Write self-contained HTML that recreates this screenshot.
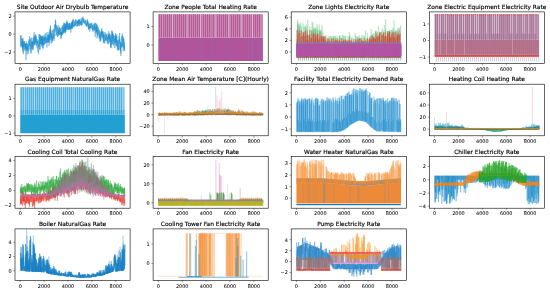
<!DOCTYPE html><html><head><meta charset="utf-8"><style>html,body{margin:0;padding:0;background:#fff}svg{display:block}text{font-family:"DejaVu Sans","Liberation Sans",sans-serif;fill:#000;stroke:#000;stroke-width:0.15px;text-rendering:geometricPrecision}.k text{stroke-width:0.06px}</style></head><body>
<svg xmlns="http://www.w3.org/2000/svg" width="550" height="294" viewBox="0 0 550 294">
<rect width="550" height="294" fill="#fff"/>
<defs><clipPath id="c0"><rect x="15" y="11.9" width="115.1" height="51.6"/></clipPath><clipPath id="c1"><rect x="153.1" y="11.9" width="115.1" height="51.6"/></clipPath><clipPath id="c2"><rect x="291.2" y="11.9" width="115.1" height="51.6"/></clipPath><clipPath id="c3"><rect x="429.3" y="11.9" width="115.1" height="51.6"/></clipPath><clipPath id="c4"><rect x="15" y="84.2" width="115.1" height="51.6"/></clipPath><clipPath id="c5"><rect x="153.1" y="84.2" width="115.1" height="51.6"/></clipPath><clipPath id="c6"><rect x="291.2" y="84.2" width="115.1" height="51.6"/></clipPath><clipPath id="c7"><rect x="429.3" y="84.2" width="115.1" height="51.6"/></clipPath><clipPath id="c8"><rect x="15" y="156.6" width="115.1" height="51.6"/></clipPath><clipPath id="c9"><rect x="153.1" y="156.6" width="115.1" height="51.6"/></clipPath><clipPath id="c10"><rect x="291.2" y="156.6" width="115.1" height="51.6"/></clipPath><clipPath id="c11"><rect x="429.3" y="156.6" width="115.1" height="51.6"/></clipPath><clipPath id="c12"><rect x="15" y="228.9" width="115.1" height="51.6"/></clipPath><clipPath id="c13"><rect x="153.1" y="228.9" width="115.1" height="51.6"/></clipPath><clipPath id="c14"><rect x="291.2" y="228.9" width="115.1" height="51.6"/></clipPath></defs>
<g clip-path="url(#c0)" fill="none" stroke-linejoin="round">
<path stroke="#1b8ccc" stroke-width="0.400" d="M20.3 47.6l.1-12 .3 .1 .1 10.4 .1-2.4 .1-8.7 .2 1.9 .2 8 0 1.8 .3-9 .1 1.2 .2 7.5 .1-5.6 .1 7.2 .2-8.8 .2 11 .1-10.8 .2 13 .1-14.5 .1 9.6 .2-5.3 .1 11.9 .2-12.8 .2 5.9 .1-3.3 .1 5.5 .2-8.3 .1 5.5 .2-1.7 .2-3.7 0 .7 .2 9.1 .1-7.7 .1 4.6 .3 2.3 .2-6.9 .1 4.9 .1-4 .2 16 .1-17.1 .2 6.2 .1-7.8 .2 9.4 .2-6.4 .1 1.1 .2 9 0-.1 .3-9.2 0 4.8 .2-6.8 .1 8 .2-6.5 .3-.1 .1 9.3 .1-1.7 .1-6.6 .2-5 .2 9.6 0-3.9 .3-5.8 .1-1.7 .1 6.6 .2-9.4 .2 10.2 .1-6.5 .2 9.4 .2-4 .1-6.9 0 1.5 .2 8.9 .3 5.1 .1-9.2 .1 7.9 .2-10.7 .1 7.5 .2-11.3 .1-.4 .1 6.1 .2 3.6 .2-6.5 .1 5.6 .1-5.3 .2 8.8 .1-8 .2 8.3 .2-12.1 .2 4.3 .1 5.4 0 .7 .2-12 .3 1.2 .1 7.4 .1-13 .2 13.2 .1-8.8 .2 8.4 0-.7 .2-4.5 .3-4.6 .1 7.4 .1-5.4 .1 8 .2-10.8 .1 6.9 .2-5.7 .1 7.6 .3-6.5 .1 6.1 .1-2.4 .1 5.6 .2-5 .1 3.2 .3 4 .1-7.1 .1 3.3 .2-5.2 .1 2.8 .1 5.7 .2 4.5 .2-8 0 1.8 .2 7.7 .2 .7 .2-13.8 .1 6.5 .1-12.9 .2 11 .1-8 .3-2.9 .1 11.7 0 3.7 .2-12.9 .2 12.6 .1-14 .3-.5 .1 9.1 .1-8 .2 8.4 .2-8.7 .1 8.7 .1-7.4 .2 6.6 .1-6.8 .1 9.9 .2-9.9 .2 8.9 .1-9 .2 8.1 .1-8.9 .1 12.6 .2-11.4 .1 9.3 .2-7.9 .1 10.2 .3-2.2 .1-10.8 0-.5 .1 9.7 .4-2 .1-5.9 .1 8.1 .2-7.5 .1 5.7 .2-7.5 .1 5 .2-7.4 0 4.8 .2 5.2 .1 .4 .3-6.4 .1 6 .1-5.9 .1 3.1 .2-8 .2 10 .1-3.9 .2 1.1 .2 8 .1-1.4 .1-8.8 .2 5.2 0-8.1 .3 .5 .2 7 .2-10.1 .1 10.9 .1-7.1 .2 6.8 .1-7.7 .1 5.6 .2-6 .1 11.4 .3-.6 .1-10.3 .2 7.6 .1-10.8 .2 8.3 .1-10.9 .2 10.9 .1-13.2 .2 11 .1-12.7 0 .6 .2 10.9 .1-5.6 .1 10.8 .3 1.9 .2-9.8 .1 7.7 .2-8.7 .1 5.9 .2-9 .2 .9 .1 7.9 .1 3.6 .1-5.8 .2 4 .1-8.5 .3-1.9 .1 8.5 .1-.9 .1-9.1 .3 3.7 .1 6.9 .2-5 .1 6.9 0-1.4 .1-7 .3-2.6 .2 6.1 .1-11.8 .1 5.6 .2-5.4 .1 7.6 .2-12.7 .1 7.7 .2-6.4 .1 8.6 .2-4.6 .1 10.6 .3-.8 .1-8.4 0 .4 .2 8.2 .3-2.8 .1-6.7 .1 2 .1 7.9 .3 1.9 .1-10.1 .1 2.8 0 6.8 .5-7.5 0 6 .2 .6 .1-5.2 0 3.6 .2-8.7 .2 8.5 .1-6 .3-.2 .1 6.1 .1 1.3 .1-7.3 .2 6.4 0-6.5 .3 6.6 .2-3.8 .2-2.1 .1 6.8 .1-3.2 .2 7.1 .1-7 .1 6 .2-6.4 .1 4 .2-8.8 .1 7.1 .3 1.3 .1-4.9 .2 4.4 .1-9.7 .2 9.2 .1-7.5 .1-.4 .1 6.1 .2-4.8 .1 5.9 .3-.3 .1-10.5 .1 8.5 .2-7.7 .1 9.6 .1-7.5 .2 6.9 .2-9.8 .2 7.8 0-4.5 .2 5.1 .1-7.3 .2 8 .1-7.9 .2 9.3 .1-7.9 .1 6.4 .2-8.8 .2 6.1 .1-7.3 .2 1.2 .2 7.1 .1-9.8 .2 9.1 .1-4.5 .2 4 .2-7.2 .1 7.5 .1-5.9 .2 6 .2 .5 .1-5 .1-.2 .1 5.5 .2-5.7 .1 4.6 .2-5.9 .1 6.8 .1-6.6 .2 5.1 .2 .4 .2-5.5 .1 6.6 .2-7 .2 6.2 .1-4.6 .2 5 .1-4.6 0 1.1 .2 6.6 .2-1.4 .2-5.6 .1 2.4 .1-5.4 .2 6.1 .1-6.4 .2 6.4 .1-6.9 .2 7.2 .1-9.2 .1 8 .2-6.4 .2 5.3 .1-7 .2 1.4 .2 5.7 0-1.5 .2-6 .2 1.3 .2 6.8 .2-3.7 .1 2.7 0-1 .1-4.1 .3-.2 .1 5.1 .3-1.2 .1-3.6 .1-1.1 .1 5 .3-2.1 .1-4.2 0 .8 .2 6.4 .1-3.8 .1 3.6 .4 .5 .1-5.7 .1 2.7 .2-3.4 .1 3.1 .2-2.3 .3 1.5 0 2.4 .1 1.6 .2-5.5 .1 5.3 .1-5.3 .2 5 .1-5.9 .2 4.5 .1-5 .1 4.5 .2-4.5 .1 4.9 .2-5.1 .2 .9 .2 6 .2-7 .1 5.6 0-.9 .1-3.8 .3-1.2 .2 5.8 .2-3.7 .1 2.5 .1-2.1 .2 3.9 .1-3.3 .1 3.8 .3-1.2 .1-4.9 .1-2 .1 6.8 .2-5.2 .1 5.7 .3-2 .1-5.1 .2 2.5 .1-3.9 .1 .6 .1 5.1 .3 .6 .1-4.1 .1 1.2 .1 3.4 .2-2 .2-2.7 0 .5 .2 3.2 .1-1.4 .3 2.5 .1 .8 .2-2.9 .2-1 .1 4 0 .7 .2-5.1 .2 3.6 .1-2.7 .2 .5 .2 4.6 .1-1.6 .1 2.2 .2-3.5 .2 3.7 0-1.3 .1-4.5 .3-.9 .2 5.2 .1-6 .1 4.9 .2-2.3 .1 4.6 .2-4.9 .1 6.2 .2-3.2 .1 5.2 .2-6.8 .1 6.4 .2 0 .2-6 0 1.5 .1 4 .2-2.3 .1 5.1 .3-1.3 .1-6.3 .2 3.9 .1-3.7 .2 4.2 .1-4.4 .3-1 .1 5.5 .1-.2 .1-5.4 .3 1.2 .1 4.1 .1 .4 .1-4.9 .3-.7 .1 4.9 .2-3 .1 5 .1-4.4 .2 5.1 .1-3.1 .2 4.4 .1-3 0-3.4 .3-1.2 .1 5.2 .2-3.7 .2 4.7 .2-.6 .1-4.3 .1-2.8 .1 7.2 .2-6.1 .1 6.5 .1-3.2 .2 9.9 .3-1.2 .1-13.1 0 1.2 .2 8.5 .2 .8 .2-9.6 .1 8.3 .2-6.4 .1 6.1 .2-7.9 .2 9.7 0-7.2 .2 12.3 .2-10 .1 6.7 .1-10.2 .3 2.6 .1 7.1 0 1.6 .2-8.8 .3-.3 .1 6.1 .1 1 .2-3.9 .1-1.2 .2 9.1 .1-1.1 .1-7.2 .2 .1 .2 7.9 .1-5.3 .2 8 .1-6.3 .1 7.4 .2-8.1 .1 5.6 .2-8.1 .1 9.6 .3-2.7 .1-6.6 .2 2.7 .1-4.6 0-.8 .2 8.3 .2-8.7 .1 8 .3 1.8 .1-7.2 .1 6 .2-5.6 0 1.8 .2 6.1 .2-.3 .1-6.6 .2 10 .2-8.6 .1 8.4 .1-10.7 .3 .6 .1 8.7 0 2.8 .2-8.8 .3 .3 .1 7.3 0 .7 .2-10.8 .3 .1 .1 7.8 .1 .2 .1-5.8 .3-1 .1 7.3 .2-7.1 .1 5.7 0-.5 .1-4.4 .3 1.1 .2 5.2 .1-4.8 .2 6.8 .2 0 .1-5.6 .2 6.6 .1-8.4 .1-1.9 .1 4.9 .3 5.8 .1-10.2 .2 5.4 .1-7.9 .1-.8 .1 6.3 .2 4.9 .2-7.9 .1 4.5 .1-5.6 .2 8.6 .2-6.9 .1 8.4 .1-6.7 .3-.8 .1 7.5 .1 3.4 .1-9.9 .1 11.5 .2-13.8 .1 13.4 .2-9 .1 6.3 .2-12.9 .2-1.9 .2 11.5 .2-10.3 .1 7.5 .1-7.2 .2 12.5 .1-10.7 .2 10.7 0-2.5 .3-5.3 .1-2.9 .2 12 0 .1 .3-10.1 .3 5 0-5.6 .1 1.5 .1 6.6 .2-4.2 .1 6.1 .3 3 .1-10.4 .2 7.9 .1-9.1 .1 6.7 .2-10 .2 8.8 .1-7 .1 7.3 .2-5.9 .1 8.9 .1-8.3 .2 9.5 .1-8.7 .3-3.4 .1 12.3 .2-5.9 .1 9 0 .2 .2-10 .3 .8 .1 9.3 .2-8.3 .1 8.7 0 .5 .2-9.7 .3-1.5 .1 9.9 0-3 .2-10.4 .1 5.7 .1-5.7 .3-3.2 .1 11.2 .2-5.8 .1 10.7 .1-7.2 .2 8.8 .1-9.3 .2 11.9 .1-9.7 .2 12.5 .3-3.2 .1-9.2 .1 3.8 .2-11.3 .1 .3 .1 10.2 .2-1.4 .2-12 0 2.9 .1 9.5 .3 .8 .2-11.1 .1 11.9 .1-10.3 .2 14.2 .1-12.4 .3-.8 .1 9.2 .1 1.5 .1-9.6 .3 3.8 .1 7.8 0-1.5 .2-6.8 .1 8.3 .1-5.2"/>
</g>
<rect x="15" y="11.9" width="115.1" height="51.6" fill="none" stroke="#000" stroke-width="0.600"/>
<path d="M20.23 63.5v1.72M44.12 63.5v1.72M68.01 63.5v1.72M91.9 63.5v1.72M115.79 63.5v1.72M15 52.1h-1.72M15 34.1h-1.72M15 16.1h-1.72" stroke="#000" stroke-width="0.393"/>
<g class="k" font-size="4.917" text-anchor="middle"><text x="20.23" y="70.68">0</text><text x="44.12" y="70.68">2000</text><text x="68.01" y="70.68">4000</text><text x="91.9" y="70.68">6000</text><text x="115.79" y="70.68">8000</text></g>
<g class="k" font-size="4.917" text-anchor="end"><text x="11.56" y="53.97">−2</text><text x="11.56" y="35.97">0</text><text x="11.56" y="17.97">2</text></g>
<text x="72.55" y="8.95" font-size="5.900" text-anchor="middle">Site Outdoor Air Drybulb Temperature</text>
<g clip-path="url(#c1)" fill="none" stroke-linejoin="round">
<path fill="#b0549c" stroke="none" d="M158.33 60.91H262.96V37.47H158.33z"/>
<path stroke="#8a70c4" stroke-width="0.400" d="M162.78 59.98V38.03M172.81 59.98V38.03M200.9 59.98V38.03M211.51 59.98V38.03M229 59.98V38.03M248.49 59.98V38.03M252.22 59.98V38.03M252.5 59.98V38.03M261.1 59.98V38.03M261.39 59.98V38.03"/>
<path fill="#d6a0c0" stroke="none" d="M158.33 37.47H262.96V14.22H158.33z"/>
<path fill="#b45c98" stroke="none" d="M158.64 37.47H160.03V14.22H158.64zM160.65 37.47H162.03V14.22H160.65zM162.94 37.47H164.04V14.22H162.94zM164.66 37.47H166.05V14.22H164.66zM166.67 37.47H168.05V14.22H166.67zM168.68 37.47H170.06V14.22H168.68zM170.68 37.47H172.07V14.22H170.68zM172.98 37.47H174.08V14.22H172.98zM174.7 37.47H176.08V14.22H174.7zM176.7 37.47H178.09V14.22H176.7zM178.71 37.47H180.1V14.22H178.71zM180.72 37.47H182.1V14.22H180.72zM182.72 37.47H184.11V14.22H182.72zM184.73 37.47H186.12V14.22H184.73zM186.74 37.47H188.12V14.22H186.74zM188.74 37.47H190.13V14.22H188.74zM190.75 37.47H192.14V14.22H190.75zM192.76 37.47H194.14V14.22H192.76zM194.76 37.47H196.15V14.22H194.76zM196.77 37.47H198.16V14.22H196.77zM198.78 37.47H200.16V14.22H198.78zM201.07 37.47H202.17V14.22H201.07zM202.79 37.47H204.18V14.22H202.79zM204.8 37.47H206.18V14.22H204.8zM206.8 37.47H208.19V14.22H206.8zM208.81 37.47H210.2V14.22H208.81zM210.82 37.47H211.34V14.22H210.82zM211.68 37.47H212.2V14.22H211.68zM212.82 37.47H214.21V14.22H212.82zM214.83 37.47H216.22V14.22H214.83zM216.84 37.47H218.22V14.22H216.84zM218.84 37.47H220.23V14.22H218.84zM220.85 37.47H222.24V14.22H220.85zM222.86 37.47H224.24V14.22H222.86zM224.86 37.47H226.25V14.22H224.86zM226.87 37.47H228.26V14.22H226.87zM229.16 37.47H230.26V14.22H229.16zM230.88 37.47H232.27V14.22H230.88zM232.89 37.47H234.28V14.22H232.89zM234.9 37.47H236.28V14.22H234.9zM236.9 37.47H238.29V14.22H236.9zM238.91 37.47H240.3V14.22H238.91zM240.92 37.47H242.3V14.22H240.92zM242.92 37.47H244.31V14.22H242.92zM244.93 37.47H246.32V14.22H244.93zM246.94 37.47H248.32V14.22H246.94zM248.94 37.47H250.33V14.22H248.94zM250.95 37.47H252.05V14.22H250.95zM252.96 37.47H254.34V14.22H252.96zM254.97 37.47H256.35V14.22H254.97zM256.97 37.47H258.36V14.22H256.97zM258.98 37.47H260.36V14.22H258.98zM261.56 37.47H262.37V14.22H261.56z"/>
<path fill="#f2e4ec" stroke="none" d="M172.55 37.29H173.07V14.22H172.55z"/>
<path fill="#f2e4ec" stroke="none" d="M200.64 37.29H201.17V14.22H200.64z"/>
<path fill="#f2e4ec" stroke="none" d="M228.73 37.29H229.26V14.22H228.73z"/>
<path fill="#f2e4ec" stroke="none" d="M251.96 37.29H252.48V14.22H251.96z"/>
<path fill="#f2e4ec" stroke="none" d="M186.88 37.29H187.41V14.22H186.88z"/>
<path fill="#f2e4ec" stroke="none" d="M215.55 37.29H216.07V14.22H215.55z"/>
<path fill="#f2e4ec" stroke="none" d="M241.35 37.29H241.87V14.22H241.35z"/>
</g>
<rect x="153.1" y="11.9" width="115.1" height="51.6" fill="none" stroke="#000" stroke-width="0.600"/>
<path d="M158.33 63.5v1.72M182.22 63.5v1.72M206.11 63.5v1.72M230 63.5v1.72M253.89 63.5v1.72M153.1 45.1h-1.72M153.1 26.5h-1.72" stroke="#000" stroke-width="0.393"/>
<g class="k" font-size="4.917" text-anchor="middle"><text x="158.33" y="70.68">0</text><text x="182.22" y="70.68">2000</text><text x="206.11" y="70.68">4000</text><text x="230" y="70.68">6000</text><text x="253.89" y="70.68">8000</text></g>
<g class="k" font-size="4.917" text-anchor="end"><text x="149.66" y="46.97">0</text><text x="149.66" y="28.37">1</text></g>
<text x="210.65" y="8.95" font-size="5.900" text-anchor="middle">Zone People Total Heating Rate</text>
<g clip-path="url(#c2)" fill="none" stroke-linejoin="round">
<path stroke="#3cb460" stroke-width="0.300" opacity="0.75" d="M296.5 56.6l.2 1.4 .2-19.2 .1 19.5 .1-28.3 .2 27.9 .2-38.2 .1 38.1 .1-34.1 .1 34.1 .2-35.9 .1 36.3 .3-.1 0-1 .3 .9 .1-34 .1-.4 .1 34.4 .2-33 .1 33.3 .2-31.6 .1 31.1 .2 .1 .2-33.5 .1 .3 .1 33.1 .4-1 0 .9 .2 0 .1-35.7 0 6.7 .1 29 .4 .1 .1-21.4 .1 21.3 .1-31.7 .2 32 .1-22.2 .2 22.2 .2-1.5 .2 1.2 0-.9 .4-24.4 0 26.1 .1-.6 .1-34.6 .2 13.6 .2 21.4 .2-20.7 .1 20.4 .1-30.6 .1 30.6 .2 0 .2-1.2 .3 1.2 0-26.7 .1-5.5 .1 31.8 .4 .3 0-31.7 .1-.1 .1 31.5 .2-30.1 .1 30.2 .1-28.5 .2 28.9 .3-.1 .1-1 .1 1.1 .1-33.2 .2-.1 0 32.8 .2-24 .1 24.4 .4-.3 .1-38.1 .1 38.3 .1-19.4 .2 19.6 .2-1.3 .1 .3 .2 .9 .1 .1 .1-24.3 .3 4.5 .1 19.5 .2-23.4 .1 23.3 .1 .1 0-30.3 .3-1.2 .2 31.7 .2 0 0-.9 .3-.1 .1 .8 .1-28 .1 28.4 .2-28 .1 27.6 .3 .1 .1-25.4 .2 25.3 .1-29.1 .1-6.6 .1 35.7 .1-.9 .3 1.3 .1-.4 .2-35.4 0 5.9 .1 29.5 .3-.1 .2-28.4 .1 28.5 .2-29.1 .1 29.3 .2-30.9 0-.3 .2 31.1 .3-.1 .1-1.2 .1 1 .1-29.7 .2 29.9 .1-29.2 .2 29.2 0-27.6 .3 27.7 .1-29.7 .3 2.3 .1 27.6 .1-1.3 .1 1.2 .1-.1 .2-1.1 .3-32.7 0 33.7 .3-30.6 .1 30.6 .2 0 .1-27.2 .1 .6 .1 26.8 .2-27.7 .2 27.7 .1-1.4 .1 1.4 .2 0 .2-17.2 .2 17.1 .1-28.3 0-5 .2 33 .3 .2 .1-28.6 .1 28.5 .2-27.7 .1 .2 .1 27.9 .2-1.3 0 1 .4-19.4 .1 19.4 .2 .1 0-27.2 .2 27.1 .1-27.5 .3 1.2 .1 26.1 .1 .4 .1-32.9 .2 31.8 .1 1.1 .2-.1 0-1.2 .3 1.1 .1-18.7 .2-6.3 .2 25.2 .1-20.2 .1 20.2 .2-21.2 .1 21.4 .2-20.4 .1 20 .2-1 .2 1.3 .1 .2 .2-22.4 .1 .4 .1 21.5 .2-18.2 .2 18.6 .2-.5 .1-23 .1-.2 .1 23.2 .2-17.2 .2 17.6 .2-1.2 .1 1.2 .2 .1 0-17.2 .2 16.9 .2-17 .1 17 .1-16.9 .2 17.2 .1-20.3 .2 19.9 .1-22.2 .2 21.5 0 .7 .3-1.2 .1 1.5 .2-.2 .1-20 .3 .4 0 19.5 .2 0 .1-21.3 .3 2.6 .1 18.6 0 .1 .2-22 .2 21 .2 1.3 .1-.1 .2-18.7 .2 18.7 .1-21.9 .1 .1 .1 21.6 .1-20.1 .2 20.1 .2-.1 .2-19.6 .1 1.5 .1 18.3 .3-1 .1 1 .1 .1 .1-21.2 .3 21.1 0-22.4 .1 .2 .1 22.9 .3-1 .1-21.2 .4 7.1 0 14.4 .1-.1 0-1 .3-.1 .2 1.1 .1 .2 .1-22.1 .3 5.5 .1 16.6 .2-22.2 .1 22 .1-16.1 .2 16.2 .1-17.9 .1 17.8 .1-.9 .3 1 .2-.8 .1 .8 .2-22.1 .1 22 .1-18.8 .1 19 .3-.3 .1-20.1 .1 .1 .1 20 .2-18.4 .1 18.9 .2-.3 .1-1.1 .3 1.1 .1-14.5 .1 14.6 .2-22.1 .1 21.8 .2-22.1 .2 22.4 0-22.4 .1 .2 .1 22.2 .2-1.2 .2 1.2 .3-1.2 0 1.1 .2-.6 .1-19.8 .2 20.5 0-19.9 .3 19.7 .1-13.3 .2 13.2 .1-15.6 .3-7.3 .1 23 .3 .1 0-1 .2-.3 0 1.4 .3-22.6 .1 22.5 .2-15.9 .1 15.9 .2-.2 .1-21.9 .1-.4 .2 22.7 .1-20.8 .2 20.6 .1-1.2 .2 1.2 .1 0 .2-21.8 0-.1 .1 21.9 .3-16.6 0 16.8 .3-.4 .2-22 .1 3.2 0 18.7 .2-16.2 .2 16.5 .3-1.2 .1 1.3 .1-.5 .1-17.1 .1 17.6 .3-16 .2-1.4 .1 17.3 .2-21.5 .1 21.3 .2-13.5 .1 13.8 .2-.2 0-1.3 .3-.1 .1 1.7 0-.3 .1-21.8 .3 21.9 .1-25.6 .2 7.7 .1 17.8 .3 .1 .1-22.1 .1-.3 .1 22.5 .3 .2 .1-1.5 .1 1.1 .2-14.7 .2 14.7 .1-16.1 .1 16.4 .2-20.2 0 .5 .1 19.5 .4 .2 .1-20.8 0 .1 .1 20.5 .3 .1 .1-1.2 .2 1.2 .2-16.5 .1 16.6 .2-12.9 0 12.5 .2-17.4 .3 4.2 .1 13.5 0-.4 .3-18.9 .1 18.3 .1 .9 .2-1.1 .2 1.2 .2-24.6 .2 4.8 .2 19.5 .2-21.6 0 21.7 .1 .1 .2-18.8 .2-2.4 .2 21.2 .1-.1 .1-1 .2 1 .2-15.3 .2 15.5 .1-20.6 .1-.6 .2 20.7 .2 0 .1-20.4 .1 20.7 .2-21.8 .1 0 0 22 .3 0 .1-1 .2 .9 .1-19.6 .2 19.4 .2-19.7 .1 19.9 .1-22.3 .3 6.6 .1 15.7 .1 0 .1-15.9 .3 15 .1 .7 .3-.9 0 1.1 .2-20.2 .1 20.1 .1-17.1 .2 17.1 .2-20.1 .1 20.3 .2-23.4 0 23.5 .2-13.6 .1 13.8 .2-.3 .1-1.3 .3 1.4 .1-17.7 .1-.4 .2 17.8 .2 .4 .1-16.4 .2 16.3 .1-22.5 .1 .1 0 22.2 .2-21.7 .1 21.6 .3 .1 .1-1.2 .2 .9 .1-17.3 .3 17.5 .1-27.2 0 5.3 .1 22.1 .2-.1 .3-19.3 .1 19.3 .1-19.1 .2 18 .2 1.2 .3-1.1 0 .7 .1 .3 .1-16.9 .2 16.7 .1-25 .2 25.1 0-20.2 .2 20.2 .2-16.8 .2-.4 .1 17.5 .3-.4 .1-.8 .1-.1 0 1.1 .4-19.4 .1 19.4 .3-.2 0-20.6 .1-.5 .1 21.4 .3-.4 .1-21.6 .1-.4 .2 22.4 .2-.1 .1-.8 .1 1.1 .2-29.3 .1 6.1 .1 23 .2-.3 .2-17.7 .1 17.9 .1-20.2 .2 20 .2-24.1 .1 24.5 .1-1.2 .2-.2 .2 1.2 .1 .4 .1-21.5 .2 21.1 .1-22.7 .3-2.2 .1 24.9 .2-23.8 .1 23.9 .2-22 .1 21.9 .2-.1 0-.9 .1 1 .2-1 .2-18.5 .1 19.1 .3-25.7 .1 26 .1-26.9 .1 27 .2-27.3 .2 27.2 .1-18.5 .1 18.5 .4 .1 0-1.2 .2 1.3 .1-26.4 .1 0 0 26.3 .3-20.4 .1 20.3 .2-18.9 .1 18.7 .3 .4 .1-31.6 0 10.1 .3 21.9 .1-1.7 .2 1.2 0-.1 .2-16 .3 16.2 .1-22.6 .1 22.3 .1-25 .2 25.7 .1-25.9 .2 7.2 .2 18.1 .2 .2 0-1.4 .2 1.1 .2-.9 .1-24.2 .2 25.8 .2-27.2 .1 26.4 .1-21.8 .1 22 .2-25.4 .1 25.7 .2-29.6 .2 29.4 .1 .1 .1-1.1 .3 1.1 .1-16.7 .2 16.5 .1-25.4 .3 25.7 0-26.7 0-.7 .2 27.3 .3-.2 .1-32.8 .1 10.2 .1 22.7 .1-1.1 .3 1.1 .2 .2 .1-21.3 .2 21.1 .1-28.4 .1 28.4 .1-38.8 .4 22.2 0 16.6 0-.1 .1-15.1 .3 13.7 .2 1.5 .2-1 .1 1.1 .2-27.1 .1 27.3 0 .1 .2-26.3 .2 25.8 0-23.1 .4-3.3 0 26.3 .2-24.9 .2 25.1 .2 .1 .1-1.3 .3 1.4 0-28.5 .1-.1 .2 28.2 0-27.1 .2 27.3 .1-26.1 .1 25.9 .4-.1 .1-27.5 .1 0 0 27.8 .3-1.1 0 .9 .3 .2 .2-25.7 .2 25.7 0-27.9 .1 .7 .1 27.5 .3-.5 .1-19.5 .2 19.6 .1-29.9 .2 30.1 .1-.9 .2 .9 .1-.9 .1 .7 .1-25.8 .2 25.8 .1-28.9 .4 6.8 .1 22.3 .2-37.6 0 37.4 .2-24.2 .2 24.5 .1-.2 .2-1.1 .1 1.1 .2-26.4 .1-.7 .2 26.9 .2 .1 .1-27.3 .1-.2 0 27.4 .3-.1 .2-27.3 .1 .4 .1 27.2 .3 .1 .1-1.3 .1 1.3 .2-25.7 .2 25.3 .1-28.8 .1 4.1 0 24.8 .2-23.6 .1 23.8 .3-.2 .1-29.8 .3 28.9 .1 1.1 .1-.2 .1-.9 .2 1.1 .2-22.4 .1 22.2 .1-28.5 .2 28.8 0-30.1 .3-.3 .2 30.2 .2-32.2 0 32.1 .3 .2 .1-.9 .1-.3 .1 1.1"/>
<path stroke="#4a8a80" stroke-width="0.500" d="M298.44 57.51V60.81M300.45 57.51V60.81M302.45 57.51V60.81M304.46 57.51V60.81M306.47 57.51V60.81M308.47 57.51V60.81M310.48 57.51V60.81M312.49 57.51V60.81M314.49 57.51V60.81M316.5 57.51V60.81M318.51 57.51V60.81M320.51 57.51V60.81M322.52 57.51V60.81M324.53 57.51V60.81M326.53 57.51V60.81M328.54 57.51V60.81M330.55 57.51V60.81M332.55 57.51V60.81M334.56 57.51V60.81M336.57 57.51V60.81M338.57 57.51V60.81M340.58 57.51V60.81M342.59 57.51V60.81M344.59 57.51V60.81M346.6 57.51V60.81M348.61 57.51V60.81M350.61 57.51V60.81M352.62 57.51V60.81M354.63 57.51V60.81M356.63 57.51V60.81M358.64 57.51V60.81M360.65 57.51V60.81M362.65 57.51V60.81M364.66 57.51V60.81M366.67 57.51V60.81M368.67 57.51V60.81M370.68 57.51V60.81M372.69 57.51V60.81M374.69 57.51V60.81M376.7 57.51V60.81M378.71 57.51V60.81M380.71 57.51V60.81M382.72 57.51V60.81M384.73 57.51V60.81M386.73 57.51V60.81M388.74 57.51V60.81M390.75 57.51V60.81M392.75 57.51V60.81M394.76 57.51V60.81M396.77 57.51V60.81M398.77 57.51V60.81M400.78 57.51V60.81"/>
<path stroke="#dc3c30" stroke-width="0.280" d="M296.5 58l.2-1 .1 .4 .1-26.6 .2-.6 .2 27.4 .1-16.7 .1 16.5 .2-22 .2 21.8 .1-27.6 .2 28.3 .2 .4 0-1 .2 .8 .2-24.9 .1 .1 .2 23.9 .1 .1 .2-26.3 .1-.1 .2 26.6 .1-.1 .2-24.1 .1 .1 .2 24.6 .1 0 .1-.6 .2 .6 .2-21.1 .1 20.5 .2-27.4 .2 27.3 .1 .2 .3-25.9 .3-.2 0 25.9 .1-.2 .2 .9 .1 .1 .1-.7 .2-.1 0-21.3 .2 21.4 .2-23.2 .2 23.3 .1-25.2 .3 4.1 .1 21.1 .1-25.4 .2 25.6 .3 .4 0-.7 .1 .7 .2-21.8 .3 21 0-26.4 .1 0 .1 26.5 .3 0 .1-25.4 0-.1 .2 25.3 .2-17.3 .1 18.1 .3-.1 0-.6 .1 .9 .3-23.1 .1 22.3 .2-27.2 .1 .1 0 27.1 .2-22.5 .1 22.5 .3 .1 .1-21.7 .2 21 0 1.2 .3 .1 .1-.8 .1 .5 .2-17.5 .1 17.1 .2-21.2 .2 21.1 .1-27.3 .3 6.6 .1 20.9 .2-22.8 .1 23.2 .1 .1 .2-.7 .1 .8 .2-1.2 .2-18.7 .1 19.2 .1-19.7 .2 19.6 .2 .1 .1-19.4 .2 19.3 .1-26.7 .1 0 .1 27.4 .3-.7 0 .8 .2-.1 .2-23.3 .1 22.4 .4 .4 .1-24.9 0 .4 .2 24.5 .1-23.8 .1 23.6 .2-23.4 .1 24 .3-.4 .1 .4 .2 .2 .1-19 .2 18.5 .1-18.8 .3-3.3 .1 22 .2-21.8 .1 21.7 .2-24.4 .1 24.9 .1-.7 0 .8 .3 .2 .2-1 .2-18.5 .1 18.7 .2-22.6 .1 22.6 .1-23.1 .2 23.1 .1-23.7 .1 23.8 .2-19.4 .2 20 .1-.8 .2 .6 .1 0 .2-17.5 .2 17.1 .1-22.8 .1-.1 .1 22.9 .2-19.3 .1 19.3 .2-.1 .2-25.8 .1 .1 .2 26.2 .2 .2 .1-.7 .1 .6 .1-22.4 .4 4.9 0 17 .1 0 .1-21.6 .1 21.4 .1-20.2 .3 20.4 .1-21.3 .2 21.1 .2 .7 .2 0 .1-1.1 .1-20.8 .2 21.2 .2-18.4 .1 18.5 .2-19.2 .1 19 .1-21.3 .1 21.3 .2-20 .1 20.8 .2-.2 .2-.4 .1 .6 .2-22.1 .1-.1 0 21.6 .4 0 .1-17.5 .2 17.3 .3 0 .1-19.6 .1-.1 .1 20.4 .2 .2 .2-.7 .1 .6 .1-14.7 .2 14.1 .1-15.1 .2 15 .2-11.3 .1 11.3 .1-18.3 .2 18.5 .1-19 .1 18.6 .2 .8 .4 0 0-.6 .1-16.5 .2 16.8 .1-.1 0-18.2 .4 .4 .1 17.5 0 .1 .1-14.9 .3-1.2 .2 16.7 .2-.6 0 .7 .3 .1 .1-13.5 .3 12.8 0-14.3 .3 14.3 0-18.8 .1-.3 .1 18.9 .2-15.9 .1 16.2 .2-14.5 .1 14.9 .2-.6 .2 1 .1-.4 .1-18.7 .1 .1 .2 18.1 .2 0 .2-19 .1 19.1 .1-16 .3-.7 .1 16.5 .1-.2 0 .9 .2 .2 .2-.7 .1 .6 .2-20.1 .2 19.2 .1-16.3 .2 16.5 0-14 .3-3 .2 17 .1-17.5 .2 17.9 .1 .2 0-.6 .3 .5 .2-1.2 0-18.7 .2 19.4 .3 0 .1-16.6 0-.3 .2 16.9 .1-16.1 .2 16.1 .2-15 .2 15.6 .1 0 0-.8 .3 .7 .2-17.3 .2 17 .1-16.9 .1 16.7 .2-18.3 0 .1 .2 18.3 .1-14.9 .1 14.7 .2-.4 .2 1.1 .2 .2 0-.9 .2 .3 .2-16.5 .2 16.3 .1-19.5 .3 .4 .1 19.2 .2-16.4 .1 16.3 .2-15.9 .1 16.2 .2-.5 .1 .9 .2-.1 .1-.9 .1-18.2 .1 18.5 .3-16.7 0 16.5 .2-16.3 .2 16.6 .2-.1 .1-17.3 .1 0 .2 18.2 0-.9 .2 .5 .1 .1 .3-13.6 .2 12.9 .1-16.7 .2 16.9 .1-17.4 .1 17.2 .2-18.3 0 .4 .1 18.2 .2-16.8 .3 17.1 .1-.5 .1 .7 .2 0 .2-15.5 0 14.8 .2-15.3 .2 15.6 .1-16.8 .3 .6 .1 15.9 .2-17.2 .1 17.4 .2-.2 .1 .6 .2 .1 .1-1.1 .1-16.9 .1 17.2 .2-16.5 .2 16.7 .1-19.7 .2 19.9 .2-.3 .1-16 .1-.4 .1 16.9 .3-.1 0-.5 .3 .6 .1-17.6 .2 17.2 .1-17.9 .1-.1 .1 17.7 .2-15.8 .1 15.9 .1-14.4 .1 14.4 .2-13.5 .2 14 .2 .2 .2-.8 .1 .7 .2-13.5 .2 12.9 0-18.6 .3 5.9 .1 12.6 .1 .4 .1-12.4 .2 12.3 .1-14.5 .1 15 .3-.9 .2 .8 .1-.9 .1-11.3 .2 11.5 0 .2 .1-16.1 .3-1.7 .1 17.8 .3-13.1 .1 13 .1-18 .2 18.6 .1-.5 0 .7 .4-.2 .1-16.6 .2 16.1 .1-17 .1 0 .1 17 .3 0 .1-18.7 .1 .3 .1 18.3 .2-15.7 .1 16.3 .1-.6 .1 .5 .3 0 .2-19.1 0 .7 .2 18 .2-.2 .1-13.1 .2 13.2 .2-17.8 .1 17.7 .2-19.1 0 18.7 .3 1.2 .1-.5 0 .6 .4-14.5 .1 13.8 .1 0 .1-16 .2-1.1 .2 17.1 .1-18.6 .2 18.6 .1-16.3 .2 16.9 .1-.6 0 .5 .4 0 .1-16.5 .1-.4 .1 16.6 .2-16.4 .1 16.1 .2 .1 .2-15.2 .2 15 .1-19.3 .1 0 .2 20 .2 0 .1-.5 .1 .7 .2-14.5 .1 13.8 .1-16.8 .1 .2 .1 16.5 .2-13.8 .2 13.8 .1 0 .2-16.7 .1 16.4 .2 .9 .3 .1 0-.8 .1 .3 .1-15 .3 14.9 0-19.4 .4 3.1 .1 16.3 .1-17.7 .3-.3 .2 18.5 .2-.8 0 1 .2 0 .2-1.2 .3 .5 0-18.2 .2 18.1 .1-19 .2 19.1 .1-19.6 .1-.4 .1 19.9 .2-17.6 .1 18.3 .1-.8 .2 .8 .2-.1 .2-18.7 .1 0 .1 18.3 .2-.2 .1-21.4 .2 21.5 .2-22 .2 21.9 .1-21.8 .1 21.5 .1 .9 .3-.5 .1 .8 .1-.5 .2-20.5 .1 20.4 .1-19.7 .4-.1 0 19.5 .2-18.2 .1 18.3 .1-19.5 .2 19.9 .1-.6 .1 .8 .3 .1 .1-1.3 .1-18.2 .2 18.7 .1-18.2 .2 18.2 .2 .1 .1-23 .2-.4 .1 23.2 .1-20.9 .2 21.8 .2-.8 .1 .8 .2-.2 .1-24.9 0-.3 .2 24.7 .2-.2 .2-20.5 .1 20.7 .2-21.4 .1 21.5 .1-22.3 .1 .2 .2 22.6 .1 0 .1-.7 .2 .5 .2-20.6 .2 20.4 .2-24.6 0 24.3 .2-25.3 .2 25.5 0-16.5 .3-9.1 .2 25.9 .1-.5 .1 .8 .1-.1 .3-1 .2-17.1 .1 17.5 .1-16.7 .2 16.6 .1-22.9 .2 22.9 .3 0 0-21.5 .1-.4 .1 22.5 .2-.5 .2 .7 .1-.1 .2-23 .2 22.4 .1-24.5 .1 .1 .2 24.3 .2 0 .1-25 .1 .1 .1 25.1 .1-21.3 .3 21.8 .2-.7 0 .8 .1-.1 .3-21.6 .1 21.1 .2-25.1 0 25.1 .3-21.3 .2 4.1 .1 17.3 .2-21.9 .1 21.7 0-.5 .2 1.1 .4 .3 0-1.2 .1-18.3 .2 18.5 .2-23.7 0 23.8 .2-25.8 .2 25.8 .2-18.3 .1 18.4 .1-26.2 .2 26.7 0-.7 .3 .6 .2 0 .1-23.8 .3 23.3 0-25.7 .1 0 .1 25.8 .2-25.1 .1 25 .2-20.7 .1 20.8 .1-20.1 .2 20.6 .2-.6 .2 .6 .1 0 .1-20.1 .2 19.5 .2-22.2 0 .2 .1 22 .3-.1 .2-23.5 .1 23.5 .2-26.1 .1 25.9 .2 .8 .2 0 .1-.5 .2-24.8 .1 24.8 .1 0 .1-20.7 .2 20.6 0-22.6 .4-2.9 .1 25.6 .2-21 .1 21.3 0-.3 .3 .6 .2 0 .1-20 .2 19.6 .1-25.6 .1-.2 .1 25.8 .4-.3 0-18.9 .2 18.9 .1-24.2 0-.2 .2 25.3 .3-.8 0 .8 .2-.1 .2-22.3 .2 21.5 .1-22.2 .1 22.3 .2-22.2 .1 22.3 .1-23.7 .2 23.8 .1-26.6 .2 26.1 0 .9 .5 0 0-.7 0 .5 .2-23.5 .1 23.3 .2-17.3 .3-5.4 .1 22.5 0-.2 .2-24.1 .3 1.3 .1 23.7 .2 0 .1-.8 .2 .7 0-.6"/>
<path stroke="#8c78c0" stroke-width="0.350" d="M296.4 56.3l.2-13.4 .2 13.4 0-13.7 .4-.1 0 13.7 .1 0 .1-12.8 .3-.6 .1 13.4 .2-13.3 .2 13.4 .2-13.9 0 13.9 .2-13.2 .1 13.3 .4 0 0-14.3 .1 0 .1 14.1 .2-13.6 .1 13.7 .3-.1 .1-13.8 .1 .1 0 13.9 .3 .2 .2-13.7 .1 13.5 .1-13.5 .2 13.4 .1-14 .1 .4 .1 13.7 .2 .2 .3-13.5 .1 13.2 .1-13.6 .3 .5 .1 13.1 .2-14.2 .1 14.1 .2-13.7 .1 13.8 .2-13.9 .1 13.9 .2-13.4 .1 13.7 .1-13.5 .2 13.3 .1-.1 .1-14 .3 .1 0 13.8 .3-14.2 0 14.3 .2-14.3 .2 14.4 .2-.1 .1-13.8 .1-.1 .1 13.9 .3 .2 .1-14 0-.1 .2 13.9 .2-13.7 .1 13.7 .3 .2 .1-14.2 .1 .2 0 13.7 .2-13.6 .2 13.9 .3-.1 .1-13.2 .1 13 .2-14.1 .1 14.1 .2-14 0 14.1 .3-13.4 .2-.3 .1 13.6 .2-13.3 .1 13.3 .1 .1 .1-13.2 .2 13.3 .1-13.5 .3 .2 .1 13.3 .1-.2 .1-14.2 .2 1.1 .1 13.2 .3-13.6 .1 13.7 .3-.1 0-13.2 0-.6 .2 13.9 .3-.1 .1-14 0-.1 .2 14.1 .1-13.8 .2 13.9 .3 0 .1-13.8 .2 13.8 .1-14.4 .1-.5 0 14.9 .2-14.2 .2 14.2 .2-.2 .2-14.3 0 .3 .2 14 .2 .2 .2-14.3 .1 14.1 .2-13.7 0 13.8 .2-13.7 .2 13.7 .1-13.7 .2 13.6 .1-13.9 .3 .1 .1 14 .1-14.4 .2 14.2 .1 .2 0-13.3 .4 0 0 13.2 .1 .1 .1-14.1 .3 .4 .1 13.7 .2-13.6 .2 13.6 .1-13.4 .1 13.3 .2-13.3 .1 13.5 .2-.1 .2-14.1 .1 14 .2-14.1 .1 14.2 .1-14.2 .3 14.2 .1-14.6 .1 .4 .1 14.1 .2 .2 .2-13.8 0 .2 .1 13.4 .3 .1 .1-14.3 .1 14.2 .3-14.4 .1 14.4 .1-14.3 .3 1.3 .1 13 .2-13.8 .1 14 .2-14.4 .2 1.1 .2 13.2 .1-14.6 .2 14.5 .2-13.8 .1 13.8 .1-14.3 .2 14.4 .2-13.2 0 13 .3-14.3 .1 14.3 .2 .2 .1-14.4 .1 .2 .1 14.1 .2-14.3 .1 14.3 .2-.1 .2-14.2 .1 .2 .1 14.2 .2-14.1 .1 14 .2-13.3 0 13.2 .4 .2 .1-14 .2 13.8 .1-14 .1 14.2 .2-14.3 .3 .4 0 13.8 .1 .2 .1-13.5 .4-.1 0 13.6 .1-.2 .1-13.9 .2 .8 .2 13.1 .2-13.3 .1 13.2 .2-13 .1 13.1 .1-14.2 .2 14.3 0-.2 .2-14.2 .3 .9 .1 13.4 .1-13.6 .1 13.5 .2-13.8 .2 13.9 .1-13.7 .1 13.7 .2-14 .1 13.9 .3 .1 .1-13.7 .1-.2 .1 14.2 .2-.4 .2-14.2 .2 14.3 .2-.1 .2-13.1 .1 13.2 .2-14.3 .2 14.2 .1-14 .2 14.1 .1-14 .1 14 .2-13.8 .1 13.9 .2-14.1 .3 .1 0 14 .1 0 .1-13.4 .3-.8 .1 14.2 .2-13.5 .1 13.5 .1-14.3 .2 14.3 .1-13.5 .2 13.5 .1-14.6 .2 14.8 .1-13.6 .1 13.2 .2-13.9 .1 14.3 .2-13.4 .2 13.2 .2-.2 .1-13.7 .2 13.8 .1-14.1 .1 .3 .2 13.8 .1 .1 .2-13.9 0 .1 .2 13.7 .2-13.5 .1 13.5 .2-.1 .2-13.7 0 .3 .2 13.4 .3 .1 0-14.4 .4 1.3 0 13.3 .1-.1 .1-14.2 .2 14 .2-14 .1 14.3 .1-13.3 .1 13 .2-13.7 .2 13.9 .1-14.6 .2 1.2 .2 13.5 0-.3 .2-13.8 .3 .1 0 13.7 .3-13.2 .1 13.2 .3 .1 0-13.5 .2-.2 .1 13.6 .2 .3 .1-14.3 .1-.1 .1 14.2 .1-13.8 .1 13.7 .2-13.4 .2 13.4 .2 0 .2-13.4 .1 13.6 .2-13.8 .2 13.7 0-14.2 .2 14.2 .2-14.2 0 .2 .2 14.2 .3-.2 .1-13.9 .1 14 .1-13.8 .2 13.8 .2-14.1 .1 13.9 .1-12.9 .1 13 .2-14 .3-.1 .1 14.2 .1-.1 0-13.2 .3-.3 .2 13.4 .1-13.2 .2 13.5 .2-14.2 0 13.9 .2-13.2 .2 13.4 .3-.2 0-13.5 .3 13.6 0-14.1 .1 0 .2 14.4 .1-13.5 .1 13.2 .3 0 .1-13.4 .2 13.4 .1-14.3 0 .3 .2 14 .2 .1 .2-14.2 0 .4 .1 13.6 .4 .1 .1-14 .2 14 .1-14.1 0 14.3 .2-14.5 .3 .6 .1 13.6 .2-13.4 .1 13.7 .3-14.2 0 14.1 .2-13.8 .1 13.8 .2-14.2 .1 14.3 .2-14.1 .1 13.9 .1-13.5 .2 13.6 .1-14.2 .3 .4 .1 13.7 .2-14.1 .2 14 .2 .3 .1-13.3 .1-.3 .2 13.5 .1-.1 .2-13.9 .1-.1 .1 14 .2-14 0 14.1 .4 .1 .1-14.3 .2 14.2 .2-.1 .1-13.5 .1 .2 .2 13.4 .2-.1 .2-13.6 .2 13.7 .1-14.3 .1 14.3 .1-14.3 .4 1 0 13.2 .1 .1 .1-13.3 .1 13.4 .1-13.2 .4-.1 .1 13.2 .1-.1 .1-13.2 .2-.2 .2 13.4 .1-13.9 .2 13.9 .1-14.1 .1 14.3 .2-13.6 .2 13.4 .2-13.7 0 13.7 .2-14.2 .1 14.2 .2-13.6 .1 13.7 .3 0 .1-13.9 0 .1 .2 13.7 .3-.1 .1-14.1 0-.2 .1 14.5 .4 0 .1-13.8 .1 .1 0 13.7 .3-.1 .2-13.1 .1 13 .1-13.3 .2 13.4 .1-13.8 .2 14.1 .1-13.4 .4-.3 0 13.4 .1 0 .1-14 .3 .9 .1 13.1 .2-14.2 .1 14.2 .1 .1 0-14.2 .3 .2 .2 14.1 .1-14.2 .2 14.1 .1-14.3 .2 14.2 .1-13.9 .2 14 .3 0 0-13.9 .1-.4 .1 14.3 .3-.1 .1-14.1 .1-.1 .1 14.3 .2-14.2 .1 14.3 .1-14 .1 13.7 .4 .1 .1-13.6 .2 13.7 .1-13.7 .1 13.6 .2-14.4 .1 14.6 .2-14.2 .1 14.2 .2-14 0 13.9 .2-13.9 .2 13.8 .2-13 .1 13.2 .1-13.6 .1 13.4 .2-13.9 .3 .3 .1 13.5 .2-13.1 .1 13.5 .1-13.4 .1 13 .2-13.1 .2 13.4 .1-13.6 .2 13.4 .1-13.8 .1 13.8 .3-14.1 .1 14.1 .2-14.3 0 14.3 .2-13.5 .2 13.5 .3 0 0-13 .2 13 .1-13.1 .2 13.2 .1-13.7 .1-.1 .1 13.7 .3 .1 .1-14 .2 13.9 .2 0 .2-13.7 0 13.7 .4 .2 .1-13.4 .2 13.2 .1-14.6 .2 14.6 .2-14.3 0 14.3 .2-13.1 .2 13.2 .1-13.7 .2 .6 .2 13 .2-14.2 .1 14.5 .1-.4 .1-14.1 .2 .5 .2 13.7 .1-14.2 .2 14.2 .1-13.7 .1 13.8 .4-.1 0-13.3 .2 13.3 .1-14.2 .1 0 .1 14.2 .3 0 .1-13.5 .2 13.7 .1-13.8 0 .2 .2 13.3 .3 .2 .1-13.9 .1 0 0 13.8 .4-.1 .1-13 .1 13.2 .2-13.4 .1 13.4 .1-13.4 .2 13.4 .2-14.2 .2-.2 .1 14.2 .1 .2 .1-13.1 .2 13.1 .1-13.4 .3 .1 .1 13.1 .1 .1 .1-13.9 .3 .9 .1 12.9 .1-13.3 .2 13.6 .1-14.6 .1 14.5 .2-14.5 .2 14.4 .3 .1 0-14.1 .1 0 .2 14.1 .1-14.3 .1 14.2 .3 .3 .1-14.4 0 .2 .2 13.9 .3-.1 .1-14.1 .1 0 0 14.2 .3 .2 .2-14.5 .1 .2 .1 14.1 .3 0 0-13.7 .1 13.7 .3-13.4 .1 13.6 .2-13.3 .2 13.1 0-14.4 .3 1.4 .1 13 .1-.1 .1-13.3 .2 13.5 .1-13.5 .3-.1 .1 13.6 .2-13.1 .1 13 .1-13.4 .1 13.6 .2-.3 .1-14.4 .1 14.5 .1-13.8 .3 .3 .1 13.6 .3 0 .1-13.9 .2 13.7 .1-14.1 .1 0 0 14.3 .3-14 .1 14 .1-13.6 .2 13.7 .2 0 .2-13.6 .2 13.5 .1-14.1 .2 14 .1-13.8 .2 13.8 .1-14 .1 14.1 .3-.1 .2-14 .2 14 0-13.7 .2 13.7 .2-13.6 .1 13.7 .1-13.3 .1 13.2 .2-13.9 .2 13.9 0-13.6 .4 .5 .1 13.2 .2-14.3 0 14.3 .3-14.3 .1 14.3 .1-13.9 .1 13.8"/>
<path stroke="#aa4e9c" stroke-width="0.350" d="M296.6 52.2l.1 4.2 .2-11.8 .1 11.9 .2-11.5 .1 11.4 .2-4.3 0 4.5 .3-12.4 .1 12.2 .1-4.1 .2 4.2 .1-12.1 .2 12 .1-12 .2 12 .2 0 .1-11.5 .1-.2 .2 11.8 .2-.1 .1-11.3 .2 11.4 .1-12.3 .2 12.2 .1-12.3 .1 0 0 12.6 .4-.2 0-12.2 .2 12.1 .1-12 .2 12 .2-12.1 0 .1 0 11.9 .4 .2 .1-11.5 .2 11.7 .2-11.9 .1 11.5 .2-11.9 .1 12.1 .1-11.8 .2 11.9 .1-12.4 .3 .4 .1 11.8 .1-11.8 .2 11.7 .2-11.4 0 11.6 .3-11.4 0 11.5 .2-12.4 .2 12.1 .3 .2 0-11.7 .2 11.7 .1-12.5 .1 .1 .1 12.2 .2-11.9 0 12.1 .4-.1 .1-11.7 .1-.2 .1 12.3 .2-.4 .2-12 .1-.1 .1 12.2 .2-.1 .1-11.7 .2 11.9 .2-12.5 .1 12.6 .1-12.5 .1 12.2 .2-11.2 .3-1.2 .1 12.4 0 .2 .2-12.3 .3 .1 .1 12 .1 0 .1-12.2 .2 12.3 0-12.5 .3 .9 .2 11.5 .2-12.2 .1 12.3 .1-12.3 .2 12.3 .2-12.3 .1 12.2 .2-.1 .1-11.7 .1 .1 .2 11.7 .1-11.8 .1 11.8 .2-11.9 .1 11.9 .1-11.7 .2 11.7 .3 .1 .1-12.3 .1-.2 0 12.4 .3 .2 .2-12.3 .1 12 .2-11.9 .1 12 .2-12.3 .1 12.5 .3-.2 .1-11.3 .2 11.3 .1-12.2 .2 12.3 .1-11.2 .2 11 .1-12 .2 12.3 .2-12.6 .1 12.4 .1-12.5 .1 12.7 .2-12.6 .2 .9 .2 11.6 .1-11.7 .1 11.7 .3-11.7 0 11.6 .2-12.2 .2 12.4 .2-11.4 .1 11.4 .2-.2 .1-12.4 .1 0 .2 12.4 .3 0 0-12.2 .1 0 .1 12.2 .3 0 .1-11.7 .2 11.8 .1-11.6 .1 11.7 .2-12.3 .1 0 0 12 .3 .3 .2-12.1 .2 11.8 .1-11.8 .1 12 .1-12.1 .2 12.3 .2-11.7 0 11.3 .2-11.8 .2 12.1 .1-12.7 .2 12.6 .1-12.1 .1 12 .1-11.9 .3-.6 .2 12.5 .1-12.5 .2 12.5 .1-11.9 .1 11.8 .2-3.9 .2 4.1 .1-12.3 .1 12.3 .3-.1 .1-11.9 .3 12 0-12.3 .1 0 .1 12.2 .1-12.2 .2 12.3 .2-11.8 0 11.7 .3-.1 .2-4 .1 4.3 .2-12.5 0 .1 .1 12.3 .3 .2 .2-11.6 .1 11.3 .2-12 0-.2 .1 12.2 .3 0 .2-12.4 .1 12.6 0-12 .3 11.9 .1-11.9 .2 11.8 .1-11.7 .2-.5 .2 12.4 0-.1 .1-12.5 .3 1 .2 11.6 .2-4.1 .1 4 .1-11.6 .2 11.6 .2 .1 .1-12.3 .1-.3 .1 12.7 .2-12.1 .1 11.9 .3-.1 .1-12.1 .1-.1 .1 12.3 .2-12.1 .1 12 .3 0 .1-12.3 .1 0 0 12.3 .4 .1 .1-12.4 .1 .1 0 12.2 .3-12 0 12 .3 0 .1-12.5 .2 12.5 .2-11.6 .1 11.6 .2-12.3 .1 12.3 .1-12 .2 12.1 .1-11.9 .2 11.9 0-12.4 .4 .3 .1 12.1 .2-12 0 11.9 .2-4.2 .2 4.4 .1-12.1 .2 12 .1-11.7 .1 11.6 .4-.1 0-11.5 .2 11.6 .1-11.6 0 .1 .2 11.5 .3 .1 .1-11.7 .1 11.6 .2-12.1 .1 12.2 .2-12.2 .1 .1 0 12 .4 0 .1-4.1 .1 4.1 .2-11.1 .2 11 .1-11.4 0 .1 .2 11.3 .2 .2 .1-12.2 .4 .5 0 11.7 .1-.2 .1-11.5 .3 0 .1 11.6 .1 .1 .1-12.5 .2 12.4 .1-11.9 .1 11.9 .1-12.3 .2 12.4 .2-12.5 .2 0 .1 12.5 .3-11.8 0 11.7 .2-12.1 .2 12.2 .2-.1 .1-12.2 .1-.2 .2 12.5 .1-12.5 .1 12.4 .1-12.2 .2 12.3 .2-12 .2 12.1 .2 0 .1-11.7 .1-.2 .1 11.6 .2 .2 .2-11.6 .2 11.8 .1-11.9 .1 11.5 .2-11.7 0 .3 .1 11.5 .3 0 .1-11.5 .1 11.5 .3-11.9 .2-.2 .1 12.1 .2-11.3 .2 11.5 0-12 .3-.4 .2 12.2 .2-11.4 0 11.6 .3-11.5 .1 11.4 .1-12.1 .2 12.1 .1-11.3 .2 11.3 .1-12.1 .1 12 .1-11.8 .3 11.9 .1-11.7 .1 11.5 .4 .1 0-12.2 .1-.1 .1 12.3 .2-11.9 0 11.9 .3 0 .2-12.1 0 .1 .1 12 .3 .1 .1-12.3 .2-.1 0 12.2 .3 .3 .1-12.3 .2 12.3 .2-12.7 .2 .7 .1 11.8 .3-11.9 0 12.1 .1-.1 0-12.5 .4-.1 .1 12.5 .1 .1 .1-11.5 .3-1.1 .1 12.7 .2-12.2 .3 7.9 .1 3.9 .2-3.8 .1 3.9 .2-12.2 .1 12.5 .2-12.4 .1 12.2 .1-11.6 .1 11.6 .2-4.2 .2 4.2 .2-.1 .1-3.9 .2 4.3 .1-12.5 .1 .1 .1 12.3 .3-.1 .1-12 .1 .1 .1 11.8 .3 .1 .1-12.4 0 .2 .2 12.2 .1-12 .1 12 .3 .1 .1-12.1 .1 11.9 .2-12.3 .2 12.3 .2-11.3 0 11.2 .2-4 .1 4.1 .2-12.3 .3 1 .1 11.4 .1-4.2 .2 4.1 .1-11.4 .2 11.5 .2-12.3 0 12.4 .2-11.7 .1 11.7 .3-11.9 .1 11.7 .2-11.8 0 11.9 .4-.1 0-12.2 .1-.4 .1 12.7 .2-11.9 .2 12 .1-11.8 .1 11.7 .3 .2 .1-12.2 0 .3 .2 11.7 .2-.1 .2-12.1 .1 12.2 .2-12.6 0 .1 .1 12.4 .2-11.9 .2 11.9 .2-.1 .2-4 0 4.1 .2-11.7 .2 11.7 .1-12.4 .3 .2 .1 12.3 .1-.2 .1-11.1 .2 7.1 .2 4.1 .2-12 .1 12 .2-4.3 .1 4.4 .2-12 0 11.9 .1-12.2 .3 12.3 .1-11.8 .1 11.9 .3-.2 .1-11.7 .1-.4 .1 12.2 .3 .2 .1-12.7 0-.1 .1 12.7 .3-.2 .2-12.4 .2 12.5 .1-12.7 0 .3 .2 12.4 .1-11.8 .1 11.6 .3-.1 .1-11.8 .2 12.1 .1-12 .2 12 .1-11.9 .2 11.7 .1-11.4 .1 11.6 .1-12.1 .3-.2 .2 12.2 .1 0 .1-11.7 .3 .3 .1 11.5 .2-12.7 .1 12.6 .1 0 0-11.4 .2 11.3 .1-4 .3-8 .1 12.1 .3 0 .1-12 .1-.5 .2 12.5 .3 .2 0-12.1 .1 0 .1 12.1 .3-.3 .1-12.1 .2 12.2 .1-12.4 0 .1 .2 12.3 .2 0 .2-12.3 .1 .4 0 11.9 .3 .1 .1-12.3 .1 .1 .2 12.2 .2 .1 .2-4.4 .1 4.4 .2-12.5 .3 .1 0 12.3 .2-11.6 .1 11.5 .2-11.5 .1 11.7 .1-.3 .1-11.4 .2-.6 .2 12.2 .1 0 0-12.3 .3 .9 .2 11.2 .2-12.5 .1 12.6 .2 .1 .1-12.1 .1-.1 .2 12.1 .3 0 0-12.2 .1-.1 .2 12.3 .3-.1 0-12 0 .2 .2 11.9 .2 .3 .2-12.2 .2 12 .1-12.4 .1-.1 0 12.5 .3-.2 .2-12.3 .1 12.5 .2-12.6 0 .2 .1 12.3 .2 .3 .2-11.9 .2 11.8 .2-11.6 0 11.5 .2-11.4 .2 11.3 .1-4 .2 4.2 0-12.6 .4 0 .1 12.7 .2-12.3 .1 12 .1-11.9 .3-.2 .2 12.2 .1-11.6 .1 11.3 .2-11.8 .1 12.2 .2-12 .2 11.8 .1-12.2 .2 12.3 .2-.1 .1-11.9 .1 .1 .1 11.8 .2-11.7 .1 11.7 .2-11.7 .1 11.7 .3 0 0-12 .1 0 .1 12.4 .3-.3 .2-12.2 0 .2 .2 11.9 .2 .1 .2-11.6 .1 11.5 .2-11.6 .1 11.7 .2-11.8 .1 11.8 .2-12.5 .1 12.6 .1-12.3 .2 12.2 .2-11.8 .2 .3 .1 11.6 .1-.2 0-11.8 .3 7.7 .2 4.2 .1-12.3 .1 12.3 .2-12 .1 11.9 .4 .2 0-12.3 .1-.3 .2 12.5 .1-12.3 .1 12.2 .2-11.9 .2 12.1 .2-.2 .1-4 .1 4.2 .2-12.4 .1 12.4 .2-12.4 .2 12.1 .1-12.3 .1 0 .1 12.5 .1-11.9 .2 11.8 .2 0 .2-12.2 .1 12.2 .1-12.1 .2 12.1 .1-11.5 .2 11.5 .1-11.3 .4-.5 0 11.8 .1 .2 0-11.9 .4 .1 .1 11.7 .2-11.9 .1 11.9 .2-11.7 .1 11.7 .1-11.7 .1 11.6"/>
<path stroke="#b856a8" stroke-width="0.300" d="M296.6 51.6l.1 4.9 .1-.2 0-12 .2 12.1 .2-11.5 .2 6.7 .2 4.7 .2-11.4 .1 11.4 .1-4.7 .1 4.5 .2-11.7 .1 12 .2-12.1 .2 11.9 .1-12.1 .2 12.1 .1-11.6 .1 11.5 .3 .1 .1-11.7 .2 11.7 .1-11.6 .1 0 0 11.6 .4 0 .1-11.1 .2 11.1 0-11.5 .2 .1 0 11.4 .4 0 0-11.4 .1-.2 .1 11.6 .5-11.7 0 11.7 .2-11.4 .1 11.5 0-.1 .2-11.9 .2 .1 .2 11.8 .1 .1 .1-11.7 .2-.1 .2 11.9 .1-11.9 .2 11.7 .1-11.4 .2 11.4 .1-11.9 .2 11.8 .2 0 .1-11.5 .1 0 .2 11.8 .2-.2 .1-11.5 .1-.5 .2 12 .2 0 .1-11.6 .1 .2 .1 11.4 .3 .1 .1-11.4 .2 11.2 .1-11.6 .1 .2 .1 11.6 .3-.1 .1-11.8 .1 0 0 11.8 .2-11.3 .1 11.4 .2-.3 .3-10.9 .1 11.1 .2-10.8 .1 10.9 0-12.4 .3 12.3 .1-11.8 .2 11.9 .1-11.2 .2-.2 .2 11.4 .1 0 .1-12.1 .2 12.1 .1-11.6 .2-.7 .2 12.3 0-11.3 .3 11.1 .1-11.6 .1 12 .3-.1 .1-12.4 .1 .2 .1 11.9 .1-11.8 .2 12 .3-.2 .1-11.8 .1 0 .1 11.8 .1-11.5 .2 11.6 .2-11.3 .1 11.3 .2 0 .2-11.9 0 .2 .2 11.7 .2 .1 .1-11.8 .2 11.9 .1-12.4 .2 12.1 .2-11.9 .1 11.9 .1-11.9 .2 11.9 .1-11.5 .2 11.9 0-11.6 .3 11.3 .1-11.3 .2 11.3 0-11.3 .4-.5 .1 11.7 .1-11.6 .1 11.8 .2-11.1 .1 11.1 .3-.1 .1-11.8 .1-.5 .1 12.3 .4 0 0-11.9 .1 .1 .1 11.8 .3-.1 .1-11.8 .1-.2 .1 12.1 .2-11.7 .1 11.8 .3-.2 .1-11.6 .1 .1 .1 11.7 .3-.1 .1-12.1 0 .3 .1 11.9 .4-.1 0-11.6 .2 11.4 .1-11.5 .2 11.8 .1-11.5 .2 11.2 .1-11.7 .2 11.9 0-11.3 .4-.3 .1 11.5 .2-11.8 .1 12 .2-11.4 0 11.3 .2-11.1 .2 11.1 .2-11.1 .1 11.2 .1-4.6 .2 4.5 .1-11.1 .2 11 .2 .1 .1-11.9 .1 0 .1 11.8 .4 0 0-11.6 .1-.1 .1 12 .2-12.2 .1 12.1 .2-4.7 .1 4.6 .3 .1 .1-12 .1 12 .2-12.4 0 .2 .1 12.2 .3-.2 .2-12 0 .2 .1 11.8 .3 .1 .2-11.7 .1 11.6 .1-11.1 .3 0 .1 11.2 .1 .2 0-12.2 .3 12 .1-11.7 .3-.2 .1 11.9 .1 0 .1-11.2 .2 6.6 .1 4.7 .3-12 .1 12 .1-11.7 .2 11.6 .1-12 .2 12 .2-12 0 12.1 .2-11.9 .1 11.8 .2-11.4 .1 11.5 .3 .1 .1-11.5 .1 11.2 .2-11.7 .2 11.7 .1-11.5 0 .1 .1 11.5 .2-11.1 .1 11.1 .3 0 .2-11.9 0 .5 .1 11.4 .2 .1 .2-11.3 .2 11.3 .1-11.2 .2 11.2 .1-11.1 .1 10.9 .3-11 .2-.1 .1 11.2 0 .1 .2-11.2 .3 0 0 11.3 .3-4.6 .1 4.3 .1-11.5 .2 11.7 .1-11.4 .2 11.3 .3 0 0-11.7 .2 11.7 .3-.3 .1-11.1 .1-.2 .1 11.6 .2-11.4 .1 11.3 .3 .1 .1-11.3 .1-.2 .1 11.6 .3 0 0-4.6 .2 4.6 .2-11.7 .2 11.6 .1-11.2 .1 11.3 .3-.1 .1-11.4 .2 11.7 .2-11.6 .1 11.3 .2-11.3 0 11.5 .2-11.3 .2 11.1 .1-11.4 .2 .3 .2 11 .1-10.9 .2 11.1 0-.2 .1-11.5 .4 .6 0 10.9 .3-11.4 .1 11.5 .1-11.9 .2 12 .1-12.2 .1 12 .3-11.5 0 11.6 .2-11 .1 10.9 .2-11.1 .1 11.2 .3-.1 .1-11.8 .2 12.1 .1-12 .2 11.7 .2 .2 .2-12.1 .1 .2 0 11.8 .3-11 0 11.2 .2-10.7 .1 10.5 .3 0 .2-11.4 .1 11.4 .2-11.9 .1 12 .1-11.3 .3-.8 .1 12 .1 0 .2-11.1 .1 11.2 0-11 .4-.9 .1 11.8 .1-11.9 .2 11.9 .1-11.4 .1 11.5 .2-11.1 .2 11.2 .1-12.2 .2 11.9 .1-10.9 .1 11 .2-11 .1 11.1 .3-.2 .1-10.7 .1-.4 .1 11.2 .2-11.2 .1 11.3 .2-.2 .2-11.2 .1 0 0 11.2 .3 .2 .2-11 .2 11 0-11.3 .2 11.3 .1-11.9 .1 .1 .1 11.7 .5-11.4 0 11.4 .1-.1 .1-11.3 .2 11.5 .1-11.3 .3-.2 .1 11.3 .1-10.9 .2 10.9 .2-11.7 .1 11.8 .1 0 .1-11.7 .1 11.6 .2-4.4 .2 0 .2 4.6 .3 0 0-11.6 .1-.4 .1 11.9 .2-11.7 .1 11.8 .3 .2 .1-4.9 .2 4.5 .1-4.5 .3 4.6 0-11.5 0 .1 .2 11.5 .3 0 .1-11.7 .1-.1 .1 11.8 .3 0 0-12.3 .2 12.2 .2-12 0 .1 .2 11.9 .4-11.6 0 11.6 .1-.1 .2-11.5 .1 11.7 .2-11.7 .1 11.8 .1-4.7 .2 4.6 .1-11.9 .3 .6 .1 11.1 .2-4.5 0 4.6 .2-11.9 .2 12 .2-11.2 .1 11.2 .1-11.7 .2 11.6 .1-11.1 .1 11 .4 .1 0-11.7 .1 0 .1 11.8 .2-11.5 .1 11.8 .3-.6 .1-11.4 0-.2 .2 11.8 .3 0 .1-11 .1-.1 0 11.1 .4 0 0-11.1 .3 11 .1-11.5 .2 11.6 .1-11.9 0 .3 .1 11.5 .2 .3 .2-4.8 .4-7.2 0 11.9 0-.1 .2-11.3 .1 11.3 .2-11.5 .2 11.5 .1-11.8 .2 11.8 .1-4.6 .3-7.2 0 11.9 .2-.2 0-4.4 .4-7.5 0 12 .1-11.8 .3 11.8 .3 0 0-12 0 .1 .3 11.9 .2 .1 .1-11.9 .1-.1 .2 12 .1-11.8 .1 11.7 .3 0 .1-11.4 0 .1 .1 11.3 .3-11.4 .1 11.4 .2-10.9 0 10.9 .3 .1 .2-12 .2 11.9 0-11.6 .3 11.5 0-11.1 .2 11.2 .1-11.6 .1 11.7 .2-11.3 .3-.7 .1 12.1 .2-11.9 .1 11.8 .1-.1 .1-11.8 .2 11.8 .1-11.1 .2 .2 .2 11.1 .1-4.8 .2 4.7 .1-11.2 .2 11.1 .1-11.9 .2 11.8 .1-11.7 .1 11.8 .2-11.3 .1 11.5 .2-11.4 .2 11.4 .1-.3 .2-11.3 .1 11.4 .2-11.8 0 .1 .1 11.7 .4 .1 .1-11.9 .1 11.8 .2-12.1 0 .1 .2 12 .1-10.9 .1 10.9 .3 0 .2-4.7 .1 4.7 .1-11.4 .2 11.4 .1-12.1 .3 1 .1 11.1 .1 .1 .2-11.3 .1 11.4 .1-11.7 .3 .3 .1 11.2 .2-11.5 .1 11.5 .1-12.2 .2 12.4 .1-11.4 .2 11.3 .1-12.1 .2 12 .1-11.4 .2 11.3 .2 0 .1-10.9 .1 0 .1 11.1 .4 0 0-11.2 .2 11 .1-11.7 .1 11.8 .3-11.6 0 11.6 .3-11.7 .1 11.7 .2 0 .1-12.1 .2 .2 .1 11.9 .2 .1 .2-11.4 .1 11.6 .1-12.3 .2 12.1 .2-11.5 .1 11.4 .1-11.9 .2 11.9 0-4.5 .4-6.6 .1 11.1 .2-11.2 .1 11.2 .1-10.9 .1 10.9 .1 .1 .2-11.3 .3-.7 .1 11.8 .1-11.1 .1 11.4 .1-12.1 .3 12 .1-11.9 .1 11.9 .2-11.7 .2 11.5 .2 0 .1-10.8 .2 10.9 .1-12.3 .1 .4 .1 12 .2 0 .2-11.9 .1 0 0 11.7 .3-10.8 0 10.9 .4 .1 .1-11.8 0 .3 .1 11.7 .2-.2 .3-12.1 0 12.2 .3-11.6 .1 11.3 .1-12.2 .1 12.4 .2-11.5 .2 11.3 .1-11.5 .3 .1 .1 11.6 .1 0 .1-11.2 .3-.3 .1 11.5 0-.1 .1-4.7 .3-6.3 .2 11.2 .2-11.5 .1 11.4 .2-.1 .1-11.7 .1-.6 .2 12.4 .2-.2 .1-11.3 .1 .1 .1 11.3 .2-4.5 .1 4.4 .3 .1 .1-12 .1 0 .1 12 .3 .1 .1-11.2 .2 11.3 .2 0 .1-11.8 .3 11.7 .1-11.8 .1 11.7 .2-11.8 .2 .7 .1 11.2 0-.1 .3-11.2 .1 11.4 .1-11.8 .3 .6 .1 11 .2-11.6 .1 11.7 .1-11.8 .2 11.6 .2-11.4 0 11.4 .2-11.2 .1 11.3"/>
</g>
<rect x="291.2" y="11.9" width="115.1" height="51.6" fill="none" stroke="#000" stroke-width="0.600"/>
<path d="M296.43 63.5v1.72M320.32 63.5v1.72M344.21 63.5v1.72M368.1 63.5v1.72M391.99 63.5v1.72M291.2 51.9h-1.72M291.2 40.33h-1.72M291.2 28.77h-1.72M291.2 17.2h-1.72" stroke="#000" stroke-width="0.393"/>
<g class="k" font-size="4.917" text-anchor="middle"><text x="296.43" y="70.68">0</text><text x="320.32" y="70.68">2000</text><text x="344.21" y="70.68">4000</text><text x="368.1" y="70.68">6000</text><text x="391.99" y="70.68">8000</text></g>
<g class="k" font-size="4.917" text-anchor="end"><text x="287.76" y="53.77">0</text><text x="287.76" y="42.2">2</text><text x="287.76" y="30.63">4</text><text x="287.76" y="19.07">6</text></g>
<text x="348.75" y="8.95" font-size="5.900" text-anchor="middle">Zone Lights Electricity Rate</text>
<g clip-path="url(#c3)" fill="none" stroke-linejoin="round">
<path fill="#a49cb4" stroke="none" d="M436.3 56.77H436.78V61.42H436.3zM438.31 56.77H438.78V61.42H438.31zM440.31 56.77H440.79V61.42H440.31zM442.32 56.77H442.8V61.42H442.32zM444.33 56.77H444.8V61.42H444.33zM446.33 56.77H446.81V61.42H446.33zM448.34 56.77H448.82V61.42H448.34zM450.35 56.77H450.82V61.42H450.35zM452.35 56.77H452.83V61.42H452.35zM454.36 56.77H454.84V61.42H454.36zM456.37 56.77H456.84V61.42H456.37zM458.37 56.77H458.85V61.42H458.37zM460.38 56.77H460.86V61.42H460.38zM462.39 56.77H462.86V61.42H462.39zM464.39 56.77H464.87V61.42H464.39zM466.4 56.77H466.88V61.42H466.4zM468.41 56.77H468.89V61.42H468.41zM470.41 56.77H470.89V61.42H470.41zM472.42 56.77H472.9V61.42H472.42zM474.43 56.77H474.91V61.42H474.43zM476.43 56.77H476.91V61.42H476.43zM478.44 56.77H478.92V61.42H478.44zM480.45 56.77H480.93V61.42H480.45zM482.45 56.77H482.93V61.42H482.45zM484.46 56.77H484.94V61.42H484.46zM486.47 56.77H486.95V61.42H486.47zM488.47 56.77H488.95V61.42H488.47zM490.48 56.77H490.96V61.42H490.48zM492.49 56.77H492.97V61.42H492.49zM494.49 56.77H494.97V61.42H494.49zM496.5 56.77H496.98V61.42H496.5zM498.51 56.77H498.99V61.42H498.51zM500.51 56.77H500.99V61.42H500.51zM502.52 56.77H503V61.42H502.52zM504.53 56.77H505.01V61.42H504.53zM506.54 56.77H507.01V61.42H506.54zM508.54 56.77H509.02V61.42H508.54zM510.55 56.77H511.03V61.42H510.55zM512.56 56.77H513.03V61.42H512.56zM514.56 56.77H515.04V61.42H514.56zM516.57 56.77H517.05V61.42H516.57zM518.58 56.77H519.05V61.42H518.58zM520.58 56.77H521.06V61.42H520.58zM522.59 56.77H523.07V61.42H522.59zM524.6 56.77H525.07V61.42H524.6zM526.6 56.77H527.08V61.42H526.6zM528.61 56.77H529.09V61.42H528.61zM530.62 56.77H531.09V61.42H530.62zM532.62 56.77H533.1V61.42H532.62zM534.63 56.77H535.11V61.42H534.63zM536.64 56.77H537.11V61.42H536.64zM538.64 56.77H539.11V61.42H538.64z"/>
<path fill="#a0608e" stroke="none" d="M434.53 54.61H539.16V56.77H434.53z"/>
<path fill="#e8472e" stroke="none" d="M434.89 54.61H436.18V56.77H434.89zM436.9 54.61H438.19V56.77H436.9zM438.9 54.61H440.19V56.77H438.9zM440.91 54.61H442.2V56.77H440.91zM442.92 54.61H444.21V56.77H442.92zM444.92 54.61H446.21V56.77H444.92zM446.93 54.61H448.22V56.77H446.93zM448.94 54.61H450.23V56.77H448.94zM450.94 54.61H452.23V56.77H450.94zM452.95 54.61H454.24V56.77H452.95zM454.96 54.61H456.25V56.77H454.96zM456.96 54.61H458.25V56.77H456.96zM458.97 54.61H460.26V56.77H458.97zM460.98 54.61H462.27V56.77H460.98zM462.98 54.61H464.27V56.77H462.98zM464.99 54.61H466.28V56.77H464.99zM467 54.61H468.29V56.77H467zM469 54.61H470.29V56.77H469zM471.01 54.61H472.3V56.77H471.01zM473.02 54.61H474.31V56.77H473.02zM475.02 54.61H476.31V56.77H475.02zM477.03 54.61H478.32V56.77H477.03zM479.04 54.61H480.33V56.77H479.04zM481.04 54.61H482.33V56.77H481.04zM483.05 54.61H484.34V56.77H483.05zM485.06 54.61H486.35V56.77H485.06zM487.07 54.61H488.36V56.77H487.07zM489.07 54.61H490.36V56.77H489.07zM491.08 54.61H492.37V56.77H491.08zM493.09 54.61H494.38V56.77H493.09zM495.09 54.61H496.38V56.77H495.09zM497.1 54.61H498.39V56.77H497.1zM499.11 54.61H500.4V56.77H499.11zM501.11 54.61H502.4V56.77H501.11zM503.12 54.61H504.41V56.77H503.12zM505.13 54.61H506.42V56.77H505.13zM507.13 54.61H508.42V56.77H507.13zM509.14 54.61H510.43V56.77H509.14zM511.15 54.61H512.44V56.77H511.15zM513.15 54.61H514.44V56.77H513.15zM515.16 54.61H516.45V56.77H515.16zM517.17 54.61H518.46V56.77H517.17zM519.17 54.61H520.46V56.77H519.17zM521.18 54.61H522.47V56.77H521.18zM523.19 54.61H524.48V56.77H523.19zM525.19 54.61H526.48V56.77H525.19zM527.2 54.61H528.49V56.77H527.2zM529.21 54.61H530.5V56.77H529.21zM531.21 54.61H532.5V56.77H531.21zM533.22 54.61H534.51V56.77H533.22zM535.23 54.61H536.52V56.77H535.23zM537.23 54.61H538.52V56.77H537.23z"/>
<path fill="#b27692" stroke="none" d="M434.53 39.84H539.16V54.61H434.53z"/>
<path stroke="#d4524a" stroke-width="0.300" opacity="0.6" d="M435.18 39.84V54.61M437.18 39.84V54.61M439.19 39.84V54.61M441.2 39.84V54.61M443.2 39.84V54.61M445.21 39.84V54.61M447.22 39.84V54.61M449.22 39.84V54.61M451.23 39.84V54.61M453.24 39.84V54.61M455.24 39.84V54.61M457.25 39.84V54.61M459.26 39.84V54.61M461.26 39.84V54.61M463.27 39.84V54.61M465.28 39.84V54.61M467.28 39.84V54.61M469.29 39.84V54.61M471.3 39.84V54.61M473.3 39.84V54.61M475.31 39.84V54.61M477.32 39.84V54.61M479.32 39.84V54.61M481.33 39.84V54.61M483.34 39.84V54.61M485.34 39.84V54.61M487.35 39.84V54.61M489.36 39.84V54.61M491.37 39.84V54.61M493.37 39.84V54.61M495.38 39.84V54.61M497.39 39.84V54.61M499.39 39.84V54.61M501.4 39.84V54.61M503.41 39.84V54.61M505.41 39.84V54.61M507.42 39.84V54.61M509.43 39.84V54.61M511.43 39.84V54.61M513.44 39.84V54.61M515.45 39.84V54.61M517.45 39.84V54.61M519.46 39.84V54.61M521.47 39.84V54.61M523.47 39.84V54.61M525.48 39.84V54.61M527.49 39.84V54.61M529.49 39.84V54.61M531.5 39.84V54.61M533.51 39.84V54.61M535.51 39.84V54.61M537.52 39.84V54.61"/>
<path fill="#c4a0b6" stroke="none" d="M434.53 14.27H539.16V39.84H434.53z"/>
<path fill="#a8789a" stroke="none" d="M434.89 14.27H436.2V33.53H434.89zM436.9 14.27H438.21V33.53H436.9zM439.19 14.27H440.22V33.53H439.19zM440.91 14.27H442.22V33.53H440.91zM442.92 14.27H444.23V33.53H442.92zM444.92 14.27H446.24V33.53H444.92zM446.93 14.27H448.24V33.53H446.93zM449.22 14.27H450.25V33.53H449.22zM450.94 14.27H452.26V33.53H450.94zM452.95 14.27H454.26V33.53H452.95zM454.96 14.27H456.27V33.53H454.96zM456.96 14.27H458.28V33.53H456.96zM458.97 14.27H460.28V33.53H458.97zM460.98 14.27H462.29V33.53H460.98zM462.98 14.27H464.3V33.53H462.98zM464.99 14.27H466.3V33.53H464.99zM467 14.27H468.31V33.53H467zM469 14.27H470.32V33.53H469zM471.01 14.27H472.33V33.53H471.01zM473.02 14.27H474.33V33.53H473.02zM475.02 14.27H476.34V33.53H475.02zM477.32 14.27H478.35V33.53H477.32zM479.04 14.27H480.35V33.53H479.04zM481.04 14.27H482.36V33.53H481.04zM483.05 14.27H484.37V33.53H483.05zM485.06 14.27H486.37V33.53H485.06zM487.07 14.27H487.52V33.53H487.07zM487.93 14.27H488.38V33.53H487.93zM489.07 14.27H490.39V33.53H489.07zM491.08 14.27H492.39V33.53H491.08zM493.09 14.27H494.4V33.53H493.09zM495.09 14.27H496.41V33.53H495.09zM497.1 14.27H498.41V33.53H497.1zM499.11 14.27H500.42V33.53H499.11zM501.11 14.27H502.43V33.53H501.11zM503.12 14.27H504.43V33.53H503.12zM505.41 14.27H506.44V33.53H505.41zM507.13 14.27H508.45V33.53H507.13zM509.14 14.27H510.45V33.53H509.14zM511.15 14.27H512.46V33.53H511.15zM513.15 14.27H514.47V33.53H513.15zM515.16 14.27H516.47V33.53H515.16zM517.17 14.27H518.48V33.53H517.17zM519.17 14.27H520.49V33.53H519.17zM521.18 14.27H522.49V33.53H521.18zM523.19 14.27H524.5V33.53H523.19zM525.19 14.27H526.51V33.53H525.19zM527.2 14.27H528.23V33.53H527.2zM529.21 14.27H530.52V33.53H529.21zM531.21 14.27H532.53V33.53H531.21zM533.22 14.27H534.53V33.53H533.22zM535.23 14.27H536.54V33.53H535.23zM537.81 14.27H538.55V33.53H537.81z"/>
<path fill="#a07296" stroke="none" d="M434.89 33.53H436.2V39.84H434.89zM436.9 33.53H438.21V39.84H436.9zM439.19 33.53H440.22V39.84H439.19zM440.91 33.53H442.22V39.84H440.91zM442.92 33.53H444.23V39.84H442.92zM444.92 33.53H446.24V39.84H444.92zM446.93 33.53H448.24V39.84H446.93zM449.22 33.53H450.25V39.84H449.22zM450.94 33.53H452.26V39.84H450.94zM452.95 33.53H454.26V39.84H452.95zM454.96 33.53H456.27V39.84H454.96zM456.96 33.53H458.28V39.84H456.96zM458.97 33.53H460.28V39.84H458.97zM460.98 33.53H462.29V39.84H460.98zM462.98 33.53H464.3V39.84H462.98zM464.99 33.53H466.3V39.84H464.99zM467 33.53H468.31V39.84H467zM469 33.53H470.32V39.84H469zM471.01 33.53H472.33V39.84H471.01zM473.02 33.53H474.33V39.84H473.02zM475.02 33.53H476.34V39.84H475.02zM477.32 33.53H478.35V39.84H477.32zM479.04 33.53H480.35V39.84H479.04zM481.04 33.53H482.36V39.84H481.04zM483.05 33.53H484.37V39.84H483.05zM485.06 33.53H486.37V39.84H485.06zM487.07 33.53H487.52V39.84H487.07zM487.93 33.53H488.38V39.84H487.93zM489.07 33.53H490.39V39.84H489.07zM491.08 33.53H492.39V39.84H491.08zM493.09 33.53H494.4V39.84H493.09zM495.09 33.53H496.41V39.84H495.09zM497.1 33.53H498.41V39.84H497.1zM499.11 33.53H500.42V39.84H499.11zM501.11 33.53H502.43V39.84H501.11zM503.12 33.53H504.43V39.84H503.12zM505.41 33.53H506.44V39.84H505.41zM507.13 33.53H508.45V39.84H507.13zM509.14 33.53H510.45V39.84H509.14zM511.15 33.53H512.46V39.84H511.15zM513.15 33.53H514.47V39.84H513.15zM515.16 33.53H516.47V39.84H515.16zM517.17 33.53H518.48V39.84H517.17zM519.17 33.53H520.49V39.84H519.17zM521.18 33.53H522.49V39.84H521.18zM523.19 33.53H524.5V39.84H523.19zM525.19 33.53H526.51V39.84H525.19zM527.2 33.53H528.23V39.84H527.2zM529.21 33.53H530.52V39.84H529.21zM531.21 33.53H532.53V39.84H531.21zM533.22 33.53H534.53V39.84H533.22zM535.23 33.53H536.54V39.84H535.23zM537.81 33.53H538.55V39.84H537.81z"/>
<path fill="#dc5a50" stroke="none" opacity="0.85" d="M434.89 14.27H436.2V15.6H434.89zM436.9 14.27H438.21V15.6H436.9zM439.19 14.27H440.22V15.6H439.19zM440.91 14.27H442.22V15.6H440.91zM442.92 14.27H444.23V15.6H442.92zM444.92 14.27H446.24V15.6H444.92zM446.93 14.27H448.24V15.6H446.93zM449.22 14.27H450.25V15.6H449.22zM450.94 14.27H452.26V15.6H450.94zM452.95 14.27H454.26V15.6H452.95zM454.96 14.27H456.27V15.6H454.96zM456.96 14.27H458.28V15.6H456.96zM458.97 14.27H460.28V15.6H458.97zM460.98 14.27H462.29V15.6H460.98zM462.98 14.27H464.3V15.6H462.98zM464.99 14.27H466.3V15.6H464.99zM467 14.27H468.31V15.6H467zM469 14.27H470.32V15.6H469zM471.01 14.27H472.33V15.6H471.01zM473.02 14.27H474.33V15.6H473.02zM475.02 14.27H476.34V15.6H475.02zM477.32 14.27H478.35V15.6H477.32zM479.04 14.27H480.35V15.6H479.04zM481.04 14.27H482.36V15.6H481.04zM483.05 14.27H484.37V15.6H483.05zM485.06 14.27H486.37V15.6H485.06zM487.07 14.27H487.52V15.6H487.07zM487.93 14.27H488.38V15.6H487.93zM489.07 14.27H490.39V15.6H489.07zM491.08 14.27H492.39V15.6H491.08zM493.09 14.27H494.4V15.6H493.09zM495.09 14.27H496.41V15.6H495.09zM497.1 14.27H498.41V15.6H497.1zM499.11 14.27H500.42V15.6H499.11zM501.11 14.27H502.43V15.6H501.11zM503.12 14.27H504.43V15.6H503.12zM505.41 14.27H506.44V15.6H505.41zM507.13 14.27H508.45V15.6H507.13zM509.14 14.27H510.45V15.6H509.14zM511.15 14.27H512.46V15.6H511.15zM513.15 14.27H514.47V15.6H513.15zM515.16 14.27H516.47V15.6H515.16zM517.17 14.27H518.48V15.6H517.17zM519.17 14.27H520.49V15.6H519.17zM521.18 14.27H522.49V15.6H521.18zM523.19 14.27H524.5V15.6H523.19zM525.19 14.27H526.51V15.6H525.19zM527.2 14.27H528.23V15.6H527.2zM529.21 14.27H530.52V15.6H529.21zM531.21 14.27H532.53V15.6H531.21zM533.22 14.27H534.53V15.6H533.22zM535.23 14.27H536.54V15.6H535.23zM537.81 14.27H538.55V15.6H537.81z"/>
<path fill="#eee2ea" stroke="none" d="M438.28 14.27H438.81V33.53H438.28zM440.29 14.27H440.81V33.53H440.29zM444.3 14.27H444.83V33.53H444.3zM446.31 14.27H446.83V33.53H446.31zM454.34 14.27H454.86V33.53H454.34zM458.35 14.27H458.88V33.53H458.35zM462.36 14.27H462.89V33.53H462.36zM464.37 14.27H464.9V33.53H464.37zM470.39 14.27H470.92V33.53H470.39zM474.4 14.27H474.93V33.53H474.4zM476.41 14.27H476.94V33.53H476.41zM478.42 14.27H478.94V33.53H478.42zM486.44 14.27H486.97V33.53H486.44zM492.46 14.27H492.99V33.53H492.46zM494.47 14.27H495V33.53H494.47zM496.48 14.27H497V33.53H496.48zM498.48 14.27H499.01V33.53H498.48zM510.52 14.27H511.05V33.53H510.52zM512.53 14.27H513.06V33.53H512.53zM516.54 14.27H517.07V33.53H516.54zM522.56 14.27H523.09V33.53H522.56zM524.57 14.27H525.1V33.53H524.57zM528.59 14.27H529.11V33.53H528.59zM534.61 14.27H535.13V33.53H534.61z"/>
<path fill="#d8bcc8" stroke="none" d="M438.33 33.53H438.76V54.44H438.33zM440.34 33.53H440.77V54.44H440.34zM446.36 33.53H446.79V54.44H446.36zM454.38 33.53H454.81V54.44H454.38zM464.42 33.53H464.85V54.44H464.42zM512.58 33.53H513.01V54.44H512.58z"/>
</g>
<rect x="429.3" y="11.9" width="115.1" height="51.6" fill="none" stroke="#000" stroke-width="0.600"/>
<path d="M434.53 63.5v1.72M458.42 63.5v1.72M482.31 63.5v1.72M506.2 63.5v1.72M530.09 63.5v1.72M429.3 57.1h-1.72M429.3 40.5h-1.72M429.3 23.9h-1.72" stroke="#000" stroke-width="0.393"/>
<g class="k" font-size="4.917" text-anchor="middle"><text x="434.53" y="70.68">0</text><text x="458.42" y="70.68">2000</text><text x="482.31" y="70.68">4000</text><text x="506.2" y="70.68">6000</text><text x="530.09" y="70.68">8000</text></g>
<g class="k" font-size="4.917" text-anchor="end"><text x="425.86" y="58.97">−1</text><text x="425.86" y="42.37">0</text><text x="425.86" y="25.77">1</text></g>
<text x="486.85" y="8.95" font-size="5.900" text-anchor="middle">Zone Electric Equipment Electricity Rate</text>
<g clip-path="url(#c4)" fill="none" stroke-linejoin="round">
<path fill="#22a0d2" stroke="none" d="M20.23 133.2H124.86V114.64H20.23z"/>
<path fill="#90cbe8" stroke="none" d="M20.23 114.64H124.86V110.12H20.23z"/>
<path fill="#bfe0f2" stroke="none" d="M20.23 110.12H124.86V87.22H20.23z"/>
<path fill="#4eb0de" stroke="none" d="M20.54 110.12H21.93V87.22H20.54zM22.55 110.12H23.93V87.22H22.55zM24.84 110.12H25.94V87.22H24.84zM26.56 110.12H27.95V87.22H26.56zM28.57 110.12H29.95V87.22H28.57zM30.58 110.12H31.96V87.22H30.58zM32.58 110.12H33.97V87.22H32.58zM34.88 110.12H35.98V87.22H34.88zM36.6 110.12H37.98V87.22H36.6zM38.6 110.12H39.99V87.22H38.6zM40.61 110.12H42V87.22H40.61zM42.62 110.12H44V87.22H42.62zM44.62 110.12H46.01V87.22H44.62zM46.63 110.12H48.02V87.22H46.63zM48.64 110.12H50.02V87.22H48.64zM50.64 110.12H52.03V87.22H50.64zM52.65 110.12H54.04V87.22H52.65zM54.66 110.12H56.04V87.22H54.66zM56.66 110.12H58.05V87.22H56.66zM58.67 110.12H60.06V87.22H58.67zM60.68 110.12H62.06V87.22H60.68zM62.97 110.12H64.07V87.22H62.97zM64.69 110.12H66.08V87.22H64.69zM66.7 110.12H68.08V87.22H66.7zM68.7 110.12H70.09V87.22H68.7zM70.71 110.12H72.1V87.22H70.71zM72.72 110.12H73.24V87.22H72.72zM73.58 110.12H74.1V87.22H73.58zM74.72 110.12H76.11V87.22H74.72zM76.73 110.12H78.12V87.22H76.73zM78.74 110.12H80.12V87.22H78.74zM80.74 110.12H82.13V87.22H80.74zM82.75 110.12H84.14V87.22H82.75zM84.76 110.12H86.14V87.22H84.76zM86.76 110.12H88.15V87.22H86.76zM88.77 110.12H90.16V87.22H88.77zM91.06 110.12H92.16V87.22H91.06zM92.78 110.12H94.17V87.22H92.78zM94.79 110.12H96.18V87.22H94.79zM96.8 110.12H98.18V87.22H96.8zM98.8 110.12H100.19V87.22H98.8zM100.81 110.12H102.2V87.22H100.81zM102.82 110.12H104.2V87.22H102.82zM104.82 110.12H106.21V87.22H104.82zM106.83 110.12H108.22V87.22H106.83zM108.84 110.12H110.22V87.22H108.84zM110.84 110.12H112.23V87.22H110.84zM112.85 110.12H113.95V87.22H112.85zM114.86 110.12H116.24V87.22H114.86zM116.87 110.12H118.25V87.22H116.87zM118.87 110.12H120.26V87.22H118.87zM120.88 110.12H122.26V87.22H120.88zM123.46 110.12H124.27V87.22H123.46z"/>
<path fill="#3aa8da" stroke="none" d="M20.54 114.64H21.93V110.12H20.54zM22.55 114.64H23.93V110.12H22.55zM24.84 114.64H25.94V110.12H24.84zM26.56 114.64H27.95V110.12H26.56zM28.57 114.64H29.95V110.12H28.57zM30.58 114.64H31.96V110.12H30.58zM32.58 114.64H33.97V110.12H32.58zM34.88 114.64H35.98V110.12H34.88zM36.6 114.64H37.98V110.12H36.6zM38.6 114.64H39.99V110.12H38.6zM40.61 114.64H42V110.12H40.61zM42.62 114.64H44V110.12H42.62zM44.62 114.64H46.01V110.12H44.62zM46.63 114.64H48.02V110.12H46.63zM48.64 114.64H50.02V110.12H48.64zM50.64 114.64H52.03V110.12H50.64zM52.65 114.64H54.04V110.12H52.65zM54.66 114.64H56.04V110.12H54.66zM56.66 114.64H58.05V110.12H56.66zM58.67 114.64H60.06V110.12H58.67zM60.68 114.64H62.06V110.12H60.68zM62.97 114.64H64.07V110.12H62.97zM64.69 114.64H66.08V110.12H64.69zM66.7 114.64H68.08V110.12H66.7zM68.7 114.64H70.09V110.12H68.7zM70.71 114.64H72.1V110.12H70.71zM72.72 114.64H73.24V110.12H72.72zM73.58 114.64H74.1V110.12H73.58zM74.72 114.64H76.11V110.12H74.72zM76.73 114.64H78.12V110.12H76.73zM78.74 114.64H80.12V110.12H78.74zM80.74 114.64H82.13V110.12H80.74zM82.75 114.64H84.14V110.12H82.75zM84.76 114.64H86.14V110.12H84.76zM86.76 114.64H88.15V110.12H86.76zM88.77 114.64H90.16V110.12H88.77zM91.06 114.64H92.16V110.12H91.06zM92.78 114.64H94.17V110.12H92.78zM94.79 114.64H96.18V110.12H94.79zM96.8 114.64H98.18V110.12H96.8zM98.8 114.64H100.19V110.12H98.8zM100.81 114.64H102.2V110.12H100.81zM102.82 114.64H104.2V110.12H102.82zM104.82 114.64H106.21V110.12H104.82zM106.83 114.64H108.22V110.12H106.83zM108.84 114.64H110.22V110.12H108.84zM110.84 114.64H112.23V110.12H110.84zM112.85 114.64H113.95V110.12H112.85zM114.86 114.64H116.24V110.12H114.86zM116.87 114.64H118.25V110.12H116.87zM118.87 114.64H120.26V110.12H118.87zM120.88 114.64H122.26V110.12H120.88zM123.46 114.64H124.27V110.12H123.46z"/>
</g>
<rect x="15" y="84.2" width="115.1" height="51.6" fill="none" stroke="#000" stroke-width="0.600"/>
<path d="M20.23 135.8v1.72M44.12 135.8v1.72M68.01 135.8v1.72M91.9 135.8v1.72M115.79 135.8v1.72M15 133.2h-1.72M15 115.85h-1.72M15 98.5h-1.72" stroke="#000" stroke-width="0.393"/>
<g class="k" font-size="4.917" text-anchor="middle"><text x="20.23" y="142.98">0</text><text x="44.12" y="142.98">2000</text><text x="68.01" y="142.98">4000</text><text x="91.9" y="142.98">6000</text><text x="115.79" y="142.98">8000</text></g>
<g class="k" font-size="4.917" text-anchor="end"><text x="11.56" y="135.07">−1</text><text x="11.56" y="117.72">0</text><text x="11.56" y="100.37">1</text></g>
<text x="72.55" y="81.25" font-size="5.900" text-anchor="middle">Gas Equipment NaturalGas Rate</text>
<g clip-path="url(#c5)" fill="none" stroke-linejoin="round">
<path stroke="#1f8ac8" stroke-width="0.350" d="M158.3 113.5l.2 1 .2 .1 .2-1.7 .1 1.7 .2-1 .1 1 .2-1 .1 .8 .1-.9 .2 .9 .1-.9 .2 .8 .2-.9 .2 .1 .1 1 .1-1 .2 1.1 .2-1 .1 .9 .1-.9 .2 .8 .1-.9 .2 .9 .2-.9 .1 .9 .1-.9 .1 1.1 .2-1.6 .1 1.6 .2-1.1 .1 .9 .2-.7 .1 .9 .3 0 .1-1.1 .1 .1 .1 .9 .2-.9 .1 1 .3 0 .1-2.4 .2 2.4 .1-1 0 .2 .1 .8 .3 0 .1-.8 .2 .8 .1-.8 .2 .8 .1-1 .2 .9 .1-1.1 .2 1.1 .1-.9 .2 1 .1-1 .1 .9 .2-.9 .2 1 .1-.9 .2-.2 .2 1.1 .1-1.1 .2 1 .1-1 .2 .9 .1-.6 .2 .8 .1-.9 .1 .9 .2-.9 .1 .9 .2-1.2 .1 1 .3-.1 .1-.9 .2 .9 .1-.9 .2 1.1 .1-1 .2 1.1 .1-1.1 .2 1.1 .1-1 .1 1 .2-.9 .1 .9 .2-1 .1 .9 .1-.9 .2 .9 .1-.9 .2 .9 .1-.9 .2 .9 .1-1.1 .2 1.2 .1-1.1 .1 1.1 .2-1 .1 1 .2-1.2 .3 .3 .1 .9 .1-1 .2 1 .1-.9 .2 .9 .1-1 .2 .8 .1-.9 .2 1 .1-1 .1 1.1 .2-1 .1 .9 .2-2.3 .1 2.1 .2-.8 .1 1.1 .3 0 .1-1 .2 .9 .1-1.1 .2 .9 .1-.9 .1 0 0 .9 .4 .2 .1-1.1 .1 1 .1-.9 .2 1.1 .2-1.1 .1 .8 .2-.9 .1 .8 .1-.8 .2 1.2 .1-1 .3-1.3 .1 2.3 .1-.1 .1-.9 .2-.6 .2 1.5 .2-1.1 .1 1.1 .2-1 .1 1 .1-1.1 .1 1.2 .3-1.2 .1 .7 .1-.7 .1 1 .3-2 .1 2.1 .1-1 .1 1 .2-1.1 .1 1.1 .3 .1 .1-1.2 .2 .8 .1-.8 .2 .9 .1-.9 .1 1.2 .2-1 .1 .8 .2-.8 .1 1 .1-2.3 .2 2.3 .1-1 .2 1 .2-.8 .1 .8 .1-1 .1 1 .2-1.2 .2 1 .1-1 .3 .1 .1 1.1 0-.1 .2-1 .1 1 .2-1.1 .1 1 .2-1 .2 0 .2 .9 .1-.9 .2 1 .1-1.1 .2 1.2 .1-.9 .1 .9 .2-1.2 .2 1.2 .1-1 .1 1 .3 0 .1-1 .1 .1 .1 .9 .1-.9 .2 .7 .3 .2 .1-1.1 .1 1 .2-1.1 .1 1 .2-1 .1 .9 .2-1.4 .1 1.6 .1-.8 .2 .9 .1-.7 .2 .7 .1-.9 .2 .9 .1-1.1 .2 1 .2-.9 .2-.2 .1 1 .1-.9 .2 .9 .2-1.1 .1 1 .1-.8 .2 1.1 .1-1.3 .2 1.3 .2 0 .1-3.1 .1 2 .1 1.1 .2-1.1 .1 1 .2-1.1 .1 1.2 .2-1 .1 .9 .3 0 .1-1.1 .1-.9 .1 1.9 .3 .1 .1-1.2 .2 1.1 0-1.5 .2 1.5 .1-3.8 .2 3.7 .2-1.1 .1 1.2 .1-1 .2 1.1 .1-1 .2 1 .1-3.5 .2 3.5 .1-1.3 .2 1.2 .1-1.3 .3-2 .1 3.1 .2-1.1 .1 1.1 .2-1.1 .1 1.3 .1-1 .2 1.1 .1-1 .2 1 .1-.9 .2 .9 .1-.9 .2 .8 .1-1.2 .2 1.1 .1-1.2 .1 .9 .3 .1 .1-1 .1 0 .1 1.2 .3-.1 .1-3.5 .1 2.4 .1 1.3 .2 0 .2-.9 .1-2.3 0 3.2 .3-.3 .2-2.3 .1 2.5 .2-1.3 .1 1.3 0-2.5 .3 2.4 .1-1.1 .2 1.2 .2-1.2 .1 1.2 .1-1.3 .2-2.7 .2 4.1 0-.1 .3-4.4 0 4.3 .3-3.4 0 3.4 .1-1.1 .3 .1 .2 1.1 .2-1 .1 1 .2-1.8 0 1.7 .2-1.2 .1 1.1 .3-2.9 0 3 .2-1.2 .1 1.3 .2-1.4 .1 1.3 .3-.1 .1-3.3 .1-1.4 .1 4.6 .2 .1 .2-1.3 .1 1.5 .2-1.2 .1 1.2 .2-3.7 .1 3.7 .2-1.5 .1 1.4 .2-1.4 .1 1.3 .1-1.3 .2 1.1 .2-1.1 .1 1.2 .1-1.2 .2 1.2 .1-1.2 .1-1.4 .3 2.7 .2-1.2 .1 1.4 .3-4.8 0 4.8 .1-2.4 .4 1.1 .1 1.3 .2-2.9 .1 2.8 .1-1.2 .1 1.2 .2-1.2 .2 1.2 .1-1.5 .1 1.5 .2-1.5 .1 1.6 .2-1.4 .1 1.2 .3 .1 .1-1.5 .2 1.4 .1-2.8 .1 2.8 .2-4.9 .2 5 .1-1.4 .1-.3 0 1.7 .3 0 .2-3 .1 3 .2-1.5 .1 1.3 .1-1.3 .2 1.5 0-6.1 .3 6 .1-1.3 .2 0 .2 1.4 .1-3.6 .2 3.6 .1 0 .1-1.3 .2 1.3 0-1.2 .4-1.4 0 2.6 .1-4.7 .3 4.6 .1-1.3 .1 1.4 .2-.9 .2 .9 .2 0 .1-1.2 .2 1.2 .1-1.4 0-.1 .2 1.1 .1-3.3 .2 3.7 .3 0 .1-1.5 .1 1.4 .1-1.9 .1 .4 .2 1.5 .2 0 .2-1.4 .1 1.5 .2-1.5 .1 1.4 .2-1 .1 1.1 .2-1 .1 1 .1-3 .2 3 .1-2.4 .1 2.3 .1-3.5 .4 2.6 .1 1.1 .2-1.5 .1 1.5 0-.3 .2-1.3 .2 0 .2 1.2 .1-1.2 .2 1.3 .2-4.8 .1 4.8 .1-1.2 .1 1.2 .2-2.6 .1 2.7 .2-1.3 .1 1.3 .2-5 .1 5.2 .3 0 .1-5 .2 5 .1-1.5 .1-2.7 .1 4.2 .3 0 .1-1.9 .2 1.9 .1-1.1 .1 1.1 .2-1.3 .2 1.3 0-1.3 .1-.6 .1 2 .2 0 .3-1.2 .1 1.1 .1-1.1 .2 1.1 .1-1.4 .3 0 .1 1.4 .2-1.3 .1 1.4 .2-3.2 .1 3.2 0-.1 .2-1.4 .1-1 .3 2.1 .1-1 .2 1.4 .1-1.3 .1 1.3 .3-3.1 .1 3.1 .1-1.4 .1 1.3 .2-1.3 .1 1.4 .2-1.4 .1 1.2 .2-1.2 .1 1 .2-1 .1 1 .2-2.5 .1 2.8 .2 0 .2-1.1 .1 1.3 .2-1.2 .1 1.2 .2-1.1 .2 1.1 .1-.9 .1 .9 .1-1.3 .2 1.1 .1-1.2 .1-1.5 .1 2.8 .3 .1 .1-1.3 .2 1.3 .1-1.4 .3 0 .1 1.2 .2-1.1 .1 1.2 .2-3.1 .1 3.2 0-.2 .2-.9 .2-.5 .2 1.4 .1-1.2 .2 1.1 .1-1.1 .1 1.3 .2-1.3 .2 1.3 .1-1.9 .1 1.9 .2-1.2 .1 .8 .1-.8 .2 1.1 .2-1.1 .1 .9 .2-.9 .1 1 .2-3.3 0 3.3 .2-.9 .1 1 .4 .2 0-1.2 .2 1.2 .2-.9 .1 .9 .1-2.7 .1 2.6 .2-1 .1-1.5 .1 2.5 .3-.2 .2-2 .2 1 .1 1 .1-.1 .1-.9 .2 0 .2 .8 .1-.8 .2 .9 .1-.8 .2 1.1 .1-1.1 .2 1.2 .3 .1 0-1.7 .1 .7 .1 1 .2-1 .1 1 .3-2.9 0 2.9 .3 0 .1-1.1 .2 1.1 .2-1 .1 1 .2 0 .2-1.1 .1 1.1 .2-1.3 .1 1.3 .2-1.1 .1 1.1 .2-.9 .1 .9 .1-1.1 .2 1 .1-.9 .2 1 .1-1.1 .1 .9 .2-.9 .3-.1 .1 1 .2-1 .1 1 0 .1 .2-1.1 .2 0 .2 1.1 .2-1.1 .1 1 .1-1 .2 1.2 .1-.9 .2 .9 .1-1 .1 1 .2-1 .1 .7 .3-2.3 0 2.5 .2-.9 .1 1 .1-1.1 .2 1.1 .3-.1 .1-.9 .2 1 .1-1.1 .1 1 .2-.9 .1 .9 .2-1.1 .1 .9 .1-.9 .2 1.1 0-1.9 .3 1.8 .1-.9 .2 .8 .1-.8 .2 1.1 .1-1.8 .3 1 .1 .9 .2-.7 .1 .7 0-.1 .2-1 .2-.1 .2 .7 .1-.7 .2 1 .1-1 .2 1 .1-.9 .1 1 .2-1 .1 1.1 .2-2.4 .2 2.3 .1-1 .2 1.1 .1-1 .1 .9 .3 0 .1-1.1 .2 1.2 .1-1.2 .1-.8 .1 1.9 .3-.2 .1-.9 0 .2 .2 .9 .2 .1 .1-.8 .2 .8 .2-1 .1 .8 .1-.9 .2 .9 .1-.9"/>
<path stroke="#e04040" stroke-width="0.300" d="M158.4 115.5l.1-1.1 .2 1.1 .2-1 .1 1.1 .1-1 .2 1 .1-1.1 .2 1.1 .2-1 0 .9 .2-1.1 .2 1.1 .1-1.1 .1 1.2 .2-1.1 .1 1.1 .1-2.5 .2 2.5 .1-1 .3-1 .2 2 .1-1.1 .2 1 .1-1.2 .2 1.1 .1-1.1 .2 1 .1-.9 .2 1.1 .1-1 .1 1 .3 0 .1-1.2 .2 1.1 .1-1.1 .2 1.1 .3 0 .1-1.1 .2 1.1 .1-1 .1 1 .2-1.1 .1 .9 .2-.9 .1 1 .2-1 .1 1.1 .1-.9 .2 .9 .1-1.1 .2 1.2 .1-1.2 .4-.9 0 1.7 0 .2 .2-1.1 .2 .2 .2 1 .1-.9 .2 1 .2-1.1 .2 .1 .2 .9 .1-1 .2 .9 .1-1.1 .1 .8 .4 .1 0-.9 .1 0 .1 1.1 .2-1 .1 1.1 .1-.9 .2 1 .3 0 .1-1.2 .2 1 .1-1 .1 1.1 .2-1.1 .2 1.2 .1-1.3 .1 1.1 .2-.9 .2 1 .1-1.1 0 .2 .1 1 .3-.1 .2-1.1 .1 1.2 .1-1 .2 1 .1-1.2 .3 0 .1 1.2 .2-1.2 .1 1.2 .2-1.3 .3 0 .1 1.3 .1-.8 .2 .8 .1-.9 .1 .9 .3-1.6 .1 1.6 .1-1.1 .2 1 .1-1.2 .2 1.1 .1-1.1 .2 1.2 .1-1 .1 1.1 .1-1.2 .2 1.1 .3 .1 .1-2.4 .2 2.3 .1-1.2 .1 1.3 .2-1.2 .2 1.2 0-1.5 .2 1.3 .1-2.1 .2 2.2 .1-.9 .2 1 .2-.9 .1 .9 .2-.9 .1 .9 .1-1 .2 .8 .1-1.1 .2 1 .1-1 .3 0 .1 .9 .1-.9 .2 1.1 0-.2 .2-.9 .2 0 .2 1 .2-1.1 .1 1.1 .1-1 .2 1.2 .2-2.1 0 2 .2-1.1 .1 1.2 .2-1 .2 .9 .1-1 .1 1.2 .2-1.1 .1 1.1 .3 0 .1-.8 .2 .8 .1-.9 .1 .9 .2-.7 .1 .7 .2-.9 .1 .9 .2-1.2 .1 1.2 .1-1.2 .2 .9 .2-1 .1 1.2 .1-1.2 .2 1.2 .1-1.2 .2 1.2 .1-1.1 .2 .9 .1-1 .1 .9 .2-.9 .3 0 .1 .8 .2-.8 .1 1.2 .1-1.2 .2 1 .1-1 .2 1.3 .1-1.3 .1 1.2 .2-1.1 .2 1.1 .1-1.2 .1 1.2 .3 .1 0-1.8 .3 1.8 .1-1 .2 1 .1-1.1 .1 .8 .2-1.1 .2 1 .1-1 .2 1.1 0-2.2 .2 2.4 .2-1.3 .1 1.1 .2-1.1 .1 .9 .2-.9 .1 .9 .1-.8 .2 1.2 .1-1.1 .2 1 .1-1.1 .2 1.1 .1-1.1 .2 .1 .2 1.1 .1 0 0-1.1 .4-.2 .1 1.3 .1-1.3 .2 1.3 .1-3.5 .1 3.5 .2-1 .1 1 .3-2.7 .1 2.7 .1-1.2 .1 1.2 .1-1.4 .2 1.4 .1-1.2 .2 1.2 .2-.3 .2-1 .2 1.3 .1-3.3 .2 3 0-2.4 .1 1.4 .2 1.3 .2 0 .2-3.1 .1 2.9 .2-1.3 .1 1 .1-1 .2 1.4 .1-1.4 .2 1.4 .1-1.3 .2 1.3 .1-1.2 .2 .2 .2 1 .2-1.4 .1 1.2 .2-1.3 .1 1.2 .2-1.2 .2-2.1 .2 3.5 .2-1.4 .1 1.2 .1-1.2 .2 1.5 .1-1.3 .1 1.3 .2-1.1 .1 1.1 .2-1.1 .1 1.1 .3-.1 .1-1.3 .2 1.1 .1-1.2 .1 0 .1 1.3 .3 .2 .1-1.4 .1 1.2 .1-1.6 .3 1.8 .1-3.5 .1 1.7 0 1.7 .3-.1 .2-1.8 .1 .5 0 1.4 .3 0 .1-1.3 .2 1.2 .2-3.6 .1 3.5 .2-1.3 0 1 .2-1 .2 1 .1-1 .3-.1 .1 1.2 .2-1.2 .1 1.2 .2-1.2 .1 1.5 .1-1.5 .2 1.5 .1-1.2 .2 1.3 .1-1.3 .1 1.3 .2-1.3 .1 1.1 .2-1.3 .1 1.3 .2-1.3 .1 1.5 .3-.5 .1-1.1 .1-2.3 .1 3.5 .3 0 .1-1.2 .2 1.4 .1-4 .1 3.7 .2-1.2 .1-2.6 .1 4.1 .2 0 .1-1.6 .2 1.5 .2-1.1 .1 1.3 .1-1.2 .2 1 .1-1.3 .2 1.5 .1-1.5 .1 1.5 .3-1.5 0 1.5 0-3.8 .4 2.1 .2 1.7 0-.5 .2-1 .2-.1 .2 .9 .2-1 .1 1 .1-1 .2 1.4 .1-1.2 .2 1.2 .2 .1 .1-2.2 .1-1.7 .1 4.1 .1-1.7 .2 1.5 .2-1.1 .1 1.3 .1-1 .2 1 .2 0 .1-4.1 .3 3.9 .1-1.4 .1 1.5 .2-1.2 .1 1.3 .2-5.8 .1 5.6 .1-1.3 .2 1.4 .1-3.8 .2 3.7 .1-1.4 .2 1.1 .1-1.3 .1 1.4 .2-1.4 .3-4 .1 5.3 .2-1.3 .1 1.5 .2-1.4 .1 1.6 .2-1.7 .1 1.5 .1-1.4 .2 1.3 0-2.4 .2 2.7 .2-1.4 .1 1.4 .4 0 0-3.3 .1 1.7 .1 1.5 .2-1.6 .1 1.3 .3 .4 .1-1.7 .2 1.4 .1-1.2 .2 1.1 .2-3.5 .1 3.9 .3 0 .1-1.3 .1 1.4 .2-1.7 .1 1.7 .2-1.4 .1 1.2 .2-1.4 .1 1.5 .2-6 .1 5.9 .1-3.7 .2 3.7 .1-3.7 .2 3.6 .1-1.4 .1 1.3 .2-1.2 .3 0 .1 1.2 .2-1.2 .1 1.5 .1-1.5 .2 1.5 .1-1.3 .2 1.4 .1-1.2 .1 1.2 .2-5 .1 4.9 .2-1.2 .2 1.3 .2-.1 .1-4.2 .2 2.5 0 1.8 .2-1.5 .1 1.5 .2-1.9 .1 2 .1-1.7 .1 1.5 .4 0 .1-5 .2 4.8 .1-1.2 .1-.4 .1 1.5 .2 .3 0-2.5 .3 2.7 .2-5 .1 5 .2-1.4 .1 1.1 .1-1.3 .3 0 .1 1.4 .1-1.3 .2 1.4 .3-4.3 0 4.2 .1-.2 0-1.2 .3 .1 .2 1.1 .1-1.1 .2 1 .1-1 .2 1.3 .1-1.1 .1 1.3 .2-1.2 .1 1.1 .2-1.4 .1 1.1 .1-1.1 .2 1 .3-2.7 0 2.8 .1-1.1 .2 1.1 .2-3.7 .1 4 .3-.1 .1-1.1 .2 1.3 .1-1.4 .1 1.4 .2-1.3 .1 1.2 .2-1.2 .1 1.3 .2-1.3 .1 1.4 .2-1.2 .1 1 0-2.2 .2 2.3 .2-1 .2 1.1 .1-1.3 .2 1 .1-1.2 .1 1.3 .1-1.3 .2 1.2 .1-2.1 .3 .9 .2 1.2 .2-4.3 .1 4.5 .1-.9 .2 1 .1-1 .1 1 .2-1.2 .2 1.1 .1-1.3 .1 1.2 .1-1 .2 1.1 .1-.9 .2 1 .3 0 .1-1.1 .1 .7 .2-1 .1 1.3 .2-1.2 .1 1.2 .2-2.8 .1 2.9 .1-1.2 .2 1.1 .1-1 .2 1.1 .1-1.2 .2 1.1 .1-1.1 .2 1.3 .1-1.2 .1 1.1 .2-1.2 .1 1.1 .2-1.3 .2 .3 .2 1 .1-1 .2 1.2 .1-1.3 .2 1.3 .1-1.3 .2 1.3 .1-1.3 .2 1.2 .2-1.1 .1 1.2 .1-1.4 .1 1.4 .2-1.2 .1 1.1 .3 0 0-1.5 .2-.5 .1 1.8 .3-.1 .1-1 .2 1.1 .3 .1 .1-1.4 .2 1.4 .1-1.2 .1 1.3 .2-1.1 .1 1.2 .2-1 .1 1 .2-1.3 .1 1.1 .1-1.1 .2 1.2 .1-1.1 .3 .3 .1 .9 .1 0 .1-1 .3-.2 .1 1.2 .1-1 .2 1 .2-1.1 .1 1.1 .1-1.1 .2 1 .2-1.4 0 1.6 .2-1.3 .1 1.1 .2-1.2 .2 1.3 .1-1.3 .2 1.4 .1-1.1 .1 1 .1-1 .1 1 .2-1.3 .2 1.4 .2-1.1 .1 1.1 .3 0 .1-1.2 .2 1 .1-1.1 .1 1.1 .2-1.1 .1 1 .1-.9 .2 1.1 .2-1.2 .1 1.2 .1-1 .1-1.3 .1 2.4 .3-.2 .1-1 .2 1.1 .1-1.1 .1 1 .2-1.9 .2 .9 .2 1.1 .1-1.1 .2 1.2 .2-1.2 .1 1.2 .1-.2 0-1.1 .3 0 .2 .9 .1-.9 .2 1.3 .2 0 .1-1.1 .1 .2 .1 .9 .1-1.2 .2 1.1 .2-1.1 .1 1.2 .2-1 .1 1 .1-1.2 .2 1.2 .1-1.2 .1 1 .4-.2 .1-.8 0-.1 .2 1 .2 0 .1-.9 .2 1.2 .1-1.1 .2 1.2 .1-1"/>
<path stroke="#38a838" stroke-width="0.300" d="M158.4 114.8l.1-1.2 .2 1.3 .2-1.4 .1 1.4 .2-1.5 .1 1.2 .2-1.2 .1 1.1 .1-1.1 .1 1.2 .2-1.1 .2-.5 .2 1.9 .1-.9 .2 .9 .2-1.2 .2-.1 .2 1.2 .2-1.5 .1 1.2 0-.1 .2-1.1 .2 0 .2 1.4 .1-1.3 .2 1.3 0-1 .3 1.2 .1-1.5 .1 1.4 .1-1.3 .3 1.2 .2-.1 .1-1.2 .1-.1 .1 1.2 .2 .2 .1-1.5 .3 1.6 .1-1.2 .1 1.2 .2-1.2 .1 1.2 .2-1.5 .1 1.2 .2-1.2 .1 1.1 .2-1.1 .1 .8 .1-.8 .3 .1 .1 1.3 0 .1 .2-1.2 .2 1.2 .1-1.3 .1 1.2 .2-1.4 .3 0 .1 1.5 .2-1.5 .1 1.5 .1-1.3 .2 1.2 .1-1 .2 1.1 .1-1.1 .1 1.1 .2-1.3 .2 1.3 .1-1.4 .1 1.4 .2-1.5 .1 1.1 .3 0 .1-1.1 .2 1.5 .2-1.4 .1 1.3 .3 0 .1-1.1 .1 1 .2-1.1 .2 1.3 .1-1.5 .1 1.5 .2-1.1 .1 1.1 .2-1.5 .1 1.4 .2-1.4 .1 1.4 .1-1 .2 1.1 .1-1.1 .3-.3 .1 1.4 .2-1.4 .2 1.3 .1-1.4 .3 .2 .1 1.3 .2-1.3 .1 1.3 .1-1.4 .2 1.4 .1-1.5 .2 1.4 .1-1.3 .1 1.4 .1-1 .2 1 .2-1.3 .2 1.2 .1-1.3 .1 1.2 .2-1.3 .1 1.1 .2-1.1 .1 1.5 .3 0 .1-1.2 .1 1.2 .2-1.2 .1 1.1 .2-1.4 .1 1.5 .2-1.4 .1 1.3 .2-1.4 .2 1.3 0-1.3 .2 1.2 .2-1.2 0 1.3 .2-1.3 .2 1.5 .1-1.4 .3 0 .1 1.2 .1 .2 0-1.5 .3 1.3 .1-1.3 .1 1.3 .2-1.3 .2 0 .2 1.4 .1-1.4 .1 1.5 .3-1.5 0 1.2 .2-1.2 .1 1.5 .2-1.3 .1 1.3 .2-1.2 .1 1.2 .2-1.4 .1 1.3 .2-1.4 .1 1.5 .2-1.5 .1 1.3 .3 .2 .1-1.5 .2 1.4 0-1.3 .2 1.4 .2-1.5 .1 1.5 .2-1.2 .1 1.1 .2-1.5 .1 1.1 .1-2 .2 2.3 .1-1.4 .2 1.4 .1-1.1 .2 1.1 .1-1.1 .2 1.3 .1-1.4 .3-.2 .1 1.5 .2-1.2 .1 1.1 .1-1.2 .2 1.2 .1-1.2 .2 1.4 .1-1.3 .2 1.2 .1-1.2 .2 1.3 .1-1.1 .1 1.1 .2-1.2 .1 1.1 .3 .1 .1-1.3 .2 1.1 .1-1.4 .1-1.1 .1 2.4 .2-1.3 0 1.2 .3-1.6 .1 1.7 .1-.9 .1 1.2 .3 0 .2-1 .1 1 .2-1.6 .1 1.5 .1-1.3 .2 1.1 .2-1.4 .1 1.2 .1-1.2 .2 1.1 .1-1.1 .3 0 .1 1.3 .1-1.6 .2 1.8 .1-1.8 .2 1.9 0-.2 .2-1.4 .1 1.1 .1-1.1 .5 1.5 0-3.2 .1 1.8 .2 1.5 .1-1.2 .1 1.2 .2-1.3 .1 1.3 .2-1.5 .1 1.1 .2-1.3 .1 1.7 .3-3.7 0 3.5 .3-.6 .1-.9 .2 1.3 .2 .2 .2-1.2 0-1.3 .1 2.7 .3 0 .2-1.6 .1 1.5 .2-1.1 .1 1.1 .1-1.6 .2 1.6 .2-1.4 .1 1.3 .1-1.6 .2 1.5 .1-1.5 .2 1.7 .1-1.4 .4-1.4 0 2.6 .1-1.4 .2 1.6 .1-1.4 .2 1.4 .1-1.5 .2 1.5 .1-1.5 .1 1.5 .3 0 .1-3.8 .2 3.8 .1-3.4 .1 2.2 .1 1.2 .2-1.5 .1 1.5 .2-.4 .2-1.1 .2 1.4 .1-4.4 .2 4.2 .1-3.4 .2 3.5 .1-1.5 .2 1.6 .1-1.4 .2 1.2 .1-1.2 .1 1.3 .2-1.6 .1 1.7 .2-3.7 .1 3.6 .1-1.5 .2 1.6 .2-3.4 .1 3.3 .1-1.1 .1 1.2 .2-1.7 .2 1.4 .1-1.5 .2 0 .2 1.7 .2-3.2 .1 3 .2-2.4 .1 2.4 .1-1.5 .2 1.4 0-4.3 .3 4.5 .1-1.6 .1 1.7 .3-.7 .1-1 .1 0 .1 1.1 .3 0 .1-1.1 .2 1.1 .1-1.2 .1 0 .1 1.5 .2-1.8 0 1.9 .2-1.4 .1 1.4 .3 .2 .2-1.7 .1 1.8 .1-5.3 .2 5.2 .2-1.3 .1 1.3 0-2.5 .3 2.5 .1-2.8 .1 2.7 .2-4.2 .2 4 .1-3.3 .3 1.9 .1 1.5 .2-1.5 .1 1.2 .2-1.4 .1 1.9 .1 0 .1-1.2 .1 1.2 .1-2.3 .5 2.1 0-1.1 .1-.5 .2 1.3 .1-1.4 .1 1.4 .2-4.6 .1 4.9 .2-1.7 .1 1.6 .3-3.4 0 3.2 .2-1.4 .1 1.3 .2-3 .1 3.6 .1-1.5 .1 1.5 .3 0 .2-1.6 .1 1.4 .2-1.7 .1 1.9 .2-1.5 .1 1.5 .2-1.9 .1 1.9 .1-3.5 .2 3.3 .2-1.5 .1-3.4 0 4.8 .2 .2 .1-1.5 .2 1.5 .2-1.2 .1 1.2 .2-1.6 .3-1.8 .1 3.4 .2-1.5 .2 0 .2 1.5 .2-1.5 .1 1.5 .1-1.5 .2 1.5 .1-5.2 .2 4.9 .2 .3 .1-1.6 0-1.9 .2 3 .3-1.5 0 1.6 .3-4.3 0 4.7 .3-2.1 0 2.1 .2-.2 .1-4.2 .2 4.2 .2-4.1 .2 3.9 .1-1.5 .2 1.6 0-2.3 .2 2 .1-1.2 .2 1.5 .1-3.4 .2 3.7 .2-1.6 .2-2.4 .1 3.6 .2-1.1 .1 1.6 .1-1.4 .2 1.4 .2-1.3 .1 1.3 .1-.1 .1-1.8 .2-2.4 .2 4.1 .1-1.7 .2 1.8 .1-1.5 .2 1.2 .1-1.4 .1 1.6 .2-1.6 .1 1.3 .1-1.3 .2 1.4 .1-1.1 .2 1.3 .3 .1 .1-1.4 .2 1.6 .1-4.6 .2 4.6 .1-1.4 .2 1.4 .1-1.3 .1 1.3 .2-1.6 .1 1.5 .2-1.3 .1 1.4 .2-1.5 .1 1.4 .1-1.6 .2 1.7 .1-1.6 .1 1.4 .2-1.4 .2 1.3 .1-1.2 .3 .1 .1 1.4 .1-.2 .1-1.5 .2-.1 .2 1.6 .1-1.6 .2 1.7 .1-2.8 .2 2.3 .1-1.1 .1 1.3 .2-1.3 .2 1.4 .1-1.4 .1 1.1 .2-1.6 .1 1.6 .1-1.1 .2 1.1 .2-1 .1 1.6 .3 .1 .1-1.5 .2 1.3 .1-1.5 .1 1.6 .2-1.7 .1 1.6 .2-1.5 .1 1.4 .2-1.4 .1 1.6 .1-1.6 .2 1.7 .1-1.5 .2 1.5 .1-1.3 .2 1.3 .1-1.2 .2 1.2 .1-1.3 .3-.1 .1 1.4 0-.1 .2-2.9 .2 2.7 0-1.4 .3-2.9 .2 4.3 .2-1.1 .1 1.4 .1-1.5 .2 1.4 .1-1.5 .1 1.4 .2-1.5 .2 1.5 .1-1.5 .1 1.5 .1-1.2 .2 1.4 .2-1.3 .1 1.3 .3-.1 .1-1.5 .2 1.4 .1-1.4 .2 1.6 .1-1.6 .1 1.6 0-1.6 .3 1.5 .2-1.5 .1 1.4 .2-1.3 .1 1.6 .2-1.7 .1 1.7 .2-1.4 .1 1.2 .1-1.3 .2 1.4 .1-1.4 .3 .1 .1 1.4 .2-1.4 .1 1.4 .1-1.2 .4-.2 .1 1.4 .1-1.4 .2 1.4 .1-1 .2 1 .1-1.3 .2 1.3 .1-1.3 .1 1.3 .3 0 .1-1.3 .1-.2 .2 1.3 .2-.2 .1-1.2 0 .1 .2 1.2 .2-1.3 .1 1.5 .1-1.5 .2 1.3 .2 .1 .2-1.3 .2 1.3 .1-1.2 .1 1.4 .1-1.6 .2 1.4 .2-1.1 .1 1.3 .1-1.3 .2 1.2 .1-1.1 .2 1.2 .1-1.2 .2 1.2 .1-1.5 .1 1.5 .2-1.2 .3 .1 .1 1.1 .2-1.3 .3 0 .1 1.2 .2-1.3 .1 1.5 .1-1.3 .2 1 .1-2 .2 1.9 .1-1.2 .2 1.4 .1-1.4 .1 1.4 .3-.2 .1-1.2 .1 0 .1 1.4 .1-1.3 .2 1.3 .3 .2 .1-1.3 .2 1.3 .1-1.5 .2 1.2 0-2.6 .2 2.9 .2-1.4 .2 1.3 .1-1.2 .1 1.3 .2-1.3 .1 1.2 .2-1.4 0 1.3 .2-1.1 .3 .4 .1 .9 .2 0 0-1.5 .2 1.5 .1-1.2 .2 .8 .1-1.1 .2 0 .2 .9 .1-.9 .2 1.1 .1-1.1 .2 1.4 .1-1.4 .2 1.4 .1-1.2 .1 1.3 .2-1.1 .1 1.1 .2-1.8 .1 1.8 .2-1.3 .1 1.2 .2-1.3 .1 1.4 .2-1.4 .1 1.4 .3 0 .1-1.4 0 .3 .1 1 .3 .2 .2-1.1 .1 1.1 .2-1.6 .1 1.5 .1-1.5 .2 1.6 .2-1.5 .1 1.2 .1-1.2"/>
<path stroke="#f08a28" stroke-width="0.300" d="M158.5 114.3l.1-1.5 .1 1.4 .2-1.1 .1 1.2 .2-1.3 .1 1.3 .2-2.5 .1 2.5 .2-1.5 .1 1.5 .1-1.1 .1 1.1 .2-1.1 .1 1.1 .2-1.1 .1 1.1 .3-1.2 .2-.2 .1 1.4 .1-1.4 .2 1.4 .1-1.3 .2 1.3 .1-1.3 .2 1.3 .1-1.5 .1 1.4 .2-1.4 .2 1.2 .1-1.2 .2 1.3 .1-1 .1 1.2 .2-1.2 .1 1.2 .3 0 .1-1.4 .1 1.4 0-1.5 .3 1.5 .2-1.2 .2 1.1 .1-1.4 .2-.3 0 1.3 .2 .4 .2-1.3 0 1.4 .2-1.1 .2 1.1 .1-1.1 .2 .8 .1-1.3 .2 1 .1-1 .2 1 .1-1 .4 0 0 1.2 .1-1 .2 1.2 .2-1.1 .1 1.3 .1-1.6 .2 1.3 .1-1.3 .2 1.6 .1-1.2 .2 1.2 .1-1.1 .1 1 .2-1.3 .1 1.4 .2-1.1 .1 1.1 .2-1.5 .1 1.5 .2-1.6 .1 1.2 .3 0 .1-1.2 0 .2 .2 1.3 .1-1.1 .1 1.2 .3 0 .2-1.1 .1 1.1 .1-1.2 .2 1.2 .1-1.3 .2 1.3 .2-1.2 .1 1.2 .1-1.2 .1-1 .3 2.1 0-.3 .2-1.1 .2 1.1 .1-1.2 .3 .1 .1 1.3 .3-1.8 0 1.8 .2-1.2 .1 1.3 .1-1.3 .2 1.2 .1-1.4 .1 1.2 .3-1.2 .1 1.5 .1-1.2 .1 1.2 .2-1.4 .1 1.4 .2-1.3 .1 1.2 .2-1.4 .1 1.5 .2-2.2 .1 1.9 .3-.1 .1-1.1 .1 1.3 .2-1.2 .1-.7 0 2.1 .3-.4 .2-1.1 .1 1.4 .1-1.3 .2 1.1 .2-.9 .1 1.2 .1-1.4 .2 1.2 .1-3.1 .2 3 .1-1.2 .3 .2 .1 1.2 .1-.1 0-1.3 .4 .1 .1 1.4 .2-1.5 .1 1.3 0-2.7 .3 2.9 .1-1.2 .2 1.2 .1-.8 .3-.2 .1 1 .2-1.2 .1 1.2 .2-1.5 .1 1.4 .3-.3 .1-1.1 .1 .3 .1 1.2 .1-1.4 .2 1.4 .2-1.8 .1 1.5 .3 .1 .1-1.3 .1-1.2 0 2.7 .3-1.9 0 1.9 .3-.1 .1-1.3 .2 1.3 .2-1.4 .1 1.3 .2-1.3 0 1 .2-1 .1 1.3 .2-1.3 .3 0 .1 1.3 .2-1.3 .1 1.2 .2-1 .1 1.3 .2-1 .1 1 .1-1.2 .2 1.2 .1-1.5 .2 1.1 .1-1.1 .2 1.1 .1-1.2 .1 1.3 .2-1.1 .1 1.4 .2-1.3 .1 1.3 .2-1.5 .1 1.4 .2-1.2 .1 1.1 .1-1.2 .2 1.4 .3-.1 .1-1.5 .1 1.2 .1-1.9 .1 1 .1 1.3 .3 0 .2-1.5 .1 1.3 .2-1.3 .1 1.5 .1-1.6 .2 1.3 .1-1.3 .1 1.6 .2-1.3 .2 1.2 .1-1.6 .2 1.3 .1-1.3 .2 0 .2 1.5 .3-1.9 0 2 .1-1 .2 1 .2-1.4 .2-.2 .2 1.6 .1-1.4 .1 1.3 .2-1.5 .1 1.4 .2-1.4 .1 1 .4 .3 0-1.4 .1 0 .1 1.7 .2-1.6 .1 1.6 .2 0 .2-1.4 0-.1 .1 1.3 .4 .2 .1-3.6 .2 3.6 0-3.4 .2 3.2 .2-3.6 .1 3.8 .1-1.3 .2 1.1 .2-1.5 .2 0 .1 1.6 .1-.1 .1-1.2 .2 1.3 .1-1.7 .3 .2 .1 1.5 .1-3.5 .2 3.5 .1-1.5 .2 1.4 .1-1.2 .2 1.3 .1-1.3 .2 1.3 .2-.7 .1-1 .1 0 .2 1.3 .1-1.3 .1 1.2 .3 .4 .1-2.6 0 1.1 .2 1.6 .3 0 .1-1.7 .2 1.7 .1-1.8 0 .5 .2 1.3 .1-1.2 .1 1.2 .3 0 .2-1.5 .1 1.4 .1-1.5 .2 1.4 .1-1.5 .2 1.4 .2-2.3 .1 2.6 .1-1.9 .3 .3 .1 1.5 .2-1.4 .2 1.2 .1-1.2 .2-.2 .2 1.3 .1-1.5 .2 1.3 .2-1.2 .1 1.6 .1-1.6 .1 1.6 .2-4.1 .1 4.2 .2-1.5 .1 1.5 .2-1.8 .1 1.4 .2-1.4 .1 1.2 .3 0 .1-1.2 .1-2.7 .1 3.6 .3 .5 .1-1.4 0 .1 .1 1.4 .3 .3 .2-1.9 .1 1.9 .2-4 .1 3.6 .1-1.5 .2 1.6 .1-1.6 .2 1.6 .2-1.5 .3-.1 0 1.5 .1 .1 .1-1.6 .1 1.6 .2-1.3 .2 1.6 .1-1.6 .1 1.5 .2-3.7 .1-1.4 .3 5 .2-1.7 .1 1.8 .2-1.8 .1 1.3 .1-1.4 .2 1.4 .2-1.7 .1 1.9 .1-4.9 .1 5.2 .2-1.7 .2 1.6 .1-1.8 .1 1.6 .3-4.5 0 4.6 .2-1.3 .1 1.5 .2-3.5 .1 3.5 .2-.3 .2-1.4 .2 1.5 .1-1.4 .2 1.3 .1-1.4 .1 1.7 .2-1.9 .1 1.9 .2-1.5 .1 1.5 .1-1.7 .2 1.7 .1-1.7 .1-1.8 0 2.9 .3 0 .2-1.4 .2-2.2 .2 3.8 .2-5 .1 5.2 .3 .1 0-2.3 0 2.3 .2-3.6 .2-1.8 .1 5.3 .2-1.7 .1 1.6 .2-1.7 .1 1.3 .4 .1 0-3.4 .1 1.7 .1 1.7 .2-1.3 .1 1.6 .3 0 .1-1.7 0-2.7 .2 4.4 .2 .3 .2-1.7 .1 1.7 .2-2 .1 1.6 .2-1.5 .1 1.4 .2-1.4 0-1.7 .1 3.3 .3-.3 0-4.2 .3 4.3 .1-1.3 .3 .1 .1 1.6 .1 .1 .1-1.4 .1 1.4 .2-1.7 .3-4 .1 5.7 0-.1 .1-1.5 .2 1.1 .1-2.1 .3 .8 .1 1.1 .4-2.9 0 3 .1-1.2 .2 1.5 .1-1.5 .1 1.6 .2-1.1 .1 1.4 .2-1.9 .1 1.5 .2-1.5 .1 1.6 .3 0 .1-1.6 .2 1.3 .1-4.3 .1 4.5 .2-1.5 .1 1.7 .4-.3 .1-4 .1 4.3 .1-1.4 .2 1.6 .2-1.5 .1 1.5 .1-1.6 .2 1.5 .1-1.5 .2-1.3 .2 2.8 0-3.1 .3 3.2 0-3.7 .3 3.7 .2-1.4 .1 1.4 .1-1.6 .2 1.6 .2-1.7 .1 1.5 .1-1.4 .2 1.7 .2-4 .1 3.8 .2-.4 .1-3.4 .1 2.2 .2 1.3 .1-1.3 .1 1.6 .3 .1 .1-1.4 .2 1.5 0-2.1 .3 1.9 .1-1.5 0 .6 .2 1.1 .3 0 .1-1.2 .2 1.2 .1-1.4 .2 1.4 .1-1.5 .1 1.5 .2-1.7 .1 1.7 .1-1.6 .2 1.5 .1-1.4 .2 1.3 .2-2.7 .1 2.9 0-2 .2 1.8 .2-1.5 .2 1.4 0-1.4 .2 1.2 .1-4 .3 2.8 .2 1.5 .1-1.5 .2 1.5 .1-1.5 .1 1.4 .2-1.3 .2 1.6 .1-1.7 .1 1.8 .3 0 .1-3 .1 1.5 .1 1.3 .1-1.1 .2 1.3 .2-1.5 .1 1.5 .3-.1 .1-1.6 .1-2 .1 3.6 .2-.2 0-2.8 .4 2.9 .1-1.5 .1 1.5 .2-1.4 .1 1.5 .2-3.3 .1 3.1 .1-1.4 .2 1.4 .1-1.4 .3 0 .1 1.2 .1 .1 .1-1.3 .2 1.4 .1-1.4 .3 .1 .1 1.4 .2-1.2 .1 1.4 .1-1.5 .2 1.5 .1-3.1 .2 2.9 .2-1.4 .1 1.3 .1-1.3 .1 1.6 .2-1.6 .1 1.6 .1-1.5 .2 1.4 .3 0 .1-1.5 .2 1.6 .1-1.6 .2 1.4 .1-1.4 .2 1.2 .1-1.2 .2 1.2 .2 .3 .1-1.5 .2 1.3 .2-1 .1 1.3 .2-1.4 .1 1.4 .1-1.6 .2 1.5 .1-1.3 .2 1.4 .1-1.5 .3-.1 .1 1.4 0 .2 .2-1.5 .3 .1 .1 1.1 .1 0 .1-1.2 .1 1.4 .2-1.4 .1-1.3 .3 2.6 .1-1.3 .2 1.3 .1-1.3 .1 1 .2-1 .1 1.2 .2-1.2 .1 1.1 .1-1.1 .2 1.4 .1-1.4 .2 1.6 .1-3.4 .2 3.1 .3 .1 .1-1.3 .2 1.5 .1-1.1 .1 1.1 .1-1.4 .1 .2 .1 1.1 .3 .1 .2-1.2 .2 1.1 0-1.3 .1 1.3 .2-1.1 .2 1.2 .1-1.4 .3 0 .1 1.1 .2-1 .1 1.1 .2-1.1 .1 1.1 0 .2 .2-1.2 .1 1.2 .2-1.3 .2 .3 .2 1 .2-.9 .1 .9 .2-1.4 .1 1.4 .1-1.4 .2 1.2 .1-1.2 .1 1.4 .2-1.5 .2 1.1 0-1.1 .2 1.2 .2-1.2 .1 1.3 .3 .1 .1-1.4 .1 1.3 .2-1.2 .1 1.2 .4 .1 .1-1.3 .2 1.2 .2 .1 .1-1.3 .2 1.4 .1-1.1 .2 1.2 .1-1.2"/>
<path stroke="#f4a0a8" stroke-width="0.350" d="M158.33 115.21V122.15"/>
<path stroke="#f4a0a8" stroke-width="0.350" d="M164.3 115.21V133.72"/>
<path stroke="#f4a0a8" stroke-width="0.350" d="M167.89 115.21V119.84"/>
<path stroke="#f4a0a8" stroke-width="0.350" d="M173.86 115.21V117.53"/>
<path stroke="#f4a0a8" stroke-width="0.350" d="M182.22 115.21V116.95"/>
<path stroke="#6fc3e8" stroke-width="0.400" d="M215.67 113.48V86.3"/>
<path stroke="#f0a0c8" stroke-width="0.400" d="M216.86 113.48V95.55"/>
<path stroke="#f0b0c0" stroke-width="0.400" d="M218.06 113.48V99.6"/>
<path stroke="#e890c0" stroke-width="0.400" d="M219.49 113.48V101.33"/>
<path stroke="#f5a88a" stroke-width="0.400" d="M221.64 113.48V91.5"/>
<path stroke="#60d0e0" stroke-width="0.400" d="M207.9 113.48V105.38"/>
<path stroke="#50d0e0" stroke-width="0.400" d="M228.21 113.48V106.54"/>
<path stroke="#40b0d0" stroke-width="0.400" d="M230 113.48V109.43"/>
<path stroke="#f0a0d0" stroke-width="0.400" d="M240.15 113.48V108.85"/>
<path stroke="#70d070" stroke-width="0.400" d="M200.14 113.48V111.74"/>
<path stroke="#e0a0a0" stroke-width="0.400" d="M210.89 113.48V110.01"/>
<path stroke="#a0d0f0" stroke-width="0.400" d="M224.03 113.48V107.69"/>
<path stroke="#f0b8d0" stroke-width="0.400" d="M220.44 113.48V97.28"/>
<path stroke="#c0d8f0" stroke-width="0.400" d="M222.83 113.48V103.07"/>
</g>
<rect x="153.1" y="84.2" width="115.1" height="51.6" fill="none" stroke="#000" stroke-width="0.600"/>
<path d="M158.33 135.8v1.72M182.22 135.8v1.72M206.11 135.8v1.72M230 135.8v1.72M253.89 135.8v1.72M153.1 126.2h-1.72M153.1 114.63h-1.72M153.1 103.07h-1.72M153.1 91.5h-1.72" stroke="#000" stroke-width="0.393"/>
<g class="k" font-size="4.917" text-anchor="middle"><text x="158.33" y="142.98">0</text><text x="182.22" y="142.98">2000</text><text x="206.11" y="142.98">4000</text><text x="230" y="142.98">6000</text><text x="253.89" y="142.98">8000</text></g>
<g class="k" font-size="4.917" text-anchor="end"><text x="149.66" y="128.07">−20</text><text x="149.66" y="116.5">0</text><text x="149.66" y="104.94">20</text><text x="149.66" y="93.37">40</text></g>
<text x="210.65" y="81.25" font-size="5.900" text-anchor="middle">Zone Mean Air Temperature [C](Hourly)</text>
<g clip-path="url(#c6)" fill="none" stroke-linejoin="round">
<path stroke="#1b8ccc" stroke-width="0.280" d="M296.4 132.1l.1-13.2 .3-16.3 .2 29.1 .1-28.7 .2 29.1 .1-30.9 .2 30.7 .1-30.7 .2 30.4 .1-33.9 .2 33.6 .1-11.1 .2 11.9 .3-32.6 .1-.5 .1 33.1 .4-.3 0-29.9 .2 30.2 .1-30.9 .1 .1 0 30.6 .3-27.4 .1 27.6 .3-.2 .1-9.7 .2 9.9 .1-31.8 .1 31.8 .2-30.6 .1 30 .1-33.4 .3 34 0-32.6 .2 32.4 .1-30.4 .2 20.3 .1 10.3 .2 0 .1-12.6 .2-21.2 .2 33 .1-31.6 .2 32.4 .2-32.5 .1 32.1 .1-27.2 .2 27.1 .1-29.9 .2 30.2 .1-12.6 .2 11.6 .2 1 .1-32.6 .1-1.2 .1 34 .2-33.7 .1 33.3 .2-32.8 .2 33.2 .1-32.3 .2 32.3 .1-31.4 .1 30.8 .3 .5 .1-10.1 .2 9.3 .1-31.8 .1-.3 0 33 .3-32.8 0 32.8 .2-31.5 .1 31.5 .2 0 .3-32.9 .1 32.8 .1-11.3 .2 11.3 .1-13.4 .1 13.4 .2-31.5 .3-2.5 .1 34 .1-33.5 .2 33.2 .2-32.9 .1 33.2 .1-28.7 .2 28.8 .2-11 .1 10.7 .2-10.9 0 11.2 .2-30.4 .1 30.3 .2-32.7 .2 32.4 .1-31.5 .2 31.9 .3-.5 0-32.8 .1-.6 .1 33.7 .2-12.3 0 12.5 .3-10 .1 10 .2-.1 .2-31.8 .1 .4 0 31.4 .4-.1 .1-29.1 0 .3 .1 28.7 .2-26.3 .1 26.6 .4-10.6 .1 10.1 .1 .3 .2-33.1 .2 1 .1 32.1 .1 0 .2-31.8 .1 32 .1-33.6 .2 33.1 0-33.4 .3 23.3 .2 10 .2-10.2 0 10.5 .2-34.2 .1 34.1 .3-29.8 .1 30.2 .1-33.2 .1 32.8 .2-32.7 .1 31 .1-30.9 .3 32.9 .2 0 .1-11 .2 10.4 .1-25.7 .2 25.8 .1-26 0-1.1 .2 27.7 .1-26 .1 25.4 .4 .2 .1-30.7 0 1.2 .1 29.5 .3-.3 .1-11.3 .1 12 .2-11.5 .4-21.8 0 33.3 0-.1 .1-9.3 .3 9.4 .1-31.5 .2 31.4 .1-33.4 .3 22 .1 11.4 .1-11.9 .1 12 .2-29.7 .1 29.4 .2-32.4 .2 32.3 .1-31.2 .2 31.5 .1-32.1 .2 32.1 .1-11.2 .2 11.2 .2-12.1 0 12 .3-.1 .1-29.2 0-1 .1 30 .4 .2 .1-31.2 .2 31.5 .1-31.6 .1 31.3 .2-31.6 .1-.1 .1 31.2 .3-9.6 .1 9.7 .1 .7 .1-34.5 .1 1 .1 33.5 .3-.2 .2-29.9 .1 29.8 .2-34.4 .1 34.6 .1-33.2 .1 33 .1-12 .4 .3 .1 12 .1-.1 .1-33 .1 32.8 .2-31.9 .1 31.4 .1-27.8 .4-2.3 0 30.8 .1 0 .1-33.9 .4 20.1 .1 13.9 .3-.5 0-31 .1-1.3 .1 32.8 .2 0 .2-31.4 .1-.1 .1 31.5 .3 0 .1-29.3 0 .6 .2 28.7 .3 0 .1-9.4 .1 9.3 .2-34.1 .2 34 .1-34.2 0 .9 .1 33.5 .4-31.8 .1 31.8 .1-10 .2 10 .2 0 .1-9.7 .2-3.4 .1 13 .1-29.5 .2 29.3 .2-31.8 .1 31.9 .1-.3 0-34 .4 1.6 0 32.9 .3-31.5 .1 31.5 .2-13 0 12.4 .2-11.4 .2 12 0-30.9 .3 30.8 .1-31.7 .1 31.8 .3-.5 .1-33.6 .1 .3 .1 33.6 .2-27.7 .1 27.8 .3-.1 .1-11.3 .2 11.3 .1-30.7 .1 29.8 .2-34.3 0 .7 .2 33.7 .1-32.8 .2 32.8 .2 .2 .1-30.7 .2 30.9 0-10.7 .3 10.6 .1-8.9 .1 8.8 .2-35.4 .3 8.1 .1 27 .1 .1 0-35 .2 34.9 .2-34.5 .2-1.1 .2 35.4 .2-10.6 .1 9.8 .2-11 0 11.6 .3-31.6 .1 31.5 .2-31.4 0 30.9 .2-1.3 .2-28 .3 29.3 0-34.5 .1 .2 .1 32.9 .2-11.3 .1 12.6 .4-.3 0-31.9 0-1.1 .2 32.5 .2 .2 .2-33.3 .1 32.9 .1-33.3 .3 32.6 0-34.4 .1 1 .1 33.4 .3-10.4 0 10.1 .3 0 .1-31.8 .2 31.4 .1-34.5 .2 34.5 .1-34.4 .2 34.2 .1-13.5 .1 13.3 .2-34.9 .3 23.9 .1 10.5 .1-10.9 .4-24.4 .1 34.8 .2-31.1 0 29.6 .2-30.2 .2 31.1 .1-30.3 .1 29.5 .2-29.8 .2 30.1 .1-.5 .1-10.3 .3 10.4 .1-30 .3 29.7 0-29.9 .1-.5 .1 30.3 .2-29 0 28.7 .4-.4 .1-33.5 .1 .9 0 32.9 .2-12.5 .1 12.3 .2-.1 .3-28.8 .1 28.4 .2-30.9 .1 31 .1-34.7 .1 34.5 .2-34.2 .3 .1 .1 33.8 .3-10.2 0 10.1 .1-11.7 .2 11.4 0-.1 .2-26.9 .3-5.1 .1 31.9 .2-28.8 .1 27.9 .2-32.5 .1 32.3 .1-30.6 .1 31.3 .2-12.9 .1 12.8 .3-.2 .1-28.8 .2 28.7 .1-31.1 .1 0 .1 30.9 .1-25.8 .1 25.7 .4-.5 .1-30.7 .1 .4 0 30.4 .2-9.6 .2 9.2 .2 .5 .1-9.8 .2 9.5 .1-29.1 .2 29.1 .1-27.5 .3-4.9 .1 32.7 .1 0 .2-32.2 .1 22.4 .2 9.8 .1-9.4 .1 9.7 .2-.8 .1-28.3 .3 29.2 .1-10 .1-21.6 .2 30.9 .1-30.5 .2 31.3 .1-30 .2 30.1 0-.1 .1-9.6 .5 9.5 0-30.1 .1-2 .2 32 0-29.2 .2 29.3 .4 .4 0-30.4 0-.4 .2 30.8 .2-30.8 .1 30.9 .3 0 0-9.4 .3 9.5 .1-30.8 .1 30.7 .2-31.6 .1 31.8 .1-31.9 .2 31.6 .2-31.8 .1 32.5 .1-33.8 .1 34.1 .2-9 .3-1.7 .1 11.2 .1 .1 .2-9.9 0 10 .2-31 .3-.9 .1 32.7 .1-.9 0-9.7 .2 10.8 .1-29.2 .4 18.6 .1 10.9 .2-12.4 0 12.7 .3 .5 .1-33 .1-.2 .2 31.5 .1-30.2 .1 32.6 .2-33.1 .1 32.8 .2-27.7 .1 28.6 .1-9.5 .1 9.7 .4 .3 .1-29 .1 29.3 .2-28.6 .2 27.4 0-28.8 .2 30.5 .1-29.8 .1 .9 .2 29.1 .2-.2 .1-9.6 .3-1.3 .1 11.3 .3-11.3 0 12 .1 .1 .1-11.7 .3-16.1 .1 27.9 .2-32.4 .1 32.8 .1-.8 .1-29.5 .2 19.3 .2 11.5 .2-9.8 .1 9.8 .1-30.1 .1 30.3 .2-28.1 .1 27.5 .3-29.3 .1 28.6 .3 1.7 0-31 .1-.9 .1 32.4 .3-8.8 .1 9.1 .2 0 .1-33.3 .1 .1 .1 32.8 .3 .4 .1-32.6 0 1.7 .2 30.6 .2 .1 .1-32.7 .1 2.9 .1 29.7 .3 .4 .2-10.8 0 9.6 .3-25.8 .1 26.6 .1-33.3 .2 33.7 .2-27 .2-6.1 .1 32.8 .1-.3 0-32.8 .3 19.9 .2 13.5 .3-8.8 0 8.8 .1-.1 0-32.8 .2 31.4 .1-29.4 .3-.8 .1 30.1 .4 1 0-32.1 .1-1.2 .1 33.9 .3-.4 .1-11.1 .2 9.8 .1-30 .3 31.7 0-32.1 .2 32.1 .1-34.2 0 2 .2 32 .2-30.3 0 30.6 .2-30 .1 30 .3-12.5 0 12.4 .3-.7 .2-26.3 .1 26.8 .1-30 .2 30.3 .1-31.3 .2 31.3 .1-30 .4-1.6 0 31.6 .2-10.6 0 9.4 .1 1 .2-11.1 .3-17.4 .1 27.7 .1 .7 .1-31.2 .2-2.3 .2 33.8 .2-30.2 .1 30.1 .1-28.8 .2 28.5 .1-11.9 .1 12.4 .4 0 0-29.3 .1-1.2 .1 30.3 .4 0 0-30.3 .2 30.5 .1-31.3 0-.5 .2 31.4 .2-30.6 .1 31 .2 .1 .2-10.7 .1 .1 .1 9.7 .2 .6 .2-33.4 0 33.6 .3-34 0 33.4 .2-29.7 .2 30.2 .1-33.8 .2 23.7 0 10.3 .4-12.2 .1 11.8 .1 .1 .1-34.1 .2 34.2 .1-31.6 .2-.7 .2 32.5 .2-31.1 .1 31 .1 .1 0-34 .4 23.8 0 10.2 .4-.2 0-30.3 .1-.5 .1 29.5 .4 .5 0-31.6 .1-1 .1 33.4 .4-.8 0-32.3 .1 .6 0 32.5 .4 .1 .1-11.7 .1 11.9 .2-29.7 .1 29.3 .2-30.4 0 1.3 .1 29.5 .4 0 0-32.5 .2 32.4 .2-13.4 .1 13.6 .1-10.5 .2 10.4 .2-11.9 0 11.8 .2-30.9 .2-1.4 .2 32.5 .2-28.4 .1 27.9 .1-27.6 .1 27.9 .3-10.4 .1 10.6 .1-12.4 .2 12.2 .1-.1 0-12.7"/>
</g>
<rect x="291.2" y="84.2" width="115.1" height="51.6" fill="none" stroke="#000" stroke-width="0.600"/>
<path d="M296.43 135.8v1.72M320.32 135.8v1.72M344.21 135.8v1.72M368.1 135.8v1.72M391.99 135.8v1.72M291.2 129.1h-1.72M291.2 117h-1.72M291.2 104.9h-1.72M291.2 92.8h-1.72" stroke="#000" stroke-width="0.393"/>
<g class="k" font-size="4.917" text-anchor="middle"><text x="296.43" y="142.98">0</text><text x="320.32" y="142.98">2000</text><text x="344.21" y="142.98">4000</text><text x="368.1" y="142.98">6000</text><text x="391.99" y="142.98">8000</text></g>
<g class="k" font-size="4.917" text-anchor="end"><text x="287.76" y="130.97">−1</text><text x="287.76" y="118.87">0</text><text x="287.76" y="106.77">1</text><text x="287.76" y="94.67">2</text></g>
<text x="348.75" y="81.25" font-size="5.900" text-anchor="middle">Facility Total Electricity Demand Rate</text>
<g clip-path="url(#c7)" fill="none" stroke-linejoin="round">
<path stroke="#17becf" stroke-width="0.300" opacity="0.55" d="M434.8 129.2l0-5.9 .1 5.8 .1-5.8 .3-.4 .1 6.3 .3-4.2 0 4.2 .1 0 .2-5.3 .1 5.2 .2-4.5 0 4.7 .3-5 .3 4.8 .2-3.4 .1 3.5 .1 0 .1-3.5 .2 .2 0 3.4 .4-.1 .1-5.5 .1-.8 .2 6.2 .1-6.8 .2 7.1 .2-6.5 0 6.3 .3 0 .1-3.7 .1 3.7 .2-4.9 0 5 .2-6.4 .2-.1 .2 6.4 .2-6.4 .1 6.6 .1-6.4 .2 6.1 .1-4.2 .1 4.4 .1-4.3 .3 4.4 .1-4.4 0 4.2 .4 .1 .1-4.4 .2 4.3 0-4.9 .3 4.9 .1-6.2 .2 6.3 .1-6.2 .1 6.1 .1-5.5 .2-.2 .1 5.7 .3 0 .1-5.2 .2 5.2 0-3.9 .2 4 .2-5 .1 4.9 .1-4.7 .3 4.9 0-5.4 .2 5.3 .1-5.9 .3-.4 .1 6.2 .3 .1 0-5.4 .2 5.2 0-4.5 .2-.4 .1 5 .3 .1 .1-4.8 .1 4.6 .2-5.5 .2 5.5 .1-6.3 .2-.3 0 6.6 .2-.2 .2-5.8 .1 6 .1-5.7 .2 5.8 .1-5.7 .2-.8 .1 6.2 .2-6.6 0 7.1 .3 0 .1-5 .2 4.7 0-4.8 .3 .2 .1 4.7 .2 0 .2-3.1 .1-.3 .2 3.4 .2-3.2 .1 3.1 .1-3.1 .1 3.4 .2-4.3 .2 4.2 .1 0 .2-4.4 .1 4.4 .1-4.9 .1 4.7 .1-5.1 .5 5.2 0-2.7 .1 2.5 .1-2.9 .3 3.1 .1-2.7 .1 2.8 .1-3.1 .2-.4 .2 3.4 .1 .1 .1-2.9 .2 2.9 .1-2.6 .3-.9 0 3.4 .2 0 .2-3.7 0-.9 .1 4.6 .3 .1 .2-3.1 .1-.3 .1 3.5 .3-.1 0-3.2 .2-.2 .2 3.4 .2-3 0 3 .2-.1 0-2.6 .3 2.6 .1-3 .2 3 .2-2.4 .1 2.3 .2-2.7 .1 2.8 .1-3 .3 .3 0 2.7 .3-2.6 .1 2.5 .3 .1 0-2.9 .1-.2 .1 3.1 .3 .2 .1-3.5 0 3.2 .2-2.9 .4 3 0-3.2 .2 3.2 .1-3.1 .1 3.1 .1-4.3 .3 4.3 .1-5.4 .1 5.5 .2-4.2 0 4.3 .2-4.1 .3 3.8 0-3.4 .3-.6 .1 4.2 0-3.9 .1 3.9 .3 0 0-3.7 .4 1 .1 2.6 .1-2.1 .2 2.2 .2-.1 0-2 .2 .3 .2 1.8 .1-.1 .1-1.7 .2 1.7 .1-1.4 .2 1.5 .2-1.4 .1 1.4 .1-1.5 .2-.2 .2 1.6 .2 .1 .1-1.8 .1 .5 .1 1.2 .3 0 0-1.2 .2-.5 .1 1.6 .2-1.3 .2 1.4 .1 0 .2-1.4 .2 .1 0 1.4 .3-1.3 0 1.3 .2-1.5 .1 1.5 .2 .1 .1-1.5 .2 1.5 0-1.3 .3 .4 .2 .9 .2-.8 .1 .7 .1-.7 .1 .8 .2-.1 .1-.6 .1 .5 .3-.5 .1 .6 .2-.8 0 .2 .3 .8 .1-.2 0-.5 .4 .5 .1-.7 .2 .1 .1 .6 .1-.6 .1 .5 .3-.5 0 .6 .4-.6 0 .6 .2-.8 0 .8 .3-.5 0 .4 .2-.6 .2 .6 .2-.5 .1 .6 .2-.5 .1 .5 .1 0 .2-.4 .1-.2 .1 .8 .4-.2 0-.4 .1 .4 .2-.5 .1 .2 .2 .4 .1-.5 0 .4 .3 0 .1-.5 .3-.1 .1 .6 .1 0 .1-.5 .1 .1 .2 .5 .2-.1 .2-.5 .1 .6 .2-.7 .2 .2 .1 .4 .1 .1 .1-.6 .2 .5 .1-.4 .4 .4 0-.4 .1 0 .1 .5 .1-.5 .1 .4 .3 .1 .1-.4 .2-.2 .2 .6 .1 0 .2-.5 .2-.2 .1 .7 .1 0 .2-.5 .1-.1 .1 .5 .2 .1 .1-.5 .1-.3 .1 .7 .2-.4 .1 .4 .3-.4 .1 .3 .3 .2 .1-.6 .1 .5 .2-.4 .1 .5 0-.5 .2-.1 .2 .4 .2-.4 .1 .5 .2-.4 .2 .4 .2-.5 .1 .5 .2-.1 .1-.3 .1 0 .1 .5 .2-.5 .2 .5 .1 0 .1-.5 .2 .5 0-.6 .4 .1 0 .4 .3 0 .1-.3 .1 .4 .1-.5 .2 .5 .2-.5 .1 .5 .2-.6 .1 .5 .1-.3 .4-.2 0 .5 .1 0 .2-.5 .1 .5 0-.4 .3 .4 .1-.4 .2 .5 .2-.5 .1 .4 .1-.4 .3 .4 .1-.5 .2 .4 .1-.3 .2 0 0 .6 .2-.1 .1-.5 .2 .4 .2-.4 .2-.1 0 .5 .3-.4 .1 .5 .2-.1 .1-.4 .1 0 .2 .4 .2 0 .1-.4 .1 0 .2 .5 .1-.1 .2-.5 .1 .2 .1 .4 .1 0 .1-.5 .3 .4 0-.5 .3 .2 .2 .3 .1-.6 .1 .6 .2 .3 .2-.8 .2 .1 .1 .5 .1-.5 .4 0 .1 .4 .1-.4 .1 .6 .3-.6 .1 .5 .1 0 .2-.7 .3 .7 0-.5 .1-.1 .2 .5 .2-.4 .1 .5 0-.7 .2 .5 .2 .2 .2-.5 .2 .4 .1-.3 .1 0 .2 .3 .1-.4 .1 .4 .2-.5 .2 .7 .1-.2 .1-.5 .2 .1 .2 .5 .1-.1 .2-.4 .2 .5 .1-.5 .1-.1 .1 .6 .3-.5 .1 .4 .2-.4 .1 .4 .2-.5 0 .6 .2-.5 0 .4 .3 .1 .1-.5 .2 .5 .1-.4 .3 .4 .1-.6 .1 0 .2 .4 .2-.3 0 .5 .3-.5 .1 .4 .1 0 .1-.5 .2 .6 .2-.5 .1-.1 .2 .4 .2-.4 .1 .5 0-.4 .3 .4 .2-.4 .1 .5 0-.1 .1-.4 .2-.1 .1 .5 .3-.4 .2 .4 .1-.4 .1 .4 .2-.5 0 .5 .4 0 .1-.4 .2 0 .1 .4 .1 0 .1-.4 .1 .5 .2-.5 .2 .4 .1-.4 .2 .4 .2-.5 .1 .5 .2-.6 .1 .2 .2 .5 .1-.1 0-.4 .3 0 .1 .5 .2-.6 .2 .5 .2 .2 .1-.6 .1 .4 .2 0 .2-.5 .1 .1 .3 .5 .3 0 0-.6 .3 .6 0-.4 .2 .3 .1-.4 .1 0 .1 .4 .3-.3 .1 .3 .3 0 0-.6 .1 .6 0-.5 .2 .5 .1-.4 .4 .5 0-.6 .1 0 .1 .6 .4 0 .1-.6 .2 0 .1 .5 .1-.5 .2 .5 .2-.4 .1 .4 .2 .1 0-.5 .2 0 .1 .5 .3-.1 .1-.4 .1 .4 .1-.4 .2 0 0 .4 .4-.5 0 .5 .3-.5 0 .6 .2-.1 0-.6 .4 .1 0 .5 .2 0 .2-.6 .3 .5 0-.7 .1 .7 .2-.4 0 .7 .3-1 .3 .8 0-1 .2-.2 .1 1.2 0-1.3 .3 1.3 0-1.4 .1 1.4 .4-1.5 .1 1.5 0-1.6 .2 1.5 .2 .1 .1-1.9 .2 1.9 .1-2.3 .2 0 .2 2.2 .2-2 .1 2.1 .1-2.3 .2 2.2 .2 0 0-1.3 .2 1.4 .1-1.6 .3 1.4 .1-1.3 .2-.8 0 2.3 .2-2.9 .2 2.8 .1 .1 .1-3.2 .4 3.1 0-2.9 .1 .1 .1 2.9 .2-2.7 .1 2.7 .2 0 0-2.9 .4 2.7 0-1.8 .3 2 .1-2 .1 .1 .1 2 .2-.2 .1-2.1 .2 2.2 .2-1.9 0 1.9 .2-2.4 .2 2.3 .2-3.2 .3-.5 0 3.7 0-3.9 .1 4 .3-3.2 0 3.1 .5-2.4 0 2.6 0-2.6 .1 2.4 .5-2.3 0 2.4 .2-.1 .1-3 .2 3 .1-4.9 .1 4.8 .1-4.9 .3 0 0 5 .2 0 0-4.7 .4 4.8 .1-3.1 .3 2.9 0-5 .1 5 .2-5.2 .2 0 .1 5.4 .1-5 .1 4.8 .2-4.6 .1 4.7 .1-5.5 .2 5.5 .1-4.2 .3 4.3 .1-4.5 0 4.5 .4-.3 .1-3.2 .2 3.6 .1-4.7 0 4.5 .2-4.1 .1 .1 .1 4.2 .2-4.6 .2 4.5 .2 0 .2-3.9 .1 .2 0 3.6 .3-.1 .2-4 .1 4.4 .1-4.2 .2-.1 0 4 .3 0 0-3.5 .3-.6 0 4 .5 .1 0-4.3 .1 0 0 4.3"/>
<path stroke="#1f77b4" stroke-width="0.300" opacity="0.8" d="M434.6 126.5l.1 2.8 .2-2.2 .2 2.1 .1 0 .1-2.2 .2 2.3 0-2.5 .3 2.2 .2-2.7 .2 .1 .1 2.8 0-3 .2 3 .3 .1 0-3.2 .3 3.2 0-3.1 .3 3 .1-3.1 .2 3.1 .1-2.1 0-.3 .3 2.7 .1-2.3 .1 2 .3-.1 0-2.5 .3 .3 0 2.1 .3-2.2 .1 2.4 .2-2.3 0 2.4 .2-2.6 .2 2.4 .1 0 0-1.7 .3-.6 .2 2.3 .2-.1 0-2.4 .2 2.4 .1-2.4 .2 0 .2 2.5 .2-2.3 0 2.5 .3-2.5 .1 2.5 .1-2.3 .1 2 .2 0 0-2.1 .2 .5 .2 1.8 .2-.1 0-1.5 .4 .2 .1 1.3 .1 .1 .2-1.4 .1 1.4 .2-1.5 .1-.2 .2 1.7 .1-1.7 .1 1.8 .3-.2 0-1.3 .1-.2 .1 1.6 .4-.1 0-1.4 .2-.1 .2 1.5 .1 .2 .2-1.7 0 .3 .3 1.3 .1-1.4 .1 1.4 .1 .1 .1-1.7 .4 1.6 .1-1.8 .1 1.8 .1-2.5 .2 2.4 .1-2.5 .4-.1 0 2.9 .1-.4 0-2.4 .4 .1 0 2.4 .2 0 .1-1.4 .2 1.6 .1-1.5 .2 1.4 .2-1.3 .1-.2 .1 1.6 .2-1.6 0 1.4 .2 .2 .3-1.7 .2 1.6 .1-2 .2-.1 .1 2 .2 0 .1-2 .2 .2 .1 2 .2-.3 .1-1.6 .2-.1 .1 1.9 .3-.2 0-1.5 .1 1.6 .2-1.6 .1 1.6 .1-1.3 .3 1.5 .1-1.8 .1-.6 .1 2.2 .1 .1 .3-2.1 0-.2 .1 2.3 .4-1.6 .1 1.6 .1-.1 .2-1.3 .1 1.4 .1-2.1 .3 2.1 0-1.9 .1 0 .2 2 .4-2.1 0 2 .1 0 0-1.9 .4 1.9 0-2.1 .2-.1 0 2.3 .2-1.9 .2 1.9 .4-1.4 0 1.4 .2 0 .1-1.5 .1 1.4 0-1.2 .3 1.2 .2-1.1 .2 1 0-1.4 .2 0 .1 1.5 .2-2 .2 1.9 .2-1.6 .1 1.7 .3-1.3 0 1.3 .1-.1 .1-1.2 .2 1.3 .1-1 .3 1 .1-1.2 .2-.1 0 1.3 .2-.1 .2-1.9 0 2 .2-2.3 .3 2.3 .1-2 .1 0 .2 1.9 .2-1.6 .1 1.6 0-1.2 .3 1.3 .1-1.1 .1 1.2 .2-.1 .1-1 .2 .9 .1-.7 .3-.6 0 1.4 .2-1.5 .1 1.6 .3 0 .1-1.2 .1 1 .2-.7 .2 .1 .1 .8 .2-.7 .1 .7 .1-.9 .4 .9 .1-.9 .3 .1 0 .7 .1-.7 .1 .6 .3 .3 .1-1.1 .1 .9 0-.6 .2-.1 .2 .8 .3-.9 0 .8 .1-.6 .2 .6 .2-.6 .2 .7 .2 0 .1-.6 .1 0 .1 .6 .2 0 .2-.6 .2 .5 .1-.6 .2 .1 .1 .6 .1-.2 .1-.5 .3 .1 .1 .6 .2 0 0-.5 .2 .1 .2 .4 .2-.1 .1-.3 .2 .4 .1-.5 .2 .5 .1-.5 .3 .5 0-.6 .1 .6 .3-.1 .1-.4 .3 0 .1 .5 .1 0 0-.6 .3 .6 0-.5 .2 .1 .3 .6 .2-.1 .1-.6 .1 .6 .3-.1 .2-.4 .2-.1 0 .5 .3-.1 .1-.4 .1 .1 0 .5 .5-.6 0 .6 .1 0 .2-.6 .1 .5 .1-.4 .2 0 .2 .5 .2-.5 0 .5 .2-.1 0-.4 .4-.1 .1 .5 .1-.4 .4 .5 .1-.6 .1 .4 .1-.3 .2 0 .2 .4 .2 0 .1-.6 .3 .7 0-.6 .1 .5 .1-.5 .2 .5 .1-.4 .3 .4 .1-.5 .2 .5 0-.5 .3 .1 .1 .4 .2-.5 0 .5 .3-.5 0 .5 .2-.4 .1 .4 .2-.4 .1 .5 .3-.6 0 .6 .3-.1 0-.6 .3 .2 0 .4 .3-.4 0 .6 .2-.1 .1-.4 .2 .4 0-.5 .4 .4 .1-.5 0-.1 .2 .6 .3 .1 0-.5 .4 .4 0-.4 .2 .5 .1-.5 .1-.1 .2 .5 .1-.4 .2 .3 .3-.3 0 .4 .1-.4 0 .4 .3 0 .2-.4 .3-.1 0 .6 .1-.1 .1-.4 .1 0 .1 .5 .3 0 0-.6 .2 .5 .2-.4 .2 .4 0-.4 .3-.1 .1 .5 .2-.4 .2 .5 .1 0 .2-.6 0 .1 .3 .5 .1-.6 .2 .5 .1 .1 0-.7 .3 .8 .1-.6 .3 0 .1 .4 .2-.4 0 .3 .3-.3 0 .5 .2-.1 .2-.4 .2 .4 .1-.4 .1 0 .1 .4 .2-.3 .2 .3 .3-.5 0 .5 .1 .1 .1-.6 .2 .4 .1-.3 .2 .4 0-.4 .4 .4 0-.6 .2 .1 0 .6 .3-.1 0-.4 .4 0 0 .5 .3-.5 0 .5 .2-.5 .2 .5 .1-.7 .2 .6 .1-.4 .2 .4 .1-.4 0 .5 .2-.1 .3-.5 .1 .2 .1 .3 .2-.1 .2-.4 .2 .1 .1 .4 .1-.5 0 .6 .4-.5 0 .3 .2 .2 .2-.6 .1 0 .1 .4 .4 .2 0-.6 .1 .6 .2-.4 .1-.1 .2 .5 .3-.6 0 .5 .2-.5 0 .5 .3-.1 0-.3 .1 0 .1 .5 .4-.6 .1 .5 .3 0 0-.5 .1 .5 .1-.5 .4 .5 0-.5 .1 0 0 .4 .3-.4 .2 .6 .1-.6 .1 .5 .2-.5 .1 .5 .2-.5 .1 .6 .2-.5 0 .5 .3-.1 .2-.5 .1 .5 .2-.4 .2 0 .1 .3 .1-.2 .1 .3 .2 0 .2-.5 0 .1 .2 .5 .2-.2 .2-.4 0 .6 .3-.5 .2 .4 .1-.4 .1 .4 0-.4 .5 .6 0-.6 .3 .4 0-.4 .2-.2 .1 .7 0-.6 .2 .5 .2-.5 .2 .6 .1-.2 .1-.3 .2-.1 .2 .6 .1-.5 .2 .6 .1-.7 .1 .5 .1 0 .2-.4 .3 .1 .1 .3 0-.4 .2 .4 .2 0 .1-.5 .2 .5 .1-.5 .3 0 .1 .4 .3-.4 0 .5 .1-.4 .2 .5 .2-.4 .1 .4 .2 0 0-.5 .3 .5 0-.6 .1 .7 .2-.6 .4-.1 0 .5 .1-.4 .1 .6 .2-.3 .1-.3 .2 .5 .2-.6 .1 .6 .1-.5 .3 .4 .1-.4 .1 .4 .1-.5 .1 .1 .2 .5 .3-.5 .1 .4 .1 0 .1-.5 .3 .1 .1 .5 .1-.1 .2-.4 0 .5 .3-.5 .1 .5 .2-.4 .2 .2 0-.3 .2-.1 0 .5 .5-.1 0-.4 .1 .5 .1-.5 .2 .5 .1-.6 .3 .5 .1-.6 .1 .6 .2-.6 .2-.1 .1 .8 .2-.2 .1-.7 .3 .8 0-.9 .1 1 0-1 .3 .9 .1-.7 .3-.1 .1 .8 .2-.5 .1 .7 .2-.1 0-.7 .2 .6 0-.6 .3 .6 .2-.8 .2-.2 .1 1.1 .1-.1 0-1.2 .4 0 .1 1.2 .2-1.1 .1 1.2 .2-.1 .1-1.3 .1 .1 .1 1.3 .2-.1 0-1 .3-.2 .2 1.3 .2-1.1 .1 1.2 .2-.2 .1-1.3 .2 1.4 .1-1.4 .2-.1 .1 1.3 .3-1.7 0 2 .3-1.8 .1-.1 .2 1.8 .2-1.8 .1 1.7 .1-1.7 0 1.6 .5-.8 0 .8 .1 .2 .1-1.2 .2 .1 0 1.1 .4-.2 .1-1.5 0-.1 .1 1.5 .4 .3 0-1.5 .2-.4 0 1.8 .4-.1 .1-1.3 .1-.1 0 1.5 .3 0 .2-1.2 .1-.1 .2 1.3 .2 0 .1-1.3 .2 1.5 .1-1.5 .2 1.2 .1-1.8 .1 .1 .2 1.7 0-1.6 .3 1.7 .1-1.5 .1 1.4 .2-1.3 .1 1.4 .2 .1 .1-1.6 .4-.4 0 1.9 .3-2.1 0 2.2 .2-.1 .1-2 0 2.1 .3-2.1 .1 .2 .1 1.7 .2-1.8 .2 1.9 .1-1.6 .1 1.6 .1-.1 .2-1.5 .3 1.6 0-1.4 .4-.6 0 2 .1-2.5 .2 2.3 .2 .2 0-2.9 .3 .3 0 2.6 .2 0 0-3 .3 2.9 .2-3"/>
<path stroke="#9467bd" stroke-width="0.300" opacity="0.7" d="M434.7 125.3l.1 4 .1-.1 .1-3.2 .2 .2 .1 3 .2-3 .1 3.1 .2-2.8 0 2.8 .3-2.6 .2 2.5 .1 .1 .2-2.6 .1-.2 .1 2.7 .3-2.6 .1 2.5 .1-2.2 .1 2.4 .3-.1 .1-2.5 .3 2.3 0-2.6 .1-.4 0 3.3 .3-3.5 .1 3.4 .2 0 .1-3.8 .1 .3 .1 3.4 .3 .1 .1-3.9 .1-.2 .1 4 .3-2.4 .1 2.5 .3 .1 .1-1.9 .1 1.9 .1-1.9 .3 1.7 .1-2.3 .3 2.6 0-3.9 .2-.2 0 4.1 .3 0 0-3.6 .3 3.5 0-3.1 .4 3 0-3.6 .2 3.5 .1-3 .1 .4 0 2.7 .3-1.7 .1 1.6 .2 .1 .2-2.6 .3-.6 0 3.2 .2-3 .1 3 .2-.1 .1-2.2 .1 0 .2 2.3 .1 0 .2-2 .2 2.2 .1-2.7 .2-.6 .1 3.1 .1-2.6 .1 2.6 .2-2 .1 2.1 .2-2 .2 1.8 .1-1.6 .1 1.8 .3-2 .1 1.8 .1 .1 .1-3 .2 2.9 .2-3.6 .1 1.9 0 1.8 .3-2.8 .1 2.8 .2-2.3 .2 2.3 .2 .1 .1-2.9 .2 2.9 0-3.6 .2 .5 .1 3 .3 .1 0-3.3 .2 3.1 .2-3.2 .1 3.3 .1-3.4 .2-.5 0 3.9 .4-3.3 .1 3.3 .2-2.3 .1 2.4 .2-.1 .1-2.4 .1 2.5 0-1.9 .3 1.7 .1-2.7 .3-.3 .1 3 .2 .1 .1-3.5 0 .5 .3 3.1 .1-1.8 .1 1.8 .3-.1 .1-1.9 .2 1.8 .1-2.3 .2 2.4 .1-3.4 .1 0 .1 3.5 .2-3 .1 2.9 .1-3.8 .2 3.8 .3-3.5 0 3.5 .2-3.1 .1 3.1 .2-3.2 .1 3.2 .4-3.4 0 3.4 .1-3.7 .1 3.7 .3-3.1 .1 3.1 0 .1 .3-3.2 .1 3.1 .1-2.3 .2-.5 .1 2.9 .2-2.6 .2 2.6 0-.1 .1-3.3 .4 .7 .1 2.6 .1 .1 .1-1.9 .3-.8 .1 2.8 .2-.4 .1-2 .1-.6 .1 2.9 .2-1.6 .1 1.5 .2 0 .1-1.5 .2 1.6 .2-1.6 .2-.8 .1 2.5 .3-2.4 0 2.1 .1 .2 0-2.5 .3 2.6 .1-2.3 .3-.2 .1 2.2 .1-1.9 .1 2.2 .4-2.9 0 3 0-2.7 .3 2.5 .1-2.1 0 2 .4 .1 0-1.7 .3 .7 0 1 .2-.1 .2-.9 .1-.1 .1 1.1 .3-1.1 .1 1.1 .2 0 .1-1.1 .1 1.1 .1-1 .2 .8 .1-1 .1 .3 .1 .8 .3 0 .1-.9 .2 1 .2-.7 .3 .8 0-1 .1-.4 0 1.2 .3-.9 .1 1 .2-.1 .2-.8 .2-.1 0 .9 .2-.8 .2 .9 .2-.9 0 .8 .4-.7 0 .8 .2-.6 0 .5 .1 0 .2-.6 .2 .1 .1 .6 .3-.6 .1 .9 .1-.8 .2 .4 .1 .2 .1-.7 .2 .1 .1 .5 .2-.7 .1 .6 .2 .1 .2-.6 .2 .6 .1-.6 .2 .1 0 .4 .4-.4 0 .4 .1-.4 .1 .5 .3-.5 .1 .6 .1-.5 .2 .3 .1-.3 .2 .4 .1-.5 .1 .5 .1-.4 .2 .4 .2-.6 .2 .6 .1 0 .2-.4 .2-.1 .1 .5 .2-.4 .1 .5 .1-.4 .1 .3 .2 0 0-.4 .4 .4 .1-.4 .1 .5 .2-.5 .1 .4 .1-.6 .2 .2 .1 .5 .2-.5 .1 .3 .2 .1 .2-.4 .1-.1 .1 .7 .2-.6 .1 .5 .3 0 .1-.5 .2 .4 .1-.4 .1 .5 .1-.5 .3-.1 .1 .5 .2 .1 0-.6 .3 .6 .1-.5 .2 .5 0-.5 .1 0 .3 .4 .1-.5 .2 .5 .1-.5 .2 .6 .2 0 0-.6 .2 .1 .1 .4 .2 0 .2-.5 .2 .5 .1-.6 .1 .7 .1-.6 .2 .1 .2 .4 .1 0 .2-.4 .1-.1 0 .4 .5 .1 0-.6 .2 .2 0 .4 .3-.5 0 .5 .2-.6 .1 .6 .4 0 0-.5 .1 .1 .1 .5 .2-.2 0-.4 .3 .6 .1-.5 .2 .4 0-.4 .3 .5 .1-.5 .2 .4 0-.4 .5-.1 0 .6 .1 0 .1-.7 .3 .6 .1-.6 .2 .1 0 .5 .1 .1 .3-.6 .1 .1 .1 .4 .2-.5 .1 .5 .2-.4 0 .4 .4-.4 .1 .5 .1-.5 .2 .5 .3-.5 .2 .4 0-.4 .2-.1 .1 .5 .4 0 0-.5 .1 0 .2 .6 .2 0 0-.6 .2 .5 0-.4 .4 .4 0-.5 .2 .1 .1 .6 .2-.2 .2-.5 .1 .1 .1 .5 .3 .1 .1-.6 .1-.1 .1 .6 .3 0 .1-.6 .2-.1 0 .6 .1 0 .2-.5 .1 0 .3 .5 .1-.4 .2 .6 .1-.7 .1 .4 .1 .1 .3-.4 .1 0 .1 .4 .2-.3 .2 .3 .1-.4 .2 .4 .1-.4 0 .4 .2-.4 .2 .4 .2 .1 .2-.5 .2 .1 .1 .3 .1-.4 .1 .6 .3-.1 .1-.5 .1 .4 .1-.4 .3 .4 0-.3 .3 .3 0-.4 .2 0 .1 .6 .2 0 .1-.6 .2 0 .1 .5 .2-.5 .2 .4 .1 0 .1-.5 .2 .5 0-.4 .4 .5 .1-.6 0 .1 .3 .4 .1-.4 .2 .5 .1-.5 .2 .4 .2 0 .1-.5 0 .5 .2-.4 .2-.1 .2 .6 0-.1 .2-.5 .2 0 0 .6 .4-.5 .1 .4 .2-.5 .1 .6 .2 0 .1-.6 .1 .6 0-.5 .3 0 .1 .5 .2-.1 .2-.4 .2 0 .1 .3 .1-.2 .1 .4 .1 0 .1-.6 .3 .1 .2 .4 .1-.4 .1 .5 .4-.1 0-.4 .1-.1 .1 .5 .1 0 .3-.4 .1 .5 .2-.5 .1-.1 .1 .5 .2-.4 0 .4 .4 .1 .1-.6 .1 .1 .2 .5 .2-.6 .1 .6 .2-.1 0-.5 .4-.1 0 .6 .3 0 0-.5 .1 .1 0 .4 .2-.4 .3 .4 .2 0 .1-.3 .1-.1 .2 .4 .2 .1 .1-.5 .1 .4 0-.4 .3 0 0 .4 .5 0 0-.5 .2 .6 .1-.6 .2 .1 .1 .4 .2-.5 .1 .5 .2 0 .1-.5 .2 .1 .1 .4 .2 0 .1-.5 .1 0 0 .6 .3-.5 0 .5 .3 0 .1-.6 .2 .1 .1 .4 .3-.4 .1 .5 .2-.1 0-.4 .2 .5 .2-.5 .2 0 .1 .5 .2-.6 .2 .5 .1-.5 .2 0 .2 .5 .1-.7 .1 .6 .2 .2 .2-.8 .3 .7 0-.7 .2 .7 .1-.5 .2-.2 0 .7 .2-.7 .2 .8 .2-.2 .1-.6 .2 .7 .1-1 .2 0 .1 1 .1-1.2 .1 1.3 .1-1.4 .1 1.4 .3-.1 .2-1.4 0-.1 .2 1.6 .2-.3 .1-1 .1 .2 .1 1.1 .2-.2 .1-1 .4 1.1 0-.8 .3-.2 .1 1 .2 0 0-1.1 .1 1.1 .3-1.2 .1 1.2 0-1 .3 .8 .1-.6 .2-.6 0 1.3 .5-1.7 0 1.7 .1 .1 .2-2 .1 1.9 .1-1.7 .2 1.6 0-1.7 .4 .1 .1 1.8 .1 0 .1-1.9 .2-.2 .2 2.2 .1-.2 .1-2.3 .2 .5 .1 1.9 .3-1.7 .1 1.5 .1 .3 .2-2.1 .2 .1 .1 1.8 .1-2.4 .1 2.4 .1-.1 .2-2 .1 2.1 .3-1.4 .1-.8 0 2.3 .3-2.6 .1 2.7 .2-2.9 .1 2.7 .2-2 .2 2 .1-2.4 .2 2.4 .1-2.3 .1 2.4 .1-1.9 .1 1.8 .3 .1 .2-2 .1 1.9 0-1.7 .3-.5 .1 2.1 .2 .1 .2-2.6 .2-.2 0 2.8 .3 0 .1-2.8 .2 3 0-2.8 .2 .3 0 2.4 .3-1.9 .2 1.8 .1 .1 .2-2 .1 1.9 .2-2.9 .1-.5 .2 3.5 .2-3.7 0 3.8 .2-3.9 .1 3.6 .3 .1 .1-2.8 0 .3 .1 2.7 .2-.2 .3-1.9 .2-1 .1 3 .1-3.8 .2 3.7 .3-3.9 0 3.9 .1-4.2 .1 4.2"/>
<path stroke="#2ca02c" stroke-width="0.300" opacity="0.8" d="M434.6 129.3l.2-1.3 0 1.2 .3-1.4 .1 1.3 .1-1.5 .2 1.7 .1-1.7 .2 0 .2 1.4 .1 .2 .1-1.7 .2 1.9 .2-1.6 .2 1.4 .1-1.3 .2 1.2 0-1.2 .2 1.2 .2-1.4 .2 1.5 0-2.1 .2 1.8 .1-2.2 .2 2.5 0-2.4 .2 .9 .1 1.6 .2 0 .3-1.4 .2-.2 .1 1.5 .2-1.2 .1 1.2 .1 0 .1-1.2 .2 1.2 0-1.2 .4-.2 .1 1.4 .1 0 .2-1.5 .1 1.5 .1-1.7 .3 1.9 .1-1.8 .1 1.7 .2-2.2 .2-.3 0 2.4 .2 .1 .1-2.4 .2 0 .2 2.1 .2-2.1 .1 2.3 .1-.1 .2-2.5 0 .4 .1 2.2 .2-2 .3 2 .2 0 0-1.8 .3 1.6 .1-2.1 .1 2.3 .2-2.3 .1 .2 .1 2.1 .2-.1 0-1.8 .4 .2 0 1.8 .2-1.3 .1 1.2 .3 0 .1-1.3 .1-.4 .1 1.7 .3-1.8 0 1.8 .1-.2 .1-1.3 .3-.4 0 1.9 .3-.2 .2-1.8 .3 2 0-2.3 .1 2.4 .2-2.4 .1 2.3 .1-1.4 .2 .1 .2 1.3 .2-1.2 0 1.2 .3 0 .1-1.2 .1 .9 .2-1.8 .3 2.1 0-2.1 .1-.1 .1 2 .2-1.9 .2 2.2 .1-2.5 0 2.4 .2 .1 .2-2.3 .3 0 .1 2.1 .2 .2 .1-2.4 .1 2.2 .1-2.3 .2 .4 .1 2 .2-1.7 .1 1.5 .2 .2 0-1.3 .2 1.2 .2-1.3 .2 .2 .1 1.2 .3 .1 .1-1.4 .1 .3 0 1.1 .2 0 .2-1.4 .2 1.3 .1-1 .3-.2 .1 1.2 .1-1 .1 1.1 .3-.1 .1-1.2 .3-.3 0 1.6 .1-.2 .1-1.8 .2 .1 .1 1.7 .2-1.7 .2 1.5 .2 .3 .1-1.7 .2 .2 .1 1.6 .2-2.1 .1 2 .2-1.8 0 1.8 .2-1.7 0 1.8 .5-1.6 0 1.5 .1-.1 .2-1.5 .3 1.6 0-1.4 .2 1.5 .1-1.7 .1-.2 .1 1.9 .3-1.4 0 1.3 .2-.1 .1-1.5 .3 0 0 1.7 .3-1.9 0 1.7 .2 .2 0-1.7 .4 1.6 .1-1.9 .2 .1 .1 1.8 0 .1 .2-1.8 .3 1.7 .1-1.4 .1 1.3 .1-1.4 .2 .3 .1 1.1 .2 .1 .1-1 .1 0 .1 1 .3 0 .1-1.1 .1 1.3 .2-1.2 .2-.2 .1 1.1 .3-.9 .1 1.1 .2-.9 0 .7 .4 .1 0-.6 .1 0 0 .7 .4-.9 0 .8 .2-.1 .2-.7 .1 .9 .2-.8 .1 .1 .2 .6 .2 0 0-.5 .1 .6 .2-.5 .1 .4 .2-.4 .3 .4 .1-.6 .2 0 .1 .7 .1-.7 .1 .8 .1-.8 .2 .7 .2-.1 0-.6 .3 .6 .2-.6 .1 .1 0 .5 .3 .1 .1-.6 .2 .6 .1-.6 .2 .1 .1 .5 .3-.6 .1 .6 .1-.5 .1 .5 .2-.5 .1 .6 .4-.1 0-.5 0 .1 .3 .3 0-.3 .2 .3 .3 .1 .1-.4 .2 .4 .1-.5 .2 .5 0-.5 .2 0 .1 .5 .2 0 .1-.3 .2 .3 0-.4 .3 0 .1 .4 .1-.5 .3 .5 .1-.4 0 .3 .3 .1 .1-.5 .2 .2 0 .3 .4 .1 .1-.5 .1-.2 .1 .7 .2 .1 .1-.5 .2-.1 .1 .5 .3 0 .1-.5 .1 .4 .2-.5 .1 .6 .1-.6 .2 .1 .2 .5 0-.1 .1-.5 .3 .5 .2-.4 .1 .3 .1-.4 .2 .5 0-.4 .3-.2 .1 .6 .3-.5 .1 .6 0 .1 .1-.6 .5 .4 0-.4 .1 0 .1 .4 .3-.6 .1 .6 .1 0 .1-.4 .3-.2 0 .6 .3 .1 .1-.5 .2 .5 .1-.5 .1-.1 .2 .5 .1 0 0-.5 .4 .1 0 .4 .3-.4 0 .5 .2-.6 .2 .5 .1-.4 .1 .4 .2-.5 0 .5 .4 .1 .1-.6 .1 .5 .2-.5 .1 .6 .2-.5 .2 0 .1 .5 .3-.5 0 .4 .1 0 .1-.4 .4 .4 0-.5 .2 .6 .1-.5 .2-.1 .1 .5 .1 .1 .2-.5 0 .5 .1-.6 .4 .5 .1-.5 .1 .6 .2-.5 .2 0 .1 .4 .3-.5 0 .5 0 .1 .3-.5 .2 0 .1 .5 .1-.5 .1 .5 .3-.4 .1 .4 .2 0 .1-.5 .2 .5 .1-.5 .1 .3 .1-.3 .2 .5 .1-.4 .2-.2 0 .6 .2-.1 .2-.5 .2 .5 .2-.4 .1-.1 .1 .6 .4-.1 0-.4 .1 0 .1 .4 .3-.1 .1-.5 .2 .6 .1-.4 0 .4 .1-.5 .4 .1 .1 .5 .1 0 .2-.5 .1 .5 .1-.5 .3 0 .1 .5 .1-.5 0 .4 .3-.5 .1 .6 .2 0 .2-.5 .1 .5 .1-.6 .1 .2 .3 .4 .3-.5 0 .4 0-.3 .3 .3 .1 .1 0-.6 .2 0 .1 .5 .3-.4 .1 .4 .1-.1 .2-.4 .3 0 .1 .5 .2-.5 .4 .1 0 .5 0-.5 .1 .4 .3-.4 .1 .4 .2-.4 0 .4 .3-.5 0 .6 .3-.8 .2 .8 .2-.5 .1 .4 .2-.5 .1 .6 .2 .1 .1-.8 .1 .6 0-.4 .4 0 0 .5 .3 0 0-.5 .4 .4 0-.6 .1 .6 0-.5 .3 .5 .1-.4 .3-.1 .1 .5 0-.5 .1 .4 .4 .2 .1-.6 0 .1 .3 .3 .1 .2 .1-.5 .3 0 0 .4 .1-.4 .1 .4 .3 0 .1-.4 .3 .1 0 .3 .2 .1 .2-.5 .1-.1 .1 .5 .1-.4 .1 .5 .3-.5 .2 .4 .1-.5 0 .5 .5 0 0-.6 0 .2 .2 .4 .2-.5 .2 .7 .1-.2 0-.4 .2 0 .1 .6 .4-.1 0-.4 .3-.1 .1 .5 .1 0 .2-.6 .3 .2 0 .4 .2-.6 .1 .6 .1-.5 .2 .5 .1-.5 .2 .5 .2-.5 .1 .4 .2 0 0-.4 .2 .4 .1-.4 .1 0 .1 .4 .3-.4 .2 .5 .3-.4 0 .4 .1-.1 .1-.6 .3 .7 .1-.5 .1 .4 .1-.4 .4 .4 0-.4 .2 .5 0-.5 .2 0 .1 .4 .4 .1 0-.5 .1 .4 .2-.4 .3-.1 0 .5 .1-.3 0 .3 .4 .1 0-.6 .3 .1 .1 .4 .1 0 .1-.5 .3 .6 .1-.5 .2-.1 .1 .5 .1-.5 0 .5 .4-.4 .1 .4 0-.1 .2-.4 .3 .5 0-.5 .1 0 .3 .5 .1 .1 .1-.5 .1 0 .2 .4 .2-.5 0 .6 .4-.1 .1-.8 .2 .3 .1 .5 .1-.7 .2 .6 .2 .1 .1-.9 .3 .9 0-.8 .2 .9 .1-.9 .2 .8 0-.8 .3-.1 .1 .7 0-.4 .2 .6 .2 0 .1-.8 .4 .3 0 .5 .2 .1 .1-.8 .1 .7 .1-.7 .3 .7 .1-.9 .1-.2 .1 .9 .2 .1 .1-1.1 .2 1.2 .2-1.1 .1 .1 .2 .8 .1 .1 .1-.9 .2 0 .1 .9 .2 .2 .1-.8 .2-.2 .1 .9 .2 0 .2-.9 .1-.1 .2 .9 .3 .1 0-.8 .2 0 .1 .7 .1-.9 0 .9 .3 .2 .1-.9 .2 .7 .2-1 .1 .3 0 .8 .3-1 0 1.1 .2-1 .3 .8 .2-1.1 .1 1.1 .1 0 .1-1 .2 1.1 .1-1.2 .2 1 .2-1.2 .1 1.4 .2-1.4 .1 1.3 0-1.5 .2 .6 .1 1 .4-1.4 .1 1.4 .1-1.1 .2 .9 0 .2 .1-1.1 .3 1.1 .2-1.3 .1-.1 .1 1.4 .4-.1 0-1.7 .1 1.8 .1-1.5 .3 1.7 .1-1.9 .2 1.5 .1-1.9 .1 2 0-2.1 .3 0 .1 1.9 .2 .3 .1-2 .3 .3 .1 1.7 .2-1.4 0 1.5 .4-1.5 0 1.2 .2-1.9 .1 1.9 .1 .3 .2-2.6 .2 0 .1 2.3 .1-1.8 .1 1.9 .2-1.5 .1 1.6 .2-.2 0-1.3 .2 1.3 .2-1.8 .2 1.9 .1-2.1"/>
<path stroke="#1f9a9a" stroke-width="0.300" opacity="0.9" d="M434.7 127.4l0 1.9 .2-.3 .2-2.5 .1 .1 .1 2.4 .2 .3 .1-3.1 .2 3 .1-3 .2 2.9 .2-2.6 .1 2.6 .1-2.4 .2-.2 .2 2.7 .2-2.7 0 2.7 .2-.1 .1-2.6 .4 .7 0 2 .1-2 0 1.9 .2 .1 .1-2.4 .3-.2 .1 2.5 .2 0 .1-2.1 .4 2.2 0-2.4 .1 2.3 .2-2.5 .1 .3 .1 2.2 .2 .2 0-2.4 .4 2.3 .1-2.5 .2 2.5 .1-2.5 .1-.1 .2 2.6 .2-1.6 0 1.4 .3-1.1 0 1.3 .4-1.7 0 1.8 .1 0 .1-1.4 .2-.1 .2 1.5 .2-1.9 .1 1.7 .2-2.1 0 2.2 .2 .1 .1-2.5 .2-.3 .1 2.7 .2 0 .1-2.5 .2 .2 .1 2.3 .2-2 .1 2 .1 0 .2-1.2 .2-.5 .1 1.7 .2 0 0-2 .3-.3 .1 2.1 .2-1.8 .2 1.9 .1 .1 0-1.6 .5-.1 0 1.8 .3-1.5 0 1.4 .2-.2 0-1.3 .2 1.6 .1-1.6 .2-.2 .2 1.7 .1 0 .2-2.4 .2-.2 0 2.5 .2 .1 0-2.7 .3 .5 .1 2.2 .1-.1 .3-2.4 .1-.1 .1 2.4 .1 .2 .2-2.8 .2 0 .1 2.7 .2-.1 .1-2.5 .2 .8 0 1.9 .5-1.7 0 1.5 .2-1.5 0 1.6 .2-1.5 .1 1.4 .2 .1 .1-2.2 .3-.4 0 2.6 .2-2.6 .1 2.6 .2-2.1 .2 2.2 .1-1.6 .2 1.7 .1-1.2 0 1.1 .4-1.3 .1 1.3 .3 0 0-1.3 .2 1.3 .1-1.4 .1 1.4 .2-1.3 .1-.1 .1 1.5 .3-.1 0-1.7 .3 1.6 .1-2.7 .1 .4 .2 2.4 .1-2.5 0 2.5 .5-2.3 0 2.2 .1 .2 .2-2.2 .2 0 0 2 .2-1.8 .1 1.9 .2 0 .2-1.3 .1 1.4 .1-1.2 .2 1.2 .2-1.6 .1 1.6 .1-1.9 .3 1.9 .1-2.1 .1 1.9 .2-2.2 .1 .1 .2 2 .2 .2 0-2.3 .3 2.3 .1-2.1 .1 .1 .1 1.9 .2 .1 0-2.1 .3 2 .1-1.8 .2 0 .2 1.9 .1-1.7 .2 1.7 .2-.2 0-1.2 .2 1.5 0-1.2 .2 0 .2 1 .1-.9 .2 1.1 .4-.1 0-1.4 .1 1.3 .2-1.2 .1-.4 .1 1.8 .2-1.4 .2 1.4 .1 .1 .1-1 .2-.1 0 .8 .3 .1 .2-.8 .2 .8 .1-.7 .3 .7 0-.5 .1-.1 .2 .7 .3-.1 0-.9 .2 1 0-1 .2 .4 .1 .5 .2 0 .2-.6 .2-.1 0 .7 .1 .2 .3-1 .2 .1 .1 .7 .2-.7 .1 .7 .2 0 .1-.5 .1 .6 .2-.6 .1 0 .1 .6 .3-.7 0 .7 .2 0 .1-.5 .2 .4 .2-.5 0 .5 .3-.5 .1 .1 .1 .4 .2-.5 .1 .5 .3-.5 0 .6 .1 0 .2-.6 .3 .5 .1-.3 .2-.1 .1 .4 0-.3 .3 .5 .1-.6 .1 .5 .2 .1 0-.5 .2-.1 .2 .5 .3 .1 .1-.6 .1 .5 .1-.6 .2 .1 .2 .6 .2-.6 .1 .6 .1-.1 .1-.4 .3 0 .1 .4 .2 0 .1-.5 .1 .5 .2-.4 .1 0 .2 .5 .3-.5 0 .5 .2-.6 .1 .5 .1-.4 .2 .5 .2-.5 .1 .4 .1-.4 .2 .4 0 .1 .1-.5 .3 .5 .1-.6 .2 .1 .2 .4 .2-.5 .1 .5 .1-.5 .1 .6 .2-.1 .1-.4 .3 .4 .1-.5 .2 .1 .1 .4 .3-.4 0 .5 .2-.5 .1 .4 0-.5 .3 .6 .1-.5 0 .5 .4-.1 .1-.5 .2 .5 .1-.4 .1 0 .2 .6 .1-.2 0-.5 .3 .1 .1 .5 .2 0 .1-.6 .2 .6 .2-.5 .2 0 .1 .3 .1 0 .1-.3 .4-.1 0 .4 .1 .1 .2-.4 .1 .4 .1-.4 .3 0 .1 .3 .3 .1 0-.5 .3 .2 0 .4 .2 0 .1-.6 .1-.1 .1 .6 .3-.6 .1 .5 .2 .1 .1-.5 .2 .6 .1-.5 .2 0 .1 .4 .1-.4 .2 .4 .1-.4 0 .4 .3-.5 .2 .5 .2 .1 0-.7 .3 .8 0-.6 .3 0 .1 .6 .1-.8 0 .7 .5-.6 0 .5 .2 0 .1-.4 .1 .5 .1-.7 .2 .6 .2-.4 .1 .6 .2-.5 0-.1 .3 .4 .2 0 0-.4 .2 0 .1 .5 .2-.1 0-.4 .3 .5 .2-.6 .1 .5 .2-.7 0 .3 .2 .4 .1-.4 .1 .4 .3-.6 .1 .6 .3-.4 .1 .4 .3-.5 0 .6 .1-.6 0 .7 .3-.8 0 .6 .3 .1 .2-.5 .1 0 .1 .4 .2-.4 .2 .4 .1 .1 0-.4 .3-.1 .2 .4 .1 0 .1-.4 .1 .5 .1-.6 .4 0 0 .5 .4 0 0-.4 .1 .4 0-.4 .2 0 .1 .4 .4-.4 .1 .4 .1 0 0-.5 .4 0 0 .5 .3-.4 .1 .4 .1-.4 .1 .4 .3-.4 .1 .4 .1-.1 .1-.3 .2 .5 .1-.5 .2 0 .1 .5 .2 .1 .2-.5 .1 .3 .1-.4 .3 .4 .1-.6 0 .7 .1-.4 .3 .3 .1-.4 .2 0 .1 .3 .2 .1 .1-.4 .2-.1 .2 .5 .1-.4 0 .5 .2 .1 .2-.7 .3 .1 .1 .4 .1 0 .1-.5 .2 .1 .2 .5 .1-.5 .1 .5 .2-.6 .2 .5 .1-.4 .3 .5 .1-.6 .2 0 .2 .5 .3-.4 0 .4 .1-.4 .2 .4 .1 0 0-.4 .3 .5 .1-.4 .2-.1 .1 .4 .2 .1 .2-.5 .2 0 0 .5 .3-.5 0 .6 .3-.6 0 .4 .2-.5 .2 .6 .1-.7 0 .6 .2-.3 .2 .3 .3 .1 .1-.6 .2 0 0 .5 .1-.4 .1 .4 .3 .1 .2-.6 .1 .5 .1-.4 .1 .4 .2-.4 .3 .5 .1-.4 0-.1 .1 .5 .4-.6 .1 .6 .2 0 0-.5 .4-.1 0 .5 .1-.5 0 .5 .3-.4 .1 .4 .2 .1 .1-.5 .3 .1 .1 .4 .1-.5 .2 .4 .2-.4 .1 .4 .2 .1 .1-.6 .1 .1 .2 .4 .1-.4 .1 .4 .4 .1 0-.6 .2 .1 .1 .5 .1-.2 .1-.4 .3 .6 .1-.6 .2-.1 0 .6 .3-.5 .1 .7 .1-.6 .1 .4 .4-.5 0 .4 .1 0 .2-.3 .1 0 0 .4 .4 0 .1-.6 .2 .1 .1 .5 .1 0 .1-.6 .3 .5 .1-.5 .1 .5 .2-.7 .1 0 .1 .7 .2-.7 .1 .8 .2-.9 .2 .9 .1-.9 .2 .8 .2 .1 .1-.7 0 .6 .3-.6 .2 0 .1 .7 0-.1 .3-.8 .2 .9 0-.8 .3 .7 0-.8 .2-.2 .1 1 .2-1.2 .1 1.1 .2-1.1 .2 1.1 .2-.9 .1 .9 .1-1 .2 1.2 .1 .1 .1-1.2 .2-.1 .1 1.1 .2 0 .1-1.4 .2 .2 .1 1.3 .2-1.4 .1 1.2 .3 0 0-1.4 .3 1.6 .1-1.5 0-.1 .1 1.5 .3-1 .1 1 .4 .1 0-1 .1 .9 0-1.1 .3 .3 .1 .8 .1-.9 .3 1 .2-1.4 .1 1.2 .1 .2 .2-1.3 .2 0 0 1.2 .2-1 .1 1 .1 .1 .3-1.3 .3-.4 0 1.7 .1-.1 .2-1.7 .2 1.8 0-2 .1 2.1 .1-1.9 .5 1.5 0-2.1 .1 .3 .1 1.8 .1-1.6 .1 1.6 .3-1.6 .1 1.7 .1 .1 .3-1.8 .1 0 .1 1.8 .2 .2 .2-2.6 .2 2.3 0-2.1 .2-.2 .1 2.6 .2-2 .2 1.8 .1-.1 .1-1.6 .3-.1 .1 1.8 .1-.1 .2-2.1 .2 .1 .1 2.2 .1-2.1 .1 2.1 .3-2.2 .1 2.2 .2-2.6 .1 2.3 0-2.5 .2 2.6 .1-2.3 .2 2.3 .3-1.5 0 1.7 .2-.1 .1-1.4 .2 0 .1 1.3 .2 .2 .2-1.5 .2 1.4 .1-1.6 .2-.9 0 2.6"/>
<path stroke="#1f9a7a" stroke-width="0.350" d="M434.5 129.1l45.7 0 .2 .1 0-.1 .2 .1 .3 0 .1 .1 .1-.1 .2 .2 .2-.2 .1 .2 .1 .1 .2-.2 .1 0 .1 .2 .2 .1 .2-.3 .3 .4 0-.3 .1-.1 .1 .4 .1-.3 .3 .4 .2 0 0-.4 .2 0 .2 .5 .1-.4 .1 .5 .2 0 .1-.5 .4 .6 0-.6 .2 0 0 .6 .1-.5 .1 .6 .3-.6 .2 .7 .1-.7 .2 .7 .2-.7 .1 .8 .2 0 .1-.7 .2 .8 .2-.8 .2 .8 0-.8 .2 .9 .2-.8 .1 .8 .3-.8 .1 .9 .1-.9 0 .9 .3-.9 .1 1 .3-1 0 1.1 .3-1 .1 1 .1 0 0-.9 .3 .9 .2-1 .2 1.1 .1-1.1 .1 0 0 1.2 .3-1.1 .2 1.1 .1-1 .1 1.1 .2 0 0-1.2 .2 .1 .3 1.2 .2 .1 0-1.4 .3 1.4 0-1.3 .3 0 0 1.4 .2-1.3 .2 1.3 .1-1.4 0 1.5 .4-1.5 .1 1.6 .2 0 .1-1.5 .2 1.6 0-1.6 .3 1.5 .1-1.5 .2 1.6 .2-1.5 0 1.4 .2-1.5 .3 1.5 .3-1.5 0 1.5 .1 0 .1-1.5 .2 1.4 .1-1.4 .1 1.3 .3-1.3 .2 1.4 0-1.4 .3 1.4 .1-1.5 .1 .2 0 1.3 .3 0 .2-1.5 .2 1.5 .1-1.5 .1 .1 .1 1.4 .4-.1 0-1.4 .1 0 .2 1.4 .1 .1 0-1.2 .3 1 .1-1.3 .3 0 .1 1.4 .2-1.3 0 1.3 .2-1.4 .2 1.4 .2-1.4 .1 1.2 .1 .1 0-1.4 .3 0 .2 1.3 .2-1.3 .1 1.1 .1 0 .1-1.1 .2 1.1 0-1.1 .3 1.1 .1-1.2 .2 1.1 .1-1.1 .2 1 .1-1 .4-.1 0 1 .1-1 .2 .9 .2-.9 .1 .8 .1 .1 .1-.9 .2 0 .1 .8 .2-.1 0-.7 .3 .7 .2-.7 .1-.1 .2 .7 .1-.8 0 .8 .5-.1 0-.7 .1 .7 .2-.6 0 .5 .1-.6 .4 .6 .1-.5 .2-.2 .1 .6 .1 0 .1-.6 .2 .6 0-.6 .5 .4 0-.4 .1 .5 .1-.6 .2 .5 .2-.5 .1 .5 .1-.5 .3 0 0 .4 .3 0 0-.4 .2 .3 0-.3 .2 .3 .3-.3 0 .2 .3-.3 .2 .3 .1-.3 .1 .2 .2-.2 .1 .2 .2-.2 .1 .2 .2-.3 .1 .2 .2-.2 0 .2 .3-.2 .2 .2 .1-.2 .2 .2 0-.2 .1 0 .1 .2 .3 0 .2-.2 .1 .2 .2-.2 .1 .2 0-.2 .3 0 0 .2 .4-.2 .1 .2 .2-.2 .2 0 .2 .2 .1-.2 .1 .2 .3-.2 .1 .2 .2 0 .1-.2 .3 0 0 .1 .1-.1 .2 .1 .1 0 .1-.1 .2 0 .1 .1 .3-.1 .1 .1 .2-.1 0 .1 .3-.1 .1 .1 .1-.1 .2 .1 .2 0 .1-.1 .1 .1 0-.1 .3 0 .1 .1 .3 0 0-.1 .1 0 .2 .1 .2 0 .2-.1 0 .1 .1-.1 .3 .1 .1-.1 .1 0 .1 .1 .4-.1 .1 .1 .1-.1 .2 .1 0-.1 .2 .1 .3-.1 0 .1 .3 0 .1-.1 .1 .1 .2-.1 .1 0 0 .1 .3 0 .1-.1 .3 0 .1 .1 .1 0 .1-.1 .1 .1 .2-.1 .3 0 .1 .1 .1 0 .2-.1 2.8 0 .3-.1 .2 .1 .1 0 .2-.1 .1 0 .1 .1 .1-.1 .1 .1 .2 0 .1-.1 .5 .1 0-.1 .1 .1 .1-.1 .1 0 .2 .1 .2 0 .1-.1 .1 .1 .2-.1 .3 .1 0-.1 .2 0 0 .1 .3-.1 0 .1 .3 0 .1-.1 .1 .1 .2-.1 .2 0 0 .1 .3-.1 0 .1 .4 0 .1-.1 .1 0 .2 .1 .2-.1 0 .1 .3-.1 4.6 0"/>
<path stroke="#ff7f0e" stroke-width="0.300" d="M434.6 129.1l.1-.9 .2 .9 .2-.9 .1 .9 .2-.9 .1-.1 0 1.1 .3-.8 .1 .9 .2-.3 .1-.7 .4 .8 0-1.2 .1 1.6 .1-1.4 .3 .8 .1-.7 .2 1 0-1.4 .3 1.3 0-1 .2 1 .2-1 .1 1 .1-.9 .2 .7 .2-.7 .2 0 .1 .9 .2-1.1 .1 1.2 .3 0 0-1.1 .1 1 .1-1 .2 .2 .1 .9 .3-1 .1 .8 .1-.8 .1 .9 .3-.8 0 .8 .2-.9 .2 .9 .2 .1 0-1 .3 1.1 0-1.2 .2 1.1 .2-1.3 .2 .2 .1 .8 .1 .2 .2-1 .1 .8 .2-.7 .1 .9 .1-1.1 .1 .2 .3 .9 0-.9 .3 1 .1-1.1 .1 1 .2-.8 .2 .9 .2-1.1 .1 1 .3-.8 0 1 .2-.3 .1-.9 .1 .9 .1-.7 .3 .8 .1-1.2 0 1.3 .3-1 .1 .2 .1 .6 .3 .2 0-.9 .2 0 .1 .8 .3-1.2 .1 1.2 0-.3 .2-.6 .2 .9 0-.9 .3 .7 .1-.9 .2 .1 .1 1 .3-.8 .1 .8 .1-1.2 .1 1.2 .3 0 .1-1.2 .2 .3 0 .8 .2 0 .1-1 .3 .1 0 1 .3-.9 .1 1 .1-.2 .1-.8 .2-.1 .2 1.2 .1-1.1 .1 .8 .2-.7 0 .8 .4-.9 0 1 .3-.4 0-.5 .3 1 .1-1.4 .1 1.2 .1-1.2 .2 1.2 .1-1.2 .3 1.2 .1-1.1 .2-.1 .1 1.3 .1-.3 .2-.7 .1 .8 0-.9 .4 .2 .1 .7 .2-.7 .1 .8 .2-.1 .1-1 .1 1.2 .1-1.2 .1 0 .2 1 .2-.8 0 .9 .3 .1 .1-1 .2 .8 .2-.8 .1 .7 .3 .4 .1-1.1 .2 .8 0-.8 .3 .8 .2-.6 .1-.1 .2 .9 .2-.1 0-.9 .2 .9 .1-1 .4 1 0-1 .1-.1 .2 1.5 .1-1.2 .2 .7 .1-.8 .1 .8 .2-1.4 .1 1.3 .3-.6 .1 .6 .1-.6 .2 .9 .2-1.1 .1 1.3 0-1.2 .2 .8 .2-.8 .1 .9 .1-1 .1 .9 .3-1.2 .1 1.5 .2-1.2 .2 1 .2 .1 0-1.1 .2 .1 .2 .7 .2 .3 0-1.1 .2 .1 0 .9 .3 0 .1-.8 .2 .8 0-.8 .3 .8 .1-.8 .1-.2 .1 1.1 .3 0 .1-1.4 .2 1.1 .1-.8 .3 1.1 0-1.4 .2 .1 .1 1.1 .1-.8 .1 .9 .3-.9 .1 .8 .2-1.1 .1 1.1 .1 0 .2-1 .3 0 .1 1.1 .1-1.1 .1 1.1 .2-.8 0 1 .3-1.1 .2 1 .1-1 .1 .9 .3-.1 .1-.8 .1 .8 .1-1 .2 1.3 0-1.1 .4-.1 .1 1 .1-.9 .2 .7 0 .2 .3-1 .2 .9 .1-.8 0 .8 .1-.8 .3 .8 0-1 .4 .2 0 1 .2-.9 .2 .8 .3-.1 0-.9 .2 .8 .1-1 .2 .1 0 1.1 .2-1 .2 .7 .2-1 .1 1.3 .2-.9 0 .8 .3 .1 .1-.7 .1 .7 .2-1.1 .2 1.1 .1-.9 .1 1.1 .2-1.1 .2 .1 0 .8 .3-1.1 0 1 .3 0 0-.7 .2-.5 0 1 .4-.7 .1 1 0-1 .2 1.1 .1-.2 .1-.7 .5 1 0-1.3 0 1 .2-.9 .2 .2 .2 .7 .1 .3 .2-1 .1 .8 .1-1 .3-.2 .1 1.1 .3-1.1 0 1.2 .1 .2 .1-1 .2 .8 .1-.9 .2-.2 0 1 .4-.9 0 1 .2-.8 .1 .6 .4 .1 0-.6 0 .6 .1-.8 .3 .7 .1-.8 .2 0 .1 .8 .2 .2 .2-1.1 .1 1 .1-1 .2 0 0 1.2 .4 .1 0-1.2 .2 .1 .1 .8 .3 .3 .1-1 .1 1 .2-1.2 .2 1 0-.9 .3 .7 0-.8 .3-.1 .1 1.1 .1-1 .1 1.2 .2-1.1 .1 .9 .3-1.1 .1 .8 .2-.6 0 1 .2-.2 .1-1 .2 .1 .1 1.1 .2-.1 0-1 .3-.1 .2 1 .1-1 .2 1.1 0-.2 .3-.8 0 .9 .3-.9 .1 1 0-.8 .3 .8 .2-1 .2 .2 .1 .8 .1-.9 .1 .7 .2 .1 .2-1 .1 .3 .1 .8 .2-1 .2 1 .1-.8 .1 .9 .2 .3 0-1.6 .4 1.1 0-1.1 .2 1.3 .1-1.1 .4 0 0 .9 .1 .1 .1-1 .2 .9 .1-.9 .1 1.1 .1-1 .4 .1 0 .7 .2 .1 .2-.9 .2 0 .1 .9 .1-.9 .2 .8 .2-.7 .1 .9 0-1.1 .3 .7 .1 .3 .1-.9 .3 1 .1-1 .1 1.1 .2-1 .2 .7 .2-.9 .1 1.1 .2-.1 .1-.9 .2 .1 .1 .7 .2-.9 .1 1 .2-.9 0 .9 .2-1 0 1.1 .6 0 0-1.1 .2 1 .1-1 .1 .1 .2 1 .3-1 0 .8 .1-1.1 .1 1.1 .3-.9 .1 1 .1-.1 .2-.8 .1 .9 .2-1.2 .3 .3 0 .9 .2-1.1 .1 1.3 .1-1.1 .2 .8 .2-.7 .1 .8 .2-1 0 1.1 .2-1 .2 .9 .1 0 .1-1 .2 1 0-.9 .3 .9 .1-1.2 .2 1.1 .1-.9 .1-.1 .1 1.3 .2-1.3 .2 1 .3 0 0-.8 .2 .9 .1-1 .3 1.1 0-.9 .2-.2 .2 1 .1-.9 .1 .9 .3-1 .1 .8 .2-.9 .1 1.1 .1 .2 .1-1.1 .1 .8 .3-.9 .1-.1 .1 1.1 .2-.9 .1 1 .2-1 .2 1 .1-.1 0-1 .4 1 .1-1.1 0 .2 .2 .8 .2-.1 .2-.6 .1-.2 .1 1 .1 0 .1-.8 .4-.1 .1 .9 .1 0 .1-1 .2 0 .2 .8 .2-.7 .1 .9 .1-1 .1 .9 .3 .1 0-.9 .2 .9 .1-.9 .3 0 0 .8 .2-.8 .1 .9 .2-.9 0 .9 .4 .1 .1-1.3 .1 .2 .1 1.1 .2-1.1 .2 .9 .1-.9 .1 .8 .3 .2 0-1.1 .2 .2 .1 .9 .2-1 .2 1.1 .1-1.1 .2 1 .1-.9 .1 .9 .2-.9 .2 .7 .1 .1 0-.7 .4 .8 .1-.8 .1 .9 .4-.2 0-.9 .3 .2 .1 1.1 .2-1.1 .1 .7 .3-.8 0 .9 .1-1.2 .1 1.1 .2-.9 .2 1.1 .1-1.1 .1 1 .2-.1 0-.9 .4 .1 .1 .7 .1 .3 .2-1.1 .1 .1 .1 1.1 .3-.3 .1-1 .1 .2 .1 .9 .2 .1 0-1.2 .3 1.1 .1-1 .2 1.2 .2-1.1 .1-.3 .1 1.1 .3 .1 0-1.1 .2 .3 0 1 .3-.2 .2-1 .1 .8 .1-.7 .2-.1 .2 .8 .3-.8 0 1 .1-1.3 .2 1.3 .1 0 .2-1.2 .2 .3 .1 1 .1-.2 .2-1 .1 1.5 0-1.3 .3-.2 0 1.1 .3-.8 .1 .8 .2 0 .1-.8 .2 1 .1-1.4 .3 1.4 .1-1.4 .3 1.2 0-1 .3 1 0-1 .3 .1 0 .9 .2 0 .1-.9 .2 .8 .1-.8 .2 .7 0-.8 .3 0 0 1.2 .2-.1 .2-1 .2-.1 0 .9 .2-.8 .1 1 .2-.2 0-.8 .5 .7 0-.7 0 .8 .1-.9 .4-.1 0 1.2 .4-1.1 0 .9 .1-.8 .1 .8 .2-.7 .1 .8 .4-1.2 0 1.2 0-.1 .2-.8 .3 1 0-1 .3 1 0-1 .4 .8 0-.7 .1-.3 .1 1 .2-.8 .1 1.1 .3 .1 0-1.3 .2 1 .1-1 .3 1 .1-.9 .1-.1 0 1 .3 0 0-1 .2 0 .2 .9 .4-1.1 0 1.3 .2-1.2 0 1 .3 .1 .1-.9 .1 0 0 .7 .3-.9 .1 1.4 .2-1.2 .1 .8 .2-.8 0 1 .3-1 .1 .9 .3 0 .1-1 .1 .9 .1-.9 .4 1 0-.9 .1 .7 .1-.7"/>
<path stroke="#f4a0a0" stroke-width="0.400" d="M434.53 129.1V117"/>
<path stroke="#f4a0a0" stroke-width="0.400" d="M446.48 129.1V112.16"/>
<path stroke="#f4a0a0" stroke-width="0.400" d="M532.48 129.1V86.75"/>
</g>
<rect x="429.3" y="84.2" width="115.1" height="51.6" fill="none" stroke="#000" stroke-width="0.600"/>
<path d="M434.53 135.8v1.72M458.42 135.8v1.72M482.31 135.8v1.72M506.2 135.8v1.72M530.09 135.8v1.72M429.3 129.1h-1.72M429.3 117h-1.72M429.3 104.9h-1.72M429.3 92.8h-1.72" stroke="#000" stroke-width="0.393"/>
<g class="k" font-size="4.917" text-anchor="middle"><text x="434.53" y="142.98">0</text><text x="458.42" y="142.98">2000</text><text x="482.31" y="142.98">4000</text><text x="506.2" y="142.98">6000</text><text x="530.09" y="142.98">8000</text></g>
<g class="k" font-size="4.917" text-anchor="end"><text x="425.86" y="130.97">0</text><text x="425.86" y="118.87">20</text><text x="425.86" y="106.77">40</text><text x="425.86" y="94.67">60</text></g>
<text x="486.85" y="81.25" font-size="5.900" text-anchor="middle">Heating Coil Heating Rate</text>
<g clip-path="url(#c8)" fill="none" stroke-linejoin="round">
<path stroke="#2ca83c" stroke-width="0.400" d="M20.3 185.6l.2 5.8 .1 3.9 .2-7.6 .1 5.2 .1-4.5 .3 5.2 0-6.2 .2 5 .1-7.5 .3-1 .1 7 .1 3.2 .1-5.3 .1 6.9 .2-8.5 .3 3.1 .1 6.8 0-1.4 .2-8.2 .2 4.5 .2-5.7 .2 .6 .1 3.2 .2-1.7 .1 4.1 .1 1.4 .2-6.6 .1-1.5 .2 5.5 .2 .3 .1-4.3 0-1.5 .3 5.7 .1-3.9 .1 7.5 .2-6.2 .1 7.6 .3-1.5 .1-8.3 .1-1 0 5.9 .4-1.3 .1-7 .1 1.3 .1 5.3 .2 2.3 .2-8.4 .1 8 .2-7 .1 6.4 .1-7.3 .3 2.9 .1 5.6 .1-.5 .1-9 .2 7.2 .1-5.3 .2 5.2 .1-5.6 .3 1.1 .1 5.9 .1 .6 .1-7.6 .3 .3 .1 5.4 .1-5.7 .2 7.2 .1 0 .2-3.3 .1-1.6 .2 5.5 .2 .6 .1-3.3 .2 4.1 .1-7.6 .1-2.2 .1 5.8 .1-4.8 .3 7.3 0-4.7 .2 5.1 .1-.4 .3-5.2 .2-1.9 .1 5.4 0-4.1 .2 5.7 .1-2.2 .3 3.4 .1 2.5 .1-8.4 .2 7.8 .1-8.3 .2 4.9 .2-8.9 .2 2.7 .1 6.7 .1 .8 .1-8.7 .2 10.7 .1-7.3 .1 7.1 .2-8.7 .3 .1 .1 6.3 .1-2.3 .2-7.2 .1-2.4 .2 13.4 .1-1 .2-4.2 .1-1.5 .2 6.8 .1-5.5 .1 4 .2-5.8 .1 8.8 .2-3.6 .2-7.7 .1-.9 0 7.2 .4-1.1 .1-8.2 .1 .7 .1 7.2 .2-4.8 .1 6.1 .1-3.2 .2 8.2 .2 .1 .2-8 0-1.1 .3 4.8 .1 4.7 .2-8.8 .1 3.9 .1-9.8 .3 2.4 .1 6.4 .2-4.8 .1 5.1 .1 1.5 .1-5.4 .1 3.2 .2-7.2 .2 .8 .2 5.4 .2-7.1 .1 8.3 .2-3.3 .1 4.1 .1-5.4 .2 7.2 .2-.1 .1-7.5 .1-3.7 .2 9.4 .1-5.5 .1 8.7 .3-1 .1-6.9 .1 3.6 .2-6.3 .1-1.1 .1 6.1 .1-3.8 .1 7.8 .4-2.1 .1-7.4 .1 5.9 .1-7.7 .1 .8 .2 8.6 .2 2.5 .2-9.8 0 3.1 .2 6.7 .2 .9 .1-11.5 .3 1 .1 5.9 .1 2.8 .1-10.6 .1 7.6 .2-12.7 .3 7 .1 11.8 .2-9.1 .1 10.5 0 2.3 .2-12.5 .2-6.3 .2 17 0-2.1 .1-10.5 .3-2.9 .2 9.9 .1-11.6 .2 8.3 .1-6.9 .1 11.7 .1-.8 .3-8.8 .1-4.4 .1 9.7 .3-1.4 .1-6.4 .1-1.9 .1 7.5 .3 .6 .1-9.5 0 2.5 .2 11.5 .2 3.1 .2-11.1 .1 8.6 .2-12.5 .1 11.1 .2-14.7 .1 15.6 .1-9.8 .2 11.7 .1-10.5 .2 7.4 .2-7.7 .2-3.3 .1 10 .1 1.7 .2-5.4 .1-.2 .2 7 .2-9.1 .1 8 .1-2.9 .2-7.3 .1-2 .2 6.8 .1-5.8 .1 7.5 .2-3.3 .1-8.5 .2 8.3 0-8.1 .3 .7 .1 4.9 .2 .2 .1 8.2 .2-9.7 .1 6.8 .3-.6 .1-6.6 0 .4 .2 12.4 .3-5.1 .1-9.9 .1 8.8 .2-9.8 0 3.2 .2 8.1 .2 1.3 .2-9.5 .1 11.6 .1-11.3 .2 4.7 .1-12.9 .2 9.1 .1-12.5 .3 .5 .1 10 .1-.4 .2 8 .1 1.6 .1-7.4 .3-1.5 .1 8.3 .2-10.5 .1 9.2 .1-7.8 .1 7.1 .2-11.1 .2 12.6 .1-4.8 .1 6.9 .2-4.3 0-7.6 .3-5.3 .2 8.6 .1-6.9 .2 10.9 .1-7.8 .1 13.4 .3 3.3 .1-15.9 .2 5.2 .1-12.7 .1 .8 0 9.9 .2-8.2 .1 9.2 .3-10 0 9.8 .2-3.2 .2 10.3 .2-3.9 .1-8.5 .2 6.5 .1-13.2 .1 1.3 .3 15 .1-.1 .2-11.6 .1 4.5 .2-9 .1 3.8 .2 9.2 .1-4.6 .2 14.5 .1-1.3 .1-12 .2 2 .1-12.6 .2 3.7 .1 8.6 .3-4.9 .1 7 0 .9 .2-7.7 .2 3.3 .2 9.7 .1-12.8 .1 11.6 .3-1.5 .1-10.1 .2 6.9 .1-13.2 .1-.8 .1 17.1 .2 4.5 .2-19.9 .2 12.8 .1-12.2 .1 16.5 .2-16.5 0-1.1 .1 15.6 .3-4.6 .1-9.6 .3 14.6 0-11.1 .2 14.9 .2-17.1 .2 5.7 .1 11.1 .1 .9 .2-20.8 .1 10.2 .1-15.2 .2 10.4 .2 16.6 .2-17 .1 14.2 .1-3 .1-12.6 .2-3.9 .2 12.2 .1-13.6 .2 12.1 .1-13.2 .1 9.9 .1-10.3 .3 17.7 .1-11.6 .1 12.2 .3-1 .1-8.5 .2 6.1 .1-10 .1-6.1 .1 15.5 .3 .8 .1-11.2 .1 1.4 .1 9.5 .2-6.7 .1 14 .2-2.6 .2-20.7 .1 1.4 .2 12 .1 6 .2-14 .1 7 .1-9.9 .2 11.9 .1-10.9 .2 11.2 .1-9.8 .3-.1 .1 12.5 0 1.4 .3-10.2 .1 3.2 .1-11.1 .2 2.5 .2 16 .2-10 .1 9.6 .1-6.9 .2 12.4 .2-15.6 .1 17.5 .1-7.4 .1-14.1 .2-10.3 .1 21.5 .2-19.5 .1 18.9 .2-18.9 .1 26.3 .2-18.9 .1 20.9 .1-18.2 .2 17.9 .1-16.7 .2 12.6 .1-15.4 .1 11.6 .3 1.4 .2-21.4 0 .8 .1 9.5 .4 9 .1-11.8 .1 16.9 .2-10.6 .1 9.6 .1-16.2 .2 14.3 .1-10.5 .2 14 .1-18.9 .3-1.9 .1 14.9 .2-7.9 .1 10 .2-12.8 .1 14.6 .1-.5 .1-14.3 .2 4.4 .2 19.4 .1-5.7 0-15.6 .3-2.4 .2 14.5 .1-16.6 .2 16.2 .1-15.2 .1 15.1 .2-10.8 .1 19.5 .3-6.5 .1-18.3 0-1.2 .3 18.3 0-11.5 .2 13.5 .3-.8 .1-13 0 3.1 .1 13.5 .3-.6 .2-13.6 .1 13.9 .2-12.6 .1 10.3 .1-17.4 .2 12.7 .2-11.4 .2 2.4 .1 9.4 .1 4.8 .1-8.8 .2 7.8 .2-14.8 .1 8.7 .1-11.9 .3 2.7 .1 14.9 0-1.8 .2-10 .1 .2 .3 12.1 .1-15.1 .2 14.4 .1-12.2 .2 10 .1-11.7 .2 10.4 .1-6.7 .1 11.4 .3-7.1 .1-8.3 .1 1.2 .1 13.6 .1-9 .2 11.2 .3-.9 .1-10.8 .2 8.6 .1-10.6 .2 11.8 0-9.5 .2 2 0 7.9 .3 .8 .2-11.5 0 1.5 .2 7.5 .2 4.5 .2-10.1 .2 4.4 .1-6.5 .2 3.9 .1 5.7 .1 1.2 .1-6.2 .2 7.5 0-7.1 .3-1.7 .2 9.9 .2-7.4 .1 8.6 .1-2.6 .1-8.7 .1 5.4 .2-10 .2 3 .2 13 .1-2.8 0-7.4 .3-5.2 .1 11.9 .2-11.1 .2 12.8 .1-11.4 .1 11.7 .1-9.4 .3 9.1 .2-2.2 .1-10.5 0-2.6 .2 11.4 .1-11.5 .2 14.8 .2-1.8 .2-10.6 .2 11.5 .1-8.3 .2 8.7 .1-9.5 0 6.5 .3-10.7 0 5.4 .1 6.2 .3 .7 .1-7 .2 5.1 .2-6.5 0 2.2 .1 6.7 .4-10 .1 8.5 .2-8.2 .1 14 0-2 .2-10.3 .2 1.5 .2 13.1 0-2.7 .3-8.1 0 4.2 .1-9.1 .3-.7 .2 11.5 .1-10.2 .1 10.2 .2-10.8 .2 11.1 0-8.3 .2 12 .3 .5 .1-8.3 .2 7.3 .1-9.3 .1-1.7 .1 9.6 .3 3.7 .1-15.1 0-.6 .1 6.5 .2-2.6 .2 9.4 .2 1 .2-10 .1 7.7 .2-9.8 .1 7.1 .1-6.2 .2 11.1 .2-7.1 .1 6 .2-9.5 .1 2.6 .2 6.7 .2-4.3 .1 5.8 .2-8.9 .1 7.9 0-.7 .1-4.8 .3-1.7 .2 6.9 .1-4 .2 5.8 .1-1.9 .2-4.9 .1-4.6 .2 7.8 .1-9.2 .2 5.4 .1-6.3 .2 8 .1-5.8 .1 7.3 .2-.6 .2-3.1 .1 2.5 .2-6.7 .3 5 .1-1.7 .1 5.6 .3-.3 .1-5.8 .1 4.8 .1-7.3 .2 9.1 .1-5.7 .2 7.6 .1-9.7 .2 5.6 .2-8 .2 3.1 .1 6.6 .1 1.7 .1-6 .2 4.7 .1-4.8 .1 2.7 .2-5.3 .2 .4 .2 7.3 .1-.1 .2-4.9 .1 .4 .1-4.9 .4 8.3 0-5.2 .3 4 0-4.2 .1-.7 .2 6.9 .2 1.1 .1-4.4 .2-1.3 .1 5 .1-4.3 .1 3.9 .2-6.1 .2 4.5 .1 1.5 .1-4.6 .1 1.6 .2 4.7 .3-.4 .1-4.4 .1 3 .1-4.8 .1 1.8 .1 4.8 .3-.4 .2-6.6 .1 6.6 .1-6.3 .2 7.4 .1-6.4"/>
<path stroke="#e83a2a" stroke-width="0.400" d="M20.3 205.3l.2-9.4 .1 6.9 .2-5 .2 6.6 .1-5.5 .1 5.3 .2-9.3 .2 3.4 .1 5 .1-.1 .1-10.1 .3-1.3 .1 10.8 .1 3.2 .1-9 .3-2 .1 6.8 .2-7.5 0 6.9 .2-9.2 .2 8.8 .1-2.4 .1 5.7 .2-9.8 .2 7 .1-7 .1 7.8 .2-6.2 .2 9.5 0-.9 .1-6.4 .3-.4 .1 7.6 .3 3.4 .1-7.9 .1 3.1 .2-7 .1 5.1 .2-5.6 .1 .6 .1 6.1 .1-5.8 .3 6.1 .1 .3 .2-8.3 .1 7.6 .2-4.6 0 2.4 .2-5.3 .2 6.4 .2-7.6 .3 2 0 7.7 .2-9.1 .1 7 .1 1.6 .1-7.2 .3-.4 .1 8.8 .2-5.4 .1 7.7 .1-2.3 .1-7.1 .2-2.7 .2 7.5 0-1.1 .1-6.1 .3 .1 .2 6.3 .1-5.3 .2 4.9 .2 .8 .1-6.5 .2 3.8 .1-6.7 0 .2 .2 9.3 .3-1.3 .1-6.6 0 1.9 .2 11.1 .2-5 .2-8.5 0 1.6 .2 10.8 .3 0 .1-9.1 .1 7.3 .2-9.9 .1 2.7 .1 6.4 .2 2.2 .1-7.6 .2 5.1 .1-5.2 .1 10.2 .2-7.8 .1 2.1 .2-6.8 .3-.3 .1 5.8 .1-1.5 .1-5.3 .2 .1 .2 6.9 .1 0 .2-4.2 .1-1.8 .1 6.2 .3-3.7 .1 3.7 .1-6.6 .1 5.1 .2-.6 0-2.9 .3-1.3 .2 6.1 .1 1.9 .2-6.7 0-.9 .3 4.3 .2 3.8 .1-5.3 0-2.6 .3 4.8 .1 .2 .2-5.2 .1 1 .1 4.7 .3 1.6 .1-6.2 .1 3.4 .2-4.4 0 2.2 .1 4.7 .3-1.2 .1-5.4 .2 5.2 .2-5.4 .3 .9 0 5 .1 .5 .1-4.7 .2 3.5 .1-3.4 .2 1.7 .2-5.8 .1-.1 .2 5.4 .2-2.8 .1 4.6 0-.6 .1-5.1 .3-.9 .2 5.3 .2-4.3 0 6.6 .3-3.3 .1-4.7 .1-1.1 .1 5.1 .2-4.1 .1 3.2 .1-3.5 .3 7.2 .2 .3 .1-6 .1 2.1 .2-3.4 .2 5.3 0-4.4 .1 1.2 .2 6.7 .3-2.7 0-3 .2 3.4 .2-5.5 .1 .7 .2 2.8 .1 2.9 .1-5.6 .3 .3 .1 4.3 .1 .2 .2-4.5 0 3.1 .2-6.2 .3 4.7 .1 4.6 .1-1 .1-5 .1 4.1 .2-4.7 .2-2.9 .2 5.6 .1-4.4 .2 7.3 .1-9.9 .2 7.9 .1-7.9 .1 7.5 .2-6 .1 6.3 .2-8.3 .1 6.9 .1-4.7 .2 5.3 .2-4.9 .1 6.3 .2-.4 .2-8.5 .1-.7 .1 4.2 .2-2.4 0 5.8 .4 1.5 .1-5.8 .2 4.6 0-5.2 .2 3.4 .1-3.5 .2 4.3 .2-4.1 .2 1 .1 3.8 .2-5.4 .1 5.9 .2-5.7 .1 5.5 .2-4 .1 7.2 .1-.7 .1-6.9 .2-.4 .2 5.3 0-.2 .1-4.4 .2 3.1 .1-3 .3-3.1 .2 4.1 .1-3.2 .1 3.9 .2-3.6 .2 5.1 .1-.7 .2-5.9 .1-.4 .2 5.4 .1 .4 .2-6.4 .1 .4 .1 6.3 .2-4.3 0 2.6 .3 .9 .2-4 .1 2.4 .1-3.5 .2 3.1 .2-3.3 .2 2.8 0-4.8 .2 4.7 .1-4.5 .3 3.1 .1 4 0 1.6 .2-5.9 .2 4.9 .2-3.1 0 .8 .2-3.1 .1 2.8 .3-3.3 .2-.9 .1 3.8 .1-4.5 .2 5.3 .1-1.8 .2-4 .1-2.6 .2 7.5 .1-4.9 .2 4.6 .1-6.2 .1 7.7 .2-6.7 .1 6.7 .2-8.6 .1 10 .3 2.5 .1-9.9 .2 2.9 .1-5.9 0 1.7 .2 5.2 .2 1.4 .2-6.9 .1-.7 0 3.9 .4 2 .1-7 .1 6.5 .2-4.4 .1 6.7 .1-5.1 .2 6 .1-5.2 .2-2 0 3.9 .4-5.3 .1 3 0-.3 .3 5.1 .1 1 .1-4.7 .3-.6 .1 3.9 0-.8 .3-3.7 .2-2.1 .1 6.7 0-2.9 .2-4 .2-3 .2 5.9 0-2.2 .2 5.9 .2-2.3 .2-4 .1-.8 .1 4.7 .2-6.2 .1 6.1 .2-4.9 .1 3 .1-2.4 .2 6.4 .1-2.2 .3-6.9 0 .5 .2 5.8 .2 .2 .2-4.9 .1 3.2 .2-4.3 .1 3.7 .1-5.4 .3 .2 .1 5.4 .1 2.8 .2-4.4 .1 2.1 .1-7.4 .2 1 .2 6.1 .2-1.7 .1 5.2 .2-4.3 .1 7.1 .1 .4 .2-8.1 .1-3.5 .2 5.8 .1-3.6 .2 3.8 .1-5 .2 6.3 .1-4.7 .2 4.4 .1-7.8 .1 4.9 .2-6.5 .1 6.4 .2-5.4 .1 6.8 .2-5.2 .1 5.3 .3 2.9 .1-6.2 .1 2.1 .2-8.1 .1 5.3 .2-4.2 .2 6.9 .1-7.5 .1 .1 .1 5.2 .2 2.2 .2-9.7 0 2.5 .1 7.9 .3 1.4 .1-9.7 .2 8.3 .1-7.6 .3 .3 .1 6.5 .2-5.8 .1 6.8 .1-.8 .1-6 .3-2.1 .1 9.3 0 .4 .2-6.8 .1 5.2 .2-8.3 .2 1 .2 6.8 .1-5.1 .2 5.7 .1-5.1 .1 5.2 .3-2.6 .1-5 .1-1 .1 5.6 .2-3.5 .1 6.5 .2-3.7 .1 6.1 .2-.9 .2-4.8 .2 3.2 .1-5.1 .1 .5 .2 4.7 .2 1 .1-3.8 .2 4.4 .1-6.4 .1 5 .1-5.1 .2 7.3 .1-6.9 .1 7 .2-6.5 .2 4.5 .1-6.5 .3-.6 .1 6.4 .2-4.4 .1 5.8 0 .2 .2-5.4 .1 5.7 .2-4.6 .3-2.8 .1 8.9 .1-5.5 .1 5.5 .2-6.3 .2 4.9 .1-4.3 .2 7.6 .1-5.6 .1 3.8 .3-1.1 .1-5.5 .1-1 .2 4.9 .1-4.9 .1 7 .3-3.1 .1-4.8 .1 .1 .1 7.5 .2-1.5 .2-7.8 0 2 .2 5.5 .3 1.4 .1-5.5 .1 .3 .2 5 .1-2.6 .1 5.7 .2 1.1 .2-9.2 .2 .2 0 3.4 .2 .6 .2-4 .2 .3 .1 3.9 .2-4.2 .1 7 .1 .1 .1-5.2 .2-1.4 .2 5 .1-3.9 .2 3.9 0 .1 .3-4.1 0 2.6 .3-4.1 0 .1 .3 5.6 .1-4.7 .2 3 0-3 .2 5.4 .2-3.6 .1 5.2 .1-5.5 .2 6.1 .2-5.9 .1 6.6 .2-1.9 .2-5.9 .2 3.8 .1-4.4 .1 4.8 .2-4.7 0 1 .3 4.4 .1-1.7 .2 3.4 .1 .3 .2-6.2 .1 5.1 .1-3 .2 2.7 .1-5.9 .3 3.3 .1 5.9 0-.1 .2-5.2 .3-1.1 .1 5.7 0 2.4 .2-6.1 .2-1.1 .2 4.6 0 .3 .1-2.9 .2 1.7 .2-4 .2 .5 0 2.7 .3-5.3 .1 6.7 .3 .9 .1-4.4 0-.7 .3 7.1 .2 .6 .1-4.1 .2 .8 .1-3.3 0 1.1 .2 3.9 .2 .1 .2-3.4 .1 2.5 .1-3.3 .3 3.1 .1-3 .1 1.2 .1-3.6 .1 2.8 .1 4.3 .3 .6 .1-5.1 .2 5.6 .2-5.5 .2-1.2 .1 4.4 .2-2.1 .1 3.9 .1 .6 .1-3.7 .2 .9 .2 2.5 0-.9 .2-3.4 .2-.5 .2 3.5 .1-.6 .1 2 .1-1.8 .3-2.2 .1-.6 .1 1.8 .2-1.3 .2 3.1 .1-1.6 .1 2.6 .2 0 0-2.9 .3-.7 .1 4.2 .2-2.9 .1 3.2 .3 .5 .1-4.6 .2 3.4 .1-4.1 .1 2.8 .2-4 0 1 .3 4.4 .1-1.8 .2 2.7 .1-1.7 .2 3 .1-1.7 .2-4.3 .2 2.6 .1-2.6 .1 3.4 .2-3.5 .1-.2 .2 3.5 .2-2 .1 2.6 .1 .9 .2-3 .2-.1 .1 4 0-2.7 .2 3.8 .2 .1 .1-3.8 .1 2 .3-2.3 .1 0 .2 3.2 .1-2.9 .2 4.1 .1 .1 .2-5 .1 .3 .1 3 .2 .3 .2-3.3 .3 3.3 0-3.1 .1-.5 .2 3.5 .1-1.7 .2 2.8 .2 .7 .1-2.4 .1 2.1 .2-3.6 .1 2.8 .2-3.6 .1 4.6 .1-4.1 .3-2.2 .1 4.6 .1 .3 .1-4 .2 3.5 .1-4.5 .3 1.1 .1 5.3 .1-2.3 .2 3.5 .1-.6 .1-2.9 .2-.6 .2 3 .1-3.5 .2 5.2 0-1.5 .3-4.8 .1-.8 .2 6.5 .1-3.4 .1 6.4 .3-2.6 .1-5.6 .1-1.5 .1 3.5 .2-2.1 .1 4.9 .2-2.9 .1 5.2 .2-2.8 .1 4.5 .2-1 .2-7.6 .2 5.8 .1-7.8 .1 4.5 .1-4.6 .1 0 .2 6.1 .2 4.9 .2-7 .1 4.6 .1-4.9"/>
<path stroke="#8c564b" stroke-width="0.350" d="M20.4 195.3l0 1.1 .2 .1 .2-1 .1 1.3 .1-1.8 .3 .4 .1 1.1 .3-1.1 0 1.8 .1 .7 .1-2 .3-.8 .1 2 0-.2 .2-1.5 .2-.1 .2 1.8 0-.4 .1-1.4 .3 .9 .1-1.1 .2-.3 .2 2.5 .1-1.6 .2 1.4 .1-1.5 .2 1.4 .2-.1 .1-1.8 .1-.2 .1 1.6 .4 .4 0-1.6 .2 2.1 .1-2.7 0 .1 .2 1.9 .3 0 .1-1.6 0-.3 .1 1.7 .3 .1 .2-1.7 0-.6 .3 1.5 .1 .3 .2-1.1 .1 .9 .1-.7 .1 .8 .2-1.4 .2 .2 .2 2.2 .1-.7 .2 1.1 .1 .3 .1-2.6 .3 .2 .1 2.1 .1 0 .1-1.2 .1 .6 .2-1.9 .2 0 .2 1.4 .1-1.5 .2 1.6 .2 0 .1-1.4 .1-.5 .1 1.7 .1-.7 .3-1.2 .2 2.1 .2-1.1 .1 1.3 .3 .4 .1-1.9 .2 2.3 .1-2.7 .1 1.3 .2-1.8 .1 .2 .2 1.8 .1 .1 .2-1.2 .1 .6 .2 1 .1 .1 .2-1.5 .1 1.5 .1-1.5 .2 .8 .1-2 .3 1 .1 1.3 0 .5 .3-1.4 .1 1.2 .1-1.6 .2 0 .2 1.3 .1-1.2 .2 1.5 .1-.2 0-1 .3-.8 .2 1.6 .1-1.3 .2 1.3 .2 .8 .1-1.6 .1-1.3 .2 1.5 .1-.9 .1 1.4 .2-1.8 .1 1.3 .2-1.7 .1 1.7 .2-1.3 .1 1.7 .3 .2 .1-1.8 .1 1.6 .3 .1 .2-1.8 .2 2.8 .1-2.1 .1 1.4 .2-2.1 .1 1.8 .1-1.6 .2 2.5 .1-2 .2 1.6 .2-1.5 .2-.3 .1 1.3 .1 .1 .1-1.5 .3-.5 .1 1.7 .2-.9 .1 1.4 .2-2.5 .1 2.2 .2-2.5 .1 2.5 .1-1.8 .2 2.5 .1-2.7 .1 1.8 .2-1.5 .2 1.9 .2 .1 .1-1.5 .1 .8 .2-1.3 .1 .3 .1 1.7 .3-.4 .1-2.1 .2 1.4 .1-1.4 .2 1.6 .1-1.5 .2 1.9 .1-2.1 .1 2.2 .2-2.1 .2 3 .1-2.5 .1 1.7 .2-3 .2 1.1 .1 2.1 .1 1.2 .2-3.1 .2-2.6 .1 3.2 .2-.4 .1 2.2 .2-2.6 .1 2.9 .2-4.3 .2 3.3 .2-2.8 .1-2.6 .2 3.1 .1-1 .2 2.8 .1-2.3 .1 2.8 .2-2.6 .2 3 .3-.6 0-2.2 .1-1.2 .1 2.8 .1-2.5 .2 3.5 .3-1.5 .1-3 .1 .3 .1 4.5 .2-.5 .2-5.7 .2 4.7 .1-4.3 0 1 .1 4.7 .3-1.3 .2-7 .1 3.7 .2-3.7 .2 1.1 .1 4 .1 4.2 .2-4.6 0 3.5 .3-6.3 .1 6 .1-8.4 .2 1.8 .2 7.6 .1 .6 .2-7 .2-3.7 .1 7.7 0-1.5 .2-6.8 .3 0 .1 7.1 .2-5.1 0 5.8 .2-6.1 .2 5.1 .1-5.6 .1 6.6 .2-6.6 .1 7.1 .2-5.1 .1 11.2 .3-8 .1-4.9 .1-.7 0 7.7 .4-4.2 .1-5.2 0-.5 .3 5.6 .2-.3 0-5.4 .2 6.9 .2-4.9 .1 5.5 .1-8.1 .1 2.1 .2 5.2 .1-.6 .2-7.4 .3-2.8 .1 9.5 .1 2.5 .1-7.9 .2 9.9 .1-9 .2 9.5 .1-11.2 .3-3.5 .1 10.8 0 .8 .1-10.5 .4-4.9 .1 11.3 .1-4.4 .1 8.4 .3-10.4 .1 6.9 .2 2.4 .1-8.5 .1-2 .2 10.4 .1-4.7 .1 5.3 .2-6.9 .1 8.7 .2-3 .2-15 .1-.7 .1 13.5 .3 4.8 .1-10.4 .2 9.8 .1-12.5 .1 6.7 .2-13.3 .3 1.4 0 9.1 .1 6.6 .2-11.4 .1 7.2 .2-10.3 0 4.7 .3 7.8 .1 2.9 .1-7.4 .2 7.7 0-7.7 .3 7.7 .1-8.3 .3 2.4 .1 7.4 0 2.5 .2-14.1 .2 7.5 .2 8.3 0-5.6 .3-12.1 .1-6.3 .2 12.2 .2-4.2 0 8.7 .2-9.4 .2 16.7 .2-6 .1-11.5 .1-1.3 .1 12.7 .3-5.8 .1-10.3 0-1.4 .2 13.1 .3 1.7 .1-9.8 0 .3 .2 16 .2-4.3 .1-18.2 .1 5.2 .1 11.4 .3 .2 .2-10.6 .1 11 .2-10.3 .2 3 .1 10.1 .1 1.1 .2-13.2 .1 9.1 .2-18.4 .2-.1 .1 9.6 .2-8.5 .1 12.3 .2-13.3 .1 10.4 .1-4.8 .2 13.1 .1-6.4 .1-10.3 .2-.5 .2 21.5 .1-16.2 .2 15.4 .1-21.5 .1 15.5 .1-1.1 .2-10.1 .3-6.9 .1 10.9 0-11.8 .2 19.9 .3 1.8 .1-14.7 .1-3.8 .1 13.5 .3 1.3 .1-15.8 .1 2.6 .2 13.9 .1 3 .2-9.1 .2 4.6 .1-12.2 .1 6.3 .2-12.3 .1 7.9 .2-10.3 .1 11.5 .1-13.6 .3 5.7 .1 14.8 .1 6.2 .1-17.4 .3-4.9 .1 13.4 0-2.1 .2-16.5 .3-.3 .1 19.5 .2-14.9 .1 20.1 0 3.7 .2-14.7 .2-10.8 .2 20.5 0-5.5 .1-13.5 .3-3.4 .2 20.3 .3-3.2 0-10.2 .1-4.4 .1 12.9 .2-7.3 .2 11.5 .1-7.1 .1 12.3 .1-3.6 .3-16.2 .2 10 .1-12.3 .2 16.7 .1-14 .1 16.1 .2-17.9 .2 3.2 .1 11 .1 8.4 .2-11.4 .1 9.8 .2-12.6 .2-2.5 .1 16.9 .1 3.6 .1-9.5 .1 7.9 .2-15.3 .2-3 .2 11.9 .1 1.5 .2-11.2 .1-1.5 .1 12.4 .3-11.7 .1 10 .1-10.3 .2 14.7 .1-4.1 .1-10.1 .2 .1 .2 13.6 .2 .9 .1-10.1 .1 2.9 .2-8.5 0 .5 .2 18.9 .1-6.4 .3-9.7 .1-3.5 .1 9 .2-5.7 .1 12.4 .2-1.6 .2-11.3 .2 11.7 .1-13.4 0 3.2 .1 8.3 .4 1.8 0-11 .1 7 .1 9 .3-.8 .1-12 .1 11.8 .2-16.1 .1 9.6 .2 9.7 .2-.7 .1-18.3 .1 2.6 .2-7.7 .2 4.2 .2 9.9 .1-1.2 .1-8.3 .2 9.6 .2-10.9 .1 1.7 .2 12.8 .1-4 .2 9.4 .2-11.9 .1 7.5 .2 6.4 .1-10.9 .1-8.3 .2 14.6 .2-1.3 .1-8.6 .2 9.9 .1-11.8 0-4.1 .2 9 .2-5.5 .1 12.6 .2 2.2 .2-15.7 .1 8.9 .2-8.1 .1 3.8 0 11.7 .3 1.7 .2-15.8 .1 12.1 .1-11 .2 11.3 .2-11 .3 4 0 7.7 .1-1.3 .2-9.9 .1-2.3 .2 10 .2-8.2 .1 9 .2-10.9 .1 11 .1-8.4 .2 7.3 .1-7.9 .2 9.7 .2-6.3 .1 6.3 .1-4.8 .1 7.2 .3-1.4 .1-5.1 .1 3.9 .2-5.6 .1 6.7 .2-5.3 .1 4 0-5.5 .3 1.7 .1 5.5 .2 2.1 .2-7 .2 .9 .1 3.3 .2 4.7 .1-7.1 .2 .4 0 3.5 .2 1.8 .2-5 .1 4.3 .2-4.3 .1 5.3 .1-4.9 .2 5.4 .2-4.3 0 4.2 .2-7 .1 4.5 .2-5.6 .3 1 .1 4 .2-5.8 .1 6.4 .1-2.6 .2 3.8 .2-3.2 .1 4.4 .2-4.2 .1 4.4 .1-3.8 .2 2.5 .1-2.2 .1 2.8 .3-1.1 .1-2.4 .1-.7 .1 3.8 .2-2.8 .1 2.8 .2-1.4 .2 2.6 .1-2.1 .1 1.7 .3 1 .1-2.4 .1 1.2 .2-1.5 .1 1.5 .2-1.5 .1 1.2 .1-1.1 .3 .5 0 1.2 .2 0 .2-2.1 0 .7 .2 1.1 .2 .2 .1-2.3 .2 .1 .2 1.7 .2-.3 .1 1.5 .2-2.1 .1 1.8 .1 .2 .1-1.7 .3-.3 .1 2.3 .1-1 0-1.6 .4 .3 .1 1.8 .1-1.3 .2 1.4 .1 .2 .2-1.3 .1-.6 .1 1.7 .1-.7 .3-1.5 .1 .3 .1 1.3 .2 .1 .2-2.2 0 .3 .2 2.3 .3 .7 .1-1.5 .1 2.1 .2-2.2 .1 .9 .1-1.4 .2 2 .1-1.7 .2 1.6 .2-1.6 .1 2.2 .2-2.1 .1 1.5 .1-1.3 .2 1.4 .1-1.9 .3 .5 0 1.1 .3-1.7 .1 1.5 .1-1.3 .2 1 .1 .3 .2-1 .1-.2 .1 1.3 .2-1 .1 .8 .1-1 .3 1.2 .1-1.4 .2 1.4 0-.6 .3 .9 0-.4 .3-.8 .1-.1 .2 1.3 .1 .8 .2-1.9 .2 .9 .1-1.1 0 .1 .3 1.1 .2 .3 .1-1 .2 .1 .1 1 .1 .7 .2-1.9 .1 .9 .2-1.1 .1 1.8 .1-2.2 .2 1.3 .1-2.3"/>
<path stroke="#d070b8" stroke-width="0.350" d="M20.2 195.7l.2 1.2 .2 .1 .2-1.6 .1 1.4 .2-1.3 .1 1.9 .1-1.8 .2 1.7 .1-2 .2 1.8 .2-1.9 .1 2.2 .1-2.9 .3 .1 .1 1.8 .2-1.4 .1 1.6 .2-2 .2 0 .2 1.5 .1-1 .2 1.8 .1-.8 .2 1.1 0-.6 .1-1.3 .3-.7 .2 1.3 .1-1.5 .2 2.4 0-1.7 .2 2.1 .3-.7 .1-1.5 0-.2 .2 1.3 .2-.8 .2 1.2 .2 .1 0-1.2 .2 .7 .2-1.3 .1-.3 .1 .8 .2 .6 .1-1.2 .2 2 .1-1 .2 .9 .1-1 .3-.2 .1 1.5 0 .3 .2-1.8 .3 .6 .1 1.2 .1 0 .1-1.9 .2 1.8 .1-1.9 .1 1 .3-1.2 .2-.7 .1 1.8 .1-1 .2 1.5 .1-1.8 .1 1.9 .2-1.6 .1 2 .3-.4 .1-1.7 .1-.2 .2 2.2 .1-.5 .2-1.8 .1 0 .1 2.2 .3 .8 .1-1.8 .1 1.1 .2-1.9 .1 1.5 .2-1.8 .2 2.1 .1-2.5 .1 1.9 .2-1.6 .1 2 .2-1.4 .2 .2 .1 1.6 0 .2 .2-1.8 .2 2.1 .1-1.9 .2 1.5 .1-2.5 .2 2.4 .1-2 .2 1.4 .1-1.8 .3 0 .1 1.9 .1-1.2 .2 1.9 .1-1.8 .2 1.8 0-.4 .1-1.9 .3-.5 .2 1.9 0-1.7 .2 2.5 .3-.6 .1-1.6 .1-.2 .1 1.8 .3 .3 .1-1.4 .3 1.1 0-1.6 .1 1 .2-1.5 .2 1.9 .3 0 .1-.9 .2 1 .1-1.3 .1 1.1 .2-2.4 0 .1 .3 2 .1-.4 .2 1.2 .1-.1 .1-1.9 .2 .7 .1-1.5 .1 .8 .3 1.1 .1-1.6 .2 1.5 .2-1.6 .1 2.2 .1 .2 .1-1.8 .2 .2 .2 2.4 0-1 .2-2 .2 0 .1 1.9 .2-2.4 .1 1.6 .2-2.6 .1 2.9 .2-2.7 .1 2.4 .1-2.1 .2 4.4 .3-.8 .1-1.7 .1-.1 .1 2.4 .3 .8 .1-3.6 0 1.2 .3-2.4 .2 2.5 0-2.2 .3 3 0-1.9 .3 2.3 .1-2.2 .1 .9 .1-2.1 .3-1.3 .1 2.2 .1 .8 .1-1.2 .2 1.9 .2-2.1 .1 2.1 .1-2.7 .3 .3 .1 3.7 .2-3.4 .2 1.5 .1-3 .3-.9 .1 3.5 .1-2.7 .1 3 .2-2 .2 3.8 .2-.4 .1-2.2 .2 1.4 .1-2.6 .1-.6 .1 2.1 .3 .4 .1-2.3 .2 1.4 .1-3 .1 0 .2 3.3 .1 2.4 .2-4.7 .1 1.7 .2-2.1 .1 3.1 .2-3.1 0 .7 .1 2.6 .2-.2 .2-4 .2 3 .1-3.6 .3 .7 .1 3.2 .2-1.6 .1 4.1 .1-.4 .1-4.9 .2 2.8 .1-4.2 .1 4 .2-4.7 .3-.4 .1 4.4 .1-3.3 .2 4.1 0 .1 .1-2.5 .3-3.3 .2 4 0-3 .2 5 .3-5.1 0 3.8 .4 .3 0-3.7 .1-1.3 .1 4.3 .2-.6 .2-4.1 .1-.5 .2 4.3 .1 .3 .2-4 0-.6 .2 4.7 .1-2.7 .3 4.7 .1 1.4 .2-5.1 .1 2.4 .1-3.8 .2 3.7 .2-4.2 .2-.5 .1 5.7 .1 1.7 .1-5.7 .2 6.2 .1-4.4 .2 4.4 .2-8.1 .2-1.1 .1 5.1 .1-4.9 .1 4.8 .1-.7 .3-5.5 0 4.2 .2-6.6 .2 1.5 .2 8.2 .1-2.2 0-5.9 .3-.8 .1 8.6 .2-7.9 .2 7.9 .1-5.7 .1 8.2 .2-8.6 .1 5.4 .2-5 .1 7 .3-.3 .1-7.8 .1-.2 .1 6.3 .2-.6 .2-8.9 .1 3.4 .1 5.4 .2 .5 .2-7.2 .1 4.1 .1-6.5 .3 9.2 0-6.7 .2 6.3 .1-7.3 .2 7 0-3.8 .3 2.7 .1-6 .1 1.7 .1 3.3 .2-2.1 .3 4.6 .2-3.1 .1 5 0-.7 .2-6.9 .2-2.9 .2 7.3 .1-7.8 .2 9 .1-8.5 .1 8.4 .2-6.6 .1 6.4 .2-7.7 .2 8.8 .1-2.1 .2-7.3 .1 .9 .1 5.6 .2-6.1 .2 3.9 0-2.7 .1 2.6 .2-3.3 .2 6.9 .2-6 0 6.1 .3-1.1 .2-7.7 .1 5.1 .1-5.1 .2 5.2 .1-5.5 .2 7.9 .1-8.1 .3 1.4 .1 7.7 0 .5 .2-6.7 .2 6.1 .1-9.8 .2 8.3 .1-6.5 .3 .1 .1 7.3 .1 .3 0-4.2 .5 3.7 0-5.7 .1-2.5 .1 5.7 .2-5 .1 7.7 .1 .2 .3-10.6 .1-3.8 .2 9.1 0-6.6 .2 11.1 .2-7.4 .1 7 .3 5.4 .1-12.4 .2 7.7 .1-14.6 0 .3 .2 9.4 .2 3.3 .2-10.6 .2 9.7 .1-8.8 .1 5.1 .2 8.2 .1 1.5 .1-7.6 .1 2.7 .2-10.1 .2 8.9 .1-6.2 .2 9 .1-9.2 .2 6.1 .1-8.1 .2 6.1 .1-7.7 .2 .1 .2 9.1 .2-9.3 .1 9.4 0 1.6 .1-6.4 .4-1.5 .1 7.2 .1-7.7 .1 5.8 .2-10 .1 7.3 .2-5.6 .1 12.3 .2-9.8 .1 7.9 .3-2.4 .1-6.5 0-1.4 .2 11.2 .3 .4 .1-8.7 .2 8.2 .1-9 0 4.4 .2 5.6 .2 3.3 .2-9.7 .1 4.7 .2-9.9 .1 3.6 0 7 .3-1.1 .2-9.2 .1 11.6 .1-11.6 .3-.8 .1 8.7 .1-2.4 .2 9.4 0-.2 .2-11.4 .1 6.4 .2-8 .3 1.5 0 6.8 .2-4.2 .2 8 .1-7.7 .2 5.9 .1-6.8 .2 7.7 .2-1.1 .1-5.3 .2-.8 .1 7.2 .2 2 .1-8.5 .1-3.2 .2 5.7 .1-5.1 .2 6.7 .1-5.6 .1 6.7 .1-3.2 .2 7.2 .3-3.1 .1-6.8 .2 10 .1-7.4 .2 3.4 .1-6.4 0 6.9 .3-7.8 .2 5.3 .1-5.6 .1 8.6 .2-5.3 .3-.2 0 7.4 .1-.8 .1-7.1 .3-2.1 .1 7.2 .1 .1 0-5.3 .3-2.2 .2 7.7 .1-3.3 .2 6.1 .1-5.9 .2 7.3 .2-8.6 .1 9.1 .1-7.3 .1 7.4 .3-.7 .1-5.6 .1-2.1 .1 9.7 .3-1.1 .1-7.1 .2 4.4 .1-5.4 0-1.1 .2 7.4 .2-2.9 .2-5.9 .1 1.2 0 7.2 .3 .9 .2-6.8 .2 5.4 .1-7 .2 6.4 .1-5 .1 8.8 .2-8.8 .1 4 .1-4.1 .4 .1 0 3.7 .1 .5 .1-4.7 .1 3.5 .2-5.3 .2 2.7 .2 6.8 0-.7 .2-4.1 .2-.2 .1 6.7 .1-1.5 .2-4.3 .3-3.5 .1 4.5 .1-2.2 .2 8.1 0-3.3 .1-4.3 .2-1.9 .3 4.7 .1-1.9 .1 3.5 .3-3.8 0 3 .1-1.8 .3 3.9 .2 1.2 .1-5.3 0-.7 .2 5.2 .3 4.5 .1-6.9 .1 2.7 .1-5.8 .2 6 .2-6.2 .1 6.2 .2-3.8 .1 3.7 .1-3.5 .2 6 .2-5.3 .1 2.7 .1-4.7 .3 .6 .1 4.6 0-.1 .2-4.9 .3-2.3 .1 5.9 .2-2.4 .1 4.1 0 .5 .3-7.5 .1-.2 .2 6.8 0-.5 .1-4.2 .3-.5 .2 5 .1-2.8 .2 3.2 .1-4.4 .2 3 .1-2.5 .1 4 .2-4.4 .1 3.5 .2-2.2 .1 2.9 .3 .6 .1-4.4 .1 3.8 .2-4.3 0 1.1 .1 3.4 .4 .5 .1-4.7 0 1 .2 2.5 .2-.1 .1-2 .2 3.1 .2-2.4 .1 2.6 .1-3.6 .2 2.1 .2 1.7 .1-.3 .1-2.6 .2 .1 .2 2.1 0-1 .2 1.7 .1-.3 .2-2 .1 1.8 .2-2.2 .2 2.2 0-1.1 .4 1.3 .1-1.8 .1 .3 .2-1.1 .1-.3 .2 2.8 .1-1 0 1.1 .4-.1 .1-1 .2 .9 .1-1.3 .1 .2 .1 1.1 .1-1 .2 2 .3 .1 .1-1.9 .2 1 .1-1 .1 1.8 .2-2.1 .1 1.2 .2-1.4 0 .9 .3-1.4 .1 1.2 0 1.3 .2-.1 .3-1.6 .1 1 .2-1.3 .1 .9 .2-1.2 .2 0 .1 2.2 .1-1.4 .2 2.2 0 .1 .2-1.8 .2-1.3 .2 2.1 .1-1.7 .2 1.9 .1-1.7 .2 1.4 .1-1 .1 1.5 .1-1.4 .2 1.4 .1-1.7 .2 1.8 .2-.8 .2-1.4 0-.5 .2 2.4 .1-1 .2 1.3 .3-.1 .1-1.4 .2 1.3 .1-1.6 .2 1.4 .1-1.4 .1 1.4 .1-1.7 .2 2.6 .1-2 .2 1 .2-1.3 0 1.3 .2-1.2"/>
<path stroke="#888888" stroke-width="0.350" d="M47.8 196.2l.2-1.1 .1 .5 .2-1.3 .1 .9 .2-1.5 0 .2 .1 1.3 .3 .6 .2-1.6 .1 1.3 .1-1.5 .2 1.8 .1-2.9 .2 1.7 .1-1.7 .2 2.7 .1-3.5 .2 3 .1-2.9 .2 .3 .2 4.1 .1-3.3 .2 2.6 .1-3.3 .3-.4 .2 3.6 .1-4.5 .1 3.9 .2-5.3 .1 4.2 .2-4.2 .1 5 .3 0 .1-4.7 .2 3.2 .1-4 .1-.3 .1 4.6 .2-.7 .2-3.9 .1 5.5 .2-6.1 0-1.9 .2 7.1 .2 .6 .2-6.2 .1 4 .1-6 .2 5.9 .2-5.7 .3 2.1 0 4.5 .1 2.4 .1-5 .1 4.5 .2-5.9 .2 5.8 .1-7.7 .2 5.2 .1-7.7 .1 7.1 .2-6 .1 6.9 .2-7.9 .2 .8 .2 7.4 0-2.1 .1-8 .4 1.7 .1 7.3 .1-5.6 .2 6.3 .2-10 .1 4.4 .1-4.3 .1 7.3 .1-6.9 .2 6.8 .3-.5 .1-4.6 0 .1 .2 6.6 .3-2 .1-4.9 .2 8.2 .1-8.8 .2 4.3 .1-5.3 .1 9.6 .2-9.3 .1 5.3 .2-6.2 .1 12.6 .2-14.2 .1 10 .2-12.3 .1 9.3 .1-13.4 .3 2.6 .1 9.4 .1 2.4 .1-11.3 .2 9.9 .1-9.4 .1 10 .2-12.1 .2 6 .2 8.8 0 .2 .1-10.2 .3-1 .2 11.8 0-3.4 .3-10.4 .1-3.8 .2 10 .1-7 .2 10 .1-10.3 .1 12.1 .2-12.3 .1 12.1 .1-9.7 .2 8.5 .3 2.2 .1-15.3 0 1.3 .2 14.4 .3-2.3 .1-12.8 .1 11.1 .2-13.8 .1 17 .2-14.3 .1 11.6 .2-11.8 .1 13.1 .1-7.5 .2 6.5 .2-10.7 0 3.5 .3 9.5 .1-.5 .1-8.7 .1 6.7 .2-11.2 .3-3.5 .1 16.9 .1-10 .2 11.7 0-1.9 .2-10.2 .2-2.6 .2 13.7 .1-5 .2-9.9 .1-1.8 .2 12.5 .1-13.9 .1 9.4 .1-7.7 .2 7 .2 .9 .2-12.2 0 4.3 .2 10.8 .2-8.5 .1 7.5 .2 3 .2-11.4 .1 3.2 .2 10.9 .2 1.6 .1-8.5 .1 6.9 .1-13.1 .2 9.5 .1-11.2 .2 11.5 .1-17.5 .2 12.8 .1-13.6 .3 4.7 .1 11.6 0-3.4 .2-16.6 .1 9.8 .3 10.1 .1 2.5 .1-11.4 .2 8.7 .1-12.8 .3-.4 .1 14 0 2 .2-12.4 .2-7.7 .2 16.1 .1-1.8 0-13.1 .3-1.2 .1 20.3 .2-19.3 .1 20.2 .3 .4 .1-16 .1-4.7 .1 19.3 .3-.9 .1-14.5 .2 9.6 .1-18.3 .1-.7 .1 18.4 .1-11.2 .1 23.3 .4-10.7 .1-11 .1 8 .1-9.4 .4 .5 0 8.6 .1 5.8 .2-12.4 0 4.4 .2-15.7 .1 6.1 .1 16.9 .2 3.4 .2-21.1 .2 2.5 .2 15.1 0 2.4 .3-12 .1 7 .1-10.6 .2-.1 .1 13.8 .1 .9 .2-11.2 .2-1.8 .2 12.7 .1-15.7 .2 12.7 .1-14 .1 15.9 .2-15.4 .2 16.1 .1-17.4 .1 19.4 .2-14.5 .1 17.2 .2-26.3 .1 18.2 .2-10.4 0 19.6 .3-18.7 .1 10.5 .3 6.5 .1-16.1 .1 14.2 .2-14.2 .1 16.8 .1-14.8 .2 6.4 .1-21.8 .1 8.7 .2 11.5 .2 3.7 .1-14.8 .3 3.3 .1 10.5 0-2.4 .3 10.4 .1 1.5 .1-18.2 .3 4.9 .1 14.5 0 2.4 .2-22.8 .2-1.4 .2 25.8 .1-13.3 .2 12.2 0-8.5 .2-12.5 .2-2.9 .2 17.8 .1-24.4 .1 18.2 .2-12.7 .1 13.5 .2-7.4 .1 11.9 .2-18.4 .1 19.1 .3-3.8 .1-13.1 0 3.9 .2 18.4 .3 3.5 .1-29.6 0-1.9 .2 16.1 .2 5.3 .2-17.5 0 4.7 .1 12.1 .2 3 .2-19.3 .2 16.2 .1-12.8 .2 14.9 .1-13.4 .2 16.8 .2-13.4 .2-1 .1 9.2 0 2.4 .2-17.4 .2 1.4 .2 14.8 0 .7 .3-9.7 .2-4.7 .1 16.1 .1-7.4 .2 4.7 .1-.8 0-8.6 .2 5.4 .3-6.6 .1-4.6 .2 9.8 0-4.3 .2 11.7 .1-10.6 .2 11 .2-9.1 .1 12.4 .2-10 .1 9.9 .2 1.3 .2-11.6 .1 7.9 .2-14.6 0 2.8 .2 10.6 .3 .1 .1-11 .2-1.7 .1 10.4 .1 2.7 .1-7.8 .2 6.9 .1-7.2 .1 4.5 .2-8.6 .3-2.5 .1 7.7 .1-1.3 .2 8.8 .1-4.5 .2 6.8 .1-3.7 .1 4.7 .2-6.2 .2 5.5 .1-4.6 .1 7.3 .1-1.9 .3-5.3 0 1.8 .1-3.5 .3-1.3 .2 5.3 .1-6 .1 5.6 .3 .5 .1-5.2 .2 4.9 .1-6.3 0 .2 .2 5.7 .1-3.7 .2 5.1 .2-3.5 .1 5.9 .2-.8 .2-6.3 .1 4.5 .2-6.3 0 2.3 .2 3.1 .1-2.5 .1 4.4 .2 .4 .2-4.4 .2 5 .2-3.9 .2 .7 .1 4 0 .4 .2-4.2 .2 1.7 .2 3.2 .1-2.4 .2 3.4 0-.7 .2-3 .2 1.1 .2 2.6 0-.9 .1-1.6 .3-1.3 .2 2.4 .1-1.1 .2 2.1 .1-1.6 .2 1.4 .2 .1 0-1.4 .2 .1 .2 1 0-.7 .2 1.2 .2-.5 .1 .8"/>
</g>
<rect x="15" y="156.6" width="115.1" height="51.6" fill="none" stroke="#000" stroke-width="0.600"/>
<path d="M20.23 208.2v1.72M44.12 208.2v1.72M68.01 208.2v1.72M91.9 208.2v1.72M115.79 208.2v1.72M15 205.6h-1.72M15 190.6h-1.72M15 175.6h-1.72M15 160.6h-1.72" stroke="#000" stroke-width="0.393"/>
<g class="k" font-size="4.917" text-anchor="middle"><text x="20.23" y="215.38">0</text><text x="44.12" y="215.38">2000</text><text x="68.01" y="215.38">4000</text><text x="91.9" y="215.38">6000</text><text x="115.79" y="215.38">8000</text></g>
<g class="k" font-size="4.917" text-anchor="end"><text x="11.56" y="207.47">−2</text><text x="11.56" y="192.47">0</text><text x="11.56" y="177.47">2</text><text x="11.56" y="162.47">4</text></g>
<text x="72.55" y="153.65" font-size="5.900" text-anchor="middle">Cooling Coil Total Cooling Rate</text>
<g clip-path="url(#c9)" fill="none" stroke-linejoin="round">
<path stroke="#ff7f0e" stroke-width="0.350" d="M158.3 202.2l.2 0 .2-4.4 .1 4.4 .1 0 .1-4.1 .1 4.1 1.4 0 .2-4.1 .1 4.1 .1 0 .1-4.2 .1 4.2 1.4 0 .2-4.1 .1 4.1 .1 0 .1-4.3 .1 4.3 1.4 0 .2-4.3 .1 4.3 .1 0 .1-4.5 .1 4.5 1.4 0 .2-4.2 .1 4.2 .1 0 .1-4.3 .1 4.3 1.4 0 .2-4.1 .1 4.1 .1 0 .1-3.8 .1 3.8 1.4 0 .2-4.4 .1 4.4 .1 0 .1-4.1 .1 4.1 1.4 0 .2-4.3 .1 4.3 .1 0 .1-4.5 .1 4.5 1.6 0 0-4.1 .2 4.1 .1-4.1 .1 4.1 1.6 0 .1-4.5 .1 4.5 .1-4.1 .1 4.1 1.6 0 .1-4.2 .1 4.2 .1-4.1 .1 4.1 1.6 0 .1-4.5 .1 4.5 .2-4.4 0 4.4 1.6 0 .1-4.1 .1 4.1 .2-4.7 0 4.7 1.6 0 .1-3.9 .1 3.9 .2-4.3 0 4.3 1.6 0 .1-3.9 .1 3.9 .2-3.9 0 3.9 1.6 0 .1-2 .1 2 .2-1.2 0 .2 0 1 49.8 0 .1-2.1 .1 2.1 .2-3.4 0 3.4 1.6 0 .1-4.4 .1 4.4 .2-4.1 0 4.1 1.6 0 .1-4.6 .1 4.6 .2-4.5 0 4.5 1.6 0 .1-4 .1 4 .2-4.4 0 4.4 1.6 0 .1-4.3 .1 4.3 .2-4.4 0 4.4 1.6 0 .1-4.6 .1 4.6 .2-3.9 .1 3.9 1.5 0 .1-4.4 .1 4.4 .2-4.6 .1 4.6 1.5 0 .1-4 .1 4 .2-4.1 .1 4.1 1.5 0 .1-3.8 .1 3.8 .2-4.6 .1 4.6 1.5 0 .1-4.6 .1 4.6 .2-4.4 .1 4.4 1.5 0 .1-4.7 .1 4.7 .2-4 .1 4 1.5 0 .1-4.3 .1 4.3 .2-4 .1 4 1.5 0"/>
<path stroke="#2ca02c" stroke-width="0.350" d="M158.3 202.2l.2 0 .2-3 .1 3 .1 0 .1-3 .1 3 1.4 0 .2-3.1 .1 3.1 .1 0 .1-3 .1 3 1.4 0 .2-2.9 .1 2.9 .1 0 .1-3.1 .1 3.1 1.4 0 .2-3.1 .2 3.1 .1-3.3 .1 3.3 1.4 0 .2-2.9 .2 2.9 .1-3.1 .1 3.1 1.4 0 .2-3 .2 3 .1-3.4 .1 3.4 1.4 0 .2-3.3 .2 3.3 .1-3.3 .1 3.3 1.4 0 .2-3.1 .2 3.1 .1-3.2 .1 3.2 1.6 0 0-3 .2 3 .1-3.4 .1 3.4 1.6 0 .1-3.1 .1 3.1 .1-3.5 .1 3.5 1.6 0 .1-3.6 .1 3.6 .1-3 .1 3 1.6 0 .1-3.4 .1 3.4 .2-3.3 0 3.3 1.6 0 .1-3.5 .1 3.5 .2-3 0 3 1.6 0 .1-3.1 .1 3.1 .2-2.9 0 2.9 1.6 0 .1-3 .1 3 .2-2.9 0 2.9 1.6 0 .1-1.8 .1 1.8 .2-.8 0 .8 49.8 0 .2-2.1 0 2.1 .2-2.5 0 2.5 1.6 0 .1-2.9 .1 2.9 .2-3.3 0 3.3 1.6 0 .1-3 .1 3 .2-3.1 0 3.1 1.6 0 .1-3.5 .1 3.5 .2-3.3 0 3.3 1.6 0 .1-3 .1 3 .2-3.2 0 3.2 1.6 0 .1-3.3 .1 3.3 .2-3.1 0 3.1 1.6 0 .1-3.4 .1 3.4 .2-2.9 0 2.9 1.6 0 .1-3.4 .1 0 0 3.4 1.8 0 .1-3.1 .2 3.1 .1-3.2 0 3.2 1.6 0 .1-3.5 .1 0 .1 3.5 .1-3.3 .1 3.3 1.5 0 .1-3.2 .1 0 .1 3.2 .1-3.1 .1 3.1 1.5 0 .1-3.2 .2 3.2 .1-3.6 .1 3.6 1.5 0"/>
<path stroke="#2ca02c" stroke-width="0.300" d="M208.5 200.9l1.2 0 .1-8.5 .3 3 0 5.5 .5 0 .3-6.1 0 6.1 5.7 0 .3-8.2 .1 8.2 .2-8.1 .1 8.1 .2-5.7 .1-2.5 0 8.2 .2-7.8 .1 7.8 .3-6.5 0 6.5 .5 0 .2-7.7 .1 7.7 .3-7.9 0 7.9 .2-8.5 .1 8.5 .2-7.4 .1 7.4 .9 0 .2-8.2 .1 8.2 .1-8.5 .2 8.5 .2-8.1 .1 8.1 .9 0 .4-7.8 0 7.8 .2-8.3 .1 8.3 .3-8.5 0 8.5 .3-7.3 0 7.3 .2-6.1 .1 6.1 6.8 0 .3-8 .1 8 .2-8.4 0 .9 0 7.5 .3 0 .3-6.7 0 6.7 1.2 0"/>
<path stroke="#e377c2" stroke-width="0.550" opacity="0.8" d="M215.91 199.95V160.05"/>
<path stroke="#e377c2" stroke-width="0.550" opacity="0.7" d="M219.25 199.95V162.9"/>
<path stroke="#e377c2" stroke-width="0.550" opacity="0.8" d="M219.85 199.95V174.3"/>
<path stroke="#e377c2" stroke-width="0.550" opacity="0.8" d="M220.44 199.95V175.25"/>
<path stroke="#e377c2" stroke-width="0.550" opacity="0.6" d="M221.64 199.95V176.2"/>
<path stroke="#e377c2" stroke-width="0.550" opacity="0.5" d="M227.61 199.95V183.8"/>
<path stroke="#e377c2" stroke-width="0.550" opacity="0.8" d="M240.15 199.95V187.6"/>
<path stroke="#e377c2" stroke-width="0.550" opacity="0.5" d="M201.33 199.95V195.2"/>
<path stroke="#c0d0a0" stroke-width="0.550" d="M229.4 199.95V193.3"/>
<path stroke="#a08cc0" stroke-width="0.300" d="M158.5 199.5l.1 3.5 .2-3.4 .1 3.3 .2-3.3 .1 3.4 .2-3.4 .1 3.4 .2-3.3 .1 3.3 .1-3.5 .2 3.4 .2-3.3 0 3.5 .3-3.6 0 3.4 .1-3.3 .2 3.3 .3 0 .1-3.3 .1 0 .1 3.3 .3 .1 0-3.5 .2 .1 .1 3.3 .2 .1 .1-3.4 .1-.1 .1 3.4 .4 0 .1-3.3 .1 3.4 .1-3.4 .2 3.4 .2-3.4 .1 3.3 .2-3.2 .1 3.2 .2-3.3 .1 3.4 .1-3.4 .2 0 .2 3.3 .1 0 .1-3.3 .2 3.4 0-3.4 .3 0 .1 3.4 .2-3.4 .2 3.4 .1-3.5 .2 3.4 .1-3.3 .2 3.3 .2-3.3 0 3.4 .2-3.4 .2 3.4 .1-3.4 .2 3.4 0-3.5 .2 3.4 .3 .1 .1-3.4 .1 3.4 .2-3.4 .1 3.4 .2-3.4 .2 3.4 .1-3.4 .1 3.3 .1-3.3 .2 3.3 .2-3.3 .1 3.4 .2-3.4 .1 3.4 .1-3.4 .2 3.3 0-3.2 .3 3.3 .1-3.4 .1 3.3 .1-3.3 .3 3.3 .1-3.3 .3 0 .1 3.4 .2-3.4 .1 3.3 .1 0 0-3.3 .2 3.3 .1-3.3 .4 0 .1 3.3 .1-3.3 .2 3.4 .1-3.3 .2 3.2 .3 .1 0-3.5 .1 .1 .1 3.4 .3 .1 .1-3.5 .1 3.4 .2-3.4 .1 0 .1 3.4 .3-.1 0-3.2 .3 3.3 .1-3.4 .1 3.3 .2-3.3 .1 3.4 .3-.1 .2-3.3 .1 3.4 .1-3.4 .4 0 0 3.3 .1 .1 0-3.4 .3-.1 .2 3.4 .1-3.3 .2 3.4 .1-3.4 .2 3.4 0-.1 .2-3.3 .1 3.3 .1-3.4 .4 0 .1 3.5 0-3.4 .3 3.3 .1-3.3 .1 3.3 .2-3.4 .1 3.5 .2-3.4 .1 3.4 .2-3.5 .1 3.4 .2-3.2 .1 3.3 .2-.1 .1-3.3 .2 3.3 .2-3.2 .2 3.3 0-3.4 .2 3.3 .2-3.3 .1 3.3 .2-3.4 .2 3.5 0-3.4 .2 3.3 .1-3.4 .3 .1 .1 3.3 .2-3.3 .1 3.3 .1 0 .1-3.2 .1 3.2 .2-3.3 .2 3.4 .1-3.4 .1 3.3 .2-3.4 .2 .1 .2 3.4 .1-3.4 .1 3.3 .2-3.4 .2 3.6 .2-3.5 0 3.3 .2-3.4 .1 3.4 .2-3.2 .1 3.1 .3 .1 .1-3.3 .1 0 0 3.4 .4-.2 .1-3.3 .2 3.5 .1-3.5 .1 .1 0 3.3 .3-3.4 0 3.4 .3 0 .2-3.3 .1 3.4 .1-3.4 .2 3.4 .1-3.4 .2 3.3 .1-3.2 .2 3.1 .1-3.2 .2 3.2 .1-3.2 .3 0 .1 3.4 .1-.1 0-3.3 .2 3.3 .2-3.4 .3 .1 .1 3.4 .1-3.4 .1 3.5 .2-3.5 .1 3.4 .3-3.4 0 3.3 .3 .1 .1-3.5 .2 3.4 .2-3.2 .1 3.3 .3-.1 .1-3.3 .2 3.3 .1-3.3 .2 3.4 .1-3.5 0 .2 .1 3.2 .3-.1 .2-3.2 .2 3.4 0-3.3 .2 3.3 .2-3.3 0-.1 .1 3.3 .3 0 .1-3.4 .1 3.6 .3-3.4 .1 3.3 .2-3.4 .2 0 .1 3.3 0 .1 .2-3.4 .2 3.3 .1-3.3 .2 0 .2 3.4 .1-3.4 .2 3.3 .1-3.3 .2 3.3 .2-3.2 .1 3.4 .2-.2 .1-3.3 .1 0 .2 3.4 .1-3.4 .1 3.4 .1-3.5 .2 3.4 .2-3.3 .1 3.4 .3-.1 .1-3.4 .2 3.5 0-3.5 .2 .2 .1 3.2 .2 0 .1-3.3 .2 3.4 .2-3.4 .2 3.4 0-3.4 .2 3.3 .1-3.2 .1 3.2 .3-3.3 0 3.4 .2-3.4 .3 0 .1 3.3 0 .1 .2-3.5 .2 3.4 .1-3.3 .2 0 .2 3.3 .2-3.3 .1 3.3 .1-3.3 .3 0 .1 3.5 .2-3.5 .2 3.3 .1-3.3 .2 3.3 0-3.3 .3 3.3 .1-3.3 .2 3.4 .2-.1 .1-3.3 .1 .1 .1 3.3 .3-.1 .1-3.3 .2 3.4 0-3.5 .3 3.6 .1-3.6 0 .1 .1 3.3 .3 0 .1-3.4 .3 3.5 0-3.3 .1 3.2 .2-3.3 .2 3.3 .1-3.4 .3 .1 .1 3.3 .1 .1 .1-3.4 .2 3.4 .1-3.4 .2 3.4 .1-3.4 .3 .1 .1 3.4 .2-3.4 .1 3.3 .1-3.5 .1 3.5 .3-3.4 0 3.3 .3-3.3 0 3.3 .4 .1 0-3.4 .1-.1 .2 3.5 .2 0 .1-3.4 .1 0 .1 3.3 .3 .2 .1-3.5 .2 3.4 .1-3.4 .2 3.4 .1-3.3 .2 3.3 .1-3.4 .1 3.3 .2-3.3 .1 3.3 .3 .1 .1-3.4 .2 3.4 .2-3.3 .1 3.3 .2-3.4 .1 3.4 .2-3.4 .1 3.3 .1-3.3 .2 3.4 0-3.4 .4 .1 .1 3.3 .1-3.5 .2 3.5 .1-3.4 .2 3.3 .2-3.2 .1 3.2 0-3.3 .2 3.4 .2-3.4 .2 3.3 .2 0 .1-3.3 .1 0 .1 3.4 .2-3.4 .1 3.4 .3 0 .1-3.4 .2 3.4 .1-3.4 .2 3.4 .1-3.4 .1 3.3 .3 .1 .1-3.5 .2 3.4 .2-3.3 .1 3.3 .1-3.3 .2 3.3 .1-3.2 .2 3.2 .1-3.3 .2-.1 .2 3.4 .1 0 0-3.3 .3 3.4 .1-3.4 .2 .1 .2 3.3 .1-3.5 .2 3.4 .2-3.3 0 3.3 .3-3.3 0 3.3 .2-3.3 .1 3.4 .2-3.3 .1 3.3 .3-.1 .1-3.3 .1-.1 .1 3.4 .2-3.3 .1 3.4 .2-3.5 .1 3.4 .3 0 0-3.3 .3 3.3 .1-3.2 .1 3.4 .1-3.4 .2 3.3 .2-3.4 .2 3.4 0-3.4 .2 3.3 .2-3.2 .1 3.2 .1-3.3 .3 0 .1 3.3 .1 .1 0-3.4 .3 3.3 .2-3.3 .1 3.4 0-3.4 .4 0 .1 3.4 .1-3.5 .2 3.4 .2-3.3 .1 3.3 .1-3.4 .1 3.5 .2-3.4 .2 3.4 .1-3.4 .2 3.4 .1-3.5 .1 3.5 .2-3.4 .1 3.4 .2-3.4 .1 3.4 .1-3.4 .2 3.3 .2-3.3 .1 3.3 .1-3.3 .1 3.4 .4 0 0-3.3 .2 3.3 .2-3.4 .1 3.4 .1-3.4 .2 3.4 .2-3.4 .1 3.3 .2-3.3 .1 3.3 .1-3.2 .2 3.2 .2-3.3 .2 .1 .1 3.2 .2-3.3 .1 3.3 .1 .1 .2-3.4 .2 0 .1 3.4 .1-3.4 .2 3.3 .2-3.3 0 3.3 .2-3.3 .2 3.3 .2-3.3 .1 3.3 .2-3.3 0 3.3 .2-3.3 .1 3.4 .3 .1 .1-3.6 .1 .2 .1 3.2 .3 0 .1-3.3 .2 3.3 0-3.3 .2 0 .1 3.3 .1-3.3 .1 3.3 .4 0 .1-3.3 .1 3.3 .2-3.3 .1 3.3 .1-3.3 .2 3.4 .1-3.4 .3 0 .1 3.3 .1 .1 .1-3.5 .1 3.5 .2-3.5 .2 3.5 .1-3.4 .2 3.4 .1-3.4 .1 3.4 .2-3.4 .3 0 .1 3.4 0-.1 .1-3.4 .3 .1 .1 3.4 .3-3.4 0 3.5 .4-.2 0-3.2 .1 0 .1 3.3 .2-3.4 .1 3.4 .3-.1 .1-3.3 .1 .1 0 3.2 .3-3.3 .1 3.3 .2 0 .1-3.4 .2 3.6 .2-3.4 .1 3.2 .1-3.3 .2 3.4 .2-3.4 .1 3.4 .1-3.5 .2 3.5 .1-3.4 .2 3.3 .1-3.3 .2 3.4 .2-3.4 .2 0 .1 3.3 .1 0 .1-3.3 .2 3.5 0-3.5 .4 0 0 3.4 .1-.1 .2-3.3 .2 0 .2 3.4 .1-3.5 .2 3.6 .1-3.5 .1 3.3 .3 0 .1-3.3 .1 0 .1 3.3 .2-3.4 .1 3.5 .3-.1 .1-3.3 .2 3.3 0-3.4 .2 .1 0 3.3 .3 .1 .2-3.5 .1 3.5 .2-3.4 .2 3.3 0-3.3 .2 3.4 .1-3.3 .2 3.4 .2-3.4 .1 3.2 .1-3.3 .2 3.4 .2-3.4 .1 3.3 .1-3.3 .4-.1 0 3.4 .2-3.3 .1 3.4 .1-3.4 .2 3.5 .1-.2 0-3.3 .3 0 .2 3.3 .1-3.3 .2 3.4 .1-3.4 .1 3.3 .2-3.2 .1 3.3 .2-3.5 .1 3.4 .3 .1 .1-3.4 .2 3.2 .1-3.2 .1-.1 .1 3.5 .3 0 .1-3.5 .1 3.4 .2-3.4 .2 3.5 .2-3.5 0 3.4 .3 .1 .2-3.4 .2 3.3 0-3.3 .2 3.3 .1-3.3 .4 0 0 3.3 .1 .1 .1-3.4 .3-.1 .1 3.5 .3-3.4 .1 3.4 .1-3.3 .1 3.2 .2-3.3 .2 0 .2 3.4 .2-3.4 0 3.3"/>
<path stroke="#8a86a8" stroke-width="0.300" d="M158.4 200.6l.2 2.4 .2-2.5 .1 2.5 .2-2.7 .1 2.6 .1-2.2 .2 2.2 .2-2.4 .1 2.4 .1-2.3 .2 2.3 .1-2.3 .2 2.3 .2 .1 .1-2.5 .3 2.4 0-2.5 .1-.2 .1 2.7 .2-2.5 0 2.5 .4 0 .1-2.4 0 .1 .2 2.5 .2 0 .2-2.8 .1 2.6 .2-2.5 .1 2.5 .2-2.6 .1 2.6 .2-2.7 .1 2.7 .2-2.5 .1 2.5 .2-2.4 .1 2.5 .1-2.7 .2 2.6 .1-2.4 .2 2.4 .1-2.3 .3 .1 .1 2.2 .1 0 0-2.4 .4-.3 0 2.7 .3-2.6 0 2.7 .2-2.6 .1 2.5 .2-2.4 .1 2.5 .4-.1 0-2.6 .2 .1 0 2.5 .3 0 .1-2.5 .1 0 .1 2.5 .3 0 .1-2.7 0 .1 .2 2.6 .1-2.6 .2 2.7 .2 .1 .1-2.7 .3 2.5 .1-2.5 .1 .1 0 2.5 .3-.1 .2-2.6 .1 2.7 .2-2.9 .3 .3 0 2.5 0 .1 .2-2.4 .2 2.4 0-2.4 .3 2.3 0-2.5 .3 2.6 0-2.8 .3 .4 .2 2.4 .1-2.7 .2 2.7 .1-2.5 .2 2.4 .1-2.7 .1 2.9 .3-2.6 0 2.4 .2-2.5 .1 2.6 .3 0 .1-2.7 .1 0 .1 2.7 .2-2.6 .1 2.6 .2-2.6 .1 2.6 .1-2.5 .2 2.5 .2-.1 .1-2.6 .2 0 0 2.7 .3-.1 .2-2.7 0 .1 .1 2.6 .3 .1 .2-2.7 .1 2.8 .1-2.9 .2 .1 .2 2.6 .1 0 .2-2.5 .1 2.5 0-2.4 .2 2.4 .1-2.2 .4-.6 .1 2.8 .2-2.3 .1 2.3 .2-2.3 0 2.4 .2-2.5 .2 2.4 .1-2.4 .2 2.5 .2-.1 .1-2.5 .1 0 .1 2.5 .3 0 .1-2.6 .1-.1 .1 2.7 .3 .1 .1-2.7 .1 .2 .1 2.4 .3 .1 0-2.6 .2 2.5 .2-2.5 .1 .1 .1 2.4 .3 0 .1-2.8 .1 2.8 .2-2.6 0 2.7 .3-2.6 .1 2.5 .1-2.6 .2 .1 .2 2.5 .1 0 .1-2.4 .2 2.5 .1-2.7 .2 .1 .2 2.6 .2-2.5 .1 2.4 .1-2.8 .2 2.8 .1-2.4 .2 2.4 .1-2.6 .1 2.7 .2-2.7 .1 2.7 .3-2.4 0 2.4 .4 0 0-2.6 .1-.1 .1 2.6 .3 .1 .1-2.6 .1 0 .1 2.6 .2-2.7 0 2.6 .3-2.6 .1 2.6 .2 0 .1-2.3 .3 2.3 .1-2.7 .1 2.7 .1-2.7 .1 .1 .1 2.6 .5-2.3 0 2.4 .2-2.5 .1 2.4 .1 .1 .1-2.6 .2 2.5 0-2.7 .4 .4 .1 2.3 .1 .1 .1-2.4 .2-.5 .2 2.9 .1-2.6 .1 2.5 .2-2.3 .2 2.4 .1-2.5 .1 2.4 .3 .1 .1-2.6 .1 0 .1 2.4 .3 .1 .1-2.6 .1 0 0 2.6 .2-2.6 .2 2.7 .2-2.6 .1 2.5 .2-2.3 0 2.3 .4 0 .1-2.5 .1 2.5 .1-2.4 .2 2.4 .1-2.3 .2 2.3 .2-2.6 .1 2.7 .1-2.6 .2 2.5 .1-2.7 .2 2.7 .1-2.4 .2 2.4 .1-2.5 .3-.2 .1 2.8 0-.1 .1-2.5 .3 2.5 .1-2.6 .3 .1 .1 2.6 .1-2.7 .1 2.6 .3-2.6 .1 2.6 .1-2.5 .2 2.6 .1-2.4 .2 2.3 .3 .1 0-2.5 0-.1 .2 2.6 .3 0 .1-2.5 .2 2.3 .1-2.5 .1 .1 .1 2.4 .2-2.2 0 2.3 .3 0 .2-2.5 .1 2.5 .2-2.4 .1 2.5 .2-2.7 .1 2.7 .2-2.6 .1 2.6 .2-2.6 .1 2.6 .1-2.5 .2 2.5 .1-2.7 .2 2.6 .1-2.2 .2-.4 .2 2.6 .2-2.7 .1 2.7 .1-2.6 .2 2.6 0 .1 .2-2.8 .1 2.8 .1-2.7 .3 .1 .1 2.5 .4 0 0-2.3 .1-.2 .1 2.6 .3 0 .1-2.7 .2 2.6 .1-2.6 0-.1 .2 2.8 .3-.1 .1-2.6 .1 0 0 2.7 .4 0 .1-2.5 .1 2.5 .1-2.4 .3 2.3 0-2.5 .1-.1 .1 2.6 .3 0 .2-2.4 .1 2.5 .1-2.7 .2 2.6 .2-2.4 .3-.1 0 2.5 .1 .1 .2-2.8 .1 .4 .2 2.3 .1-2.5 .2 2.6 .1-2.7 .2 2.7 .1-2.5 .2 2.5 .2-2.7 .1 2.7 .2-.1 .1-2.6 .1-.2 .1 3 .2-2.9 .1 2.8 .3-.2 .1-2.6 .1 0 .1 2.7 .2-2.6 0 2.6 .3 0 .2-2.6 .1 .1 .1 2.6 .3 0 .1-2.6 0-.1 .2 2.6 .1-2.5 .1 2.5 .3 0 .2-2.5 .3-.1 0 2.7 .2-2.4 .1 2.3 .1 0 .2-2.8 .1 2.8 .1-2.7 .3 .1 .1 2.7 .1 .1 0-2.7 .2 2.5 .2-2.6 .3 .1 .1 2.5 .1-2.6 .2 2.6 .2-2.6 0 2.6 .3-2.7 .1 2.8 .1-2.4 .2 2.3 0-2.3 .2 2.4 .2-.1 .2-2.5 .2 2.6 .1-2.8 .1 .1 0 2.7 .4-.1 .1-2.7 0 .1 .1 2.7 .3-.1 .1-2.6 .2 0 0 2.7 .3-.1 .2-2.5 .1 2.7 .1-2.8 .2 2.6 .1-2.6 .2 .2 .2 2.5 .1-.1 .1-2.7 .3 .1 .1 2.7 .1-2.7 .2 2.6 .2-2.6 .1 2.7 .1-2.3 .2 2.3 .2-2.8 .1 2.8 .1-2.7 .2 2.6 .3 .2 0-2.8 .1 .1 .2 2.6 .2-.1 .1-2.7 .2 2.7 .3 0 .1-2.4 .1 0 0 2.5 .3-.1 .2-2.6 .2 2.7 .1-2.7 .1 .1 .1 2.5 .2 0 .2-2.4 .2 2.5 0-2.6 .2 2.5 .2-2.5 .1 2.5 .2-2.7 .1 2.8 .1-2.6 .2 .1 .2 2.4 .1 .2 .1-2.5 .3 0 .1 2.3 .1-2.6 .2 2.6 .1-2.4 .2 2.4 .1-2.3 .3-.2 .1 2.6 .3-2.4 0 2.3 .2-2.4 .1 2.4 .3 .1 .1-2.5 .3 2.4 0-2.5 .1-.1 .2 2.6 .1 .1 .2-2.7 .1 0 0 2.6 .3 0 .1-2.5 .2 0 0 2.6 .3-.1 .1-2.6 .2-.1 0 2.7 .3 .1 .1-2.8 .1 2.7 .2-2.8 .2 2.9 .2-2.5 .1 2.4 .1-2.3 .1 2.4 .2-2.9 .1 2.9 .2-2.4 .3-.2 .1 2.5 .1-2.7 .2 2.7 .1-2.6 .2 2.6 .2-2.7 .1 2.7 .2 0 .1-2.4 0-.3 .3 2.7 .1-2.8 .1 2.9 .3-.1 .1-2.3 .2 2.3 .1-2.3 .2 2.4 .1-2.8 .1 3 .2-2.9 .1 2.6 .3 0 .2-2.6 .1 0 .1 2.7 .2-.1 .2-2.6 .1 2.6 .1-2.8 .1 .3 .1 2.5 .3 0 .2-2.7 .1 2.7 .1-2.6 .2 2.6 .1-2.5 .1 2.6 .2-2.4 .2-.2 .2 2.5 .1 .1 .1-2.7 .2 .1 .2 2.5 .2-2.5 .1 2.6 .2-2.8 .1 2.8 .2-2.5 0 2.4 .3 0 .1-2.6 .1-.1 .1 2.7 .2-2.6 .1 2.7 .2-2.5 .2 2.4 .1-2.3 .1 2.3 .2 0 .2-2.3 .1 2.5 .2-2.8 .1 .1 0 2.7 .4-.2 .1-2.7 .1 0 .1 2.8 .1-2.6 .2 2.5 .2 0 .1-2.6 .2 2.7 .1-2.8 .1 2.7 .2-2.5 .4 .1 0 2.5 .1-.1 0-2.7 .4 .4 .1 2.4 .1-2.3 .2 2.2 .1-2.6 .1 2.8 .2-2.6 .2 2.3 .1-2.2 .1 2.3 .2-2.3 .2 2.4 .2-2.4 0 2.4 .4-.1 0-2.7 .1 .1 .2 2.6 .2 0 .1-2.5 .2 2.5 0-2.5 .3 2.6 .1-2.6 .2 2.6 .1-2.8 .1 0 .1 2.7 .3 0 0-2.4 .2 2.4 .1-2.7 .2 2.7 .2-2.6 .1 2.6 .1-2.5 .2 2.6 .1-2.6 .2 2.8 .1-2.9 .2 2.7 .1-2.7 .3 .2 .1 2.5 .2-2.3 .1 2.3 .1-2.8 .2 2.7 .1-2.6 .1 2.8 .3-2.6 .1 2.4 .2-2.5 .1 2.6 .2 0 .1-2.6 .2-.1 .1 2.7 .1-2.9 .1 2.9 .2-2.6 .1 2.6 .2 0 .2-2.6 .1-.1 .1 2.6 .3 .1 .1-2.5 .2 2.4 .1-2.5 .2 2.5 0-2.4 .2 2.3 .1-2.5 .2 2.6 .1-2.6 .2 2.7 .1-2.5 .2 2.6 .1-2.8 .4 0 0 2.6 .1 0 0-2.5 .3 2.5 .1-2.5 .3 .2 .1 2.3 .1 .2 .1-2.7 .2 0 .2 2.5 .2-2.7 0 2.7"/>
<path stroke="#bab224" stroke-width="0.500" d="M158.3 205.6l.2-4.3 .2 4.3 .1-4.3 .1 4.3 .1-4.3 .3 4.3 0-4.3 .2 4.3 .1-4 .3-.3 .1 4.3 .2-4.3 .1 4.3 .2-4.3 .1 4.3 .2-4.3 .1 4.3 .3 0 .1-4.3 .1 4.3 .3-4.3 0 4.3 .2-4.3 .1 4.3 .3 0 .1-4.3 .2 4.3 .2-4.3 .1 4.3 .3 0 .1-4.3 .1 4.3 .2-4.3 .1 4.3 .2-4.3 .1 4.3 .2-4.3 .1 4.3 .2-4.3 .2 4.3 0-4.3 .2 4.3 .1-4.3 .2 4.3 .2-4.3 .1 4.3 .1-4.3 .2 4.3 .1-4.3 .3 0 .1 4.3 .2-4.3 .1 4.3 .2-4.3 .1 4.3 .1-4.3 .2 4.3 .2-4.3 .1 4.3 .2 0 .2-4.2 .1-.1 0 4.3 .2-4.3 .1 4.3 .3-4.3 0 4.3 .3-4.3 0 4.3 .3-4.3 0 4.3 .3 0 .2-4.3 .1 4.3 .1-4.3 .2 4.3 .1-4.3 .1 4.3 .2-4.3 .1 4.3 .2-4.3 .1 4.3 .1-4.3 .2 4.3 .1-4.3 .2 4.3 .2-4.3 .2 0 .1 4.3 .2-4.3 .1 4.3 .2-4.3 .1 4.3 .2-4.3 .2 4.3 .1-4.3 .1 4.3 .2-4.3 .1 4.3 .1-4.3 .2 4.3 .2-4.3 .1 4.3 .2-4.3 0 4.3 .3-4.3 0 4.3 .3 0 .2-4.3 .1 0 0 4.3 .3 0 .1-4.3 .2 4.3 .1-4.3 .2 4.3 .2-4.3 .1 4.3 .1-4.3 .1 4.3 .2-4.3 .1 4.3 .2-4.3 .2 4.3 .2-4.3 .1 4.3 .1-4.3 .2 0 .2 4.3 .1-4.3 .2 4.3 .1-4.3 .2 4.3 .2-4.3 .1 4.3 .2-4.2 .2-.1 .1 4.3 .2-4.3 .1 4.3 .2-4.3 .1 4.3 .2-4.3 .1 4.3 .3 0 .1-4.3 .1 4.3 .2-4.2 0-.1 .1 4.3 .3 0 .2-4.3 .1 4.3 .1-4.3 .2 0 0 4.3 .3 0 .1-4.3 .2 4.3 .1-4.3 .2 4.3 .1-4.3 .1 4.3 .1-4.3 .3 4.3 .1-4.3 .2 4.3 .1-4.3 .1 4.3 .1-4.3 .3 4.3 .1-4.3 .1 4.3 .1-4.3 .2 4.3 .1-4.3 .2 4.3 .1-4.3 .2 0 .2 4.3 .1-4.3 .2 4.3 .2-4.3 .1 4.3 .2-4.3 .1 4.3 .2-4.3 .1 4.3 .2 0 .2-4.3 .1 0 0 4.3 .3-4.3 0 4.3 .3 0 .1-4.3 .2 0 0 4.3 .3 0 .1-4.3 .1 0 .1 4.3 .3 0 .1-4.3 .2 4.3 .1-4.3 .1 4.3 .3-4.1 0 4.1 .1-4.3 .2 4.3 .2-4.3 .1 4.3 .1-4.3 .2 4.3 .1-4.3 .3 4.3 0-4.3 .2 4.3 .1-4.3 .2 4.3 0-4.3 .4 0 .1 4.3 .1-4.3 .2 4.3 .2-4.3 .1 4.3 .3 0 .1-4.3 .1 0 0 4.3 .3-4.3 .1 4.3 .1-4.3 .1 4.3 .3-4.3 0 4.3 .2-4.3 .1 4.3 .3 0 .2-4.3 .1 4.3 .1-4.3 .2 4.3 .2-4.3 .1 4.3 .2-4.3 0 4.3 .3-4.3 0 4.3 .3-4.3 .1 4.3 .1-4.3 .1 4.3 .1-4.3 .2 4.3 .1-4.3 .2 4.3 .1-4.3 .2 4.3 .1-4.3 .3 0 .1 4.3 .2-4.3 .1 4.3 .2-4.3 .1 4.3 .2-4.3 .1 4.3 .2-4.3 .1 4.3 .2-4.3 .1 4.3 .2 0 .2-4.3 .1 4.3 .2-4.3 .1 4.3 .3 0 .2-4.3 .1 4.3 .2-4.3 .1 4.3 .1-4.3 .1 0 .1 4.3 .2 0 .2-4.3 .1 4.3 .2-4.3 .2 4.3 0-4.3 .3 4.3 0-4.3 .3 4.3 .1-4.3 .2 4.3 0-4.3 .2 4.3 .2-4.3 .1 4.3 .1-4.3 .3 0 .1 4.3 .1 0 .1-4.3 .3 0 .1 4.3 .2-4.3 .1 4.3 .2-4.3 .1 4.3 .2-4.3 .1 4 .3 .3 .1-4.3 .2 4.3 .1-4.3 .1 4.3 .1-4.3 .2 0 0 4.3 .3 0 .2-4.3 .1 4.3 .3 0 .1-4.3 .1 0 .1 4.3 .2 0 .2-4.3 .2 4.3 .1-4.3 .2 4.3 .1-4.2 .1 4.2 .2-4.3 .1 4.3 .2-4.3 .1 4.3 .2-4.3 .2 4.3 .1-4.3 .2 4.3 0-4.3 .2 4.3 .1-4.3 .2 0 .2 4.3 .2-4.3 .1 4.3 .3 0 .1-4.3 .1 0 .1 4.3 .2-4.3 .1 4.3 .3 0 .1-4.3 .1 0 0 4.3 .3-4.3 0 4.3 .3-4.3 0 4.3 .2-4.3 .1 4.3 .2-4.3 .1 4.3 .3 0 .2-4.3 .1 4.3 .1-4.3 .2 4.3 .1-4.3 .2 4.3 .1-4.2 .2 4.2 .1-4.3 .2 4.3 0-4.3 .2 4.3 .2-4.3 .1 4.3 .1-4.3 .3 4.3 0-4.3 .2 4.3 .1-4.3 .2 4.3 .1-4.3 .3 0 .1 4.3 .1-4.3 .2 4.3 .2-4.3 .1 4.3 .1-4.3 .2 4.3 .2-4.3 0 4.3 .3-4.3 0 4.3 .3-4.3 0 4.3 .3 0 .2-4.3 .1 4.3 .2-4.3 .1 0 0 4.3 .3 0 .2-4.3 .1 4.3 .1-4.3 .1 4.3 .2-4.3 .2 4.3 .1-4.3 .1 4.3 .2-4.3 .1 4.3 .2-4.3 .1 4.3 .1-4.3 .2 4.3 .1-4.3 .3 4.3 .1-4.3 .1 4.3 .1-4.3 .2 4.3 .1-4.3 .3 0 .1 4.3 .2-4.3 .1 4.3 .2-4.3 .1 4.3 .2-4.3 .1 4.3 .1-4.3 .2 4.3 .2 0 .2-4.3 .1 0 0 4.3 .3-4.3 0 4.3 .3-4.3 0 4.3 .3 0 .1-4.3 .1 0 .1 4.3 .2-4.3 .1 4.3 .2-4.3 .1 4.3 .2 0 .3-4.3 0 4.3 .2-4.3 .2 4.3 0-4.3 .2 4.3 .2-4.3 .1 4.3 .2-4.3 .1 4.3 .1-4.3 .2 4.3 .1-4.3 .3 0 .2 4.3 .2-4.3 .3 0 0 4.3 .2-4.3 .1 4.3 .1-4.3 .2 4.3 .2-4.3 .1 4.3 .2-4.3 0 4.3 .3-4.3 0 4.3 .3 0 .2-4.2 .1 4.2 .1-4.3 .2 0 0 4.3 .3 0 .1-4.3 .2 4.3 .1-4.3 .1 0 .1 4.3 .2 0 .2-4.3 .2 4.3 .1-4.3 .1 4.3 .1-4.3 .2 4.3 .3-4.3 0 4.3 .2-4.3 .1 4.3 .1-4.3 .2 4.3 .1-4.3 .3 0 .1 4.3 .2-4.3 .1 4.3 .1-4.3 .2 4.3 .1-4.3 .2 4.3 .2-4.3 .1 4.3 .2-4.3 .1 4.3 .2-4.3 .1 4.3 .2-4.3 .1 4.3 .2-4.3 0 4.3 .3-4.3 .1 4.3 .2-4.3 0 4.3 .3 0 .2-4.3 .1 4.3 .3 0 .1-4.3 .2 4.3 .1-4.3 .1 4.3 .2-4.3 .1 4.3 .3-4.3 .1 4.3 .1-4.3 .2 4.3 .1-4.3 .1 4.3 .1-4.3 .3 4.3 0-4.3 .2 4.3 .1-4.3 .2 4.3 .1-4.3 .3 0 .1 4.3 .1-4.3 .2 4.3 .2-4.3 .1 4.3 .2-4.3 .1 4.3 .2-4.3 .1 4.3 .2-4.3 0 4.3 .2-4.3 .1 4.3 .3-4.3 0 4.3 .3-4.3 0 4.3 .3 0 .1-4.3 .1 0 .1 4.3 .2-4.3 .1 4.3 .3 0 .1-4.3 .1 4.3 .2-4.3 .2 4.3 0-4.3 .3 4.3 .1-4.3 .1 4.3 .1-4.3 .2 4.3 .2-4.3 .1 4.3 .2-4.3 .1 4.3 .1-4.3 .3 4.3 0-4.3 .2 4.3 .2-4.3 .2 0 .1 4.3 .3-4.3 0 4.3 .3 0 .1-4.3 .1 0 .1 4.3 .1-4.3 .2 4.3 .1-4.3 .1 4.3 .3-4.3 0 4.3 .3 0 .2-4.2 .1 4.2 .2-4.3 .1 .1 0 4.2 .2-4.3 .1 4.3 .3 0 .1-4.3 .2 4.3 .1-4.3 .1 4.3 .2-4.3 .2 4.3 0-4.3 .3 4.3 .1-4.3 .1 4.3 .2-4.2 .1 4.2 .2-4.3 .1 4.3 .1-4.3 .3 4.3 0-4.3 .2 4.3 .1-4.3 .2 4.3 .1-4.3 .2 0 .2 4.3 .2-4.3 .1 4.3 .2-4.3 .1 4.3 .1-4.3 .2 4.3 .2 0 .2-4.3 .1 0 0 4.3 .3-4.3 0 4.3 .3-4.3 0 4.3 .2-4.3 .1 4.3 .3 0 .1-4.3 .2 4.3 .1-4.3 .2 4.3 .1-4.3 .2 4.3 .1-4.3 .2 4.3 .1-4.3 .1 4.3 .1-4.3 .2 4.3 .2-4.3 .1 4.3 .2-4.3 .2 4.3 .1-4.3 .1 4.3 .2-4.3 .2 4.3 0-4.3 .3 0 .1 4.3"/>
</g>
<rect x="153.1" y="156.6" width="115.1" height="51.6" fill="none" stroke="#000" stroke-width="0.600"/>
<path d="M158.33 208.2v1.72M182.22 208.2v1.72M206.11 208.2v1.72M230 208.2v1.72M253.89 208.2v1.72M153.1 202.8h-1.72M153.1 183.8h-1.72M153.1 164.8h-1.72" stroke="#000" stroke-width="0.393"/>
<g class="k" font-size="4.917" text-anchor="middle"><text x="158.33" y="215.38">0</text><text x="182.22" y="215.38">2000</text><text x="206.11" y="215.38">4000</text><text x="230" y="215.38">6000</text><text x="253.89" y="215.38">8000</text></g>
<g class="k" font-size="4.917" text-anchor="end"><text x="149.66" y="204.67">0</text><text x="149.66" y="185.67">10</text><text x="149.66" y="166.67">20</text></g>
<text x="210.65" y="153.65" font-size="5.900" text-anchor="middle">Fan Electricity Rate</text>
<g clip-path="url(#c10)" fill="none" stroke-linejoin="round">
<path fill="#ec8a3a" stroke="none" d="M296.43 203.4L298.21 203.4L299.98 203.4L301.75 203.4L303.52 203.4L305.3 203.4L307.07 203.4L308.84 203.4L310.62 203.4L312.39 203.4L314.16 203.4L315.94 203.4L317.71 203.4L319.48 203.4L321.26 203.4L323.03 203.4L324.8 203.4L326.58 203.4L328.35 203.4L330.12 203.4L331.9 203.4L333.67 203.4L335.44 203.4L337.22 203.4L338.99 203.4L340.76 203.4L342.54 203.4L344.31 203.4L346.08 203.4L347.86 203.4L349.63 203.4L351.4 203.4L353.18 203.4L354.95 203.4L356.72 203.4L358.5 203.4L360.27 203.4L362.04 203.4L363.82 203.4L365.59 203.4L367.36 203.4L369.14 203.4L370.91 203.4L372.68 203.4L374.46 203.4L376.23 203.4L378 203.4L379.78 203.4L381.55 203.4L383.32 203.4L385.1 203.4L386.87 203.4L388.64 203.4L390.42 203.4L392.19 203.4L393.96 203.4L395.74 203.4L397.51 203.4L399.28 203.4L401.06 203.4L401.06 182.7L399.28 182.84L397.51 182.97L395.74 183.11L393.96 183.25L392.19 183.38L390.42 183.52L388.64 183.66L386.87 183.79L385.1 183.95L383.32 184.12L381.55 184.29L379.78 184.46L378 184.63L376.23 184.81L374.46 184.98L372.68 185.17L370.91 185.36L369.14 185.56L367.36 185.76L365.59 185.94L363.82 185.92L362.04 185.89L360.27 185.87L358.5 185.85L356.72 185.83L354.95 185.7L353.18 185.51L351.4 185.32L349.63 185.13L347.86 184.94L346.08 184.75L344.31 184.56L342.54 184.39L340.76 184.22L338.99 184.05L337.22 183.87L335.44 183.7L333.67 183.53L331.9 183.37L330.12 183.27L328.35 183.17L326.58 183.06L324.8 182.96L323.03 182.86L321.26 182.76L319.48 182.7L317.71 182.7L315.94 182.7L314.16 182.7L312.39 182.7L310.62 182.7L308.84 182.7L307.07 182.7L305.3 182.7L303.52 182.7L301.75 182.7L299.98 182.7L298.21 182.7L296.43 182.7z"/>
<path fill="#7d8f9c" stroke="none" d="M296.43 182.7L298.21 182.7L299.98 182.7L301.75 182.7L303.52 182.7L305.3 182.7L307.07 182.7L308.84 182.7L310.62 182.7L312.39 182.7L314.16 182.7L315.94 182.7L317.71 182.7L319.48 182.7L321.26 182.76L323.03 182.86L324.8 182.96L326.58 183.06L328.35 183.17L330.12 183.27L331.9 183.37L333.67 183.53L335.44 183.7L337.22 183.87L338.99 184.05L340.76 184.22L342.54 184.39L344.31 184.56L346.08 184.75L347.86 184.94L349.63 185.13L351.4 185.32L353.18 185.51L354.95 185.7L356.72 185.83L358.5 185.85L360.27 185.87L362.04 185.89L363.82 185.92L365.59 185.94L367.36 185.76L369.14 185.56L370.91 185.36L372.68 185.17L374.46 184.98L376.23 184.81L378 184.63L379.78 184.46L381.55 184.29L383.32 184.12L385.1 183.95L386.87 183.79L388.64 183.66L390.42 183.52L392.19 183.38L393.96 183.25L395.74 183.11L397.51 182.97L399.28 182.84L401.06 182.7L401.06 178.31L399.28 178.44L397.51 178.58L395.74 178.72L393.96 178.85L392.19 178.99L390.42 179.12L388.64 179.26L386.87 179.4L385.1 179.55L383.32 179.72L381.55 179.89L379.78 180.07L378 180.24L376.23 180.41L374.46 180.58L372.68 180.77L370.91 180.97L369.14 181.16L367.36 181.36L365.59 181.54L363.82 181.52L362.04 181.5L360.27 181.48L358.5 181.46L356.72 181.44L354.95 181.3L353.18 181.11L351.4 180.92L349.63 180.73L347.86 180.54L346.08 180.36L344.31 180.17L342.54 179.99L340.76 179.82L338.99 179.65L337.22 179.48L335.44 179.31L333.67 179.14L331.9 178.98L330.12 178.87L328.35 178.77L326.58 178.67L324.8 178.57L323.03 178.46L321.26 178.36L319.48 178.31L317.71 178.31L315.94 178.31L314.16 178.31L312.39 178.31L310.62 178.31L308.84 178.31L307.07 178.31L305.3 178.31L303.52 178.31L301.75 178.31L299.98 178.31L298.21 178.31L296.43 178.31z"/>
<path fill="#e58a45" stroke="none" opacity="0.8" d="M296.81 182.7H298.06V178.54H296.81zM298.82 182.7H300.06V178.54H298.82zM300.83 182.7H302.07V178.54H300.83zM302.83 182.7H304.08V178.54H302.83zM304.84 182.7H306.08V178.54H304.84zM306.85 182.7H308.09V178.54H306.85zM310.86 182.7H312.1V178.54H310.86zM312.87 182.7H314.11V178.54H312.87zM314.87 182.7H316.12V178.54H314.87zM316.88 182.7H318.12V178.54H316.88zM318.89 182.7H320.13V178.54H318.89zM320.89 182.73H322.14V178.57H320.89zM322.9 182.85H324.14V178.69H322.9zM324.91 182.97H326.15V178.8H324.91zM326.91 183.08H328.16V178.92H326.91zM328.92 183.2H330.16V179.04H328.92zM330.93 183.32H332.17V179.15H330.93zM332.94 183.46H334.18V179.3H332.94zM334.94 183.65H336.18V179.49H334.94zM336.95 183.85H338.19V179.68H336.95zM340.96 184.24H342.2V180.07H340.96zM342.97 184.43H344.21V180.27H342.97zM344.98 184.63H346.22V180.47H344.98zM346.98 184.85H348.22V180.68H346.98zM348.99 185.06H350.23V180.9H348.99zM353 185.49H354.24V181.32H353zM355.01 185.7H356.25V181.54H355.01zM359.02 185.86H360.26V181.69H359.02zM361.03 185.88H362.27V181.72H361.03zM363.04 185.91H364.28V181.74H363.04zM365.04 185.93H366.28V181.77H365.04zM369.06 185.57H370.3V181.41H369.06zM371.06 185.35H372.31V181.18H371.06zM373.07 185.13H374.31V180.96H373.07zM375.08 184.92H376.32V180.75H375.08zM377.08 184.72H378.33V180.56H377.08zM385.11 183.95H386.35V179.78H385.11zM387.12 183.77H388.36V179.61H387.12zM391.13 183.46H392.37V179.3H391.13zM397.15 183H398.39V178.84H397.15z"/>
<path stroke="#5a8fb8" stroke-width="0.300" d="M323.36 202.83V183.11M314.92 202.83V182.93M334.01 202.83V183.79M324.62 202.83V183.18M385.01 202.83V184.19M309.74 202.83V182.93M323.99 202.83V183.15M388.6 202.83V183.89M350.22 202.83V185.42M359.01 202.83V186.09M324.81 202.83V183.19M357.89 202.83V186.08M303.05 202.83V182.93M308.08 202.83V182.93"/>
<path stroke="#f48c2c" stroke-width="0.300" opacity="0.75" d="M296.4 184.3l.2-20.2 .1 20.2 .3 0 .1-17.7 .2 17.7 .1-23 .2 23 .1-20.3 .2 20.3 .1-23.8 .2 23.8 .1-21.3 .2 21.3 .6 0 .1-24.7 .2 24.7 .3 0 .3-22.9 0 22.9 .3-17.9 0 17.9 .3-18.1 0 18.1 .6 0 .2-22.5 .1 22.5 .2-20.2 .1 20.2 .2-20.7 .1 20.7 .2-21.4 .1 21.4 .2-22.2 .1 22.2 .2-21.9 .1 21.9 .2-21.2 .1 21.2 .2-22.8 .1 22.8 .3 0 .1-24.8 .2 24.8 .1-17.4 .2 17.4 .1-24.7 .2 24.7 .1-18.4 .2 18.4 .1-22.5 .2 22.5 .1-19.7 .2 19.7 0-21 .3-.7 0 21.7 .3 0 .3-17.3 0 17.3 .3-18 0 18 .3 0 .3-22.4 0 22.4 .3-19.3 0 19.3 1.2 0 .2-14.2 .1 14.2 .2-22.5 .1 22.5 .2-23.8 .1 23.8 .3 0 .1-21.3 .2 21.3 .1-19.8 .2 19.8 .1-24 .2 24 .6 0 .1-23.4 .2 23.4 .1-19.9 .2 19.9 .3-21 0 21 .3-24.8 0 24.8 .3-15.9 0 15.9 .3-20.8 0 20.8 .6 0 .2-20.9 .1 20.9 .2-20.4 .1 20.4 .2-24.8 .1 24.8 .2-18.4 .1 18.4 .2-19.9 .1 19.9 .2-23.6 .1 23.6 .2-18 .1 18 .2-24.4 .1 24.4 .1-24.5 .2 24.5 .1-21.2 .2 21.2 1.2 0 .1-24.2 .2 24.2 0-22.6 .3 3 0 19.6 .3 0 .3-22.9 0 22.9 .3 0 .3-23 0 23 .3-21 0 21 .3 0 .2-18.1 .1 18.1 .2-24.6 .1 24.6 .2-22.7 .1 22.7 .3 0 .2-20.6 .1 20.6 .6 0 .1-24.3 .2 24.3 .3 0 .1-19.1 .2 19.1 .1-24.7 .2 24.7 1.8 0 .3-17.5 0 17.5 .3-17.8 0 17.8 .3-17.1 0 17.1 .3 0 .2-15.5 .1 15.5 .3 0 .2-13 .1 13 .2-13.7 .1 13.7 .2-12.8 .1 12.8 .9 0 .1-12.5 .2 12.5 .1-11.2 .2 11.2 .1-10.9 .2 10.9 .3 0 .1-10.9 .2 10.9 .1-11.8 .2 11.8 .1-12.2 .2 12.2 0-11.5 .3 11.5 .3-12.2 0 12.2 .3-11.1 0 11.1 .9 0 .3-12.4 0 12.4 .3 0 .2-10.6 .1 10.6 .2-10.6 .1 10.6 .2-10.1 .1 10.1 .2-9.5 .1 9.5 .2-11.8 .1 11.8 .2-11.2 .1 11.2 .1-12.2 .2 12.2 .1-10.8 .2 10.8 .1-11.2 .2 11.2 .1-10.7 .2 10.7 .1-10.6 .2 10.6 .1-11.9 .2 11.9 .1-11.4 .2 11.4 .3-11 .1 11 .5 0 .3-10 0 10 .3-9.7 0 9.7 .3-9.6 0 9.6 .3-8.1 0 8.1 .2-10.2 .1 10.2 .3 0 .2-10.1 .1 10.1 .2-12.1 .1 12.1 .3 0 .2-11.2 .1 11.2 .2-9.8 .1 9.8 .2-12 .1 12 .3 0 .1-10.2 .2 10.2 .1-10.8 .2 10.8 .1-11.2 .2 11.2 .1-9.1 .2 9.1 .1-11.1 .2 11.1 .1-9.5 .2 9.5 .3-10.6 0 10.6 .9 0 .3-11.4 0 11.4 .3-9.8 0 9.8 .3 0 .2-10.9 .1 10.9 .3 0 .2-10.5 .1 10.5 .6 0 .2-9.4 .1 9.4 .2-11.7 .1 11.7 .2-10.7 .1 10.7 .1-7.2 .2 7.2 .1-10.7 .2 10.7 .1-11.4 .2 11.4 .1-11.4 .2 11.4 .3 0 .1-11.4 .2 11.4 .1-9.1 .2 1.7 .1 7.4 .2 0 .3-8.8 0 8.8 .3-10.3 0 10.3 .3-11.5 0 11.5 .9 0 .2-11.5 .1 11.5 .2-7.9 .1 7.9 .2-10.7 .1 10.7 .2-9.5 .1 9.5 .2-7 .1 7 .2-7 .1 7 .2-6.5 .1 6.5 .1-5.8 .2 5.8 .1-4.6 .2 4.6 .1-4.1 .2 4.1 .1-3.4 .2 3.4 .3 0 .1-3.4 .2 3.4 .1-3.3 .2 3.3 .3-3.4 0 3.4 .3 0 .3-3.3 0 3.3 .3-3.4 0 3.4 .3-3.3 0 3.3 .3-3.3 0 3.3 .3-3.4 0 3.4 .2-3.2 .1 3.2 .2-3.4 .1 3.4 .3 0 .2-3.3 .1 3.3 .2-3.4 .1 3.4 .2-3.3 .1 3.3 .2-3.3 .1 3.3 .2-3.4 .1 3.4 .3 0 .1-3.4 .2 3.4 .1-3.3 .2 3.3 .1-3.4 .2 3.4 .1-3.3 .2 3.3 .1-3.2 .2 3.2 .1-3.3 .2 3.3 .3-3.1 0 3.1 .3-3.1 0 3.1 .3-5.1 0 5.1 .3-7.4 0 7.4 .3-7.9 0 7.9 .3-8 0 8 .3-11.5 0 11.5 1.2 0 .2-8.9 .1 8.9 .2-11.5 .1 11.5 .2-10.3 .1 10.3 .1-10.4 .2 10.4 .1-10.5 .2 10.5 .1-11 .2 11 .1-6.9 .2 6.9 .1-7.5 .2 7.5 .1-12.1 .2 12.1 .6 0 .3-10.9 0 10.9 .3-10.6 0 10.6 .3-11.6 0 11.6 .3 0 .3-9.4 0 9.4 .3-11.5 0 11.5 .3 0 .2-8.8 .1 8.8 .3 0 .2-9.4 .1 9.4 .9 0 .2-11.2 .1 11.2 .1-11.5 .2 11.5 .1-10.3 .2 10.3 .1-10.3 .2 10.3 .3 0 .1-11.5 .2 11.5 1.2 0 .3-11.6 0 11.6 .6 0 .3-12.2 0 12.2 .3-10 0 10 .2-11.9 .1 11.9 .3 0 .2-12.2 .1 12.2 .2-10.8 .1 10.8 1.2 0 .1-10.5 .2 10.5 .1-8.7 .2 8.7 .1-11.2 .2 11.2 .6 0 .1-11 .2 11 .1-10.9 .2 10.9 .3 0 .3-12.6 0 12.6 .3-11 0 11 .3-11 0 11 .3 0 .3-10.1 0 10.1 .2-12.2 .1 12.2 .2-12.5 .1 12.5 .3 0 .2-12 .1 12 .2-10.2 .1 10.2 .2-12.3 .1 12.3 .2-11 .1 11 .2-12.2 .1 12.2 .1-12.3 .2 12.3 .1-11.2 .2 11.2 .3 0 .1-10.2 .2 10.2 .1-11 .2 11 .1-9.5 .2 9.5 .1-14.5 .2 14.5 0-11.4 .3 11.4 .3 0 .3-16.2 0 16.2 .3-15.7 0 15.7 .3 0 .3-18.3 0 18.3 .3-18.4 0 18.4 .2-18 .1 18 .2-20 .1 20 .3 0 .2-22.4 .1 22.4 .2-23.1 .1 23.1 .2-24 .1 24 .3 0 .1-18.2 .2 18.2 .3 0 .1-16.7 .2 16.7 .3 0 .1-15.3 .2 15.3 .1-22.8 .2 22.8 .6 0 .3-23.9 0 23.9 .3-21.5 0 21.5 .6 0 .3-23.9 0 23.9 .3-24.3 0 24.3 .2-20.4 .1 20.4 .2-18.2 .1 18.2 .2-17.3 .1 17.3 .2-16.6 .1 16.6 .2-20 .1 20 .2-19 .1 19 .2-23.5 .1 23.5 .2-19.7 .1 19.7 .1-20.9 .2 20.9 .1-19.9"/>
<path stroke="#1f7fc4" stroke-width="1.400" d="M296.4 204.6l104.4 0"/>
</g>
<rect x="291.2" y="156.6" width="115.1" height="51.6" fill="none" stroke="#000" stroke-width="0.600"/>
<path d="M296.43 208.2v1.72M320.32 208.2v1.72M344.21 208.2v1.72M368.1 208.2v1.72M391.99 208.2v1.72M291.2 198.2h-1.72M291.2 186.63h-1.72M291.2 175.07h-1.72M291.2 163.5h-1.72" stroke="#000" stroke-width="0.393"/>
<g class="k" font-size="4.917" text-anchor="middle"><text x="296.43" y="215.38">0</text><text x="320.32" y="215.38">2000</text><text x="344.21" y="215.38">4000</text><text x="368.1" y="215.38">6000</text><text x="391.99" y="215.38">8000</text></g>
<g class="k" font-size="4.917" text-anchor="end"><text x="287.76" y="200.07">0</text><text x="287.76" y="188.5">1</text><text x="287.76" y="176.94">2</text><text x="287.76" y="165.37">3</text></g>
<text x="348.75" y="153.65" font-size="5.900" text-anchor="middle">Water Heater NaturalGas Rate</text>
<g clip-path="url(#c11)" fill="none" stroke-linejoin="round">
<path stroke="#1e8cc8" stroke-width="0.350" d="M434.7 201.1l.1-25.3 .2 26.9 .1-26.9 .1 0 0 16.6 .3-16.6 0 26.3 .3-26.3 0 16.1 .3-3.4 .1-12.7 .1 23.1 .3-22.9 .2-.2 .1 22.7 .2-22.7 .1 3.9 0-3.9 .3 3.4 .3-3.4 0 13.2 .2 4.2 .1-17.4 .1 3.6 .2-3.6 .1 26.3 .2-26.3 0 19 .1-19 .3 16 .1-16 .3 14.7 .1-14.6 .1 15.4 .2-15.5 .1 0 .2 19.4 .1-14.8 .2-4.6 .3 0 0 3.7 .1 2.7 0-6.4 .2 0 .2 3.4 .2-3.4 .1 13.9 .1-13.8 .1 27.9 .2-20.5 .2-7.5 .2 .1 0 20.7 .3-20.8 .2 13.4 .1-9.8 .1-3.6 .2 9.1 .1-9.1 .4 0 0 5.2 .1 20.9 .1-26.1 .3 8.9 .1-8.8 .2-.1 0 25.6 .2-11.6 0-14 .4 0 0 14.6 .3-14.6 0 25 .2-25 .2 23.3 .1 .6 .1-23.9 .2 28.3 .2-28.3 0 27.4 .1-27.4 .4 0 .1 27.5 .2-27.5 0 10.3 .4-10.3 0 22 .2-22 0 6.9 .2-6.9 .2 18.7 .1-18.7 0 18 .4-18 .1 16.4 .2-16.4 .1 3.7 0-3.7 .3 25.7 .1 2.6 .2-28.3 .1 27.3 .1-27.3 .2 23.6 .1-23.6 .4 0 0 21.8 .1 4.9 .2-26.7 .1 0 0 20.1 .3-20.1 .2 21 .1-21 .1 20.2 .2-20.1 .2 24.8 .3-6.8 0-18.1 .1 7 0-7 .3 22.5 .1-22.5 .3 23 0-23 .3 17.4 .1-17.4 .1 0 0 22.8 .3-22.8 0 18.6 .4 5.8 .1-24.4 .1 4.3 .1-4.3 .2 13.1 .1-13.1 .2 0 .2 11.2 0-11.2 .1 13.9 .4-13.9 .1 25.6 .1-21.9 0-3.7 .3 0 .2 3.9 .2-3.9 .1 16.4 0 4.3 .3-20.7 .1 17.6 .1-17.6 .4 0 0 14.3 .1-14.3 0 3.4 .3-3.4 .1 3.7 .3 .1 .1-3.8 .1 0 .1 3.9 .2-3.9 .2 3.9 .1-.2 .1-3.7 .3 0 .1 6.5 .1-2.9 .1-3.6 .3 0 0 3.6 .2 12.9 .1-16.5 .2 3.9 .2-3.9 .1 0 0 3.8 .3 3.3 .1-7.1 .1 3.3 .2-3.3 .3 5.1 .1-5.1 .1 0 .2 3.8 .2 .1 0-3.9 .3 0 .1 3.9 .2 7 .1-10.9 .1 3.6 .2-3.6 .2 0 0 16.7 .2-16.7 .1 3.8 .2 9 .2-12.8 .2 0 .1 3.9 .1 8.5 .1-12.4 .2 0 .1 17.4 .3-17.4 .1 12.5 .1-5.1 .2-7.4 .1 0 .2 3.3 .1-3.3 .1 3.9 .3 2.7 .1-6.6 .1 0 .2 3.8 0-3.8 .2 11.6 .3-11.6 0 3.9 .1-3.9 .1 3.8 .3-3.8 .1 5.5 .3 1.9 .1-7.4 .1 0 .1 4.1 .3-.2 .1-3.9 .2 5.4 0-5.4 .2 6.2 0-6.2 .4 .1 .1 7 .1-7.1 .1 7.3 .3-3.9 .1-3.4 .1 6.2 0-6.2 .3 7.1 .1-7.1 .3 0 .1 3.5 .1 2.6 0-6.1 .4 7.3 0-7.3 .2 6.1 .2-6.1 .2 0 .1 6.4 .1-2.9 .2-3.5 .2 0 .1 3.3 .1-3.3 .2 6.8 .1-6.8 0 2.5 .2-2.5 .2 5.4 .2-5.4 .2 3.4 0-3.3 .3 7.1 0-3 .1-4.1 .3 3.6 .1-3.7 .3 0 0 4.6 .2 2 .2-6.6 .2 .3 .1 5.1 .1-5.4 0 4.4 .3-4.4 0 5.5 .5-5.5 0 6.2 .2-1.9 .1-4.3 .2 3.4 .3 .3 0-3.7 .4 3.9 0-3.9 .2 3.4 .3-3.4 .1 3.9 .1-3.9 .1 6.3 .2-6.3 .2 4.1 .3-4.1 0 3.5 .1 1.5 .1-5 .3 0 0 3.8 .2 2.1 .1-5.9 .2 3.6 .1-3.6 .2 3.9 .2-3.9 .2 0 0 3.7 .1 .2 .3-3.9 .1 0 .1 4.8 .2-4.8 .2 2.8 .1 4.4 .2-7.2 .2 3.7 0-3.7 .2 8.1 .1-8.1 .2 3.7 .1-3.7 .2 0 0 3.8 .3-3.8 .1 8.9 .2-8.9 .2 11.2 .1-11.2 .2 8.8 .1-8.8 .1 7.3 .1 2 .1-9.3 .3 6 0-6 .3 0 .2 5.8 .2-5.8 .1 9.9 .3-9.9 0 12.3 .2-8.5 .1-3.8 .1 8.8 .2-8.8 .2 6.2 .1-6.2 .2 3.7 .1-3.7 .1 0 .2 6.2 .1-6.2 .1 10 .2-1.7 .1-8.3 .2 0 .1 2.6 .2 6.8 .1-9.4 .1 9.8 .2-9.8 .1 11.1 .1-11.1 .5 0 0 3.2 .1 .6 .2-3.8 .2 0 .1 9.9 .1-9.9 0 6.6 .4-6.6 .1 8.3 .2-8.3 0 4 .2-4 .2 3.9 .1 8.1 .1-12 .2 0 .1 12.6 .2-12.6 .1 10.3 .3-2.6 .1-7.7 .1 3.9 .1-3.9 .4 0 0 3.8 .1 1.5 .2-5.3 .1 12.2 0-12.2 .3 0 .2 9.9 .2-9.9 0 12 .2-12 0 11.4 .3-11.4 0 11.4 .4-11.4 .1 3.6 0-3.6 .3 3.7 .2 .2 .1-3.9 .1 0 .1 8.5 .2-8.5 .2 6.3 .1 4.5 .2-10.8 .1 0 .1 9.8 .2 .5 .2-10.3 .3 3.9 .1-3.9 .2 8.6 0-8.6 .3 11.6 .2-11.6 0 3.6 .2 8.3 .2-11.9 .2 0 0 3.6 .4 6.1 0-9.7 .2 0 .1 3.4 .2 .4 .1-3.8 .2 0 .1 12.5 .2-12.5 0 10.6 .2-10.5 .2 11.1 .1-7.4 .1-3.8 .2 4 .1-4 .2 0 0 8 .3-.3 .1-7.7 .2 13.1 .2-13.1 .1 9 .1-9 .2 0 .2 11.4 .3-11.4 0 12.4 .1 .5 0-12.9 .5 0 0 10.7 .3 2.4 0-13.1 .2 0 .1 12.1 0-12.1 .1 7 .3-7 0 11.9 .3-1.7 .1-10.2 .1 13.1 .3-13.1 .1 0 .2 7.7 .1-7.7 .1 12.8 .1-12.8 .2 5.4 .2-5.4 .1 3.5 .4-3.5 0 13.1 .2-13.1 0 3.6 .3-3.6 .1 11.8 .1-11.8 .1 11.8 .3-11.8 .1 10 .2 .5 .1-10.5 .1 0 .1 3.6 .2 2.1 .1-5.7 .3 0 .1 9.5 .1-9.5 0 7.7 .4-3.8 0-3.9 .2 0 .2 3.8 .1 .8 .1-4.6 .2 0 .2 4.1 0-4.1 .3 3.6 .1 3.6 .1-7.2 .3 3.8 0-3.8 .3 5.8 .1-5.8 .1 4.3 0-4.3 .3 5 0-5 .5 0 0 3.3 .3-3.3 0 4.1 0 1.6 .2-5.7 .4 3.9 0-3.8 .1 4.9 .2-5 .1 0 .1 5.6 .2-1.9 .1-3.7 .4 0 0 3.5 .1 2.8 .2-6.3 .3 3.9 .2-3.9 0 3.9 .2 .2 0-4.1 .4 0 .1 4.2 .1-4.2 0 4 .3 2.7 .1-6.7 .2 4.4 .2-4.4 .1 0 .1 5.6 .2-5.6 .1 3.9 .2 1.7 .2-5.6 .1 0 0 3.8 .4-3.8 .1 3.7 .2 0 .1-3.7 .1 0 .1 6.8 .2-2.9 .1-3.9 .1 0 .2 3.8 .4-3.8 0 3.3 .1 4.3 .1-7.6 .3 5.1 0-5.1 .3 7.4 0-7.4 .4 0 0 5.9 .1 .2 .2-6.1 .1 3.8 .1-3.8 .3 3.9 .1-3.9 .1 0 .2 3.5 0 2.7 .1-6.2 .2 3.9 .1-3.9 .2 0 .3 5.3 .3-5.3 0 13.1 .1-9.9 .1-3.2 .2 0 .2 11.4 .2-11.4 .1 3.6 .1 4.1 0-7.7 .3 24.5 .1-24.5 .2 0 .2 3.7 .1 .2 .1-3.9 .2 25.5 .2-25.5 .1 28.5 0-28.5 .3 22.9 .1-22.9 .2 0 0 3.7 .4-3.7 .1 28.3 .2 0 .1-28.3 .1 26 .1-25.9 .2 3.5 0-3.6 .3 0 0 26.1 .3-26.1 .1 7 .2 19.3 0-26.3 .2 27.3 .1-27.3 .3 0 .2 21.4 .2-21.4 .1 20.3 .1-20.3 .1 22 .2-22 .1 28.3 .3-6.7 0-21.6 .3 0 .1 16.8 .2 8.7 .1-25.5 .2 27 .1-27 .2 12 0-12 .2 27.2 .1-27.2 .2 23.5 0-23.5 .3 0 .2 16.1 .2 2.6 .1-18.7 .1 0 .1 23.2 .2 4.1 .2-27.3 0 7.3 .2-7.3 .2 23.6 0-23.6 .3 0 .1 28.3 .2-3.2 .1-25.1 .1 0 .2 3.9 .1 13.4 .2-17.3 .3 0 .1 26.8 0-26.8 .3 27.2 .1-27.2 .1 20.3 .3-20.3 0 25.3 .1-5.2 .1-20.1"/>
<path stroke="#f5891c" stroke-width="0.350" d="M434.5 186l.2-3.3 .2 3.3 .2-3.3 .1 0 0 3.3 .4-.3 0-2.8 .2-.2 0 3.3 .2-2.2 .2 2.2 .1 0 .3-3.3 .1 0 .2 3.3 .2-3.3 .1 3.2 0-.1 .3-3.1 .1 3.3 .2-3.3 .1 3.3 .2-3.3 .1 .6 .2 2.7 .1 0 .2-3.3 .1 0 .1 3.3 .3-.1 .1-3 .1 3.1 .2-2.2 .1-1.1 .1 3.3 .1 0 .3-3 0 2.4 .2-2.8 .2 0 .1 3.3 .2 0 .1-3.3 .1 3.3 .3-3.3 .1 2.7 .1-2.7 .2 3.2 .1-2.8 .1-.4 .3 3.3 .1 0 .2-3.3 .2 2.4 .1-2.4 .1 0 .2 3.3 .1-2.6 .2 2.6 .2-3.3 .3 .4 .1 2.9 .1-3 .1 3 .1 0 .3-2.8 0 2.8 .3-3.3 .1 0 0 3.3 .3 0 .2-3.3 .1 3.3 .2-3.3 .1 3.1 .2-3.1 .2 2.6 .1-2.6 .1 0 .1 3.2 .4-1.3 0-1.9 .2 0 .1 3.3 .2-2.1 .3-1.2 0 3.3 .1 0 .3-3.3 .1 3.3 .1-2 .1 2 .2-3.4 .3 .5 .1 2.7 .3-3.2 0 3 .1 .3 0-2.5 .3 .5 0 2 .2 0 .3-3.3 .1 .5 .1 2.8 .1-.5 .1-2.8 .3 3.2 .1-3.2 .3 2.7 .1-2.7 .1 2.1 .2-2.1 .3 0 0 2.4 .1 .7 .2-3.1 .1 3.3 .2-3.3 .2 0 .1 3.3 .1 0 .2-3.3 .1 3.3 .2-2.4 .2 2.4 .2 0 .2-3.3 .1 0 .2 3.3 .1 0 .1-3.3 .1 .2 .2 3.1 .2 0 .2-3.3 .2 3.3 .1-3.2 .2-.1 .1 3.3 .1-3.3 .2 3.3 .1 0 .2-2.5 .1-.7 .1 3.2 .2-3.3 .1 3.3 .2-3.4 0 3.4 .2 0 .3-3.4 .2 3.3 .1-3.3 .2 3.3 .1-3.3 .1 0 .1 2.9 .2 .4 .2-3.3 .1 3.3 .2-3.3 .3 3.3 .2 0 0-2.8 .2-.4 .2 3.1 0 .1 .1-1.6 .2 1.6 .3-3.3 .1 .7 0 2.6 .3 0 .1-3.3 .1 3.3 .3-3.3 .2 0 .1 2.9 .1 .4 .1-3.3 .4 0 0 2.5 0-1.9 .3 2.7 .1 0 .2-3.5 .1 .6 0 2.8 .2-.2 .3-3.4 .2-1.3 .1 4.3 .1-4.2 0 4.3 .3-.2 .2-5.4 .3-.6 0 3.8 .1 .5 0-4.6 .3-.4 .2 6.1 .2-4.9 .1 4.7 .2-5.7 .2 5.5 .2-7.8 .3 6.7 0-7.1 .2-.1 .1 5.6 .1 1.2 .2-7 .3 8 0-6.6 .1 5.5 .2-7.2 .1 6.8 .2-7 .2-.2 .1 5.8 .1-5.8 .1 8.4 .4-8.7 0 7 .1 1.2 .2-8.4 .2-.1 .1 6.4 .2-4.5 .1 6.8 .1-.1 .2-8.1 .3 8 0-9.1 .3-.1 0 4.7 .1 3.7 .2-8.6 .1 9.2 .1-9.3 .2 .7 .2 8.5 .1-.1 .2-9.5 .2 9.4 .2 0 .1-9.6 .1 9.5 .3-9.8 .1 9.7 .2-9.9 .1 .7 .1 9.1 .2-9.3 .1 9.2 .1-.1 .3-9.9 .2 0 .1 9.4 .3-9.4 .1 0 .1 9.1 .3-9.2 .1 8.8 .3-8.8 .1 8.5 .1-6.5 .2 6.3 .1-8.3 .2 8.1 .1-8.2 .2 8 .2-7.8 .2 6.4 .1-6.7 .3 5.2 0-5.2 .2 .4 .1 6.8 .1-.1 .2-7.2 .2 6.9 .1-6.9 .2 6.7 .2-6.4 .1 6.2 .2-6.6 .1 6.3 .3-2.6 .1-3.8 .1 0 0 6 .4-5.8 .1 5.1 .2 .4 .1-5.4 .1 5.3 .1-5.2 .2 5.1 .2-4.9 .1 0 .1 4.7 .2-4.5 .1 3.4 .2-3.3 .2 3.4 .1 .7 .2-3.9 .2 3.7 .3-3.3 0 3.2 .1-.1 .2-3.2 .2 3.1 .2-2.8 .1 0 .1 2.6 .1-2.6 .1 1.5 .2-1.3 .3 1.5 .1-1.4 .1 2 .1 0 .2-2 .1 0 .2 1.9 .1-1.9 .3 2 .1 0 .1-2 .3 2 .1-1.9 .1 1.9 .1-2 .1 0 .2 2 .2 0 .2-2 .2 0 0 2 .1-2 .3 1.5 .1 .5 .2-2 0 .3 .2 1.7 .2 0 .2-1.6 .1 1.6 .2-2 .1 0 .1 2 .2 0 .2-1.9 .1 .4 0 1.5 .2 0 .2-1.1 .1 1.1 .3-.7 .1 0 .1-1.3 .1 0 .2 2 .1 0 .2-2 .1 2 .3-2 .3 1.5 .1-1.5 .2 1.8 0-.4 .1-1.4 .3 2 .1-2 .1 2 .2-1.2 .1 1.2 .3-1.9 0 1.9 .3-2 .1 0 .2 2 .1-2 .1 1.5 .1-1.5 .3 1.7 .1-1.7 .1 2 .2-2 .2 2 .2-2 .2 .1 .2 1.9 .1 0 .1-2 .3 0 .1 1.8 0 .2 .2-1.8 .2 1.8 .2-1.7 .1-.3 0 .9 .2-.9 .2 2 .1-2 .3 1.9 0 .1 .2-2 .3 1.8 .1-1.8 .3 2 .2-2 .1 2 .1-2 .1 1.7 .2 .3 .2-2 .1 .2 0 1.8 .3-1.7 .1 1.7 .2 0 .2-1.5 0-.2 .1 1.7 .3 0 0-1.2 .3 1.2 .1-2 .1 0 .2 1.8 .2 .2 .2-1.8 .2 1.8 .1-1.9 .1 1.4 0-1.5 .3 1.8 .1-1.8 .2 .1 .2 1.9 .1-2 .2 1.6 0-.8 .3 1.2 .1 0 .1-2 .1 0 .2 2 .3 0 .1-2 .1 0 .1 2 .2-2 .1 2 .2 0 .2-1.5 0 1.5 .2-2 .1 0 .3 2 .3-2 .1 1.4 0-1.4 .2 .2 .2 1.8 .2-.3 .2-1.7 .3 2 .1-1.7 .2 1.7 .1 0 .1-1.4 .1 1.4 .2-2 .2 2 .1-2 .2 2 .1-1.8 .1 1.8 .2-2 .2 1.9 0-1.9 .3 .1 0 1.8 .2-1.7 .3 2.3 .1 .6 .2-2.8 .3 1.2 0-1.1 .3 3.8 .1-3.8 .2 4.2 .2-4.1 .1 4.5 .1-4.4 .2 4.7 .1-4.2 .2 4.6 .1 .1 .2-4.7 .2 4.9 .1-5.2 .2 5.8 .1-5.3 .3 5.9 .1-6.2 .2 6.5 .1 .1 .1-6.5 .3 0 .1 7.2 .3 .3 0-5.1 .1 5.2 .2-6.6 .2 7.1 .1-4.7 .1-3 .2 6.4 .1-6.1 .2 7.8 .1-5.3 .2 5.4 .2-2.6 .1 2.8 .2-7.1 .3 .5 .1 6.8 .1-4.6 .2 4.8 .1-6.7 .3 .3 .2 6.7 .1-6.3 .2 6.4 .2-6.1 .1 6.2 .1-5.9 .2 6.1 .3 .1 0-3.6 .1 3.6 .1-5.6 .2 1.1 .1 4.7 .3-5.2 .1 4.8 .2-2.4 .1 3.1 .2-4.4 .1 4.6 .1 0 .1-4 .1-.6 .3 3.6 0 .6 .1-3.8 .4 .9 .1 3.9 .1 0 0-3.8 .3 3.9 .2-3.9 .2 2.7 .2-2.7 0 4 .3-4 0 4 .2-4 .3 4 .2-4 .1 4 .3 0 0-4 .1 0 .1 3.6 .1-3.6 .2 4 .2-4 .2 4 .1 0 .1-4 .1 .6 .3 3.5 .2-4.1 .1 3.8 .1 .3 .1-4.1 .4 4.1 0-4.1 .1 0 0 2.2 .3 1.8 .1-4 .2 .3 .1 3.8 .3 0 .1-3.4 .1-.4 .1 3.8 .4 0 0-2.3 .1-1.8 .2 4.1 .2-3.7 .1 3.7 .2-4.1 .1 3.7 .1-3.4 .2 3.8 .1-3.4 .2 3.4 .2-3.1 .1 3.1 .1-4.1 .1 4.2 .2-.8 .1-3.4 .2 3.2 0-3.2 .2 0 .2 2.9 .1-2.9 .3 4.2 .1-4.2 .2 3.3 .2 .9 .1-4.2 .1 3.1 .4 1.1 .1-4.2 .1 3.6 .1-3.6 .2 4.2 .1-4.2 .2 0 0 3.1 .3-3.1 0 3.7 .2-3.7 .3 3.3 .1 .9 .2-4 .2-.2 .1 3.4 .1-3.4 .1 3.1 .2-3 .1 4.2 .2-4.3 .2 4.3 .1-3.7 .1 3.6 .2-4.2 .2 4.3 .2-2 .1 2 .1 0 .2-4.3 .2 3.2 .1-3.2 .3 4.3 .1 0 .2-4 .1-.3 .2 4.3 .2 0 .1-3.1"/>
<path stroke="#2ca62c" stroke-width="0.350" d="M478.9 172.7l.1 8.6 .2-8.7 .1 8.7 .1-9.6 .2 10.6 .1-7.2 .2 6.6 .1-11.7 .2 12.3 .1-7.1 .1 7.1 .3-.1 .1-6.5 .1-2.2 .1 8.7 .2-10.1 0 10.1 .3 0 .2-11 .1 3.3 0 7.7 .3-.1 .2-11.2 .2 11.2 .1-10.3 .1 9.9 .2-15.6 .1 15.9 .1-11.3 .2 10.2 .2-13.5 .2 1.7 .1 11.4 .1-.9 .1-11 .3-2.1 .1 14 .2-12.5 .1 14 .1 0 .1-17.4 .1 17.3 .2-8.4 .2 8.4 0-11.9 .3-4.4 .1 16.3 .1 0 .1-8.7 .3-6 .1 14.6 .2-13.6 .1 13.6 .2-13.8 .1 13.8 .2-18.2 .1 17.9 .2-16.8 .1 17.1 .3-.8 .1-16.8 .2 17.2 .1-16.6 0 .1 .1 16.1 .4 .5 .1-15 .1 12.6 .2-16 .1 18.2 .2-18.8 .1 18.1 .1-17 .2 17.5 .2-9.4 0 9.3 .2-10.3 .2 10.2 .1-15.1 .3 3.9 .1 11 .2-16.2 .1 16 .2-14.9 .1 14.8 .1 0 0-10.6 .3 1.4 .1 8.3 .2-13.1 .2 12.9 .1-16.2 .2 16 .1-9.6 .1 7.9 .3 .4 .1-8.6 .1-7.9 .1 18.2 .2-17.9 .1 17.7 .1-17.4 .2 17.1 .2-15.2 0 15.1 .3 0 .2-15.8 .2 14.9 .1-16.4 .2 17.3 .1-14.6 .2 14.5 .1-17.6 .2 17.5 .1-8.5 .1 7.3 .1-16.5 .2 17.5 .1-13.9 .2 13.8 .1-15.3 .3 .1 .1 15.4 .1-.7 .1-11.7 .3-1.2 .1 13.2 .1-12.7 .2 11 .1-15.3 .2 15.5 .1-13.5 .2 12.6 .1-13.6 .2 14.8 .1-16.5 .1 16.7 .2-16.7 .2 18.5 .3 .1 0-11.2 .1-4.6 .2 15.9 .2 0 .1-12.3 .2 11.9 .1-12.4 .2 12.5 .1-18.4 .1 16.2 .2-14.2 .1 16.7 .2-17 .1 16.7 .2-12 .2 12.6 .1-12.5 .1 11.4 .2-17.5 .1 17.1 .1-14.2 .2 14.9 .1-17.1 .1 16.7 .2-15 .3-2.1 .1 18.7 .2-11.1 .1 11.2 .2-12.3 .1 12.3 .2-14.6 .1 12.6 .1-12 .2 11.5 .1-13.4 .2 13.9 .1-15.1 .1 16.8 .2-17.9 .2 17.1 .1-17.1 .1 18.1 .2-18 .1 18.2 .2-13.5 .1 13.5 .3 .4 .1-13.8 0 1.3 .2 11.9 .3 .7 .1-11.1 .2 11.2 .1-14.2 .2 14.2 .1-11.2 .1 10.6 .2-13.9 .1 12.5 .2-15.8 .2 1.3 .1 16.6 .1 0 .1-15.6 .2 15.5 .1-14.8 .2 15.1 .1-12.2 .2 12.3 .1-15.3 .3 .8 .1 12.3 .2-13.2 .1 15.4 .2-11.5 .1 9.8 .1-14.8 .2 16.7 .1-12.7 .1 11.9 .2-12.7 .2 11.9 .1-14.5 .1 13.6 .2-13.4 .1 13.2 .2-13 .1 13.4 .2-10.7 .2 13.3 .2 0 .1-15.5 .2 15.6 .1-13.3 .1 1.8 .1 10.7 .2-1 .2-13.3 .1 13 .2-11.4 .1 11.7 .2-12.9 .1 14 .2-11 .1 10.3 .1-13 .2 12.9 .1-11.5 .2 9.7 .1-10.9 .3 .2 .1 14.3 .2-8.1 .1 7.6 .2-13.5 .1 14.3 .2-9.8 .1 9.8 .2-8.5 .1 8.6 .1-9.5 .2 9.5 .1-10.8 .1 10.8 .2-12.2 .2 11.3 .1-12.3 .2 13.3 .2 0 .1-7.8 .1-4.7 .2 12.2 .2 .3 .1-11.6 0-1.3 .2 12.1 .2-8.7 .1 8.7 .3 .9 .1-10.3 .2 10.3 .1-9.2 .2 9.2 .1-6.4 .2 6.5 .1-9.7 .1 9.7 .1-8.4 .3 3.2 .1 5.2 .1 0 .1-9.3 .3 3 .1 6.4 .1 0 .1-4.3 .3-3.2 .1 7.5 .2-5.3 .1 5.3 .2-6.2 .1 6.3 .2-4.9 0 4.9 .2-10.3 .2 10.2 .1-7.8 .1 7.6 .2-9.3 .2 9.7 .1-7.3 .2 7.2 .1-7.9 .1 7.6 .3-.6 .1-7.8 0 .1 .1 4"/>
</g>
<rect x="429.3" y="156.6" width="115.1" height="51.6" fill="none" stroke="#000" stroke-width="0.600"/>
<path d="M434.53 208.2v1.72M458.42 208.2v1.72M482.31 208.2v1.72M506.2 208.2v1.72M530.09 208.2v1.72M429.3 206.2h-1.72M429.3 192.97h-1.72M429.3 179.73h-1.72M429.3 166.5h-1.72" stroke="#000" stroke-width="0.393"/>
<g class="k" font-size="4.917" text-anchor="middle"><text x="434.53" y="215.38">0</text><text x="458.42" y="215.38">2000</text><text x="482.31" y="215.38">4000</text><text x="506.2" y="215.38">6000</text><text x="530.09" y="215.38">8000</text></g>
<g class="k" font-size="4.917" text-anchor="end"><text x="425.86" y="208.07">−4</text><text x="425.86" y="194.84">−2</text><text x="425.86" y="181.6">0</text><text x="425.86" y="168.37">2</text></g>
<text x="486.85" y="153.65" font-size="5.900" text-anchor="middle">Chiller Electricity Rate</text>
<g clip-path="url(#c12)" fill="none" stroke-linejoin="round">
<path stroke="#3a98d4" stroke-width="0.350" opacity="0.75" d="M20.4 258.1l.1 12.7 0-2.9 .2-15 .2 12.4 0-16.6 .3-1.5 .2 23 .1-11.9 .2 12.6 .1-6.2 .2 6.2 .1-11.7 .1 11.2 .2-2.8 .1-13.7 .3 15 .1-24.9 .1 1.5 .1 24.7 .2-23.9 .1 18.5 .2-7.9 .1 14.1 .2-10.6 .1 9.5 .3 .7 .1-3.7 0-.2 .2 4.4 .3-5.1 .1 5.1 .2 0 .1-16.5 .2 16.5 0-27.2 .4 6.6 0 20.6 .2-12.9 .1 13 .2-19.5 .1 19.5 .2-43.2 .1 43.2 .3-35.4 0 35.4 .2-17 .1 17 .1-19.9 .2 19.9 .1-20.3 .2 20.4 .1-18.3 .2 18.3 .1-10.6 .2 10.6 .1-6.9 .2 6.9 .2 0 .1-17.3 .2-9.1 .1 26.5 .1-30.9 .2 30.9 0-30.9 .3 30.9 .1-2.8 .1-32.4 .2 .1 0 20.1 .2-17.8 .2 32.2 .1-15.7 .2 16.4 .2-13.5 .1 13.5 .3 0 .1-12.5 .3 .1 0 12.4 .2-29.8 .1 29.8 .2-4.9 .1 4.9 .2-16.3 .1 16.4 .2-36.3 .1 36.3 .1-27.9 .2 27.9 .1-1.2 .1-24.3 .3 .5 0 25 .2-23.3 .2 23.4 0-28 .2 28 .3-17.8 .1 17.8 0-18.1 .3 18.1 .1-18.9 .2 18.9 0-5.2 .3 5.2 .1-12.7 .1 12.8 .2-11.8 .1 10.9 .2-5 .1 5.5 .1-2.2 .2 2.6 .2-.4 .2-5.6 .2 5.8 .1-9.8 .2 10.1 0-8.4 .3 8.4 0-11.2 .4-2 0 13.2 .1 0 .1-14.3 .2 14.3 .1-12.4 .1 12.4 .2-18.1 .3 .2 .1 18 .2-10.3 .1 10.3 .2-15.2 .1 15.2 .2-15.5 .1 15.5 .1-15.5 .1 15.5 .3-12.3 .1 12.4 .1-5.5 .2 5.5 .1-3.5 .2 3.5 0-9.7 .2 9.7 .3-1 .1-9.9 .1-3.2 .1 11.9 .2-10.5 .1 12.8 .3 0 .1-16.3 .1 16.3 .2-13.6 .1 13.6 .2-11.4 0 1.2 .1 7.3 .2 .8 .1-6.4 .3 8.1 .1-6.9 .2 6.1 .1-5.5 .3-.2 .1 6 .1-.4 .1-8.1 .3-2.5 .1 12.1 .2-12 .1 12.6 .2-7.1 .1 7.2 .1-13.4 .2 13.4 .2-10.2 .1 10.3 .1-14 .2 14.1 .2-12.6 0 11 .2-8.7 .1 10.5 .3-10.9 .1 11 .1-17.2 .2 17.3 .1-8.7 .1 8.7 .2-1 .2-9.2 .2 2 0 8.4 .2-6.9 .2 7 .3-3.2 0 3.3 .2 .1 .1-6.8 .1 6.8 .2-5.3 .2 5.4 .1-4.1 .1 4.2 0-3.2 .3 2.6 .1-3.3 .2 3 .1-4.1 .3-1 .1 4.3 .1 1.7 .1-5.1 .3 .9 .1 4.4 .2-6.2 .2 5.9 .1-8.1 .2 2.5 .2 6 .1-6 .2 6 .1-7.1 .2 7.2 .1-7 .1 7 .4 .1 0-6 .1 .1 .1 5.9 .3-1.3 .1-4.3 0 .1 .2 5 .1-4 .1 3.9 .3 .6 .2-3.3 .2 3.5 .1-2.8 .1 2.8 .2-2.3 .1 2.3 .2-2.1 .2 .9 .1 1.3 .3-1.5 0 1.5 .2-1.9 .1 2 .3-4.5 0 4.5 .1-.5 .1-4 .1 4.6 .3-4.5 .1-.5 .2 5 .2-2.5 .1 2.6 .1-1.9 .2 1.9 .2-1.7 .1 1.8 .3 0 0-1.6 .2 1.1 .1-2 .1-.5 .1 2.5 .1-2.3 .2 2.1 .3 .8 .1-2.2 0-.1 .2 1.9 .2-.3 .2-1.3 .2-.1 0 2.2 .2-2.5 .1 2.6 .3 0 0-2.9 .2 2.3 .2-1.7 .1 1.9 .1-1.3 .3 1.8 .1-2.4 .2 2.5 .1-3.4 .3 3.4 0-3.6 .1 3.6 .1-4 .3-.9 .1 5 .1-4.5 .2 4.5 .1-2.9 .2 3 .2-1.3 .1 1.3 .2-1.3 .1 1.4 .1-1.7 .2 1.7 .1-2.3 .1 2.3 .3 .1 .1-3.6 .1-1 .1 4.6 .2-3.8 .2 3.8 .2 0 .1-4.2 .1 3.9 .2-4.8 0 .1 .1 4 .3-3.1 .1 3.6 .3 .2 .1-2.5 .1 2.5 .2-4 .1 4.5 .2-3.5 .1 3.5 .2-5 .1 4.1 .1-3.6 .2 4.6 0-4.7 .4 2.3 .1 2.5 .1-2.5 .2 2.5 .2-2.3 0 2.3 .2-3.2 .2 3.2 .3-2 0 2.1 .3 0 0-2.2 .2 .4 .1 1.8 .1-1 .2 1.1 .1-1.5 .2 1.5 .3 0 0-1.8 .2 1.3 .1-1.7 .2 1.6 .1-1.7 .1 0 0 1.9 .3-1.2 .1 1.7 .4-.7 0 .8 .1-2 .1 2 .2-2.2 .1 2.2 .2 0 0-2.9 .3 .1 .2 2.9 .1 0 .1-1.6 .2 1.6 .1-1.7 .3-.1 .1 1.9 .1 0 0-2.3 .3-1.4 0 3.7 .4-4.6 .1 4.7 .1-5.6 .2 4.6 .1-3.9 .2 4.9 .1-3.7 .2 3.8 .1-4.3 .2 4.3 .1-2.8 .1 2.8 .2-2.7 .2 2.7 .3-2.7 0 2.8 .1-1.7 .1 1.7 .3 0 .1-3.3 .1 .6 .1 2.3 .2-.5 .2-1.9 .2 2.2 .1-2.6 .2 3.3 .1-3.5 .1 3.5 .2-3.6 .1 3.5 .1-2.9 .2 2.9 .1-2 .1 2 .2-1.3 .1 1.3 .2-2.5 .2 2.3 .1-3.3 .2 2.1 .1-2.4 .2 .1 .2 2.2 .2-1.4 .1 2.2 .1-1.2 .2 1.7 .1-1.7 .2 1.7 .1-.8 .1 .8 .1 0 .1-1.6 .4 1.6 .1-2.2 .1-.6 .1 2.5 .3-3.7 0 3.3 .2-2.9 .1 3.4 .3-.2 .1-3.2 .1 .8 0 2.6 .3 0 .2-3.4 .1-.1 0 3.5 .3 0 .2-2.4 .1 2.4 .2-1.8 0-.3 .1 2 .3 0 .1-.9 .1 .9 .3-1.3 .3-.9 0 2.1 .1-.1 0-2.3 .3 2.4 0-2.8 .3 2.8 0-3 .2 3 .2-2.1 .1 1.8 .3-2.6 .2-.5 0 2.7 .1-.1 .2-2.9 .2-.4 .1 3.7 .2-2.7 .2 2.8 .1-1.9 0 1.8 .3-2.7 .1 2.7 .2-.1 .2-2.8 .1-.2 0 2.9 .4 0 .1-1.6 .1 1.6 .2-2.3 .1-.7 0 2.9 .3 0 .2-1.7 0-1 .1 2.6 .3 0 .1-2.1 .2 1.8 .2-3.9 .1 3.2 .1-2.9 .2 3.4 .1-3.4 .1-.3 .3 3.8 .2-3.3 .1 3.4 .1-2.3 .3-1 .1 3.2 .1 0 .2-5.1 .1 .7 .1 4.3 .3-2.5 .1 2.4 .1-6 .2 6 .2-5.3 .1 4.8 .2-5.3 .1 5.7 .1-3.5 .1 3.4 .2 0 .1-2.3 .3-3.2 0 5.4 .3-2.3 0 2.3 .2-4.5 .1 4.4 .2 0 .1-5.3 .3 5.2 .2-2.8 0 .5 .1 2.2 .2 0 0-4.9 .3 4.8 .1-5.1 .3 5.1 .1-5.1 .2 5 0-3.7 .2 3.6 .2-2.5 .1 2.4 .1-5.3 .2 5.2 .2-2.5 .1 2.3 .2-5.8 .1 5.1 .3-6.4 .2-1.7 .1 5.1 .1-5.4 .2 7.6 .1-4.8 .1 5.8 .2-5.7 .1 5.6 .2-7.1 .1 7 .2-8.2 .1 8.1 .1-7.5 .1 7.4 .3-.2 .2-7.3 .1 7.2 .1-10.1 .2 10 .2-9.2 .1 9.1 .2-8.5 .1 8.4 .2-12.3 .1 12.2 0-7.2 .3 7.1 .2-6.3 0 6.1 .2-3.9 .1 3.8 .2-4.4 .1 4.3 .3-6.7 .1-4.1 .2 10.6 .1 0 .2-11.3 .1 3 .2 8.2 .1-6.8 .1 6.8 .3-7.5 .1 7.4 .2-5.7 0 5.7 .2-5.2 .1 4.9 .2-4.1 .1 3.3 .2-3.2 .1 3.4 .3 .1 .1-7.3 .2 5.7 .1-12 .2 9.6 .1-11.4 .2 9.3 .1-10.3 .1 8.8 .2-9.2 0 .1 .1 12.8 .3 4.2 .2-14.8 .1 14.3 .1-11.1 .3 11.5 0-11.6 .1 11.6 .2-3.9 .1 3.9 .2-8.7 .2 8.6 .1-7.9 .2 7.9 .1-16.5 .1 16.4 .2-6.8 .1 6.8 .2-11.6 .1 11.5 .3-20.5 0 20.5 .2-13.4 .2-.5 .1 13.8 .2-14.2 .1 14.2 .2 0 .1-21 .1 4.1 .1 16.8 .3 0 .1-24.2 .2 2.5 .1 21.6 .2-18.6 .1 17.1 .1-8.9 .2 8.9 .2 1.4 .2-6.3 .1 6.2 .2-10.1 .1 10.1 .2-20.1 .1 20 .2-21.4 .1 21.4 .2-20.7 0 20.6 .3-18.1 0 18.1 .2-34.8 .1 34.8 .2-24.8 .1 24.7 .1-27.6 .3 27.6 0-23.7 .3 21.8 .1-13.9 .2-5.4 .2 20 .2-24.6 .1 20.9"/>
<path stroke="#1a82c4" stroke-width="0.380" d="M20.4 258.1l.1 12.7 0-2.9 .2-15 .2 12.4 0-16.6 .3-1.5 .2 23 .1-11.9 .2 12.6 .1-6.2 .2 6.2 .1-11.7 .1 11.2 .2-2.8 0-11.8 .4 13.1 .1-24.9 .1 1.5 .1 24.7 .2-23.9 .1 18.5 .2-7.9 .1 14.1 .1-8.9 .2 7.8 .3 .7 .1-3.7 .2 4.2 .1-3.9 .2-1.2 .1 5.1 .2 0 .1-16.5 .2 16.5 0-27.2 .4 6.6 0 20.6 .2-12.9 .1 13 .2-19.5 .1 19.5 .2-17.8 .1 17.8 .2-24.7 .1 24.7 .2-17 .1 17 .1-19.9 .2 19.9 .1-20.3 .2 20.4 .1-12 .2 12 .1-10.6 .2 10.6 .1-6.9 .2 6.9 .1-8.2 .2 8.2 .1-12.4 .2 12.5 .1-13.7 .2 13.7 .3 0 0-22.3 .1 19.5 .2-29.3 .1-3 0 20.1 .2-17.8 .2 32.2 .1-15.7 .2 16.4 .3 0 0-8.9 .3 8.9 .1-12.5 .3 .1 0 12.4 .2-8.6 .1 8.6 .2-4.9 .1 4.9 .2-16.3 .1 16.4 .2-27.1 .1 27.1 .1-27.9 .2 27.9 .1-1.2 .1-24.3 .3 .5 0 25 .2-23.3 .2 23.4 .2-17.7 0 17.7 .3-17.8 .1 17.8 0-18.1 .3 18.1 .1-10.6 .2 10.6 0-5.2 .3 5.2 .1-12.7 .1 12.8 .2-11.8 .1 11.2 .2-5.3 .1 5.5 .1-2.2 .2 2.6 .2-.4 .2-5.6 .2 5.8 0-9 .3 9.3 0-8.4 .3 8.4 0-11.2 .4-2 0 13.2 .1 0 .1-14.3 .2 14.3 .1-12.4 .1 12.4 .2-18.1 .3 .2 .1 18 .2-10.3 .1 10.3 .2-15.2 .1 15.2 .2-14.1 .1 14.1 .1-15.5 .1 15.5 .2-10.8 .2 10.9 .1-5.5 .2 5.5 .1-3.5 .2 3.5 .2 0 .1-4.4 .2 3.4 .1-9.9 .1-2 .1 10.7 .2-10.5 .1 12.8 .3 0 .1-16.3 .1 16.3 .2-13.6 .1 13.6 .2-11.4 0 1.2 .1 7.3 .2 .8 .1-5.5 .3 7.2 .1-6.9 .2 6.1 .1-5.5 .3-.2 .1 6 .1-.4 .1-8.1 .3-2.9 .1 12.5 .2-12 .1 12.6 .2-7.1 .1 7.2 .1-7.4 .2 7.4 .2-10.2 .1 10.3 .1-14 .2 14.1 .2-12.6 0 11 .2-8.7 .1 10.5 .1-7.9 .3 8 0-5.6 .3 5.7 .1-8.7 .1 8.7 .2-1 .2-7.8 0 2 .2 7 .1-3.5 .3 3.6 .3-3.2 0 3.3 .2 .1 .1-6.8 .1 6.8 .2-5.3 .2 5.4 .1-4.1 .1 4.2 .1-2.9 .2 2.3 .1-3.3 .2 3 .1-4.1 .3-1 .1 4.3 .1 1.7 .1-5.1 .3 .9 .1 4.4 .2-6 .2 5.7 .1-8.1 .2 2.5 .2 6 .1-6 .2 6 .2-3.6 .1 3.7 .1-4.9 .1 4.9 .2-3.4 .2 3.5 0-4.5 .2 4.5 .3-1.3 .1-4.3 0 .1 .2 5 .1-4 .1 3.9 .3 .6 .2-3.3 .2 3.5 .1-2.8 .1 2.8 .2-2.3 .1 2.3 .2-2.1 .2 .9 .1 1.3 .3-1.5 0 1.5 .2-1.9 .1 2 .3-2.1 0 2.1 .1-.5 .1-4 .1 4.6 .3-4.5 .2 1.3 .1 3.2 .1-2.1 .2 2.2 .1-1.9 .2 1.9 .1-1.1 .2 1.2 .1-1.2 .2 1.2 .2-.5 .1-2 .1-.5 .1 2.5 .1-2.3 .2 2.1 .3 .8 .1-2.2 0-.1 .2 1.9 .2-.1 .2-1.5 .1 .9 .1 1.2 .3 .1 .1-1.6 .2 1.6 .1-2.7 .1 2.1 .2-1.7 .1 1.9 .1-1.3 .3 1.8 .1-1.8 .2 1.9 0-1.8 .4 1.8 0-3.6 .1 3.6 .1-4 .2 1.4 .2 2.7 .2-1.8 .1 1.8 .1-.8 .2 .9 .2-.8 .1 .8 .1-1 .2 1.1 .1-1.7 .2 1.7 .1-2.3 .1 2.3 .3 .1 .1-3.2 .1-1.4 .1 4.6 .2-3.8 .2 3.8 .2 0 .1-4.2 .1 3.9 .2-4.8 0 .1 .1 4 .3-3.1 .1 3.6 .2-2.2 .2 2.5 .1-.1 .2-4 .1 4.5 .2-3.5 .1 3.5 .2-5 .1 4.1 .1-3.6 .2 4.6 .1-3.2 .3 .8 .1 2.5 .1-2.5 .2 2.5 .2-2.3 0 2.3 .3-1.8 .1 1.8 .2-1.8 .1 1.9 .2-1.8 .1 1.8 .1-1.6 .2 1.6 .1-1 .2 1.1 .1-.5 .2 .5 .3 0 0-.8 .2 .3 .1-1.7 .2 1.6 .1-1.7 .1 0 0 1.9 .3-1.2 .1 1.7 .4-.7 0 .8 .2 0 .1-.9 .2 .9 .1-1.2 .1 1.2 .2-2.1 .2-.1 .1 2.3 .1 0 .1-1.6 .2 1.6 .1-1.7 .3-.1 .1 1.9 .1 0 .1-2 .2 2 .1-3.2 .3-1.4 .1 4.7 .1-5.6 .2 4.6 .2-3.8 .1 4.8 .1-3.7 .2 3.8 .1-2.9 .2 2.9 .1-2.8 .1 2.8 .2-2.7 .2 2.7 .1-2.2 .2 2.3 .1-1.7 .1 1.7 .3 0 .1-3.3 .1 .6 .1 2.3 .2-.4 .2-2 .2 2.2 .1-2.6 .2 3.3 .1-3.5 .1 3.5 .2-3.6 .1 3.5 .1-2.9 .2 2.9 .1-2 .1 2 .2-1.3 .1 1.3 .2-2.5 .2 2.3 .1-3.3 .2 2.1 .1-2.4 .2 .1 .2 2.2 .2-1.4 .1 2.2 .1-1.2 .2 1.7 .1-1.7 .2 1.7 .1-.8 .1 .8 .1 0 .1-.7 .4 .7 .1-2.2 .1-.6 .1 2.5 .1-2.8 .2 2.4 .2-2.9 .1 3.4 .3-.2 .1-3.2 .1 .9 0 2.5 .3 0 .2-3.4 .1 3.4 .1-2.4 .2 2.4 .2-2.4 .1 2.4 .2-1.8 .1 1.7 .2-1.4 .1 1.4 .1-.9 .1 .9 .3-1.3 .2-.6 .1 1.8 .1-.1 .1-2.2 .2 2.3 0-2.3 .3 2.3 .1-2.2 .1 2.2 .2-1.9 .1 1.6 .2-2.5 .3-.6 0 2.7 .1-.1 .1-2.5 .3-.8 .1 3.7 .2-2.7 .2 2.8 .1-1.9 0 1.8 .3-2.7 .1 2.7 .2-.1 .2-2.8 .1 .3 0 2.5 .4-.1 .1-1.6 .1 1.6 .2-2.3 .1 2.2 .2-2 .1 2 .2-1.7 .1 1.6 .1-1.2 .2 1.2 .1-2.1 .2 1.8 .1-3.1 .2 2.4 .1-2.9 .2 3.4 .1-3.4 .3 .1 .1 3.4 .2-3.3 .1 3.4 .1-2.3 .3-1 .1 3.2 .1 0 .1-3 .3 2.9 0-1.9 .3-.6 .1 2.4 .2-3.8 .1 3.8 .2-4 .1 3.5 .2-4.2 0 4.6 .2-3.5 .1 3.4 .2 0 .1-2.3 .3 2.2 .2-2.1 .1-.2 0 2.3 .2-.1 .3-1.4 0 1.4 .3-2 .1 1.9 .2-2.8 0 .5 .1 2.2 .2 0 .3-1.6 0 1.5 .3-2.3 .1 2.3 .1-5.1 .2 5 0-3.7 .2 3.6 .2-2.5 .1 2.4 .2-2.5 .1 2.4 .2-2.5 .1 2.3 .1-2.6 .2 1.9 .3-6.4 .2-1.7 .1 5.1 .1-5.4 .2 7.6 .1-4.8 .1 5.8 .2-5.7 .1 5.6 .2-7.1 .1 7 .1-6.2 .2 6.1 .1-7.5 .1 7.4 .3-.2 .2-5.6 .1 5.5 .2-6.4 .1 6.3 .2-9.1 .1 9 .2-8.5 .1 8.4 .1-7.6 .2 7.5 .1-5.9 .2 5.8 .2-6.3 0 6.1 .2-3.9 .1 3.8 .2-4.4 .1 4.3 .3-6.7 .1-1.5 .2 8 .1 0 .1-7.4 .2-.9 .2 8.2 .1-6.8 .1 6.8 .2-5 .2 4.9 .1-5.1 .1 5.1 .2-5.2 .1 4.9 .2-4.1 .1 3.3 .2-3.2 .1 3.4 .3 .1 .1-7.3 .2 5.7 .1-12 .2 9.6 .1-11.4 .2 9.3 .1-10.3 .1 8.8 .2-9.2 0 .1 .1 12.8 .3 4.2 .2-14.8 .1 14.3 .1-11.1 .1 3.8 .2 7.7 .1 0 .2-3.9 .1 3.9 .2-8.7 .2 8.6 .1-7.9 .2 7.9 .1-7.2 .1 7.1 .2-6.8 .1 6.8 .2-11.6 .1 11.5 .1-12.7 .2 12.7 .2-13.4 .2-.5 .1 13.8 .2-14.2 .1 14.2 .2 0 0-13.2 .3 13.1 .2-10.5 0-1.5 .1 12 .4-.1 .1-15.5 0-2.7 .2 16.7 .1-8.9 .2 8.9 .2 1.4 .2-6.3 .1 6.2 .2-10.1 .1 10.1 .2-13.7 .1 13.6 .2-21.4 .1 21.4 .2-20.7 0 20.6 .3-18.1 0 18.1 .2-20.6 .1 20.6 .2-24.8 .1 24.7 .2-19.2 .2 19.2 0-23.7 .3 21.8 .1-13.2 .2-6.1 .2 20 .2-24.6 .1 20.9"/>
</g>
<rect x="15" y="228.9" width="115.1" height="51.6" fill="none" stroke="#000" stroke-width="0.600"/>
<path d="M20.23 280.5v1.72M44.12 280.5v1.72M68.01 280.5v1.72M91.9 280.5v1.72M115.79 280.5v1.72M15 270.8h-1.72M15 256.6h-1.72M15 242.4h-1.72" stroke="#000" stroke-width="0.393"/>
<g class="k" font-size="4.917" text-anchor="middle"><text x="20.23" y="287.68">0</text><text x="44.12" y="287.68">2000</text><text x="68.01" y="287.68">4000</text><text x="91.9" y="287.68">6000</text><text x="115.79" y="287.68">8000</text></g>
<g class="k" font-size="4.917" text-anchor="end"><text x="11.56" y="272.67">0</text><text x="11.56" y="258.47">2</text><text x="11.56" y="244.27">4</text></g>
<text x="72.55" y="225.95" font-size="5.900" text-anchor="middle">Boiler NaturalGas Rate</text>
<g clip-path="url(#c13)" fill="none" stroke-linejoin="round">
<path stroke="#f7861f" stroke-width="0.300" opacity="0.75" d="M158.3 276.3l27.6 0 .3-42.9 .2 42.9 .1 0 .3-42.9 .1 42.9 .2 0 .3-42.9 .1 42.9 2 0 .2-42.9 .1 42.9 .9 0 .1-42.9 .2 42.9 5.4 0 .2-42.9 .1 42.9 2.1 0 0-42.9 .3 42.9 .3-42.9 .2 42.9 .1-42.9 .1 42.9 .2-42.9 .1 42.9 .2-42.9 .1 42.9 .2-42.9 .1 42.9 .2-42.9 .1 42.9 .2-42.9 .1 42.9 .2-42.9 .1 42.9 .2 0 .2-42.9 .1 42.9 .2-42.9 .1 42.9 .2-42.9 .1 42.9 .2-42.9 .1 42.9 .1-42.9 .2 42.9 .3 0 .1-42.9 .2 42.9 .1-42.9 .2 42.9 .1-42.9 .2 42.9 .1-42.9 .2 42.9 .1-42.9 .2 42.9 .1-42.9 .2 0 .2 42.9 .1-42.9 .2 42.9 .1 0 .3-42.9 .1 42.9 .2-42.9 .1 42.9 .2-42.9 .1 42.9 .5 0 .2-42.9 .1 0 .1 42.9 .2 0 .2-42.9 .1 42.9 .6 0 .2-42.9 .1 42.9 .2-42.9 .1 42.9 .1-42.9 .2 42.9 .1-42.9 .2 42.9 .1-42.9 .2 42.9 .3 0 .1-42.9 .2 42.9 .6 0 0-42.9 .3 42.9 .3 0 .3-42.9 .1 42.9 1.1 0 .2-42.9 .1 0 .1 42.9 .2-42.9 11.4 0 .1 42.9 .5 0 .3-42.9 .1 42.9 .2-42.9 .1 42.9 .2-42.9 .1 42.9 .2-42.9 0 42.9 .6 0 .2-42.9 .1 42.9 .2-42.9 .1 42.9 .3 0 .1-42.9 .2 42.9 .1-42.9 .2 42.9 .1-42.9 .2 42.9 .3 0 .1-42.9 .2 42.9 .1-42.9 .2 42.9 .3-42.9 .2 42.9 .1-42.9 .2 42.9 .4 0 .3-42.9 .1 42.9 .2-42.9 .1 42.9 .2-42.9 .1 42.9 .5 0 .2-42.9 .1 0 .1 42.9 .2 0 .2-42.9 .1 42.9 .3 0 .2-42.9 .1 42.9 .3 0 .1-42.9 .2 42.9 .1-42.9 .2 42.9 .1-42.9 .2 42.9 .1-42.9 .2 42.9 .1-42.9 .2 42.9 .1-42.9 .2 42.9 .3 0 0-42.9 .3 0 .2 42.9 .1 0 .3-42.9 .1 42.9 .2-42.9 .1 42.9 .2-42.9 .1 42.9 .2-42.9 .1 42.9 1.4 0 .2-42.9 .1 42.9 21.6 0"/>
<path stroke="#1e8cc8" stroke-width="0.300" d="M178.6 277l.1 .3 .3 0 .1-.4 .2 .4 .1-.4 .2 .4 .2-.3 .1 .3 .2-.4 .1 .4 0-.4 .3 .4 .1-.4 .2 .4 0-.3 .3 .3 .2-.4 .1 .4 0-.3 .3 .3 .1-.4 .2 .4 0-.4 .3 .4 .1-.4 .2 .4 .1-.3 .2 .3 0-.4 .3 .4 .1-.3 .2 .3 .2-.2 .1 .2 .1-.3 .2 .3 .2-.3 .1 .3 .1-.4 .2 .4 .1-.4 .2 .4 .2-.3 .1 .3 .1-.4 .2 .4 .1-.2 .2 .2 .2-.4 .1 .4 .1-.4 .2 .4 .2-.4 .1 .4 0-.3 .3 .3 0-.8 .3 .8 0-1.2 .3 1.2 .1-.7 .2 .7 .2-1.2 .1 1.2 .1-1.2 .2 1.2 .2-1.1 .1 1.1 .2-1.2 .1 1.2 .2-1 .1 1 .2-1.1 .1 1.1 .2-43.7 .1 43.7 .1-1.2 .2 .4 0 .8 .3 0 .1-1.1 .2 1.1 .2-.6 .1 .6 .1-1.2 .2 1.2 0-1.2 .3 1.2 0-.7 .3 .7 .1-1.1 .2 1.1 .2-1 .1 1 0-.8 .3 .8 .1-1 .2 1 .2-1.2 .1 0 0 1.2 .3 0 0-1.1 .3 0 0 1.1 .3 0 .2-1 .1 1 .1-1 .2 1 .2-31.3 .1 31.3 .1-1 .2 1 0-1.1 .3 1.1 .1-37.5 .2 37.5 .1-1 .2 1 .1-1.2 .2 1.2 0-.9 .3 .9 .1-1 .2 1 .2-1 .1 1 .2-1.2 .1 1.2 0-.8 .3 .8 .2-1 .1 1 .1-23.5 .2 23.5 .2-.3 .1 .3 .2-1.1 .1 1.1 0-.9 .3 .9 .1-1.1 .2 1.1 0-1.2 .3 1.2 0-1.2 .3 1.2 .1-1.1 .2 1.1 .2-.4 .1 .4 0-.3 .3 .3 .1-.4 .2 .4 .1-.4 .2 .4 .1-.3 .2 .3 0-.4 .3 .4 0-.4 .3 .4 .2-.4 .1 .4 .1-.4 .2 .4 0-.3 .3 .3 .2-.4 .1 .4 .2-.4 .1 .4 0-.3 .3 .3 .2-.4 .1 0 0 .4 .3 0 0-.4 .3 .4 .1-.4 .2 .4 .1-.4 .2 .4 .2-.4 .1 .4 0-.3 .3-.1 0 .4 .3 0 .2-.4 .1 .4 0-.4 .3 .4 .1-.4 .2 .4 .2-.4 .1 .4 .1-.3 .2 .3 .2-.4 .1 .4 .2-.4 .1 .4 .1-.4 .2 .4 .2-.3 .1 .3 .2-.3 .1 .3 .2-.4 .1 .4 .2-.4 .1 .4 0-.2 .3 .2 .2-.1 .1 .1 0-.3 .3 .3 0-.3 .3 .3 .2-.4 .1 .4 0-.3 .3 .3 .1-.4 .2 .4 .1-.4 .2 0 0 .4 .3 0 0-.4 .3 .4 .1-.4 .2 .4 .2-.4 .1 .4 .2-.4 .1 .4 .1-.4 .2 .4 .1-.4 .2 .4 0-.2 .3 .2 0-.3 .3 .3 .1-.4 .2 .4 0-.3 .3 .3 .2-.4 .1 .4 0-.4 .3 .4 .2-.2 .1 .2 .2-.4 .1 .4 0-.4 .3 .4 .1-.4 .2 .4 .2-.3 .1 .3 .1-.4 .2 .4 0-.4 .3 .4 .1-.4 .2 .4 0-.4 .3 .4 0-.4 .3 .4 .2-.4 .1 .4 0-.4 .3 .4 0-.3 .3 .3 .2-.4 .1 .4 .1-.4 .2 .4 .2-.4 .1 .4 .2-.4 .1 .4 .1-.2 .2 .2 .2-.4 .1 0 0 .4 .3 0 .2-.4 .1 .4 0-.3 .3 .3 .2-.4 .1 .4 .2-.4 .1 .4 0-.3 .3 .3 .2-.3 .1 .3 .1-.4 .2 .4 .1-.3 .2 .3 .1-.3 .2 .3 .2-.4 .1 .4 .1-.2 .2 .2 0-.2 .3 .2 0-.3 .3 .3 0-.4 .3 .4 0-.4 .3 .4 0-.4 .3 .4 0-.3 .3 .3 .2-.4 .1 .4 0-.1 .3 .1 0-.4 .3 .4 .2-.4 .1 .4 .1-.4 .2 .4 0-.4 .3 .4 .2-.1 .1 .1 .1-.4 .2 .4 .1-.4 .2 .4 .1-.4 .2 .4 0-.4 .3 .4 .2-.4 .1 .4 .1-.2 .2 .2 .2-.4 .1 .4 .1-.4 .2 0 0 .4 .3-.4 0 .4 .3 0 0-.4 .3 0 0 .4 .3 0 0-.3 .3 .3 .1-.3 .2 .3 .1-.4 .2 .4 0-.4 .3 .4 0-.4 .3 .4 .2-.4 .1 .4 0-19.5 .3 19.5 .1-.4 .2 .4 .2-.3 .1 .3 .2-.4 .1-38.7 0 39.1 .3 0 .1-.4 .2 .4 0-31.3 .3 31.3 .1-.4 .1 .4 .2-.2 .2 .2 .2-.2 .1 .2 0-.3 .3 .3 .1-.4 .2 .4 .1-.4 .2 .4 .1-.4 .2 .4 .1-.4 .2 .4 .2-.4 .1-21.1 0 21.5 .3 0 .2-.4 .1 .4 0-.4 .3 .4 .2-.3 .1 .3 .2-.4 .1 .4 .1-.4 .2 .4 .1-.4 .2 .4 .2-17.6 .1 17.6 .2-.3 .1 .3 .2-.4 .1 .4 0-.4 .3 .4 .2-.4 .1 .4 .2-.4 .1 .4 .1-.4 .2 0 0 .4 .3-.4 0 .4 .3 0 .1-.3 .2 .3 .2-.4 .1 .4 0-.4 .3 .4 .2-25.8 .1 25.8 0-.4 .3 .4 .1-.4 .2 .4 0-.4 .3 .4 .1-.4 .2 .4 .9 0"/>
</g>
<rect x="153.1" y="228.9" width="115.1" height="51.6" fill="none" stroke="#000" stroke-width="0.600"/>
<path d="M158.33 280.5v1.72M182.22 280.5v1.72M206.11 280.5v1.72M230 280.5v1.72M253.89 280.5v1.72M153.1 263.6h-1.72M153.1 244.1h-1.72" stroke="#000" stroke-width="0.393"/>
<g class="k" font-size="4.917" text-anchor="middle"><text x="158.33" y="287.68">0</text><text x="182.22" y="287.68">2000</text><text x="206.11" y="287.68">4000</text><text x="230" y="287.68">6000</text><text x="253.89" y="287.68">8000</text></g>
<g class="k" font-size="4.917" text-anchor="end"><text x="149.66" y="265.47">0</text><text x="149.66" y="245.97">1</text></g>
<text x="210.65" y="225.95" font-size="5.900" text-anchor="middle">Cooling Tower Fan Electricity Rate</text>
<g clip-path="url(#c14)" fill="none" stroke-linejoin="round">
<path stroke="#1f80c4" stroke-width="0.350" d="M296.4 259.9l.3-17.4 .1 8.3 .1 16 .1-6.9 .2-9.6 .2 9.6 .2-13.1 .1 19.5 0-19.5 .2 13.1 .3-13.4 .1 9.6 .2-9.7 .1-4.4 .2 24.3 .1-6.4 .2-13.8 .3 12.8 0-12.9 .1 13.9 .1-13.6 .4 .8 0 20.8 .1-1.1 .2-21.2 .3 11.1 0-11.3 .1 14.5 .2-10.2 .1-4.5 .1 21.6 .3-6.9 .1-14.9 .1 14.9 .2-15 .1 21.9 .1-22 .2 15.1 .2-18.3 .1-3.6 0 15.5 .3 .1 .1-15.9 .3 6.6 .1 15.6 .1 0 .2-15.8 .1 .7 .1 15.1 .2 0 .1-18.1 .2 18.1 .2-9.8 .2-3.1 .1 20 .1-8.1 .2-21.5 .2 22.5 .1-16.6 .2 16.1 0-16.3 .2 16.8 .2-16.9 .1 0 .1 8.7 .1-8.6 .2 16.8 .3 0 .1-11.2 .1-7.8 .2 19 .1 0 .1-14.1 .3-2.2 .1 16.3 .1 0 0-11.3 .4 18.8 0-23.5 .1-.3 .1 16.3 .3 6.1 .1-17.5 .2 11.4 .2-13.3 .1 21.9 .1-24.1 .2 15.5 .1-14.3 .1 14.3 .2-18.2 .2 24.3 .2-21.3 0 .1 .3 13.1 .1-13 .1 22.2 .1-7.2 .2-13.2 .3 19.3 .1-20.8 0 1 .2 13.7 .2 0 .2-14.5 .2 .1 0 14.4 .2-13.2 .1 20.5 .3-.4 0-21 .1 0 .1 8.4 .3 13.7 .2-21.9 .1 12.8 0-12.7 .3 21.4 .1-21.3 .2 10.3 .1-14.9 .2 4.8 .1 20.1 .1-6.6 .3-12.4 .1 1.1 .1 20 .1-22.2 .1 13.5 .2-12.9 .3 12.9 .2-12.6 .1 21.1 .1-10.6 .1-10.5 .2 12.6 .1-10.6 .1 17.6 .1-19.4 .3 20.3 .2-21.4 0 1.4 .3 2.6 .1-2.4 .1 9.9 .3-9.7 0 19 .2-19 0 18.3 .3-15.3 .2 15.3 0 2.1 .3-20 .1 11.3 .2-11.2 0 .1 .1 18.2 .2 1 .3-19 .1-6.6 .2 17 .3-14 0 20.6 .2-16.2 0 10.1 .2 0 .1-17.4 .2 17.4 .1-7.4 .2 7.4 .1-10.1 .2 .1 .1 18.4 .2-18.3 0 8.7 .3 8.7 .1-17.2 .1 9.7 .3-9 .1 1 .1 7 .1 1 .3-7 .1-.9 .2 16.2 0-15.8 .3 16 .1-2.1 .1-17.2 .2 2 .2 8.4 .1 .4 .2-7.3 0 6 .2-9.9 .2 2.9 .1 15.4 .2-15.3 .1 8.2 .2 7.6 0-19.1 .3 3.8 0 16.2 .3-8.5 .2-7.3 .1 .1 .2 5.5 .1-5.2 .1 6.9 .3-6.5 .1 5.2 .1-5.1 .2 7.8 .2-6.2 0 12.4 .3 .8 .1-17.8 .1 4.5 .2 7.5 .1 .2 .2-12.7 .1 12.7 .1-7.7 .2 8.5 .2-6.5 .1-1.5 .2 8.4 .2 .6 .1-7.8 .2 .6 .1 7.8 .1 .2 .1-8 .2 .4 0 4.1 .4 4.6 .1-7.1 .2 .8 .1 6.7 0-6.3 .2 6.8 .2-5.1 .2 6.2 .2 .4 .1-4.8 .1 4.4 .1-4.6 .1 0 .3 4 .1 1.4 0-5.4 .2 0 .3 4.7 0 .7 .1-5.4 .2 0 .2 5.4 .2-.8 .2-4.6 .1 0 .1 5 .3-4.7 0 5.1 .2 0 .1-5.4 .2 5.4 .2-5.4 .2 5.2 .3 .2 0-4.8 .3 4 0-4.6 .3 5.4 0-4.7 .2 4.7 .1-5.4 .2 3.4 .1-3.4 .2 0 .2 4 .1-3.5 .2 4.5 .1 .4 .1-5.4 .1 4.6 .1-4.6 .3 4.6 0-4.6 .3 0 .2 3.7 .1-3.7 .1 5.4 .2 0 .2-2.6 .1 2.6 .2-4.5 0 4.5 .3-4.2 .1 2.2 0-3.4 .2 0 .2 5.3 .2-5.3 0 4.2 .2-4.2 .2 3.7 .1 1.5 .3-5.2 .1 0 .1 4.2 .2 1.2 .1-5.4 .3 5.4 0-5.4 .2 4.8 .1-4.8 .1 0 .2 5.4 .1-5.4 .2 5.4 .3-4.7 .1 4.7 .1-.2 .1-5.2 .1 .3 .1 5.1 .2-5.4 .2 5.4 .2 0 0-4.3 .3 4.3 .1-3 .2-2.4 .1 5.4 .2-5.4 .1 7 .2-3.4 .2-3.6 .1 .3 0 4.8 .3 .3 .1-5.4 .1 5.4 .2-5.2 .2 5 .2-5.2 .1 0 .2 8.7 .2-1.9 .1-6.8 .2 9.1 .1-9.1 .1 5.4 .1-3.5 .2 3.5 .2-3.4 .2-2 .1 9.2 0-3.8 .3-4.1 .2-1.3 .1 5.9 .2-5.9 .1 5.4 .1 0 0-5.4 .3 .3 .2 12.1 .1-7 0-4.6 .3 4.6 0-3.6 .3-1.8 .2 10.6 0-6.1 .1-4.5 .2 4.7 .2-4.7 .2 8.3 .1-8.2 .2 12.7 .2-12.3 .1 .4 0 4.5 .3 0 .2-5.4 .1 5.4 .1-3.7 .1 6.9 .2-8.6 .1 5.4 .2-4.5 .3 4.5 .1-5.4 .1 0 .2 5.7 .1-5.5 .1 7.1 .3 2.8 0-8.2 .3 11.1 .1-12.1 .1 4.5 .2-4.8 0 4.8 .3-5.4 .1 5.4 .4-5.4 .1 7.4 0-2 .3-4.9 .1 4.9 .1-5.3 .1-.1 .2 5.2 .2 2.5 0-7.7 .3 0 .2 4.1 .1-3.9 .2 10.7 .1-10.2 .1 11.3 .3-12 .1 9.4 .1-4 0-4.7 .3 4.7 .1-5.4 .1 0 .1 8.5 .2-8.5 .1 5.4 .3-5.4 .1 5.4 .3-5.4 .1 5.2 0-2.5 .1 2.7 .3-5 .2 10.4 .2-8.9 0 3.5 .3 2.2 .1-7.4 .1 10.8 0-11 .2 0 .3 8.5 .1-8.5 .2 5 .1-2.8 0 5.4 .3-2.2 .1-4.2 .1 4.2 .1-4.9 .2 4.9 .3-5.4 .2 5.3 0-4.3 .1 4.4 .3-4.3 0 4.3 .2-5.4 .1 0 .2 5.4 .2-5.4 .2 4.6 .1-.2 .1-4.4 .2 0 0 8.4 .2-8.4 .1 5.4 .3-5.4 .1 8.7 .2-3.3 .2-4.5 .1 4.5 .2-5.4 .3 4.7 .1-4.7 .2 6.8 .2-2.5 .1-4.3 .1 5.6 .2-5.4 .1 .7 0 4.5 .3 0 .2-4.4 .1 10.2 .1-9.6 .1-1.6 .2 5.4 .2-5.4 .1 11 .2-10.8 .2 5.2 .2-5.4 .2 5.4 .2-4.5 .1 4.5 .2-5.2 .1-.2 .2 2.2 .2-2.2 .1 5.4 .2-4.1 .2-.7 .2 4.8 .2 0 0-5 .2 5 .2-5.4 .1 0 .2 3.8 .1 1.6 .1-5.4 .1 0 .3 5.4 .2-5.4 .1 5.2 .2 .2 .1-5.4 .1 0 .1 5.4 .1 0 .1-5.4 .3 0 .2 5.1 .1-5.1 0 4 .3 1.1 .2-5.2 .1-.1 0 5.4 .3-.5 .2-5.6 .3-.4 0 5.4 .1-.1 .2-5.8 .2 5 .1-5.4 .1 3.1 .2-3.5 .2-.2 0 5.4 .1-.2 .3-4.5 .1-.3 0 4.3 .3-.3 .2-5.8 .1 5.2 .1-4.8 .3-1.1 .1 8.8 0-3.7 .1-5.4 .2 5 .3-4.9 .2 4 .1-4.9 .1-7 .1 16.2 .2-5.3 .1-4.4 .3 3.7 .1-4.7 .1-.2 .1 9.9 .2-6.4 .1-8.7 .2 9 .1-6.8 .2 6.8 .2-5.2 0-4.8 .2 18 .1-8 .3-6.1 .2 4 .1-4.4 .1-1.1 .1 15.2 .2-14.6 0 7 .4 7.3 .1-16.8 .1 9.5 .2-5.1 .1-3 .1 14.9 .2-6.8 0-7.3 .5 13.9 0-15.9 .1 17.4 .1-17.5 .2-.2 .1 9.6 .2-11.7 .1 20.4 .2-16 0 15.4 .3-16.7 .1 8.6 .3 0 .1-10.4 .1 18.1 .1-20.5 .2 12.2 .1-10.1 .2 6.5 .2-6.8 .1 1.3 0 9.7 .3 0 .2-11.3 .3 10.5 0-11.9 .1 12.7 0-11.6 .3 11.6 0-11.8 .4-2.7 .1 14.5 .1-12.1 0 11.6 .3 .5 .2-12.4 .1 12.4 .2-15 .1 22.9 .2-20.7 .1-3.4 .1 14.3 .3-11.2 0 13.1 .1-10.5 .2 17.1 .2-6.6 .2-8.1 .1-4.6 .2 21.4 0-23.5 .1 14.8 .4-12.5 .1 20.4 .1-21.3 0 13.4 .2-8.1 .2 15.6 .4 1.2 0-22.6 .1 .8 0 21 .3-10.4 .2-11.5 .1 20.4 .2-20.5 .1 0 .2 20.2 .1-20.2 .1 21.6 .2-7.5 .2-16.6 .1 24.3 .1-17.7 .3-4.3 .1 14.3 .1 0 .1-12.5 .2 12.5 0-10.2 .3-1.9 .1 12.1 .2-.1 .2-12.9 .3-2.5 0 15.5 .1 0 .1-10.2 .2-1.2 .1 18.4 .2-21.7 0 14.7 .3-13.7 0 13.7"/>
<path stroke="#8f7a7a" stroke-width="0.300" d="M296.4 270l.1-13 .2 13 .1-11.7 .2 11.7 .3 0 .1-11.7 .2 11.7 .1-12.1 .2 12.1 0-11.7 .3-.5 .2 12.2 .3 0 .1-12.3 .2 12.3 .1-13.2 .1 13.2 .2-13.3 .1 13.3 .2 0 .3-11.7 .1 11.7 .2 0 .2-12 .1 0 .1 12 .3 0 .1-12.8 .1 0 0 12.8 .3 0 .2-13.1 .1 13.1 1.8 0 .1-13 .2 13 .3 0 .1-12 .2 12 .3-12.4 .2 12.4 .3 0 .1-13.1 .1 13.1 .2-11.7 .1 11.7 .2 0 .3-11.7 .1 11.7 .1-13 .1 0 .1 13 .5 0 .2-12.1 .2 12.1 .1-12.5 .1 12.5 .2-12.9 .1 12.9 .3 0 .2-12.4 .1 12.4 .1-12.3 .2 12.3 .3 0 .1-12.9 .2 12.9 .1-13.1 .2 13.1 .3 0 .1-12.2 .2 12.2 .1-12.3 .2 12.3 0-12.9 .3 12.9 .3-12.7 .2 12.7 .1-12.7 .2 12.7 .1-12.5 .1 12.5 .2 0 .3-11.9 .1 11.9 .5 0 .2-13.4 .1 0 .1 13.4 .5 0 .2-13 .1 13 .3 0 .2-12.6 .1 12.6 .3 0 .1-12.1 .2 12.1 .3 0 .1-12.5 .2 12.5 .6 0 .1-12.5 .2 12.5 .6 0 .3-11.8 .2 11.8 .1-13.2 .1 13.2 .3 0 .2-12.4 .1 12.4 .2-13.2 .1 13.2 .5 0 .2-12.1 .2 12.1 .1-12.7 .1 0 .1 12.7 .2 0 .2-13.2 .1 13.2 .6 0 .1-13.1 .2 13.1 .1-13 .2 13 .3 0 .1-12.3 .2 12.3 .6 0 .1-13.1 .2 13.1 0-12 .3-.6 .2 12.6 .3 0 .1-12.2 .2 12.2 .4 0 .3-12.1 .1 12.1 .2 0 .2-13.3 .1 0 .1 13.3 .2-13.2 .1 13.2 .2 0 .2-11.7 .1 11.7 .2-12.8 .1 12.8 .3 0 .2-11.8 .1 11.8 .6 0 .1-12.6 .2 12.6 .1-13.1 .2 13.1 .3 0 .1-12.9 .2 12.9 .1-12.9M381.3 270l.3 0 .1-13 .2 13 .3 0 0-12.6 .3 12.6 .9 0 0-12.1 .3 12.1 .3-12.7 .1 12.7 .1-12.7 .1 0 .1 12.7 .2 0 .2-12.2 .1 0 .1 12.2 .5 0 .2-11.8 .1 11.8 .2-12.6 .1 0 0 12.6 .3 0 .1-12.2 .2 12.2 .1-12.9 .2 12.9 .1-11.7 .2 11.7 .1-12 .2 12 .3 0 .1-12.3 .2 12.3 .6 0 0-12.3 .3 12.3 0-12.5 .3 12.5 0-11.9 .3 11.9 0-12.5 .3 12.5 .9 0 .2-12.6 .1 0 .1 12.6 .2-11.7 0 11.7 .9 0 .2-12.4 .1 12.4 .1-13.1 .2 0 0 13.1 .3 0 .1-12 .2 12 .1-12.7 .2 12.7 .1-13.1 .2 13.1 .3 0 .1-13.2 .2 13.2 0-12.8 .3 12.8 0-12 .3 12 0-12 .3 12 0-12.3 .3 12.3 0-11.9 .3 11.9 0-12.7 .3 12.7 0-13.3 .3 13.3 .2-11.8 .2 11.8 .1-11.9 .1 0 .1 11.9 .2 0 .2-12.6 .1 12.6 .2-12.7 .1 12.7 .2-13.2 .1 0 0 13.2 1.2 0 .1-11.9 .2 11.9 .3 0 .1-12 .2 12 .1-13 .2 13"/>
<path stroke="#b06a6a" stroke-width="0.250" d="M296.4 269.8l.9 0 .1-10.9 .2 10.9 .1-10.8 .2 10.8 .6 0 .3-9.6 .1 9.6 .2-10.5 .1 10.5 .2 0 .3-11.8 .1 11.8 .2-11.7 .1 11.7 1.7 0 .2-10.2 .1 10.2 1.2 0 .1-9.4 .2 9.4 1.5 0 .3-10.9 .1 10.9 1.4 0 .2-10.9 .1 0 .1 10.9 .5 0 .2-9.9 .1 9.9 .6 0 .2-10.4 .1 10.4 .1-11.3 .2 11.3 .3 0 .1-10.6 .2 10.6 1.2 0 0-11.2 .3 .3 .2 10.9 1 0 .3-9.6 .1 9.6 .2 0 .2-10.1 .1 0 .1 10.1 .2-9.7 0 9.7 1.5 0 .1-9.6 .2 9.6 .1-9.8 .2 9.8 .1-10.3 .2 10.3 1.2 0 .1-10.9 .4 10.9 .1-10.8 .1 10.8 .5 0 .3-10.3 .1 10.3 .2-10.4 .1 10.4 .5 0 .2-11.2 .1 0 .1 11.2 .8 0 .2-11.5 .1 11.5 .2-9.6 .1 9.6 1.2 0 .1-10.9 .2 10.9 .3 0 .1-11.7 .2 11.7 .9 0 .3-10.8 .1 10.8 .2-12 .1 12 .2 0 .3-10.2 .1 10.2 1.1 0 .2-11.7 .1 11.7 .3 0 .2-10.7 .1 10.7 1.2 0 .1-11.7 .2 11.7 .3 0 .1-10.7M381.3 269.8l.1-11.8 .2 11.8 .6 0 0-10.4 .3 10.4 .6 0 0-11.7 .3 11.7 .3 0 .3-11.9 .1 11.9 2 0 .2-9.4 .1 0 0 9.4 .9 0 .1-11.1 .2 11.1 1.8 0 0-10.3 .3 10.3 .3 0 0-9.9 .3 9.9 .6 0 .2-11.4 .1 0 0 11.4 .6 0 .2-10.7 .1 0 0 10.7 .3-9.3 0 9.3 .6 0 .1-10.7 .2 10.7 .3 0 .1-10.9 .2 10.9 .1-10.1 .2 10.1 .9 0 0-9.7 .3 9.7 0-9.9 .3 9.9 0-9.9 .3 9.9 .9 0 .3-10 .1 10 .8 0 .2-11.8 .1 0 0 11.8 .6 0 .2-9.8 .1 0 0 9.8 .3 0 .1-9.7 .2 9.7 1.2 0"/>
<path stroke="#e03838" stroke-width="0.450" d="M296.4 269.6l.3 .8 .3 0 0-.9 .1 .2 0 1.1 .3-.3 .1-.8 .2 0 .2 .7 .3-.8 0 .8 .2-.7 0 .8 .1-.1 .2-.8 .2 .1 0 .7 .4 0 .1-.8 .1 .9 .1-.9 .3 .1 0 1 .3-1.2 .1 1.1 .2-.9 .1 .7 .1-.9 .1 1.1 .2 0 .2-1.1 .1 .1 .2 .7 .2 .1 .1-.8 .1 0 0 .9 .3-1 .1 .9 .3-.8 .1 .8 .2-.9 0 1 .3-.2 .1-.7 .2 .9 0-1.1 .2 .9 0-.8 .3 1 .1-1.2 .2 .3 .1 .9 .2 0 .1-.8 .3 .7 0-1 .3 .1 .1 1 .3 0 0-.9 .1-.2 0 1 .2 .2 .1-.9 .3 .8 .2-.9 .3 .7 0-.7 .1 .2 .2 .6 .1-.1 .1-.9 .3 .3 .1 .7 .1 .1 .1-.9 .2 0 0 .8 .4-.7 .1 .7 .2 .1 .1-.8 .1 .8 .1-1 .2 .1 .2 .9 .1-.1 .1-.9 .2 .1 .2 .8 0 .1 .2-.9 .3 .7 .1-.5 .1-.2 .2 .7 .2-.7 .1 .8 0-.9 .2 1.3 .2-1.1 0 .6 .4 .3 0-.9 .3-.1 0 1.1 .3-1 .1 .7 .2-.8 .1 .7 0 .5 .2-1 .2-.3 .1 .9 .2 .1 .2-1 .1 0 .1 1 .2-.7 .1 .6 .3 .2 .1-.9 .2 .6 .1-.6 .1 .7 .1-.8 .2-.1 .2 .9 0 .1 .3-.9 .1 .8 .1-.9 .3 .9 .1-.9 .1 1 .1-.7 .2 .9 .2-1 .1 .6 .2-.7 .2-.1 .1 .9 .1-.8 .2 .7 .1 .1 .2-.7 .1 0 .2 .8 .1-1 .2 .9 .2-1 .1 1.1 .1 0 .1-1 .2 .1 .1 .7 .2-.8 .1 .8 .2 .3 .1-.9 .3-.1 .1 .9 .1-1.1 .2 .9 .2-.6 0 .7 .2 .1 0-.8 .3 .8 .2-.8 .1-.1 .2 1.1 .2-.3 0-.9 .2 .8 .1-.6 .2 .8 .2-1 .2 .8 0-.6 .1 .8 .1-.8 .3-.1 .1 .9 .4 0 0-.8 .2 1 .2-1.1 .2 1 .2 0 .1-.9 .2 0 .1 .8 0-.8 .3 .8 .1-1 .2 1 .1-.1 0-.7 .4 0 .1 .8 .1-.8 .1 .9 .1-.9 .2 .7 .2-1.1 0 1.3 .4-1 .1 .9 .1 .1 .1-.8 .3 .7 0-.9 .2 .8 .2-.8 .1 .2 .2 .8 .1-.9 .2 1.1 .1-1 .1 .8M381.5 269.6l0 1 .1-.9 .1 .8 .4-.1 0-.6 .1-.2 .1 1.1 .2-.3 .1-.8 .2 0 .1 .9 .2-.1 .1-.7 .2-.2 .1 1 .3-1 .1 .9 .2 .1 0-.9 .2 .1 .2 .7 .1-.7 .2 .7 .1 0 0-.8 .3 0 .2 .6 .2 .2 .1-.9 .1-.1 .1 1.4 .2-1.4 .2 1 .1-.7 .2 .6 .1-.8 .2 .8 .1-.7 .1 1 .2-.1 .1-.8 .2-.1 .1 .8 .3-.7 .1 .5 .1 .2 0-.6 .4-.2 .1 .9 .2-.1 .1-.7 .2-.2 .1 1 .2 0 0-1.1 .2 .5 0 .4 .3 .1 .1-.9 .4 1 0-.7 .2-.2 0 .9 .2-.9 .1 .8 .3-.8 0 .9 .2-.9 0 .7 .4-.7 .1 1 .3-.1 0-.8 .1 .7 .2-.8 .3 .8 0-1 .1 .3 .2 .8 .2-.8 0 .7 .2-.6 0 .6 .4-.6 0 .6 .2-.8 .1 .7 .2-.8 .2 .8 .1 .1 .2-.8 .1 .8 .1-1.1 .3 .3 .1 .9 .2-.1 .1-.7 .1 1.1 .1-.9 .2 .6 .1-.8 .2 .6 0-.7 .5 1 0-.9 .1 .7 .2-.8 .1 1 .2-.9 .1 0 .2 .9 .2 0 0-1 .4 1 0-1.1 .1 1 .2-.7 .1 .5 .2-.8 .1 .2 .1 .7 .2-.8 .2 1.1 .2-.4 .1-.8 .1 .2 .1 .9 .2-.2 .2-.8 .3 1.1 0-.9 .1 .1"/>
<path stroke="#a08090" stroke-width="0.300" d="M329.9 262.4l.6 0 .1-8.8 .2 8.8 .1-8.8 .2 8.8 .1-8.8 .2 8.8 .1-8.8 .2 8.8 .6 0 0-8.8 .3 8.8 0-8.8 .3 8.8 0-8.8 .3 8.8 0-8.8 .3 8.8 0-8.8 .3 0 .1 8.8 .2 0 .3-8.8 .1 8.8 .2-8.8 .1 8.8 .2-8.8 .1 8.8 .2-8.8 .1 8.8 .2-8.8 0 8.8 .3-8.8 0 8.8 .3-8.8 0 8.8 .3-8.8 0 8.8 .3-8.8 0 8.8 .3 0 .1-8.8 .2 8.8 .1-8.8 .2 8.8 .3 0 .1-8.8 .2 8.8 .1-8.8 .2 8.8 .3 0 0-8.8 .3 8.8 0-8.8 .3 8.8 .6 0 0-8.8 .3 0 .1 8.8 .2-8.8 .1 8.8 .2 0 .2-8.8 .1 0 .1 8.8 .2-8.8 .1 8.8 .2-8.8 .1 8.8 .2-8.8 0 8.8 .3-8.8 0 8.8 .3-8.8 0 8.8 .3-8.8 0 8.8 .3 0 .1-8.8 .2 8.8 .1-8.8 .2 8.8 1.5 0 0-8.8 .3 8.8 0-8.8 .3 8.8 .3 0 .3-8.8 .1 8.8 .2-8.8 .1 8.8 .2 0 .2-8.8 .1 0 .1 8.8 .2-8.8 .1 8.8 .2-8.8 .1 8.8 .2-8.8 0 8.8 .3-8.8 0 8.8 .6 0 .2-8.8 .1 0 0 8.8 .3 0 .1-8.8 .2 8.8 .1-8.8 .2 8.8 .1-8.8 .2 8.8 .1-8.8 .2 8.8 .1-8.8 .2 8.8 .3 0 0-8.8 .3 8.8 0-8.8 .3 8.8 .6 0 0-8.8 .3 0 .1 8.8 .2 0 .3-8.8 .1 8.8 .2-8.8 .1 8.8 .2-8.8 .1 8.8 .2-8.8 .1 8.8 .2-8.8 0 8.8 .3-8.8 0 8.8 .3-8.8 0 8.8 .3-8.8 0 8.8 .3 0 .1-8.8 .2 8.8 .3 0 .1-8.8 .2 8.8 .1-8.8 .2 8.8 .1-8.8 .2 8.8 .1-8.8 .2 8.8 .3 0 0-8.8 .3 8.8 0-8.8 .3 8.8 0-8.8 .3 8.8 .3 0 .3-8.8 .1 8.8 .2-8.8 .1 8.8 1.1 0 .2-8.8 .1 0 0 8.8 .3-8.8 0 8.8 .3-8.8 0 8.8 .3 0 .1-8.8 .2 8.8 .1-8.8 .2 8.8 .1-8.8 .2 8.8 .1-8.8 .2 8.8 .3 0 .1-8.8 .2 8.8 .6 0 0-8.8 .3 8.8 0-8.8 .3 8.8 0-8.8 .3 8.8 0-8.8 .3 0 .1 8.8 .2-8.8 .1 8.8 .2 0 .2-8.8 .1 0 .1 8.8 .2-8.8 .1 8.8 .2-8.8 .1 8.8 .2-8.8 0 8.8 .3-8.8 0 8.8 .6 0 .1-8.8 .2 8.8 .1-8.8 .2 8.8 .3 0 .1-8.8 .2 8.8 .1-8.8 .2 8.8 .3 0 .1-8.8 .2 8.8 .6 0 0-8.8 .3 8.8 .3 0 0-8.8 .3 0 .1 8.8 .2-8.8 .1 8.8 .2-8.8 .1 8.8 .2 0 .2-8.8 .1 0 .1 8.8 .2-8.8 .1 8.8 .2 0 .2-8.8 .1 0 0 8.8 .3 0 .2-8.8 .1 0 0 8.8 .3-8.8 0 8.8 .3 0 .1-8.8 .2 8.8 .1-8.8 .2 8.8 .1-8.8 .2 8.8 .1-8.8 .2 8.8 .1-8.8 .2 8.8 .1-8.8 .2 8.8 0-8.8 .3 8.8 0-8.8 .3 8.8 0-8.8 .3 8.8 0-8.8 .3 8.8 .3-8.8 .1 8.8 .2-8.8 .1 8.8 .2 0 .2-8.8 .1 0 .1 8.8 .2-8.8 .1 8.8 .2-8.8 .1 8.8 .2-8.8 0 8.8 .3 0"/>
<path stroke="#e070c0" stroke-width="0.350" opacity="0.8" d="M329.9 262.5l0 1.2 .4-.1 0-1.2 .3-.1 .1 2 .2-2.2 0 1.7 .2-.5 .2-.8 .1 .1 .1 1 .2-.1 .1-1 .3 .9 .1-1 .1-.2 .1 1.4 .2 0 .1-1.1 .4-.2 .1 1.2 .1-.1 .1-1 .2-.2 0 1.3 .3-.1 .1-1 .2 0 .2 1.1 .1-.3 .1-.9 .3 1 0-.8 .3-.1 .1 1.2 .1-.1 0-1.2 .3 .1 .1 1.1 .2-1.3 0 1.3 .2-.1 .2-1 .2 1 .2-1.2 0 .3 .1 1.1 .3-1.3 .1 1.3 .2 .3 0-1.3 .2-.3 .2 1.1 .2-.1 .2-1.3 0 .3 .1 1.2 .4-1.1 0 1 .2-.9 .1 1 .1-.9 .2 .8 .1-1.1 .1 1.2 .2-.9 .2 .8 .1-.1 .2-1.1 .3 .3 .1 .8 .2-1 .1 1.1 .2-1.2 0 1.2 .2-1.5 .2 1.4 0 .2 .2-.7 .2-.5 0 1.3 .2-1.2 .1 1 .2-.8 .1 1.1 .3-.2 0-1.1 .2 0 .1 1.2 .2-.3 .3-1 0 1.2 .1-.9 .2 0 .1 1.1 .2-1.3 .2 1 .2 .3 .1-1.3 .2-.1 .2 1.2 .1-.1 0-.9 .2 0 .3 .9 0-.8 .2 .8 .2 0 0-.9 .2-.3 .1 1.3 .3-1 .1 1 .2 .1 0-1.2 .5-.1 0 1.1 0-.9 .2 .8 .1 .1 .1-.9 .2-.1 .2 1.2 .2-1.2 .1 1 .1-.1 .1-.9 .2 1.1 .2-.9 .1-.6 .2 1.6 .2-1.4 .1 1.3 .1-1.4 .1 1.4 .4 0 .1-1.1 .2 .2 0 .7 .2 .1 .1-1 .2-.2 0 1.3 .2-1.1 .2 1.2 .1-1.2 .1 .9 .2-.9 .1 1 .2-1.2 .1 1.3 .4-.2 .1-.8 .2 1 0-.9 .2 1 .1-1.2 .2 1.2 0-1.5 .4 1.4 0-1 .1 1.1 .1-1.3 .2 1.2 .2-1.2 .1 1.3 0-1 .4-.3 0 1.2 .3 0 .2-1.1 .1 1 .3-1.1 0 1.1 .4-.9 .1 .9 .1 0 .1-1 .2 1.2 .1-1.3 .3 0 0 1 .1-1 0 1.1 .4-.9 .1 1.2 .3-1.6 0 1.3 .2-.1 .2-.7 .1 .8 0-1.1 .4 1.4 0-1.4 .1 0 0 .9 .3-1.2 .3 1.8 .1-.2 0-1.4 .2 .1 0 .9 .4-.9 0 1.4 .3-.1 .2-1.2 0-.1 .3 1.2 .1-1.3 .1 1.2 .2 0 0-1.1 .3 1 0-1 .2 .9 .3-.7 .2 1 .1 0 .1-1.1 .3 1 0-1.1 .2 1.3 .2-1.1 .2-.3 0 1.3 .2 0 .2-1 .3 1.1 0-1.1 .1 0 .2 1.1 .2-1 0 .8 .3-.9 .1 1.1 .3 0 .1-1.3 0 .3 .1 .9 .2-1 .1 .9 .3 0 .1-1 .1 1.2 .1-1.4 .4 .3 .1 .7 .2 .2 0-1 .2 .1 .1 .9 .1 .2 .2-1.1 .2 .9 0-1 .3 .1 0 1 .4-.1 0-1 .3 .2 0 1.1 .2-1.4 .1 1.2 .1-1 .1 1 .2-.2 .1-.9 .2 1 .1-.9 .3 1 0-1.2 .2 1 .1-.9 .2-.1 .2 1.1 .3-1 .1 1 .2 .1 0-1.4 .1 1.3 .3-.9 0 .9 0-1.1 .4 .1 .1 1.2 .1-1.3 .1 1.1 .3-1.2 0 1.1 .2-.9 .2 1.1 .1 0 .2-1.2 .2 1.3 .1-1.2 .3 .9 .1-.9 .1 0 0 1.1 .2-1.1 .2 .9 .3-.9 0 .9 .1 .2 .1-1.2 .4 1.1 0-.9 .2 .9 .1-.8 .2-.4 .1 1.2 .1 0 .2-1 .1 0 .2 1.1 .1-1 .1 .9 .2-1 .2 1 .1-.1 .1-.8 .3-.2 0 1 .3-.8 .1 1 .2-.1 .1-.7 .3-.1 0 1.2 .1-1.3 .2 .8 .3-1 0 1.2 .3 .1 0-1.1 .2-.1 .2 1.1 0 .2 .2-1.3 .1 .8 0-.6"/>
<path stroke="#f8951f" stroke-width="0.300" d="M329.9 256.1l.6 0 .2-3.7 .1 3.7 .6 0 .2-5.4 .1 5.4 .9 0 .1-4.6 .2 4.6 .1-3.2 .2 3.2 .6 0 0-7.2 .3 7.2 .3 0 0-5.6 .3 5.6 .9 0 .3-8.2 0 8.2 .3 0 .2-7.5 .1 7.5 2.4 0 .1-3.6 .2 3.6 .3 0 .1-5.9 .2 5.9 .6 0 0-2.9 .3 2.9 .6 0 .3-11.5 0 11.5 .3 0 .2-11.2 .1 11.2 1.5 0 .2-11.9 .1 11.9 1.2 0 .1-10.1 .2 10.1 .1-6.3 .2 6.3 .3 0 .1-11 .2 11 0-5.3 .3 5.3 0-4.3 .3 4.3 .3 0 0-4 .3-4.8 0 8.8 .3 0 0-14.1 .3 14.1 .3 0 .6-1.1 0 3.9 .1-.1 .2-15.5 .2 11.8 .1 3.7 .2-19.3 .1 19.6 0-.1 .2-5.4 .1 5.3 .1-3.9 .2 .1 .3 4 0-3.7 .1 3.7 .3-.1 0-3.9 .2 4 .2-4 .3 0 0 3.4 .2-2.9 .1 3.5 .1-.1 0-3.8 .4 3.8 0-21.6 .3 17.7 .1 3.8 .1-3.8 .1 3.9 .2-20.2 .3 20 0-3.8 .3 3.7 .1-3.7 .1 4 .2-3.5 .1 3.2 .1-3.2 .1 3.4 .2 .2 .3-15 0 11.2 .3 3.8 .2-16.2 .1 16.1 .1 .1 .1-23.6 .1 23.5 .3-3.9 .1 3.8 .1-23.6 .1 23.6 .2-25.8 .3 25.9 0-25.6 .2 25.7 0-14.1 .3 10.1 0 4 .2-.1 0-4 .3 4.1 .1-22.3 .4 18.3 0 3.7 .2-21.2 .1 21.4 .1 0 0-3.8 .4 3.6 .1-3.8 .1 0 .3 4 0-11.8 .2 11.8 .2-3.7 .1 3.7 .2-3.9 0 3.8 .4-.1 .1-20.6 .1 20.9 .2-3.5 .1 3.3 .1-3.7 .3 3.7 0-17.9 .2 17.8 .2-3.7 .2-11 0 15 .3 0 0-22.1 .2 22.1 .2-4 .1 3.8 0-24.8 .3 25 .1-22.3 .2 17.6 .1 4.7 .1-.2 .1-23.7 .2 20 .2 3.9 .2-4 .1 4 .2-.3 0-3.8 .4 4 0-3.9 .1 .4 0 3.2 .4 .4 .1-3.9 .1-5.8 .1 9.5 .2-3.4 .1 3.6 .2-3 0-4.2 .3 4.2 0-6.4 .3 6.4 0-12.2 .3 12.2 .3-14.3 0 14.3 .9 0 .2-6.6 .1 6.6 .2-13.8 .1 13.8 .3 0 .1-11.5 .2 11.5 .9 0 .1-2.8 .2 2.8 .3 0 .1-3.6 .2 3.6 .3 0 0-3.1 .3 3.1 1.8 0 .2-10.1 .1 10.1 .9 0 .2-1.9 .1 1.9 .2-8.4 .1 8.4 .9 0 .1-5.6 .2 5.6 1.5 0 .1-6.8 .2 6.8 .3 0 .3-5.1 0 5.1"/>
<path stroke="#ec4c5c" stroke-width="0.450" d="M329.9 252.1l.2 1.3 .2-1.1 0 1 .2-1.3 .1 1.4 .3-1.3 .2 1.3 0-1.3 .1 1.6 .3 .1 .1-1.5 .2 0 0 .9 .4-1.1 0 1.4 .2-1.4 .1 1.3 .2-1.2 0 1.2 .2 .1 .3-1.7 0 1.6 .3-1.1 0-.2 0 1.3 .3 .4 .2-1.4 .2-.2 .2 1.2 0-1.2 0 1.4 .4-1.5 .2 1.2 .2 0 .1-1 .1 1.4 .2-1.5 0-.1 0 1.5 .4-.1 .1-1.3 .1 0 .2 1.2 .1-1.5 .1 1.6 .2-1.3 .2 1 .2 .2 .1-1 .1 .9 .1-1.2 .4 0 0 1.5 .2-.2 .1-1 .1 1.2 .2-1.4 .1-.2 .1 1.8 .2-1.5 .1 .8 .3-.9 .2 1.5 .1-1.3 .2 1.1 .2 0 .1-1.5 .1 .2 .1 1.8 .2-1.6 .1 1.1 .1 .2 .2-1.4 .1-.1 .1 1.2 .2-1.4 0 1.6 .5-1.2 0 .8 .2-1.1 .1 1.7 .3-1.6 0 1 .2 .3 .1-1.3 .2 1.3 0-1.3 .2-.2 0 1.3 .3-1.3 .1 1.5 .2-1.4 .2 1.3 .2-1.2 .1 1 .3 .3 .1-1.2 0 1.1 .2-1.1 .1 1 .3-1.1 .1 1.2 0-1.2 .3 1.3 0-1.5 .2 .3 .2 1.1 .1-1.4 .1 1.3 .2-.8 .1 1 .3-1.3 0 1.2 .2 0 .2-1.3 .1 1.3 .1-1.2 .3 1.2 .2-1 0-.4 0 1.5 .4 0 .1-1.7 .1 .5 .3 1.2 0-.2 .2-1.1 .1 1.3 .1-1.4 .4 1.2 .1-1.2 0 1.1 0-1.1 .3 1.3 .1-1 .2 1.1 .1-1.6 .2 1.6 .3-1.3 .1 .1 .1 1.4 .2-.2 .2-1.1 .2 1 0-1.2 .2 0 .2 1.3 .3-1.2 .1 1.4 .1-1.5 .3 1.4 0-1.3 .1 .1 .1 1.1 .2-.1 .1-1.4 .2 .5 .1 1.1 .3 .2 .2-1.6 .1 0 .1 1.1 .1-1.1 .2 1.1 .1 .3 0-1.2 .3 1.1 .1-1.4 .2 .3 .1 .8 .3 .3 0-1.2 .2 0 .3 .9 0 .3 0-1.2 .3 1.3 .2-1 .1-.3 .2 1.6 .2-1.9 .1 1.7 .1-1.5 0 1.2 .5-1.2 0 1.4 .1 0 .1-1.7 .4 .4 .1 1 .1 .3 .1-1.5 .1 .1 .3 1.2 .1-1.2 0 1.3 .3-1.3 .1 1.3 .2-1.2 .1 1.1 .2 0 0-1.2 .3 .2 .1 1.2 .2-1.3 .1 1.1 .1-.2 .1-.9 .3 1.2 .1-1.1 .1-.3 .1 1.3 .3 .1 .1-1.1 .2-.4 .1 1.3 .1 .4 .1-1.7 .2 1.5 .1-1.2 .2 1.2 .2-1.1 .2 .9 .1-1 .2 1.4 .1-1.4 .1-.4 .1 1.8 .3-.4 0-1.1 .2 1.2 .2-1 .2-.5 .2 1.8 0-.4 .1-1.1 .3 0 .1 1.1 .1-.1 .1-.9 .4 0 .1 1.5 .1-.3 .1-1.2 .2-.2 .1 1.1 .2-1 .1 1.3 .3-1.3 0 1.4 .1-1.4 .1 1.1 .3-.9 0 1 .2-.1 0-1.3 .5 .2 .1 1.3 0-1.3 .2 1.3 .2-.3 .1-1.1 .3 .3 0 1.2 .1 0 .1-1.6 .3 .1 .1 1.4 .3 .1 0-1.6 .1 1.4 .2-1.3 .3-.1 0 1.4 .1-1 .1 1.2 .3-1.5 .1 1.3 .1-.1 .2-1 .2-.2 .1 1.4 .2-.1 0-.9 .3 .8 0-1.3 .3 .5 .1 1 .2-1.2 .1 1.2 .3-.1 0-1.2 .3 .2 0 1 .2 .1 .1-1.3 .1 .1 .2 1 .2 .1 .1-1.2 .2 0 .1 1.1 .3-1.2 0 1.2 .1-.9 0 1 .3 .2 0-1.3 .3 .9 .3-.8 .1 1 .1-1.3 .1 .2 .1 1 .2-.9 .2 1.4 .1-1.9 .3 1.6 0-.1 .1-1.2 .4 .2 0 .8 .1-1.2 .1 1.7 .3-.1 0-1.3 .3-.1 0 1.4 .4-1.6 0 1.4 .1-.2 .2-1.3 .2 .3 .1 1.1 .2 .3 .2-1.6 0 .4 .2 .7 .2-.6 .1 1.1 .1-1.3 0 1.2"/>
</g>
<rect x="291.2" y="228.9" width="115.1" height="51.6" fill="none" stroke="#000" stroke-width="0.600"/>
<path d="M296.43 280.5v1.72M320.32 280.5v1.72M344.21 280.5v1.72M368.1 280.5v1.72M391.99 280.5v1.72M291.2 272.5h-1.72M291.2 261.57h-1.72M291.2 250.63h-1.72M291.2 239.7h-1.72" stroke="#000" stroke-width="0.393"/>
<g class="k" font-size="4.917" text-anchor="middle"><text x="296.43" y="287.68">0</text><text x="320.32" y="287.68">2000</text><text x="344.21" y="287.68">4000</text><text x="368.1" y="287.68">6000</text><text x="391.99" y="287.68">8000</text></g>
<g class="k" font-size="4.917" text-anchor="end"><text x="287.76" y="274.37">−2</text><text x="287.76" y="263.44">0</text><text x="287.76" y="252.5">2</text><text x="287.76" y="241.57">4</text></g>
<text x="348.75" y="225.95" font-size="5.900" text-anchor="middle">Pump Electricity Rate</text>
</svg></body></html>
